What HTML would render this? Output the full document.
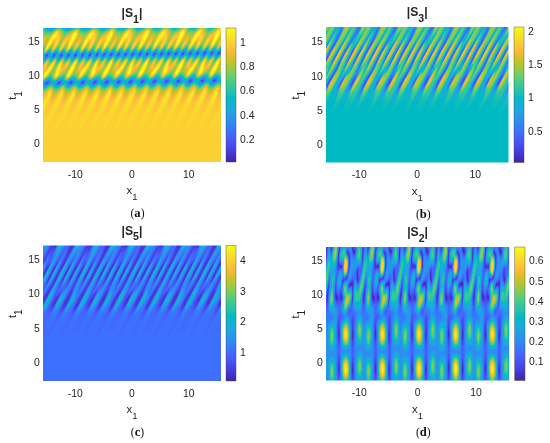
<!DOCTYPE html>
<html><head><meta charset="utf-8"><title>Figure</title>
<style>
html,body{margin:0;padding:0;background:#fff}
svg{display:block}
.t{font-family:"Liberation Sans",sans-serif;fill:#262626}
.s{font-family:"Liberation Serif",serif;fill:#111}
</style></head><body>
<svg width="550" height="443" viewBox="0 0 550 443">
<rect width="550" height="443" fill="#fff"/>
<defs><linearGradient id="pg" x1="0" y1="1" x2="0" y2="0"><stop offset="0.0000" stop-color="#3e26a8"/><stop offset="0.0476" stop-color="#4332cb"/><stop offset="0.0952" stop-color="#4741e5"/><stop offset="0.1429" stop-color="#4852f4"/><stop offset="0.1905" stop-color="#4563fd"/><stop offset="0.2381" stop-color="#3875fe"/><stop offset="0.2857" stop-color="#2e87f7"/><stop offset="0.3333" stop-color="#2797eb"/><stop offset="0.3810" stop-color="#20a5e3"/><stop offset="0.4286" stop-color="#12b1d6"/><stop offset="0.4762" stop-color="#02bac3"/><stop offset="0.5238" stop-color="#24c1ae"/><stop offset="0.5714" stop-color="#37c897"/><stop offset="0.6190" stop-color="#57cc7a"/><stop offset="0.6667" stop-color="#81cc59"/><stop offset="0.7143" stop-color="#abc739"/><stop offset="0.7619" stop-color="#d1bf27"/><stop offset="0.8095" stop-color="#f0ba36"/><stop offset="0.8571" stop-color="#fec338"/><stop offset="0.9048" stop-color="#fad62d"/><stop offset="0.9524" stop-color="#f5e924"/><stop offset="1.0000" stop-color="#f9fb15"/></linearGradient><clipPath id="cpa"><rect x="43" y="28" width="178" height="134"/></clipPath><clipPath id="cpb"><rect x="326" y="27" width="182.5" height="135.5"/></clipPath><clipPath id="cpc"><rect x="43" y="245.5" width="178" height="135.5"/></clipPath><clipPath id="cpd"><rect x="326" y="247" width="183.2" height="133.5"/></clipPath><filter id="bl" x="-2%" y="-2%" width="104%" height="104%"><feGaussianBlur stdDeviation="0.7"/></filter></defs>
<g clip-path="url(#cpa)"><g filter="url(#bl)">
<rect x="41" y="26" width="182" height="138" fill="#fccf30"/>
<g transform="translate(41.5,26)" fill="none" stroke-width="1">
<path stroke="#463cde" d="m70 28v1m7-1v1m7-1v1m72-2v1m7-1v1"/>
<path stroke="#4741e5" d="m5 29v1m22-1v1m7-1v1m7-1v1m0 26v1m7-28v1m8-2v1m7-1v1m28-1v1m10 26v1m5-29v1m7-1v1m0 27v1m7-29v1m7-1v1m15-1v1m7-1v1m21-1v1m3 26v1m4-28v1"/>
<path stroke="#4747eb" d="m5 57v1m1-2v1m4-57v1m2 28v1m6 26v1m1-28v1m1-1v1m9 26v1m1-1v1m4-29v1m15-1v1m4 27v1m2-28v1m10 26v1m12-2v2m12-2v1m9-28v1m1-2v1m6 0v1m1-1v1m7-1v1m7-1v1m5 26v1m2-28v1m7-2v1m1-1v1m2 27v1m12-2v1m12-1v1m17-29v1"/>
<path stroke="#484df0" d="m5 56v1m4-57v1m2-1v1m2 27v2m4 26v2m3-30v1m7-1v1m1-29v1m13 27v1m1 27v1m6-29v1m6 26v2m1-29v1m7 0v1m3 25v1m1-1v1m3-27v1m9 25v1m11 0v1m1-2v1m2-29v1m7 0v1m3 26v1m26-29v1m6 0v1m2 26v1m1-2v1m4-28v2m7 26v1m1-1v1m22-30v1m1 27v1"/>
<path stroke="#4852f4" d="m5 30v1m1-3v2m0 27v1m6-28v1m7-1v1m7-2v1m1-30v1m2-1v1m0 56v1m4-29v1m8 27v1m1-30v1m0 26v1m11-1v1m11 0v1m2-1v1m10-1v1m9-30v1m3 28v1m4-29v1m9 27v1m11-29v1m0 26v1m1-2v1m1-1v2m7-29v1m3 27v1m1-2v1m1-1v1m12-1v1m4-29v1m6 0v2m1-3v1m1 27v1m6-29v1m4 27v2m1-1v1m1-2v1m1-29v1m1-1v1m6-1v1m2 28v1m5-30v1"/>
<path stroke="#4758f8" d="m4 57v1m8-58v1m6 56v1m8-28v1m2 26v1m2-3v1m5-28v1m5 27v1m1-2v1m4-56v1m1-1v1m6 55v1m4-30v1m6 0v1m7-1v1m1-2v1m0 1v1m6-1v1m1-3v1m0 1v1m1-3v1m0 28v1m6-30v1m0 1v1m1-2v1m6 0v1m9 25v2m2-3v1m10 1v1m1-1v1m6-29v1m7 26v1m2-30v1m7-1v1m13 27v1m7-28v2m2-3v1m16 26v1m0 1v1m1-2v1m4-28v1"/>
<path stroke="#465efb" d="m7 56v1m1-57v1m8 56v1m2-3v1m1 0v1m7-57v1m2 27v1m0 27v1m2 0v1m3-28v1m7-2v1m0 27v1m7-58v1m2 26v1m3 29v1m1-1v1m3-29v1m7-30v1m0 26v1m0 1v1m1-30v1m7 26v1m7 0v1m0 25v1m5-26v1m5 25v1m2-2v1m0 1v1m1-30v1m7 1v1m3 24v1m4-26v1m9-3v1m7-2v1m3 29v1m1-1v1m1-29v1m10 25v1m2 0v1m12-30v1m0 26v1m6-26v1m5 24v1m1-27v2m0 24v1m1-26v1m7-1v1m1-2v1m3 25v1m3-26v1"/>
<path stroke="#4563fd" d="m4 30v1m1 27v1m1-4v1m13-1v1m2-28v1m8 26v1m1-56v1m1 54v2m4-30v1m5 2v1m2-4v1m0 29v1m1-3v1m1-56v1m3 28v1m2-1v1m6 25v1m9-29v1m0 29v1m1-1v1m2-3v1m9-28v1m0 26v1m0 1v1m13-4v1m1-26v1m8-3v1m7-1v1m2-1v1m5 1v1m2-4v1m5 2v1m17 26v1m6-29v1m6 27v1m1-29v1m0 24v1m1 1v1m14-29v1m5 0v1m2 26v1m7-31v1"/>
<path stroke="#4269fe" d="m4 56v1m0 1v1m1-31v1m2 26v1m2-55v1m1-1v1m1 28v1m1-3v1m4 27v1m1-2v1m2-28v1m8 1v1m1-4v1m6 2v1m7-1v1m1-2v1m1 26v1m4-27v1m1-1v1m7-1v1m7-31v1m2 54v1m1-56v1m1 53v1m5-27v1m6 25v1m0 2v1m2-4v2m2-56v1m1-1v1m1 27v1m5 28v1m3-4v2m11 0v1m1-3v1m3-29v1m1-1v1m8 27v1m5-29v1m4 27v1m2-26v1m1 24v1m6-27v1m2-1v1m0 26v1m2 0v1m1-4v1m2-26v1m3-3v1m4 28v1m10-29v1m2 27v1m3-1v1m2-31v1m5 1v1m2-3v1m1 27v1m4-27v2"/>
<path stroke="#3e6fff" d="m5 55v1m2 1v1m1-57v1m3-1v1m2-2v1m1 27v1m2 29v1m1-1v1m1-29v1m2-1v1m1-4v1m6-27v1m1-1v1m0 56v1m6-32v1m1 1v1m13-30v1m4 54v1m2-27v2m0 23v1m0 2v1m1-2v1m2-30v1m5 2v1m2-3v1m1 25v1m2-1v1m2-25v1m11-31v1m5 25v1m2 29v1m2 0v1m1-30v1m2-3v1m5 2v1m2-30v1m0 25v1m0 29v1m1-31v2m0 29v1m3-3v1m1-27v1m7 26v1m1-30v1m0 26v1m1-29v1m1 26v1m0 2v1m5-30v1m4 27v2m3-4v1m1-28v1m0 2v1m1-2v1m7 27v1m1-31v1m1 26v1m2 0v1m2-29v1m0 2v1m6 26v1m2-1v1m1-30v1m1 25v2m6-30v1m3 30v1m3-4v1m8 0v1m8-30v1"/>
<path stroke="#3875fe" d="m4 29v1m0 1v1m2-2v1m0 27v1m1-59v1m0 27v1m4 2v1m2-5v1m0 2v1m1-4v1m5 29v1m1-31v1m5-28v1m1 0v1m0 26v1m1-2v1m0 29v1m1-29v1m1 28v1m4-31v1m6 28v1m1-3v1m0 2v1m2-5v1m1-55v1m0 53v1m5-28v1m2-1v1m1 29v1m4-4v1m2-27v1m4-29v1m2 55v2m3-1v1m1-2v1m4-31v1m4 29v2m1-28v1m2-5v1m5-27v1m0 29v1m7-1v1m3-5v2m5-28v1m2-1v1m0 53v1m6-26v1m5 25v1m1 1v1m1-29v1m2 25v1m5-27v1m1-2v1m4 24v1m1-27v1m0 28v1m1-4v1m0 1v1m6-27v1m1-4v1m0 2v1m5 23v1m1-25v1m3-5v1m5 3v1m2-5v1m9 28v1m0 1v1m1-4v1m1 2v1m1-28v1m1 24v1m8 1v1m1-1v1m2-2v1m1-3v1m4-28v1"/>
<path stroke="#327cfc" d="m3 58v1m2-28v1m1-5v1m5 1v1m1-29v1m0 29v1m3 25v1m3-27v1m0 26v1m1-28v1m1 23v1m1-27v1m4 0v1m3 24v1m1-55v1m1 52v1m1-55v1m0 53v1m1-25v1m9-4v1m0 30v1m2-32v1m2-27v1m1-1v1m5 54v1m1 1v1m1-5v1m2-28v1m6 1v2m3-5v1m2-27v1m2 28v2m11-31v1m0 55v1m7-31v1m1 30v1m5-29v1m5-2v1m2 0v1m0 25v1m0 1v1m2-1v1m1-5v1m2-26v1m7 28v1m2-5v1m1-26v1m1 24v1m2-54v1m7 56v1m5-32v1m13-2v1m1 1v1m4 0v1m0 25v1m1-29v1m0 26v1m7-28v1m0 2v1m1-5v1m16-1v2m2 25v1m1 1v1"/>
<path stroke="#2f81fa" d="m0 27v2m3 28v1m4-57v1m0 25v1m0 26v1m1 0v2m7 1v1m3-30v1m1 24v1m1 1v1m5-56v1m1 29v1m1 24v1m0 1v1m4-2v1m1-3v1m1-25v1m6 24v1m0 1v1m1-31v1m0 2v1m1 22v1m3-54v1m3-1v1m0 26v1m2-29v1m1 25v1m0 1v1m3 29v1m3-4v1m1-30v1m5-26v1m1-1v1m1 56v1m5-32v1m1-2v1m8 26v1m0 3v1m6-58v1m2 26v1m1 27v1m1-2v1m2-2v1m1-24v1m0 22v1m0 2v1m6-57v1m0 29v1m4-31v1m0 52v1m2-1v1m1-24v1m3-3v1m4 0v1m2 27v1m3-58v1m2-1v1m3 24v1m1 0v1m1 30v1m5-33v1m1-1v1m5-26v1m1-1v1m0 24v1m0 28v1m1-30v1m0 1v1m0 25v1m2 2v1m1-2v1m1-29v1m7 1v1m2-5v1m1 26v1m4-25v2m8-4v1m0 25v1m1-28v1m0 26v1m2-28v1m4 3v1m4 22v1m0 3v1m2-5v1m1-24v1m1-5v1"/>
<path stroke="#2e87f7" d="m4 59v1m2-6v1m1-26v1m7-30v1m0 28v1m2 25v1m2-2v1m7-24v1m4 22v1m1 3v1m2-28v1m3-6v1m1 0v1m6-28v1m1 0v1m0 26v1m0 28v1m1-3v1m3-25v1m2-6v1m2 31v1m3-31v1m0 2v1m2-6v1m0 27v1m6-28v1m1 30v1m1-58v1m4 52v2m7-26v1m0 24v1m1-2v1m0 3v1m1-29v1m1-2v1m1-4v2m0 25v1m1 0v1m4-29v1m0 3v1m1-2v1m5 27v1m2-4v1m6-25v1m2-3v1m5 1v1m2-6v1m5 4v1m2-6v1m1-26v1m0 25v1m3 2v1m1-30v1m3 24v1m3 31v1m1-28v1m3-4v1m4-1v1m2 29v1m1-58v1m0 56v1m11-1v1m1-1v1m2-2v1m1-5v1m0 2v1m7-31v1m3 2v2m0 22v1m4-27v1m5-2v1m0 29v1m1-28v1m7-1v1m1-5v1"/>
<path stroke="#2d8cf3" d="m3 59v1m1-5v1m1 3v1m1-60v1m2 1v1m0 51v1m1-53v1m1-1v1m3-2v1m2 54v1m1 2v1m4-6v1m4-55v1m1 28v1m3-4v1m1 0v1m1-27v1m2 27v1m0 24v1m0 1v1m4-31v1m3 3v1m3-5v1m1-1v1m1 27v1m11 2v1m1-28v1m4-31v1m1 0v1m2 24v1m0 3v1m0 24v1m1-2v1m1 3v1m1-6v1m1-54v1m0 52v1m1-23v1m2-2v1m1-2v1m1-4v1m3 2v1m0 28v1m1-32v1m1-2v1m1-27v1m2 0v1m0 53v1m1-55v1m1 27v2m1-4v1m5 30v1m1-6v1m2-28v1m1 26v1m0 1v1m1-31v1m0 2v1m5 27v1m2-32v1m3 30v1m1-3v1m1-29v1m6 1v1m0 1v1m5 23v1m2-27v1m1 1v1m3 25v1m1-3v1m1-2v1m1-25v1m3 23v2m5-55v1m1 55v1m4-5v1m1-1v1m1-23v1m6 24v2m3-5v1m3-53v1m1-1v1m5 25v1m0 28v2m4-1v1m1-28v1m0 25v1m1-28v1m0 24v1m5-28v1m1 2v1m0 26v1m1-4v1m1-30v1m4 1v1m1 2v1m1-6v1"/>
<path stroke="#2b91ef" d="m0 29v1m3 1v1m0 24v1m1-25v1m2-32v1m5 0v1m3 23v1m1 32v1m2-6v1m0 4v1m4-34v1m5-25v1m1-1v1m1 56v1m1-32v1m3-29v1m4 27v1m3 2v1m3-2v1m0 27v1m1-6v1m1 2v1m2-27v1m2-30v1m1 28v1m2 24v1m4-25v1m0 21v1m1 2v1m5-29v1m0 2v1m1 25v1m2-29v1m1-29v1m0 24v2m3 0v1m4-2v1m2 29v1m3-5v1m0 4v1m2-58v1m1 51v1m2-53v1m4 23v1m0 30v2m1 0v1m2-29v1m1-4v1m6-28v1m2 0v1m0 55v1m1-57v1m0 52v1m3-55v1m0 56v1m2-5v1m0 1v1m2-31v1m2 0v1m2 29v2m1-4v1m1-2v1m2-54v1m0 51v1m1-28v1m0 1v1m0 24v1m0 3v1m1-4v1m2-24v1m4-4v1m0 29v1m3-28v1m1 21v1m1-1v1m6-23v1m1 24v1m0 1v1m3-6v1m0 4v1m3-5v2m3-31v1m4 2v1m2 1v1m1-2v1m1-29v1m0 24v2m1 26v1m2-54v1m0 26v1m2 1v1m1-6v1m0 3v1m1-5v1m1 28v1m0 3v1m1-1v1m4-34v1m0 27v1m1-29v1m5-25v1m0 53v1m1-31v1m1 2v1m0 24v1m3-25v2m0 25v1m1-3v1m3-27v1"/>
<path stroke="#2797eb" d="m0 26v1m5 27v1m2-53v1m0 23v1m0 31v1m1-2v1m2-27v1m1 0v1m1-6v1m2 30v1m4-27v1m1 25v1m1-2v1m2-31v1m2-27v1m1 0v1m1 54v2m1 0v1m1-58v1m1 23v1m9 30v2m1-4v1m0 3v1m1-1v1m1-29v1m1-31v1m0 51v1m4-23v1m2-1v1m2-32v1m0 56v2m2-5v1m1-25v2m1 21v1m0 4v1m2-6v1m1-25v1m5 1v1m0 24v1m0 1v1m3-6v1m2 3v1m1-5v1m0 2v1m1-26v1m2-7v1m3 30v1m1-26v1m1-1v1m3-7v1m0 2v1m4-28v1m2-2v1m0 24v1m1 2v1m3 0v1m0 28v1m1-28v1m2-7v1m5-25v1m1 24v1m1 31v1m1-58v1m0 51v1m0 4v1m1-33v1m3 0v1m4-3v1m2 29v1m1 2v1m1-1v1m2-2v1m2-3v1m3-30v1m1-27v1m2 54v1m3-28v1m2 27v1m1-5v1m4-53v1m3 28v1m2-30v1m2 28v1m3-1v1m2-5v1m2 31v1m1-28v1m2 26v1m1-34v1m2 27v1m0 1v1m2-25v1m4 23v1m3-28v1m0 2v1m3 23v1m4-27v2m1-30v1m2-1v1m0 56v1m1-1v1m2-7v1m0 4v1m2-5v1"/>
<path stroke="#259be8" d="m2 58v1m1-29v1m0 1v1m1-5v1m1-29v1m0 26v1m1 31v1m4-30v1m1-3v1m1-27v1m1 23v1m1 30v1m1-58v1m0 26v1m2 3v1m2-5v1m1 3v1m1 23v1m1-30v1m0 1v1m5 2v1m0 23v1m1-26v1m1 28v1m1-7v1m1-53v1m0 51v1m1-22v1m1-6v1m0 27v1m1-30v1m0 4v1m1-2v1m4-2v1m1 24v1m1-55v1m2 28v1m1-28v1m0 50v1m1-52v1m1-1v1m0 26v1m4-5v1m0 3v1m0 26v1m1 2v1m1-1v1m5-35v1m1 0v2m2-27v1m4 23v1m2-25v1m6 23v1m2 32v1m3-59v1m1 0v1m0 23v1m1 26v1m0 4v1m1-2v1m2-29v1m0 2v1m1-1v1m3 26v1m1-5v1m2-24v1m2 20v1m6-26v1m1 27v1m0 2v1m1-34v1m2-1v1m0 1v1m1 24v1m1-24v2m0 21v1m1-22v1m4-5v1m4-2v1m4-26v1m0 50v1m1-52v1m3 23v1m2-2v1m1 33v1m2-7v1m1-27v1m0 30v1m1-33v1m0 4v1m1-2v1m0 25v1m1-32v1m3 4v1m3 23v1m1-30v1m0 3v1m1-4v2m2 1v1m0 1v1m0 25v1m1-5v1m1-28v1m0 4v1m2-3v1m1-3v1m2 27v1m1-2v1m1-24v1m2-31v1m1 23v1m0 26v1m4-52v1m3 56v1m2-6v1m1 4v1m1-28v1m1 20v1m2-25v1m5 29v1m2-58v1m3 26v1m0 23v1m1 2v1m4-31v1"/>
<path stroke="#23a0e5" d="m2 57v1m0 1v1m3-59v1m1 0v1m0 28v1m1 21v1m1-27v1m0 25v1m1 1v2m1-25v1m3-2v1m1-31v1m0 57v1m1-34v1m0 1v1m0 26v1m2-26v1m0 1v1m1-5v1m0 30v1m1-28v1m0 20v1m1-28v1m0 26v1m1-24v1m0 23v1m0 1v1m2-57v1m2 31v1m1-6v1m0 28v1m0 2v1m2-6v1m1-53v1m2 55v1m1-31v1m0 24v1m0 3v1m1-58v1m0 53v1m3-30v1m2 30v1m3 2v1m2-58v1m2 52v1m4-55v1m2 24v2m2 1v1m0 23v1m4 0v2m2-56v1m2 1v1m1-1v1m1-1v1m0 56v1m1-1v1m1-35v1m0 2v1m1 29v1m1-29v2m1-32v1m1 53v2m3-28v1m3-1v1m0 25v1m9-54v1m2 53v1m2-3v1m1-26v1m1 23v1m1 4v1m1-6v1m0 3v1m1-3v1m1-30v2m1-27v1m1 0v1m0 27v2m1 0v1m4-31v1m0 56v1m2-59v1m1 51v1m6 5v1m1-28v1m2-32v1m0 24v1m0 4v1m0 21v1m1-24v1m1-29v1m3-1v1m0 25v1m2 2v1m1-2v1m3 28v1m1-28v1m4-4v1m3-1v1m0 1v1m1-30v1m1-1v1m0 28v1m0 23v1m1-54v1m0 56v1m3-59v1m2 25v1m0 28v1m2-32v1m2-1v1m4 27v1m2-2v1m1-25v1m4 2v1m3-4v1m4 23v1m2-1v1m4-52v1m0 26v1m1 2v1m0 24v2m4-33v2m0 25v1m2-22v1m1-1v1m3-8v1m1 1v1"/>
<path stroke="#20a5e3" d="m3 60v1m1-1v1m1-29v1m1-7v1m0 26v1m1-24v1m1-5v1m0 1v1m1 25v1m1-26v1m4 0v1m0 25v1m4-4v1m5-53v1m1 0v1m2 29v1m1-7v1m2 2v1m2 0v2m2 0v1m0 23v1m3-28v1m2 29v1m1-28v1m1-1v1m1-32v1m0 51v1m1-52v1m1 22v1m1 0v2m0 29v1m1-4v1m1-23v1m1-31v1m0 24v1m1-2v1m2 32v1m1-35v1m2 6v1m0 26v1m1-28v1m3 20v1m1-29v1m2 4v2m2 23v1m1-2v1m1-53v1m3 26v1m0 22v1m1-26v1m1-2v1m5 28v1m1 3v1m1-1v1m1-59v1m1 50v1m0 5v1m2-7v1m1 1v1m5-55v1m1 24v2m6 26v1m0 1v1m1-29v1m5 2v1m1-2v1m1 22v1m2-25v1m0 2v1m1 24v1m1-4v2m1-25v1m1-7v1m1-1v1m3 2v1m2 30v1m1-58v1m1 22v1m0 3v1m3 2v1m1-31v1m2-2v1m0 23v1m0 31v1m1-29v1m0 25v1m0 3v1m1-6v1m2-27v1m1 3v1m2-8v1m1 28v2m1-30v1m1-26v1m2 25v1m0 29v2m1-33v1m0 32v1m2-7v1m0 5v1m1-35v1m0 2v1m1 23v1m0 5v1m1-31v1m0 23v1m2 1v2m4 1v1m1-28v1m1 28v1m2-59v1m2 55v1m1-6v1m0 3v1m1-27v1m2-5v1m1-26v1m0 23v1m1 30v2m7-2v1m4-26v1m2 22v1m1-2v1m2-53v1m0 25v1m0 30v1m3-7v1m5 3v2"/>
<path stroke="#1ca9df" d="m1 26v2m1 28v1m1-28v1m0 25v1m2-54v1m2 0v1m1-1v1m0 25v1m1-27v1m1-1v1m2 28v1m1-31v1m1 22v1m1-1v1m0 34v1m1-61v1m0 53v1m0 5v1m1-32v1m4 23v1m1-54v1m0 24v1m0 3v1m2 0v2m1-4v1m1-26v1m1-1v1m2 21v1m0 27v1m1-52v1m0 56v1m1-31v1m0 2v1m1-32v1m3 23v1m5-26v1m0 26v1m1-2v1m2 25v1m0 5v1m1-31v1m0 23v1m1 0v1m0 2v1m1-29v1m1 3v1m2-8v1m0 31v1m1-3v1m1-56v1m0 27v1m0 25v1m3-28v1m1-2v1m0 25v1m1-1v1m0 4v1m1-2v1m1-29v1m1-28v1m1 0v1m0 26v1m1 27v1m1 1v1m2-7v1m2-2v1m1-52v1m0 26v1m0 3v1m1-1v1m0 19v1m1 0v1m0 2v1m1-32v1m3 31v1m1 1v1m2-7v1m2-24v1m1-29v1m0 26v1m1-28v1m0 23v2m1-26v1m0 50v1m0 1v1m1-54v1m3 53v2m1-34v1m1 2v1m0 31v1m1-1v1m1-28v1m1 25v1m1-28v1m1-2v1m1-7v1m0 4v1m3-2v1m0 2v1m1-30v1m0 53v2m1-56v1m0 51v1m2-31v1m1-1v1m0 3v1m2 28v1m2-3v1m2-27v1m2 26v2m1-4v1m2-24v1m2-8v1m1 26v1m2-23v2m0 22v2m4 0v1m0 1v1m2-33v2m2 31v1m2-8v1m1-1v1m1 0v1m1-29v1m0 1v1m2-26v1m1 53v1m2-32v1m1-24v1m3 29v1m1-1v1m4-5v1m1 27v1m0 1v1m1-28v1m0 27v1m2-34v1m0 32v1m3-58v1m1-1v1m1-1v1m0 26v1m0 1v1m0 22v1m1-28v1m3 27v1m0 2v1m1-35v1m0 29v1m1 4v1m2-8v1m1-27v1m1-2v1m0 31v1m2-34v1m0 28v2m1-30v2m1-26v1m2 0v1m0 52v1m0 2v1m1-57v1m2 21v1m3 2v1m1-2v1m0 29v1m1-32v1m0 27v2m3-31v1m0 2v1m1 27v1"/>
<path stroke="#18addb" d="m0 25v1m0 4v1m1-3v1m1 31v1m1-28v1m1-34v2m0 31v1m0 20v1m1 5v1m1-58v1m2 54v1m1-6v1m0 3v1m1-25v1m1-31v1m2 53v2m2-30v1m2 3v1m0 26v1m1-28v1m3-9v1m0 31v1m3-26v1m1-30v1m0 53v2m2 1v1m1-36v1m0 34v1m2-35v3m3 24v1m1-54v1m0 54v1m3-30v2m0 29v2m1-4v1m1-28v1m0 31v1m2-59v1m3 22v1m4-24v1m1 53v1m0 1v1m4-31v1m2 29v1m1-34v1m2-26v1m3 26v1m0 4v1m0 23v1m0 1v1m1-33v1m2 3v1m1-29v1m0 26v1m0 29v1m1-33v2m2 28v1m1-58v1m3 23v1m1 31v1m0 1v1m2-27v1m1-33v1m1 30v1m1-30v1m2 22v1m0 2v1m1 0v2m1-4v1m1-2v1m2-26v1m0 28v1m0 24v1m0 2v1m1-30v1m0 24v1m0 4v1m1-36v1m2 27v1m4-1v1m1-53v1m0 23v1m1-24v1m2 53v1m0 2v1m1-28v1m1-30v1m0 50v1m0 5v1m3-59v1m1 25v1m1-28v1m0 25v1m1 4v1m3-4v1m1 26v1m1-27v2m1 22v1m0 5v1m1-60v1m1 0v1m1 49v1m2-27v3m0 23v1m0 4v1m1-29v1m0 26v1m2-25v1m4-8v1m0 2v1m1 24v1m2-2v1m2 4v1m1-2v1m1-29v1m2-1v1m0 3v1m1-1v1m4 19v1m2-52v1m1 50v1m1 0v1m0 2v1m2-33v1m1-1v1m2 4v1m1-3v1m0 4v1m2-8v1m0 26v1m1-51v1m0 55v1m1-35v1m1 2v1m1 0v1m0 24v1m0 1v1m1-54v1m3 21v1m1 34v1m1-35v2m0 26v1m1-25v3m0 27v1m1-33v1m0 4v1m1 25v1m3-4v1m1-29v1m4 31v1m1-58v1m0 27v1m0 28v1m1-31v1m0 22v1m1-29v1m0 3v1m1-1v2m1 27v1m2-3v1m1-32v1m3 33v1"/>
<path stroke="#12b1d6" d="m1 25v1m0 31v3m6-35v1m1-1v1m0 26v1m1-24v2m1-3v1m0 26v2m3-1v1m0 2v1m1-5v1m0 4v1m1-60v1m2 51v1m3-2v1m0 5v1m1-59v1m1 0v1m0 52v3m1-55v1m1 0v1m0 25v1m1 26v1m0 2v1m1-5v1m0 4v1m1-7v1m1-52v1m1 26v1m1-2v1m1-2v1m0 4v1m0 18v1m1-20v1m0 18v1m1-52v1m0 55v1m1-4v1m0 1v1m3-32v1m0 2v1m0 27v1m1 3v1m1-7v1m1-54v1m0 58v1m2-36v1m0 5v1m0 20v1m0 6v1m1-30v1m1-28v1m0 25v1m1-27v1m0 24v4m1 23v1m4-55v1m1 22v1m0 35v1m1-8v1m1-21v1m1 18v1m0 6v1m2-29v1m1-2v1m0 21v1m1 1v2m2-28v1m0 3v1m1-30v1m1-1v1m1 21v1m0 5v1m2-8v1m0 27v1m1-27v1m0 2v1m1 28v1m3-28v1m0 22v2m1-32v1m0 5v1m2-6v2m1 2v3m2-31v1m0 30v1m1 19v1m0 6v1m2-36v1m0 26v1m1-1v1m1-24v1m0 2v1m0 20v1m0 3v1m1-25v1m1-31v1m1 22v1m0 5v1m3-4v1m0 24v1m1-25v2m1-4v1m0 31v1m1-34v1m0 5v1m1-8v1m1 25v1m1 4v1m1-29v1m2-27v1m2 56v1m2-58v1m0 49v1m0 6v1m2-34v4m0 21v1m0 6v1m1-27v1m0 18v1m1-1v1m1-27v1m0 26v1m1 1v2m3 2v1m1-31v1m0 2v1m0 27v1m2-8v1m0 6v1m3-3v1m1-56v1m0 21v1m0 3v1m1-27v1m0 24v1m0 3v1m0 20v1m3-52v1m1 52v1m0 3v1m1-36v1m1 35v1m1-32v4m3 25v1m2-7v1m1-52v1m1 0v1m2 0v1m0 51v1m0 3v1m1-6v1m3-53v1m0 21v1m0 4v1m0 29v1m1-33v4m1-4v1m1 29v1m2-3v1m3-1v1m1-24v1m0 21v1m2-54v1m1 0v1m1 27v1m1-2v1m0 21v1m1-27v2m0 1v1m2 3v1m1-31v1m1 53v1m3-33v1m0 2v1m1 0v1m0 3v1m3-2v1m0 19v1m1-28v1m0 5v1m0 20v1m1-23v1m0 22v1m1-29v1m2-23v1m0 24v1m1-2v1m1-2v1m0 5v1m2 27v1m2-59v1m0 25v1m0 2v2m0 19v1m1-20v1m0 18v1m2 0v1m1-23v1m1-2v1"/>
<path stroke="#08b5d0" d="m0 0v1m1 28v1m0 26v1m2-57v1m1 1v1m1 0v1m0 49v1m2-2v1m0 6v1m1-30v1m1-3v1m0 2v2m1 21v1m1-28v1m0 5v1m1-31v1m0 53v1m4-30v3m1-31v1m0 27v1m2 23v1m0 6v1m1-60v1m1 51v1m2-26v2m2 4v1m4 26v1m1-36v1m0 4v1m0 21v1m1-51v1m1 24v1m0 30v1m3-59v1m1 23v1m1 34v1m1-31v4m1-33v1m0 32v1m2-2v1m1-30v1m1-1v1m2 28v1m0 19v1m0 4v1m1-55v1m0 50v1m0 1v1m2-1v2m1-3v1m0 3v1m1-36v1m0 5v1m0 29v1m1-32v1m1-30v1m0 27v4m0 28v1m3-29v1m2-33v1m0 23v1m1-24v1m0 22v1m0 4v1m0 26v1m1-55v1m2 52v1m0 3v1m1-6v1m1-52v1m0 56v1m3-36v1m0 4v1m1-4v1m1-27v1m1 50v1m1-53v1m0 52v1m0 2v1m2-28v1m1-3v1m0 27v1m0 3v1m1-28v1m0 21v1m1-55v1m0 26v1m1-2v1m1-25v1m0 22v1m3-2v1m0 4v1m0 27v1m1-31v1m1 26v2m2-1v2m1-33v1m2-25v1m1 27v1m0 2v1m3 19v1m1 5v1m1-58v1m0 50v1m1 1v3m2-29v1m0 4v1m0 23v1m5-28v1m1-5v1m0 4v1m2 1v1m1-33v1m0 55v1m1-33v1m0 28v1m2-31v1m0 31v2m1-32v2m0 27v1m2-23v1m1-32v1m2 0v1m0 55v1m1-57v1m0 26v1m3-28v1m0 23v1m0 27v2m2-1v2m2-57v1m0 52v1m0 5v1m1-37v1m0 4v1m1-2v1m0 31v1m1-28v1m4-10v1m1-1v1m0 29v2m2 0v2m2-55v1m1 49v1m1-30v1m0 5v1m2-5v1m0 4v1m3 20v1m1 1v1m0 1v1m2-1v2m1 1v1m1-32v1m1 24v1m2-23v1m0 27v1m1-36v1m0 26v1m2-23v1m0 21v1m1-25v1m0 4v1m0 19v1m0 3v1m1-2v1m2-1v1m0 1v1m1-57v1m0 28v1m0 23v1m0 4v1m1-31v1m1-2v1m1 23v1m2-21v1m3 23v1m1-56v1m0 26v1m1-1v3m1 1v1m0 22v3m1-4v1m0 4v1m2-36v1m1-23v1m1 26v1m1-4v1m0 31v1m2-8v1m1-21v1m0 24v1m1-3v2m1-33v1m1-1v1m0 4v1m0 26v3m1-4v1"/>
<path stroke="#01b8ca" d="m0 56v2m1-58v1m0 59v1m1-61v1m0 28v4m0 22v1m1-55v1m0 26v1m0 32v1m1-1v1m2-2v1m1-30v1m1-28v1m1-1v1m0 22v1m0 24v1m1 4v1m1-2v2m1-32v1m0 29v1m0 1v1m1-4v1m1-54v1m1 21v1m0 5v1m0 23v1m1-54v1m0 24v2m0 3v1m1 2v1m1-35v1m0 26v1m1-28v1m2 0v1m1 0v1m0 27v1m0 22v1m0 3v1m1-32v1m0 2v1m0 26v1m1-29v1m0 4v1m0 22v2m1-54v1m1-1v1m2 26v1m0 21v1m1-51v1m2 23v1m2-2v1m0 25v1m1 0v1m0 3v1m1-3v2m1-57v1m0 29v1m0 25v2m1-34v1m0 4v1m0 25v1m1-56v1m2 1v1m0 50v1m1 6v1m3-37v1m0 5v1m0 20v1m1-25v1m1-1v1m0 5v1m1-31v1m0 51v2m1-2v1m1-54v1m0 28v1m1 22v1m2-28v1m0 4v1m1-33v1m0 26v1m1 5v1m2-34v1m0 50v1m1 5v1m1-5v1m1-28v4m1-27v1m0 52v2m2-26v1m0 27v1m2-37v1m0 35v1m2-59v1m0 21v1m0 6v1m0 27v1m1-27v1m0 17v1m1-1v1m1-20v1m0 24v1m2-4v3m1-2v3m1-34v1m0 3v1m1-1v1m0 31v1m1-8v1m0 6v1m3-10v1m1 6v1m2-27v1m1 20v1m0 2v1m1-25v1m0 22v2m1-55v1m0 54v1m1-4v1m0 4v1m2-37v1m0 5v1m1-3v1m0 4v1m2 18v1m2-28v1m2-24v1m1 0v1m0 24v3m1 25v1m0 1v1m1-55v1m0 22v1m0 5v1m0 21v1m0 4v1m1-35v1m3-3v1m0 35v1m1-36v1m0 6v1m1-31v1m0 24v1m1 30v1m1-7v1m2 2v2m1 1v1m1-34v1m0 2v1m1-1v1m0 4v1m1-33v1m2 1v1m1 27v1m1-8v1m0 26v1m1-22v1m0 20v1m1-25v1m0 24v1m0 4v1m1-25v1m0 20v1m1-29v1m0 28v2m1-32v1m0 29v1m0 2v1m2-29v1m2 2v1m1-7v1m0 24v1m1 6v1m2-9v1m1-51v1m0 28v1m1-2v1m0 26v1m1-29v3m1-28v1m0 51v1m0 2v1m2 1v1m1-58v1m0 27v1m0 28v1m3-59v1m0 22v1m0 6v1m1 0v1m0 17v1m0 6v1m1-58v1m0 24v1m2 26v1m1-24v1m0 24v2m1-28v1m0 25v1m1-31v4m1 31v1m1-1v1m1-59v1m0 29v1m4-9v1m0 32v1m2-4v1m0 1v1m1-2v2m1-26v1m0 26v1m2-36v1m1-1v1m0 5v1m1-3v1m1 31v1m1-9v1m3-1v1m1 2v2m1-54v1m0 24v1m0 3v1m1 26v1m1-56v1m1 49v1m3-31v1m0 27v1m1-20v1m1-7v1m1 5v1m2 20v1m1 0v2m1-2v1m1-28v1m0 31v1"/>
<path stroke="#02bac3" d="m0 58v1m1-35v1m0 5v1m1-3v1m0 4v1m0 27v1m1-28v1m1-8v1m1-2v1m1-23v1m0 27v1m1-29v1m2 21v1m0 6v1m0 24v1m1-55v1m0 48v1m1 1v1m1-1v1m1-31v1m0 34v1m1-30v1m1 29v1m1-37v1m0 6v2m0 27v1m2-10v1m0 7v1m1-35v1m1-26v1m0 30v1m1-2v1m1-8v1m0 27v1m1-50v1m0 21v1m0 4v1m0 24v1m0 1v1m1 0v1m1-32v1m0 27v1m0 4v1m2-57v1m0 27v1m2-9v1m1-1v1m0 6v1m1 2v1m0 24v1m1-58v1m2-2v1m0 23v1m1 5v1m0 22v1m0 2v1m1-3v1m0 2v1m1-59v1m0 59v1m1-33v1m0 4v1m1-33v1m1 31v1m1-31v1m2 20v1m0 26v1m1 6v1m1-26v1m0 17v1m1 1v1m0 3v1m1-32v1m0 30v1m1-26v1m0 25v1m3-58v1m1 23v2m0 6v1m1 18v1m0 7v1m1-61v1m1-1v1m0 50v1m2-51v1m0 49v1m1 0v1m1-28v1m0 4v1m0 24v2m1-2v1m0 2v1m3-6v1m1-51v1m1 26v1m1 1v1m0 18v1m2-26v1m0 6v1m1-33v1m2-2v1m1 22v1m1 5v1m0 24v1m1-55v1m1 32v1m1-32v1m0 57v1m2-58v1m0 20v1m1-22v1m0 26v1m1-28v1m1-1v1m0 22v1m0 24v1m1-49v1m1 50v1m1-1v1m0 3v1m2-58v1m0 21v1m0 36v1m1-1v1m1-61v1m0 25v1m0 6v1m0 18v1m1-20v1m2 24v1m1-59v1m2 22v1m0 5v1m0 22v1m0 3v1m1-31v1m0 3v1m0 23v3m1-54v1m0 54v1m2-56v1m0 49v1m1-30v1m1 5v1m1-29v1m0 48v1m1-20v1m4-33v1m0 51v1m0 3v1m1-34v1m0 32v1m1-3v1m1-32v1m0 4v1m0 30v1m1-7v1m1-28v1m1-2v1m1 5v1m0 19v1m0 7v1m3-37v1m1 8v1m2-31v1m0 53v1m2-56v1m0 51v1m0 5v1m2-8v1m1-27v1m2-2v1m1-2v1m0 6v1m0 18v1m1-21v1m1 19v1m0 5v1m1-56v1m0 50v1m1-27v1m0 3v1m0 23v2m1-30v1m0 5v1m1 26v1m1-29v1m2 19v1m0 7v1m1-31v1m1-7v1m0 8v1m0 17v1m2-1v1m1-27v1m0 31v1m1-27v1m1 22v1m1-32v1m0 34v1m1-35v1m0 4v1m0 24v1m1-28v1m0 5v1m1-33v1m1 50v1m2-50v1m1-1v1m0 54v1m1-56v1m0 26v1m1-28v1m0 47v1m1-26v1m0 26v1m1-22v1m0 21v1m1-53v1m0 51v1m2-2v1m0 6v1m1-1v1m1-28v1m1-8v1m0 6v1m3 23v1m1-35v1m1-1v1m0 29v1m0 2v1m1-2v2m1-54v1m0 50v1m1-23v1m1-30v1m2 19v1m1-22v1m0 56v1m1-35v1m1-25v1m1 55v1m1-7v1m1 4v1m1-1v1m1 1v1m1-34v2m0 1v2"/>
<path stroke="#0bbdbd" d="m0 1v1m0 22v1m0 30v1m1-55v1m0 53v1m1-55v1m1 0v1m0 51v1m1-52v1m1 0v1m0 28v1m1 18v1m2-29v1m0 6v1m0 19v1m1-1v1m1-25v1m0 6v1m1-31v1m1 54v1m1-57v1m1 20v1m0 29v1m0 6v1m2-38v1m0 9v1m0 18v1m1-53v1m2-1v1m0 31v1m1-9v1m1 25v1m0 6v1m2-5v1m1-51v1m0 50v1m2-30v1m0 6v1m0 20v1m0 6v1m1-1v1m1-1v1m1-10v1m1-50v1m0 28v2m1 17v1m1-1v1m1-19v1m0 24v1m1-27v1m1-9v1m3 29v1m0 6v1m1-35v1m0 33v1m2-10v1m4-27v1m2 27v1m2-1v1m0 5v1m2-38v1m0 6v1m0 22v1m1-30v1m1 9v1m1-9v1m2 31v1m2-57v1m0 54v1m1-55v1m0 20v1m0 29v1m0 2v1m1-31v1m0 5v1m1-30v1m0 28v1m0 20v1m0 5v1m3-9v1m2-20v1m1-32v1m0 23v1m1 31v1m1-8v1m1 0v1m0 4v1m1-5v1m0 3v1m1-58v1m0 53v1m0 3v1m1-59v1m0 22v1m1 3v1m0 5v1m1-33v1m1 50v1m1-50v1m1 55v1m2-37v1m0 6v1m0 19v1m1-18v1m0 23v1m1-32v1m0 25v1m1 4v1m3-5v1m2-29v1m0 34v1m1-35v1m1 32v1m1-60v1m1 49v1m1-50v1m0 21v1m0 26v1m1 0v1m1-28v2m0 5v1m1 22v1m2 5v1m1-58v1m0 56v1m3-38v1m0 9v1m1-1v1m0 16v1m0 7v1m1-58v1m0 48v1m3 2v1m1-25v1m0 28v1m1-30v1m1 30v1m1-1v1m1-59v1m0 29v1m1-9v1m3 5v1m0 26v1m1-8v1m1 1v1m0 3v1m1-4v1m1 4v1m1-36v1m0 6v1m2-31v1m0 21v1m0 6v1m1-5v1m0 7v1m1 25v1m1-28v1m2-33v1m2 50v1m1-50v1m0 22v1m0 5v1m0 21v1m0 2v1m1 1v1m1-56v1m0 21v1m0 27v1m3-52v1m1 19v1m1 35v1m1-34v1m2-26v1m0 30v1m0 18v1m1-28v1m0 27v1m1 4v1m1-4v1m1-25v1m0 29v1m2-28v1m1 26v1m1-58v1m2 19v1m0 6v1m0 19v1m1-20v1m0 18v1m1-25v1m0 6v1m1-31v1m1 21v1m0 31v1m3-57v1m2 24v1m0 33v1m1-10v1m2 6v1m1-9v1m1-50v1m1 0v1m0 26v1m0 22v1m1-27v1m0 5v1m0 21v1m3 5v1m1-9v1m0 7v1m1-31v1m1-1v1m1-7v1m0 8v1m1-1v1m0 16v1m1-26v1m0 24v1m2 1v1m1 0v1m1-32v1m1 0v2m0 5v1"/>
<path stroke="#19bfb6" d="m0 31v1m0 27v1m1 1v1m1-35v1m0 6v1m2-1v1m1 26v1m1-37v1m2 33v1m1-35v1m0 8v1m1 17v1m0 5v1m1-5v1m0 3v1m2-27v1m2-31v1m2 24v1m0 33v1m1-61v1m0 32v1m2 16v1m1-50v1m0 21v1m1-22v1m0 47v1m1-28v1m0 6v1m1-5v1m0 31v1m3-35v1m1-22v1m1 26v1m1 2v1m0 25v1m1-35v1m2 24v1m1 0v1m1-52v1m0 51v1m1 0v1m0 4v1m1-37v1m0 6v1m1-30v1m0 25v1m0 6v1m1-33v1m0 31v1m1-32v1m0 57v1m2-58v1m1-1v1m0 54v1m1-56v1m0 26v1m0 18v1m1-47v1m0 20v1m1-22v1m0 47v1m1-20v1m1-31v1m0 21v1m0 28v1m0 4v1m1-36v1m1-23v1m1 58v1m1-61v1m0 21v1m0 10v1m3 24v1m1-59v1m2 21v1m0 6v1m0 20v1m1-21v1m1-28v1m0 49v1m0 4v1m2-56v1m3-2v1m0 19v1m0 36v1m1-38v1m3 1v1m4 34v1m5-30v1m1-9v1m0 26v1m2-26v1m0 24v1m1-18v1m0 23v1m1-55v1m2 56v1m1-31v1m1-9v1m0 7v1m1-8v2m1-25v1m0 50v1m1-52v1m3 29v1m0 26v1m1-56v1m1 0v1m0 28v1m0 20v1m0 3v1m1-32v1m1 33v1m2-30v1m0 20v1m1-30v1m0 36v1m1-31v1m1-29v1m0 47v1m2-26v1m1 31v1m1-7v1m1-52v1m0 29v1m0 26v1m1-36v1m0 30v1m1-32v1m0 30v1m1-54v1m0 25v1m0 6v1m1-33v1m0 50v1m3-50v1m0 46v1m1-48v1m1-1v1m0 45v1m1-47v1m0 21v1m2 31v1m1-27v1m0 21v1m2-32v1m0 37v1m1-1v1m1-37v1m0 26v1m1-19v1m1 16v1m2-28v1m0 33v1m2-36v1m0 6v1m0 26v1m1-33v1m1-22v1m0 49v1m1-22v1m1-30v1m0 20v1m3 25v1m1-29v1m0 10v1m1-33v1m1 30v1m0 24v1m2-2v1m1-35v1m0 29v1m1 5v1m1-37v1m1 29v1m1-52v1m0 23v1m1-24v1m1 47v1m1 7v1m2-37v1m0 8v1m1 24v1m1-1v1m2-34v1m0 34v1m1-7v1m0 6v1m2-39v1m0 7v1m0 21v1m3-28v1m1 24v1m2-1v1m2-48v1m0 53v1m1-32v1m0 32v1m1 0v1m2-58v1m1 47v1m2-29v1m0 26v1m1 7v1m1-58v1m3 55v1m1-29v1m0 23v1m0 5v1m1-29v1m0 21v1"/>
<path stroke="#24c1ae" d="m1 23v1m0 7v1m1-7v2m0 35v1m1-1v1m1-59v1m0 48v1m3-30v1m0 26v1m1-47v1m1-1v1m0 18v1m3 8v1m1 27v1m2-39v1m0 7v1m1-9v1m0 11v1m1-1v1m0 16v1m2-2v1m1 7v1m2-2v1m1-55v1m0 27v1m0 20v1m0 4v1m1-54v1m0 28v1m1-30v1m0 55v1m1-57v1m2 18v1m2-2v1m0 27v1m1-49v1m1 22v1m0 7v1m1-33v1m1 55v1m1-1v1m1-58v1m0 21v1m1-23v1m0 52v1m1-29v1m1 26v1m1-28v1m1-23v1m1 46v1m0 8v1m1-30v1m1-9v1m1 0v1m0 9v1m0 15v1m0 7v1m2-1v1m3-36v1m0 37v1m2-10v1m0 8v1m2-11v1m1-51v1m0 23v1m2-24v1m0 47v1m2-28v1m0 8v1m0 20v1m2-28v1m1 34v1m1-58v1m0 56v1m1-31v1m1 19v1m1-18v1m1-1v1m0 15v1m0 8v1m1-58v1m0 47v1m2-50v1m0 22v1m0 26v1m1-29v1m1 6v1m0 28v1m1-38v1m0 7v1m1-30v1m0 24v1m0 7v1m0 18v1m0 7v1m1-60v1m0 23v1m0 34v1m1-59v1m1 28v1m0 18v1m0 8v1m3-57v1m0 26v1m0 26v1m1-35v1m1 26v1m1-27v1m0 27v1m1 5v1m1-58v1m0 50v1m2-53v1m0 50v1m1-19v1m1 25v1m1-28v1m1-2v1m0 17v1m1-50v1m0 29v1m2 18v1m0 6v1m1-35v1m1-20v1m0 28v1m0 25v1m1-56v1m0 48v1m1-22v1m2-30v1m2 18v1m0 36v1m1-35v1m2-25v1m0 48v1m1-20v1m0 25v1m1-6v1m1-53v1m0 58v1m1-60v1m0 29v1m0 29v1m2-28v1m1 26v1m1-58v1m1 19v1m1 6v1m0 27v1m1-37v1m0 8v1m1 1v1m0 15v1m1-47v1m0 21v1m0 25v1m1-20v1m1-31v1m2 49v1m1-23v1m1-31v1m0 21v2m0 36v1m3-61v1m1 48v1m1-49v1m0 20v1m0 26v1m1-48v1m0 47v1m1-48v1m0 19v1m0 8v1m0 24v1m1 1v1m2-8v1m0 7v1m1-38v1m0 36v1m2-59v1m0 27v1m0 28v1m2-11v1m1-1v1m2-50v1m1 56v1m2-28v2m1-32v1m0 59v1m2-37v1m4 23v1m1-25v1m0 24v1m1-18v1m0 18v1m1-50v1m0 49v1m0 4v1m2-36v1m1 6v1m1 0v2m1-8v1m0 8v1m2 24v1m1-36v1m1-24v1m1 28v1m0 26v1m1-36v1m0 28v1m1-28v2m0 27v1m1-50v1m0 28v1m1-30v1m0 48v1m3 6v1m1-39v1m1-21v1m1 22v1m2-2v1m0 25v1m0 6v1m1-35v1m0 27v1m3-30v1m0 9v1m0 27v1"/>
<path stroke="#2cc4a7" d="m0 54v1m0 5v1m2-59v1m0 21v1m0 10v1m0 18v1m1-52v1m0 23v1m0 7v1m1 26v1m1-58v1m1-1v1m1-1v1m0 54v1m1-29v1m0 17v1m1-1v1m1-46v1m0 45v1m1-18v1m0 24v1m1-56v1m0 49v1m0 5v1m1-7v1m1 7v1m1-10v1m0 8v1m5-61v1m2 20v1m0 7v1m1-9v1m0 9v1m1 20v1m0 5v1m1-27v1m0 19v1m2-2v1m2-50v1m0 56v1m1-27v1m1-12v2m0 9v1m1 23v1m2-9v1m3-21v1m0 29v1m1-37v1m2-22v1m1 20v1m3 6v1m2-7v1m0 7v1m0 16v1m0 6v1m1-55v1m0 48v1m2 7v1m1-31v1m0 21v1m1-23v1m1-10v1m0 12v1m1-35v1m0 24v1m1-26v1m0 58v1m2-37v1m0 25v1m1 7v1m1-56v1m0 46v1m1-47v1m0 28v1m0 24v1m1-54v1m0 20v1m1-22v1m0 55v1m1-9v1m2 7v1m1-31v1m1-29v1m1 21v1m2 24v1m0 7v1m2-7v1m0 5v1m1-6v1m1-23v1m3 1v1m1-30v1m1-1v1m1-1v1m1 27v1m0 16v1m1-46v1m0 18v1m0 25v1m1-46v1m1 53v1m1-6v1m1-23v1m1 29v1m1-1v1m1-40v1m1 11v1m1-10v1m2 32v1m1-57v1m1 19v1m0 7v1m1 2v1m1 19v1m2-50v1m2 46v1m1-30v1m1 11v1m1-33v1m1 30v1m1-2v1m4-2v2m2-31v1m1 0v1m0 47v1m3-3v1m1-18v1m1-9v1m0 32v1m1-1v1m1-6v1m1 6v1m1 0v1m1-60v1m1 19v1m0 9v2m1 1v1m1-35v1m0 24v1m1-26v1m1 57v1m3-10v1m1-28v1m0 29v1m1-49v1m0 20v1m1 34v1m2-58v1m1 18v1m0 7v1m2 18v1m1-17v1m1-33v1m1 47v1m1 0v1m2-30v1m0 7v1m0 22v1m0 6v1m1-39v1m0 10v1m0 19v1m0 7v1m1-36v1m0 7v1m1 26v1m2-58v1m0 19v1m0 35v1m1-57v1m0 26v1m0 18v1m1-47v1m1-1v1m0 28v1m0 24v1m1-55v1m0 44v1m3 3v1m1-52v1m1 19v1m0 38v1m1-61v1m0 31v2m0 26v1m1-40v3m1 35v1m1-11v1m2-28v1m1-22v1m0 46v1m1-47v1m0 26v1m0 19v1m0 6v1m1-54v1m0 18v1m0 9v1m0 24v1m1-6v1m1-29v1m2 5v1m1-29v1m1 27v2m0 17v1m1-29v1m0 11v1m0 24v1m1-11v1m2-49v1m1 55v1m1-36v1m0 7v1m0 21v1m0 5v1m2-26v1"/>
<path stroke="#31c69f" d="m1 54v1m1-32v1m3 28v1m1 8v1m1-30v1m2 2v1m0 23v1m2-34v1m0 26v1m3-51v1m2-2v1m0 19v1m0 13v1m0 25v1m1-37v1m2-25v1m0 57v1m2-58v1m0 46v1m1-47v1m0 45v1m1-46v1m0 28v1m0 17v1m1-27v1m2 35v1m1-58v1m0 56v1m1-11v1m1-30v1m2-1v1m0 26v1m1-1v1m1-1v1m1-49v1m1 49v1m1 7v1m1-39v1m1-21v1m0 20v2m0 10v1m0 26v1m1-60v1m0 58v1m2-2v1m1-38v1m0 7v1m1-28v1m0 44v1m1-46v1m0 27v1m1-29v1m0 17v1m0 25v1m1 0v1m2 9v1m1-58v1m2 18v1m2 38v1m2-12v1m1-49v1m1 20v1m0 7v1m1 26v1m1-7v1m1-19v1m0 25v1m2-36v1m1-2v1m0 7v1m1-29v1m2 17v1m0 12v1m0 14v1m0 9v1m1-38v2m4-24v1m0 29v1m1-10v1m0 37v1m1-60v1m0 30v1m0 20v1m0 7v1m1-38v2m1 8v1m1-31v1m0 56v1m2-12v1m1 8v1m1-38v1m0 10v1m1 0v1m1 15v1m2-48v1m0 20v1m0 7v1m1-10v1m1-2v1m1 8v1m0 1v2m1-14v1m0 13v1m0 25v1m2-12v1m1-50v1m1 47v1m1-1v1m1-47v1m0 45v1m1-46v1m0 17v1m0 29v1m0 5v1m1 1v1m1-28v1m1 27v1m1-1v1m2-59v1m0 27v1m0 18v1m0 9v1m2-37v1m0 9v1m0 14v1m1-1v1m0 8v1m1-35v1m1-2v1m0 26v1m1 7v1m2-38v1m0 11v1m1-33v1m0 23v1m0 8v1m0 26v1m1-1v1m3-3v1m1-56v1m0 17v1m1-19v1m0 28v1m0 14v1m1-45v1m0 18v1m0 24v1m1-16v1m0 16v1m1-48v1m0 54v1m3-29v1m1 2v2m1-14v1m1 28v1m1 8v1m1-11v1m1-49v1m1 55v1m1-1v1m1-25v1m1-1v1m1-30v1m2 46v1m1 8v1m1-30v3m1-32v1m0 18v1m0 12v1m1-11v1m0 33v1m1-35v1m1 32v1m2-58v1m0 50v1m2-52v1m0 32v1m2-32v1m0 48v1m1-49v1m1 27v1m1-10v1m1 25v1m1-28v1m1 1v1m1-21v1m0 46v1m2 8v1m1 0v1m2-27v1m1 15v1m2-19v1m1-33v1m1 29v1m0 17v1m0 8v1m2-10v1m1-28v1m1 37v1m2-57v1m0 19v1m0 7v1m0 28v1m1-1v1m2-29v2m2-33v1m1 46v1m2 0v1m2-30v1m0 38v1m1-40v1"/>
<path stroke="#37c897" d="m0 2v1m0 20v1m1-22v1m0 29v1m0 29v1m1-41v1m0 13v1m1-33v1m1 0v1m4 17v1m0 9v1m1-11v1m0 25v1m1-24v1m0 8v1m0 14v1m0 8v1m1-55v1m2 56v1m2-31v1m3-7v1m0 24v1m0 9v1m2-12v1m1 8v1m2-9v1m0 7v1m1-54v1m0 28v1m0 25v1m1-56v1m0 55v1m3-31v1m0 29v1m1-31v1m1-29v1m0 31v1m1 23v1m1-58v1m3 55v1m1-29v1m0 21v1m1-22v2m1-12v1m2 11v1m0 17v1m1-48v1m0 27v1m1-29v1m1 17v1m1 10v1m0 14v1m0 9v1m2-55v1m1 46v1m0 6v1m1-7v1m1-1v1m1 8v1m1-61v1m0 29v1m0 1v2m0 26v1m1-42v1m1 13v1m0 15v1m1-18v1m1-2v1m1-2v1m1-30v1m0 45v1m1-46v1m0 17v1m0 8v1m0 17v1m1-45v1m0 16v1m0 11v1m0 16v1m1 1v1m2-49v1m0 27v1m2-11v1m3-2v1m1 2v1m0 23v1m1-48v1m1 29v1m0 17v1m0 7v1m1-8v1m1-51v1m1 19v1m0 11v2m1-13v2m0 11v1m1-33v1m0 48v1m1-28v1m3 5v1m0 17v1m1-16v1m1-13v1m0 25v1m0 9v1m1-34v1m0 32v1m1-26v1m0 18v1m1 7v1m1 0v1m1-60v1m1 18v1m0 10v1m0 2v1m1-35v1m0 49v1m1-27v1m2-2v1m0 34v1m1-37v1m3 27v1m1-47v1m0 19v1m1-21v1m0 19v1m0 35v1m2-58v1m2 27v3m1-14v1m0 27v1m1-27v1m2 25v1m1-49v1m1 20v1m0 28v1m1-31v1m0 8v1m0 21v1m0 7v1m1-27v1m0 26v1m1-38v1m0 27v1m1-50v1m0 21v1m2-22v1m0 45v1m0 9v1m1-57v1m3 17v1m1 26v1m1-26v1m2-23v1m0 49v1m1 8v1m1-27v1m0 15v1m0 9v1m1-42v1m1 39v1m4-59v1m0 27v1m0 17v1m1-46v1m0 17v1m0 8v1m0 17v1m1-45v1m0 16v1m0 29v1m0 6v1m1 1v1m1-9v1m1-49v1m2-2v1m0 46v1m1-30v1m0 12v1m1 24v1m1-12v1m1-1v1m2 0v1m0 7v1m1 0v1m1-59v1m1 19v1m1-20v1m1 31v1m1-2v1m0 27v1m3-31v1m0 27v1m1-26v1m0 13v1m1-26v1m0 10v1m0 13v1m0 9v1m1-34v1m0 24v1m0 7v1m1-7v1m0 6v1m1-57v1m1 27v1m1 20v1m1-32v1m1-21v1m0 19v1m0 13v1m0 25v1m1-37v1m0 8v1m1-34v1m1 30v1m1-31v1m1 19v1m1 8v1m1-27v1m0 46v1m0 6v1m1-55v1m1 27v1m0 27v1m1-10v1m1-49v1m0 18v1m2-21v1m0 31v1m0 24v1m1-40v1m0 27v1m2-17v1m0 24v1m1-27v1m0 16v1m1-19v1m2-2v1m1 3v1m0 26v1"/>
<path stroke="#3fca8e" d="m0 53v1m0 7v1m1-40v1m0 10v1m1 29v1m1-11v1m0 9v1m2-58v1m0 55v1m1-57v1m0 44v1m1-46v1m1-1v1m0 27v2m1-30v1m1 42v1m1 2v1m1-28v1m0 35v1m1-38v1m1-2v1m1-2v1m0 12v3m0 25v1m1-12v1m1-51v1m0 19v4m0 36v1m1-61v1m2 0v1m2 45v1m1-44v1m0 15v1m0 12v1m0 14v1m1-26v1m1 0v1m1-21v1m2-2v1m1 45v1m1-30v1m0 38v1m1-40v1m1 26v1m1-25v1m0 33v1m1-10v1m1 0v1m1 9v1m1-28v2m0 26v1m1-42v1m0 31v1m1-50v1m0 21v1m0 8v1m1-31v1m0 56v1m1-12v1m2 8v1m2-39v1m0 12v1m0 12v1m1-1v2m2-46v1m0 56v1m1-30v1m2 0v1m0 2v1m0 15v1m1-17v1m0 25v1m1-38v1m2-24v1m1 56v1m3-10v1m0 8v1m1-54v1m0 18v1m0 35v1m1-28v1m0 18v1m1 8v1m1-11v1m0 9v1m2-59v1m0 17v1m0 9v4m0 25v1m2-59v1m0 31v1m0 13v1m1-16v1m0 24v1m1-27v1m0 15v1m2 9v1m2-25v1m1-34v1m0 18v1m0 40v1m1-59v1m0 57v1m2-58v1m0 18v1m1-20v1m0 17v1m0 36v1m1-56v1m1-1v1m0 42v1m1-44v1m1 42v2m1-46v1m0 54v1m3-8v1m0 9v1m1-27v1m2-36v1m1-1v1m0 58v1m1-12v1m1-48v1m1 0v1m0 18v1m0 35v1m1-55v1m0 43v1m1-44v1m0 15v1m0 12v1m0 15v1m0 8v1m1-26v1m2 17v1m2-22v1m0 29v1m1-27v1m1-33v1m0 31v1m1-15v2m0 36v1m1-58v1m0 45v1m1 9v1m1-10v1m4-29v3m2-20v1m2 26v1m0 17v1m2-29v1m0 12v1m0 23v1m1-38v1m0 12v1m0 12v1m1-44v1m0 43v1m1 2v1m1 0v1m0 7v1m1 0v1m2-61v1m1 33v1m1-2v1m1-11v1m0 24v1m1-49v1m1 46v1m3-44v1m1-1v1m0 46v1m1 8v1m1-1v1m1-31v1m0 29v1m2-27v1m0 13v1m2-48v1m0 18v3m2-23v1m0 46v1m2-19v1m0 19v1m1 9v1m1-27v1m1-11v1m0 9v1m0 26v1m1-59v1m1 46v1m1-47v1m1-1v1m1-1v1m0 16v1m1-18v1m1-1v1m0 16v1m1 26v1m2-18v1m2-31v1m0 59v1m1-27v1m1-17v1m1-20v1m0 48v1m2-2v1m0 9v1m2-57v1m0 44v1m1-45v1m0 16v1m0 10v1m0 15v1m0 9v1m1-38v1m0 12v1m1-10v1m1-21v1m3 16v1m0 8v1m0 29v1m3-38v1m0 9v1m0 13v1m1-1v1m2-48v1m0 56v1m1-8v1m0 7v1m1-8v1m1-52v1m0 18v1m0 31v1"/>
<path stroke="#4acb84" d="m1 34v3m0 26v1m1-61v1m0 17v1m1-17v1m0 30v1m1-31v1m0 19v1m0 8v1m0 27v1m2-31v1m1 16v1m1-2v1m0 10v1m1-39v1m1-17v1m0 18v1m0 22v1m1 2v1m0 8v1m1-8v1m1-50v1m1 27v1m0 20v1m0 9v1m1-31v2m0 3v1m1-18v1m0 15v1m1-17v1m0 14v1m1-2v1m1-11v1m0 24v1m2-47v1m0 27v1m0 16v1m1-45v1m0 53v1m1-11v1m1-43v1m0 15v2m0 28v1m2-20v1m0 18v1m0 9v1m1-31v1m0 29v1m2-31v5m1 12v1m1-2v1m2-1v1m1-26v1m0 34v1m1-58v1m0 20v1m1-2v1m1-21v1m0 18v1m0 14v1m0 16v1m1-18v1m0 26v1m5-58v1m1-1v1m0 15v1m0 12v1m1-30v1m0 52v1m1-35v1m0 21v1m0 11v1m1-35v1m0 25v1m1-19v1m1 28v1m2-26v1m2-17v4m1 25v1m1 9v1m1-12v1m2-45v1m0 42v1m1-43v1m0 28v1m0 13v1m2-44v1m0 55v1m2-58v1m1 45v1m0 10v1m1-27v1m1-16v1m0 14v1m1-16v1m1 26v1m2 0v1m1 0v1m1 1v1m0 8v1m1 0v1m1-43v1m2-16v1m0 45v1m1 9v1m2-40v1m1 12v1m1-15v1m0 25v1m1-43v1m0 28v1m0 12v1m1 3v1m1 9v1m2-31v1m1 30v1m1-43v1m1-1v2m0 28v1m0 10v1m4-14v1m1-28v1m0 9v1m0 26v1m1-53v1m0 41v2m1-44v1m0 54v1m2-57v1m0 18v1m0 37v1m1-40v1m1-20v1m1 31v1m1 23v1m1-13v1m2-1v1m1 9v1m1-58v1m0 48v1m0 8v1m2-59v1m0 18v1m0 14v1m0 16v1m1-51v1m0 17v1m0 14v1m0 26v1m1-59v1m0 29v1m1-2v1m0 27v1m1-30v1m2-28v1m0 25v1m0 16v1m1-44v1m1-1v1m0 52v1m1-12v1m0 10v1m1 0v1m1-57v1m0 19v1m1-2v1m1-2v1m1-2v1m0 15v1m1 13v1m0 10v1m1-38v1m1 8v1m2-32v1m0 28v1m0 26v1m1-56v1m1 0v1m0 26v1m0 15v1m1-28v1m0 13v1m0 14v2m0 8v1m2-55v1m1 26v1m1-29v1m2-2v1m0 56v1m1-41v1m0 27v1m1-29v1m1 26v1m0 10v1m1-36v1m1-2v1m1-2v1m1-2v1m1 40v1m1-60v1m0 17v4m1 37v1m1-58v1m1 44v1m1 9v1m2-26v1m1 11v1m1 0v1m1-45v1m0 28v1m1 27v1m1 0v1m1-32v1m1 19v1m0 10v1m3-3v1m3-3v1m1-54v1m0 27v1m1-28v1m0 44v1m1-46v1m0 27v1m0 26v1m2 0v1m1-12v1m1-48v1m1 16v1m1-19v1m0 31v1m1-15v3m0 35v1m1-58v1m0 21v1m1 23v1m0 9v1m1-10v1m2 11v1m1-27v1"/>
<path stroke="#57cc7a" d="m0 32v1m0 19v1m0 9v1m1-26v1m1-1v1m1-12v1m2-2v1m0 8v1m2-28v1m0 53v1m1-55v1m0 28v1m1-30v1m0 28v1m0 11v1m1-26v2m0 22v1m2-43v1m0 56v1m1 0v1m2-61v1m1 59v1m1-44v1m0 30v1m2-18v1m1-11v1m0 8v1m0 26v1m1-38v1m1-2v1m0 9v1m1-26v1m0 40v1m0 11v1m1-39v1m0 39v1m1-56v1m0 27v1m0 27v1m2-58v1m2-2v1m0 56v1m2-59v1m0 16v1m0 14v1m1-12v1m0 9v1m0 24v1m1-58v1m1 45v1m1-18v1m0 17v1m0 9v1m1-59v1m0 49v1m1 10v1m1-61v1m0 16v1m1-16v1m0 57v1m1-58v1m1-1v1m1-1v1m0 43v1m0 10v1m1-30v1m0 16v1m4-45v1m0 28v1m0 25v1m3-58v1m0 18v1m0 40v1m1-43v1m0 41v1m1-62v1m0 17v1m0 30v1m1-32v1m1-19v1m0 22v1m0 35v1m2-59v1m1 0v1m0 54v1m2-53v1m0 13v1m0 26v1m0 11v1m1-54v1m0 14v3m0 10v1m2-30v1m3 30v1m0 12v1m1-47v1m0 44v1m1 10v1m1-58v1m1 44v1m1-47v1m2 28v1m1 4v1m1-34v1m1 1v1m0 19v1m1 36v1m3-57v1m1-1v1m0 52v1m1-25v1m1 10v1m2 5v1m1-50v1m0 58v1m1-26v1m1-1v1m1-2v1m0 25v1m1-44v1m0 2v3m0 10v1m2-34v1m1 45v1m1-18v1m1-27v1m0 26v1m0 14v1m1-1v1m1-24v1m0 27v1m1-47v1m0 55v1m2-1v1m1-41v1m1-2v1m0 39v1m2-42v1m1 3v1m0 22v1m2 0v1m2-48v1m0 59v1m1 0v1m1-44v1m1 31v1m0 10v1m1-58v1m0 18v1m1-20v1m1-1v1m1 53v1m1-13v1m1-2v1m1-23v1m0 21v1m3-16v1m1 4v2m0 24v1m1-1v1m1-62v1m0 17v1m1-1v3m1-21v1m1 21v1m0 8v1m0 15v1m0 10v1m1-38v1m1-2v1m0 25v1m1-43v1m0 26v2m0 24v1m1-53v1m0 40v2m1-43v1m0 17v1m0 36v1m1-38v1m0 8v1m3 27v1m2-27v1m1-2v1m0 12v1m1-15v1m1-2v1m0 14v1m1-17v1m0 16v1m1 0v1m0 9v1m1-30v1m0 20v1m1-51v1m0 17v1m0 15v1m1-17v1m0 31v1m1-48v1m0 19v1m2 35v1m1-13v1m1-44v1m0 25v1m1-27v1m0 14v1m1-1v1m1-17v1m0 28v1m0 11v2m0 11v1m1-9v1m0 8v1m1-9v1m1-1v1m1-18v3m1-18v1m2-1v1m0 40v1m1-13v1m1-48v1m1 0v1m0 44v1m1-45v1m1 29v1m0 12v1m1 0v3m0 9v1m2-9v1m0 9v1m1-58v1m1 56v1m1-27v1m0 13v1m1-15v1m0 12v1m1-30v1m0 39v1m1-41v1m1 26v1m3-47v1m0 48v1m1-50v1m0 29v1m1 30v1"/>
<path stroke="#64cd6f" d="m1 38v1m1 25v1m1-59v1m0 14v2m0 41v1m1-58v1m0 44v1m1-46v1m1-1v1m0 16v1m0 37v1m1-40v1m2 36v1m1-39v1m0 37v1m1-55v1m0 39v5m2 2v1m1-16v3m0 23v1m1-26v1m0 24v1m4-62v1m0 57v1m1-13v1m1-45v1m1 0v1m0 41v1m1-41v1m0 27v1m1-29v1m0 12v1m0 14v1m2-12v1m2 37v1m1-26v1m1-2v1m2 10v1m1-15v1m0 13v1m1-16v1m2 28v1m1-26v1m2-32v1m0 45v1m2 9v1m2-56v1m1-1v1m0 28v1m0 11v1m1-28v1m0 25v1m1-42v1m0 15v3m0 10v1m0 10v1m1-2v3m0 1v2m1-27v1m0 37v1m1-40v1m0 39v1m1-27v3m1-2v1m1-2v1m1-36v1m0 16v1m0 42v1m2-14v1m2-2v1m1-43v1m0 25v1m0 26v1m1-52v1m0 38v1m1-27v1m0 30v1m0 9v1m1-38v1m0 37v1m1-1v1m1-1v1m1-59v1m0 26v1m2 28v1m1-42v1m0 27v1m2-25v1m0 34v1m1-12v1m0 10v1m1-38v1m0 26v1m0 10v1m1-40v1m1-20v1m0 17v1m0 16v1m0 25v1m1-45v1m0 16v1m0 15v1m0 10v1m1-29v1m1-30v1m1-1v1m0 43v1m1-45v1m0 25v1m1-1v1m1-12v1m1-16v1m1 17v1m0 20v1m0 13v1m1-15v1m0 4v1m0 9v1m2-9v1m1-17v1m0 1v1m0 24v1m1-62v1m0 48v1m1-33v1m2 29v1m2-47v1m0 55v1m1-56v1m1 1v1m0 26v1m1-27v1m0 12v1m0 14v1m0 24v1m1-54v1m0 13v3m1 28v1m2-48v1m0 26v1m0 18v1m1-16v2m1-34v1m1 15v1m1-18v1m1 55v1m1-58v1m0 44v1m2 1v1m1 1v1m1-16v1m1-34v1m1 1v1m2 17v1m1-2v1m0 37v1m1-55v1m1-1v1m0 28v1m1-16v1m1 24v1m1-42v1m0 45v1m1 10v1m1 0v1m1-61v1m0 32v1m0 2v1m0 12v1m3-51v1m0 16v1m0 3v1m0 26v1m1 10v1m3-57v1m0 53v1m1-53v1m0 13v1m0 13v1m0 11v1m1-40v1m0 38v1m1-13v1m1 27v1m1-58v1m0 45v1m0 10v1m2-59v1m0 26v1m0 3v2m1-1v1m1-34v1m1 15v1m0 39v1m1-58v1m0 43v1m1 11v1m1-58v1m0 56v1m2 2v1m1 0v1m1-60v1m0 14v1m0 43v1m2-58v1m0 55v1m1-57v1m1-1v1m1 26v3m0 12v1m1-2v1m0 11v1m1-54v1m0 28v1m0 10v1m1-2v1m1-22v1m1 37v1m1-60v1m0 18v1m1-2v1m0 12v1m0 3v1m0 24v1m1-27v1m1-19v1m0 16v1m0 13v1m0 11v1m1-44v1m0 1v1m4 9v1m0 15v1m1-42v2m1-1v1m0 12v1m0 14v1m0 11v1m1 4v1m0 9v1m1-57v1m3 28v1m0 1v1m1 23v1m1-14v1m1-2v1m2-1v1m1 0v1m1-28v1m0 27v1m0 10v1m1-41v1m0 12v4m1-18v1m0 16v1"/>
<path stroke="#72cd64" d="m0 51v1m1-49v1m0 17v1m0 31v1m0 10v1m1-61v1m0 15v1m0 32v1m1-47v1m0 12v1m0 2v1m2 39v1m2-56v1m0 24v1m1-26v1m0 13v1m0 14v1m2-31v1m0 38v1m1-2v1m0 15v1m1-18v1m1-12v1m0 7v2m0 21v1m1-28v1m2 0v1m1-20v1m1-1v2m0 29v1m0 11v1m2-59v1m1 43v1m1-42v2m0 24v1m1-25v1m0 11v1m0 25v1m0 13v1m1-15v3m0 2v1m1 0v1m1-47v1m0 56v1m1-41v1m0 39v1m1-59v1m0 16v1m0 14v2m1-18v1m1-18v1m0 15v1m1 39v1m1-42v5m1 22v1m1 0v1m1 0v1m1 1v1m1-14v1m1-35v1m0 32v1m0 26v1m1-46v4m1-16v1m0 17v1m0 37v1m1-57v1m1-1v1m2 52v1m1-54v1m0 28v1m1-16v1m1 22v1m0 3v1m1-6v1m0 8v1m1-49v1m0 35v2m1-10v1m0 3v1m0 3v1m0 11v1m0 11v1m2-2v1m1-28v1m0 13v1m1-33v2m1-17v1m0 20v1m1 23v1m1-44v1m0 16v1m1-16v2m0 12v1m0 11v2m0 12v1m1-12v1m1-29v1m0 11v1m0 25v2m1-41v1m3 29v2m1 23v1m3-43v2m0 2v1m0 22v1m1-1v1m1-25v1m2 27v1m0 10v1m1-11v1m1-49v1m1 1v1m0 12v2m0 42v1m1-30v1m1-2v1m1 15v1m1-43v1m0 27v1m0 12v1m0 11v1m1-54v1m0 28v1m0 10v1m1-28v1m0 25v1m0 12v1m1-39v3m1 0v1m0 19v1m0 1v4m1-46v1m0 37v1m0 19v1m1-24v2m0 22v1m1-29v1m0 3v1m1-20v1m0 42v1m2-46v1m1-1v1m0 15v1m1 13v1m0 11v1m2-14v1m1-41v2m0 25v2m0 23v1m1-52v1m0 37v1m1-27v1m0 14v1m0 26v1m1-29v1m0 28v1m1-31v1m0 29v1m2-26v1m0 11v1m0 11v1m1-26v1m0 11v1m1-14v1m0 11v1m1-30v1m0 15v1m0 11v1m1-2v1m1-1v1m1 0v1m1-17v1m0 16v1m0 11v1m1-30v1m0 3v2m0 25v1m1-44v1m0 43v1m1-60v1m0 13v1m0 44v1m2-58v1m0 43v1m1-45v1m0 54v1m1-56v1m1 14v1m0 10v4m2-30v1m1-2v1m0 38v1m1-12v1m0 9v4m0 2v1m0 10v1m1-29v1m0 8v1m1-4v3m1-10v1m0 2v1m0 28v1m1-27v1m2-15v1m0 37v1m2-60v1m1 0v1m0 43v1m2-41v2m1 10v1m0 15v1m0 9v1m0 14v1m1-41v4m1-18v1m1 16v1m1 38v1m1-42v1m0 12v1m0 2v1m1-18v1m1-2v1m0 40v1m3-15v1m1 0v1m1 0v1m0 11v1m1-30v1m0 1v4m1-1v1m0 14v1m1-48v1m0 30v1m1-31v1m0 56v1m3-32v1m1-26v1m1-1v1m1 12v1m0 38v1m1-36v1m1 18v3m0 4v1m0 10v1m1-39v1m0 17v2m1-5v3m0 22v1m2-62v1m0 60v1m2-46v1m0 3v1m0 1v1m1-23v1m0 21v1m1 23v1m1 10v1m1-55v1m1 2v1m0 26v1m0 10v1m0 12v1m1-14v1m0 14v1m1-55v1m0 16v1m1 38v1m1-1v1m1-59v1m1 28v1m0 27v1m1-59v1m2-2v1m0 15v1m1 26v1m0 12v1m1-58v1m0 20v1m1-2v1m0 36v1m2-28v1m0 4v1m0 13v1m0 10v1m1-61v1m0 60v1"/>
<path stroke="#81cc59" d="m0 3v1m0 18v1m0 27v1m0 12v1m1-25v1m1-35v1m0 32v1m0 26v1m1-58v1m0 10v1m0 4v2m1-18v1m0 55v1m1-57v1m0 42v1m1-44v1m0 41v1m2-3v1m1-41v1m0 12v1m0 25v1m1-27v1m0 14v1m1-12v1m0 9v1m0 8v1m1-11v1m0 8v1m0 1v1m0 6v1m0 10v1m1-24v1m0 2v1m1-40v1m0 36v1m0 23v1m1-14v1m1-50v1m0 16v1m0 43v1m1-2v1m1-61v1m0 14v1m0 2v1m0 3v1m1 23v1m2-44v1m0 53v1m1-52v2m0 23v2m0 24v1m1-51v1m0 26v1m1-29v1m0 10v1m0 25v1m0 3v2m0 11v1m1-56v1m0 55v1m2-13v1m1-16v1m1 25v1m1-2v1m1-43v1m0 27v1m1-45v1m0 42v1m1-2v1m0 13v1m1-58v1m0 43v1m0 12v1m1-13v1m0 12v1m1-30v1m0 4v3m0 10v1m0 12v1m1-61v1m0 16v1m0 43v1m1-60v1m0 13v1m1-13v1m0 10v1m0 6v1m0 10v1m0 27v1m4-57v1m0 24v1m0 1v2m0 24v1m1-54v1m2 36v1m0 14v1m1 0v1m1-20v1m0 1v1m1-6v1m0 2v1m0 21v1m2-1v1m2-47v1m1-2v1m0 2v1m2-17v1m0 18v1m0 36v1m2-52v2m0 24v1m1-27v1m0 10v1m0 25v1m0 14v1m1-17v1m0 2v1m0 14v1m2-12v1m0 11v1m1-59v1m0 33v1m1-5v1m0 2v1m0 23v1m1-59v1m0 32v1m1-2v1m1-34v1m1 14v1m0 2v1m0 37v1m1-15v1m1 0v1m1-46v1m0 45v1m1-47v1m0 33v3m0 11v1m1 13v1m1-60v1m0 58v1m1-58v1m0 10v1m0 2v1m1-15v1m1-1v1m0 54v1m1-56v1m0 53v1m1-29v2m0 1v1m3-31v1m0 13v1m1-16v1m0 37v1m1-3v1m0 1v1m1-6v1m0 2v1m1-21v1m0 42v1m1-27v1m1-37v1m0 47v1m2-49v1m0 14v1m0 1v1m0 4v1m0 36v1m1-29v1m1-2v1m1-28v1m0 53v1m1-51v1m0 36v1m1 14v1m1-43v1m0 25v3m2-42v1m1 32v1m0 23v1m1-59v1m0 29v1m2-32v1m1 55v1m1-42v2m0 13v1m1-2v1m0 11v1m0 13v1m1-1v1m2-40v1m0 13v1m0 2v2m0 11v1m1-49v1m0 34v1m1-33v1m0 30v1m1-31v1m0 10v4m0 3v1m0 38v1m1-2v1m1-14v1m2-43v1m1-1v1m0 12v1m0 25v1m0 12v1m1-25v1m0 9v1m1-26v4m0 10v1m0 24v1m1-18v1m0 4v2m1-9v1m0 1v2m0 7v1m0 10v1m1 0v1m1-25v1m1-21v1m1-2v1m0 17v1m0 25v1m1-46v1m1-2v3m0 29v1m3-44v1m0 40v1m1-12v1m1-28v1m1-2v1m0 11v1m0 24v3m0 4v1m0 10v1m1 0v1m1-1v1m1-59v1m0 16v1m0 15v1m1-1v1m1-35v1m0 56v1m2-44v1m0 27v1m1-29v2m0 3v1m0 21v1m1-1v1m1 0v1m1-46v1m0 45v1m1-47v1m0 30v1m0 4v1m0 12v1m0 11v1m1-45v1m0 44v1m1-59v1m0 11v1m1-12v1m0 10v2m0 15v1m0 15v1m2-45v1m1-1v1m1 28v1m0 23v1m1-25v1m2 7v1m1 1v4m1-46v1m0 35v1m0 2v1m1-3v1m1-10v2m0 5v1m3-23v1m0 5v1m0 11v1m0 13v1m1-34v3m1-16v1m0 19v1m0 36v1m1-57v1m0 17v1m0 24v1m1-42v1m0 14v1m0 37v1m1-51v1m0 10v1m1-13v1m0 36v1m1-26v4m0 20v3m1-23v1m1-19v1m1 25v1m0 5v2m0 23v1m1-32v2m0 4v1m1-2v1m1-2v1m3 9v1m1 0v1m1-17v1m0 16v1m0 12v1"/>
<path stroke="#8fcb4e" d="m0 38v3m0 8v1m0 14v1m1 0v1m1-60v1m1 30v1m0 27v1m1-48v2m3-11v1m0 26v2m0 11v1m1-41v1m0 51v1m1-25v1m3 4v1m0 3v1m1 18v1m2-45v1m0 18v1m0 24v1m2-63v1m0 33v1m1-21v1m0 4v1m1-19v1m0 11v3m1-14v1m0 42v1m1-37v1m1-2v1m0 24v1m0 10v1m1-2v1m1-2v1m1-21v1m0 18v3m1-5v2m0 21v1m1-59v1m0 32v2m1-9v1m0 6v1m0 10v1m0 12v1m1-59v1m0 32v1m0 10v1m1-2v1m2-31v1m2 26v1m2-11v1m0 3v1m0 8v1m1 15v1m1-60v2m0 57v1m1-58v1m0 14v2m1-17v1m0 26v1m0 15v1m1-44v1m0 15v1m1-17v1m0 14v1m0 9v1m0 28v1m1-54v1m0 12v1m0 11v1m0 2v1m1-17v1m0 15v1m1 8v1m0 13v1m1-41v1m1 22v1m1-39v1m0 35v1m0 3v1m0 17v1m1-12v1m1-18v1m0 29v1m1-63v1m0 35v1m1-21v1m2 15v1m0 13v1m1-35v3m0 43v1m1-48v1m1-9v1m0 3v3m0 19v1m0 14v1m1-37v1m0 24v1m2-18v1m0 16v1m0 12v3m1-17v1m0 7v3m0 18v1m1-58v1m0 26v1m0 7v1m1-10v1m0 5v1m0 1v1m0 22v1m2-44v1m1-2v1m1-2v1m0 16v1m0 10v1m0 13v1m1-44v1m0 4v1m0 22v1m1-44v1m0 41v1m1 0v1m1 0v1m0 13v1m1-30v1m0 2v1m0 3v1m0 9v1m0 13v1m1-26v1m1-33v2m0 10v1m1-2v1m0 4v1m1 40v1m2-56v1m1-1v1m1-1v1m1-2v1m1 36v1m1 16v1m1-39v1m0 20v1m0 6v1m0 11v1m1-42v1m0 9v1m0 9v1m0 21v1m1-62v1m0 28v1m0 1v1m0 5v1m2-4v1m0 25v1m1-62v1m0 14v1m0 31v1m0 12v1m1-47v1m1-14v1m0 11v2m1-13v1m0 8v1m0 33v1m1-42v1m0 2v3m1-2v1m0 9v1m0 15v1m1-28v1m0 26v1m0 8v1m1-38v1m0 35v1m0 3v1m0 2v1m0 11v1m1-57v1m0 16v1m0 18v2m0 19v1m1-24v1m0 22v1m1-27v1m0 1v1m1-9v1m0 1v1m0 4v1m1 22v1m1-2v1m2-59v1m0 14v1m0 2v1m0 1v1m1-1v1m0 20v1m1-43v1m0 29v1m0 13v1m1-26v1m0 25v1m0 13v1m1-30v2m0 15v1m0 13v1m1 0v1m1-59v1m0 44v1m1-45v1m2-1v1m1-1v1m0 40v1m1-41v1m0 27v1m0 10v1m0 12v1m1-25v1m1-18v1m0 39v1m1-41v1m1 41v1m2-59v1m0 33v1m0 3v1m0 9v1m1-20v2m1 16v1m0 12v1m3-49v1m1-2v2m0 31v1m1-44v1m0 7v1m0 46v1m1-54v5m0 20v1m1-23v1m0 35v1m0 13v1m1-16v1m0 16v1m1-44v1m0 24v1m0 3v1m1-6v2m1-4v2m1-5v1m0 1v1m0 10v1m1-19v2m0 28v1m1-26v1m0 10v1m1-2v1m1-45v1m1 13v1m0 2v1m0 38v1m1-16v1m1 0v1m0 13v1m2-41v1m0 18v1m1-37v1m1 3v1m0 56v1m1-48v1m0 2v1m1-14v1m0 16v1m0 9v1m1-12v1m0 38v1m1-55v1m0 13v1m0 38v1m1-54v1m0 12v1m1-14v1m0 11v1m1-14v1m0 37v1m1-40v1m0 13v4m0 36v1m1-56v1m0 36v1m1 20v1m1-27v1m0 26v1m1-1v1m1-27v1m1-37v1m0 15v1m1-17v1m1 31v1m0 13v1m0 12v1m1-48v2m1-4v1m1-6v5m0 34v1m1-11v1m1-18v1m0 16v1m0 25v1m1-44v1m0 15v1m0 27v1m1-57v1m0 26v1m0 7v2m0 20v1m1-32v1m0 6v2m1-5v1m0 2v1m1-36v1m1 14v1m1-17v1m0 14v1m1-2v1m0 16v1m0 10v1m0 13v1m1-43v3m0 24v1m1-2v2m0 13v1m1-14v1m1-9v2m0 7v1m1-10v1m0 24v1m1-61v1m0 33v1m0 26v1"/>
<path stroke="#9dc943" d="m0 37v1m0 3v1m1-2v1m0 25v1m1-60v3m0 9v1m0 46v1m1-58v1m0 8v1m1-10v1m0 7v1m0 2v1m1-12v1m1-1v1m1 0v2m0 22v2m0 2v1m0 23v1m1-53v1m0 27v1m2-19v1m0 24v1m0 15v1m1 0v1m1-16v1m0 3v1m0 12v1m1-60v1m0 33v1m0 4v1m1-23v1m0 10v1m0 2v1m0 5v1m0 23v1m2-16v1m1-34v1m2-4v1m1-3v4m0 44v1m1-55v5m0 1v1m1-2v1m0 24v1m1 24v1m1 1v1m1-45v2m0 43v1m1-58v1m0 35v1m1-6v1m0 2v1m0 22v1m1-30v1m2 1v1m1-34v1m1 55v1m1-44v2m0 25v1m1-2v2m1-5v2m0 4v1m0 14v1m1-42v1m0 13v1m0 12v1m0 15v1m1-26v1m0 12v1m1-45v1m0 43v1m1-36v1m1-2v3m0 45v1m1-31v1m0 15v1m0 12v1m1-55v1m1 0v1m1-2v1m0 37v1m1-40v1m0 11v1m1-14v1m1-2v1m0 55v1m1-17v1m0 4v1m0 12v1m1-27v1m0 4v1m0 21v1m1-25v1m1-22v1m1 43v1m1-2v1m1-61v1m0 12v1m0 4v1m0 40v1m1-45v1m0 29v1m1-44v1m0 7v1m0 1v1m1-9v3m0 3v1m0 46v1m1-24v1m0 8v1m0 13v1m1-51v1m0 26v1m0 7v1m0 16v1m1-54v1m0 34v1m0 19v1m1-57v1m0 43v1m0 12v1m1-42v1m0 16v1m0 1v1m0 21v1m1-43v1m0 14v1m1-33v1m0 15v1m0 12v1m0 4v1m2-36v1m0 56v1m2-28v1m1-18v1m0 25v1m0 15v1m1-18v3m0 14v1m1-29v1m0 7v2m1-9v2m0 5v1m0 7v1m0 15v1m1-62v1m0 15v1m0 45v1m1-58v1m0 28v1m1-30v1m0 15v1m0 26v1m0 12v1m1-57v1m0 7v2m1-10v1m1 0v1m1-1v1m0 27v1m1 22v1m1-25v1m0 8v1m1-27v1m0 15v1m0 24v1m1-27v1m0 7v1m1-10v1m0 6v1m0 4v1m1 19v1m2-2v1m1-47v1m2 1v1m0 27v1m1-35v1m0 2v1m1-13v1m0 6v1m0 1v1m1-8v2m0 3v1m0 8v1m0 24v1m2-28v1m1 29v2m1-9v1m0 2v1m1-6v1m0 1v1m1-37v1m1 56v1m1-59v1m0 32v1m1-20v1m1-2v1m1-2v1m0 4v1m0 22v1m2-24v1m0 19v4m1-8v4m0 4v1m1-8v1m0 8v1m0 15v1m1-14v1m1-45v1m0 9v1m0 46v1m1-49v1m0 4v1m0 13v1m1-29v1m0 7v2m2-9v2m0 22v1m0 28v1m1-53v1m1-2v1m2 34v1m1-3v1m1-38v1m0 34v1m0 4v1m0 18v1m1 0v1m1-45v1m0 43v1m1-63v1m0 35v1m1 10v1m1-34v1m0 18v1m1-34v1m0 16v1m1-17v1m0 9v1m0 2v1m0 43v1m1-50v1m0 1v1m0 32v1m1-36v1m1-2v1m0 25v1m2 26v1m1-23v1m0 2v1m0 6v1m0 12v1m1-59v1m0 32v1m1 0v1m0 22v1m1-59v1m0 43v1m2-14v1m1 23v1m1-40v1m0 22v1m1-43v1m0 40v1m1-3v4m1-8v4m0 5v1m0 14v1m1-14v2m0 13v1m1-27v1m0 26v1m1-58v1m1-1v1m0 7v1m0 4v1m0 42v1m1-57v1m0 6v2m0 33v1m0 12v1m1-56v1m0 24v1m1-25v1m1-1v1m0 27v1m1 8v1m0 13v1m1-42v1m1-1v1m0 23v1m1 18v1m1-24v1m0 4v1m0 6v1m0 12v1m1-33v1m0 32v1m1-63v1m0 36v1m0 10v1m1-33v1m0 44v1m1-2v1m1-2v1m1-48v1m0 3v1m1-7v1m0 2v1m0 30v1m1-43v1m0 5v1m0 1v1m0 18v1m2-23v1m0 34v1m0 14v1m1-52v1m0 34v1m1-37v1m0 9v1m0 24v1m0 3v1m0 3v1m0 12v1m1-21v1m1-6v1m0 2v1m0 8v1m0 12v1m1-59v1m1 14v1m0 17v1m1 22v1m1-16v1m0 13v1m2-59v1m0 13v1m0 5v1m0 10v1m1 8v1m1-3v3m0 1v1m0 14v1m1-24v1m0 2v1m0 21v1m1-61v1m0 47v1m0 13v1m1-47v1m0 32v1"/>
<path stroke="#abc739" d="m0 33v1m0 2v1m0 5v1m0 5v1m0 16v1m1-62v1m0 47v1m1-43v1m2 5v1m0 19v1m0 28v1m1-51v2m0 47v1m1-55v4m0 49v1m3-55v1m0 51v1m1-54v1m1-2v1m0 12v2m0 21v1m1-38v1m0 34v1m0 6v3m0 14v1m1 0v1m3-2v1m1-16v1m0 13v1m1-42v1m0 12v1m0 12v1m0 13v1m1-45v1m0 42v1m1-57v1m1 7v1m0 32v1m1-27v1m0 16v1m0 7v1m1-36v1m0 8v1m0 17v1m1-29v1m0 8v1m0 17v1m0 6v1m0 20v1m1-57v1m0 9v1m0 2v1m0 13v1m0 6v1m0 3v1m0 18v1m1-26v1m0 24v1m2-60v1m0 33v1m2 21v1m1-45v1m0 17v1m0 24v1m1-45v1m0 27v1m1-30v1m0 2v1m0 3v1m1 18v1m1-41v1m0 18v1m0 17v1m0 2v2m0 1v1m1-44v1m0 29v2m0 6v1m0 5v1m0 17v1m1 0v1m1-58v1m0 8v1m0 19v1m0 27v1m1-58v1m0 55v1m1-57v1m0 5v1m0 3v1m1-11v1m0 4v2m1-6v3m0 36v1m1-39v1m0 26v1m0 9v1m1 12v1m2-43v1m0 24v1m1-21v1m1 22v2m0 1v1m1 15v1m1-33v1m1 16v1m0 13v1m1-28v1m1-22v1m1 6v1m1-21v1m0 9v1m0 19v1m1-23v1m0 20v1m0 13v1m2-36v1m3 6v2m0 21v1m0 3v1m1-7v1m1-34v1m0 34v1m0 8v1m1-19v1m0 30v1m1-2v1m1-16v1m2-45v1m1 12v1m0 1v1m1 22v1m1-4v1m0 2v2m0 2v1m0 15v1m1-43v1m0 26v1m0 17v1m2-57v1m0 55v1m1-50v1m0 6v1m1-9v1m0 2v1m0 5v1m1-12v2m1-5v3m1-3v1m0 10v1m0 39v1m1-53v1m0 10v1m0 16v1m0 8v1m1-28v1m0 40v1m2 1v1m1-17v1m0 3v1m0 13v1m1-61v1m0 32v1m0 5v1m1-11v1m0 17v1m0 13v1m1-27v1m3-25v1m1-12v1m0 8v1m0 9v1m0 23v1m1-37v1m0 3v1m0 6v1m0 37v1m1-48v1m1-3v1m0 25v1m0 7v1m0 14v1m1-51v1m0 33v1m0 17v1m1-45v1m0 24v1m0 20v1m1-47v2m0 45v1m1-59v1m0 35v1m0 21v1m1-29v1m0 3v1m0 22v1m1-32v1m1-14v1m2-17v1m0 41v1m1 13v1m1-45v3m0 24v1m1-3v1m0 18v1m1-19v1m0 2v1m0 16v1m1-61v1m0 44v1m1-45v1m0 14v1m0 19v1m0 26v1m1-58v1m1-1v1m0 13v1m0 41v1m1-57v1m0 5v1m0 2v1m0 45v1m1-56v1m0 3v2m0 48v1m1-53v2m0 25v1m1-1v1m2-31v1m0 36v1m1-39v1m0 11v1m0 41v1m1-56v1m0 17v1m0 38v1m1-18v1m0 4v1m0 13v1m1-29v1m0 5v1m0 22v1m1-26v1m1 23v1m1-48v1m0 45v1m1-16v1m0 13v1m1-49v1m0 8v1m0 37v1m1-50v1m1-8v1m0 4v1m0 3v1m1-3v1m0 32v1m0 13v1m1-41v1m1-11v1m0 8v1m0 17v1m0 25v1m1-55v1m0 26v1m0 6v1m0 5v3m0 13v1m1-58v1m0 26v1m1 7v1m0 21v1m1-33v1m0 3v1m1 2v1m1 22v1m1-59v1m0 56v1m1-45v1m0 17v1m1-20v1m0 5v1m1-7v2m0 24v1m0 16v1m1-20v1m1-21v1m0 15v1m0 4v1m0 3v1m0 16v1m1-24v1m0 7v1m0 16v1m1-62v1m0 2v3m1 7v1m0 47v1m1-42v1m1-11v1m0 2v1m1-9v1m0 2v2m0 35v1m1-40v2m0 24v2m0 10v1m1-39v1m0 36v1m2 12v1m2-20v1m1 3v1m0 19v1m1-30v1m0 5v1m1 22v1m2-29v1m1-22v1m1-14v1m1 0v1m0 28v1m1-28v1m0 3v1m0 3v1m0 31v1m1-35v1m0 19v1m0 2v2m1 0v1m1 25v1m1-16v1m1-8v1m0 23v1m1-43v1m1-2v1m0 13v1m0 27v1m1-2v1m1-59v1m3 15v1m0 22v1m1-29v2m1-16v1m0 29v1m0 7v1m0 3v1m1-9v1m0 4v1m0 4v1m1-28v1m0 19v1m0 8v2m0 15v1m1-62v5m0 56v1"/>
<path stroke="#b9c431" d="m0 35v1m0 11v1m0 18v1m1-57v2m0 8v1m0 46v1m1-29v1m0 27v1m1-58v1m0 6v1m0 34v1m0 13v1m1-57v1m0 10v1m0 3v1m1-16v1m0 2v2m0 2v1m1-4v1m0 19v1m1-23v1m0 26v1m1-29v1m1 8v1m0 25v1m2-28v1m0 2v1m0 40v1m1-40v1m0 41v1m1-44v1m0 21v1m0 6v1m0 14v1m1-33v1m0 16v1m0 14v1m1-64v1m0 61v1m1-48v1m0 19v1m2-24v1m0 7v1m1-20v1m0 8v1m0 33v1m1-37v1m0 4v1m1-3v1m0 6v1m0 10v1m0 27v1m1-49v1m0 47v1m1-17v1m0 17v1m1 2v1m1-49v1m0 4v1m0 43v1m1-33v1m0 9v1m1-12v1m0 8v1m0 22v1m1-32v1m0 29v1m1-2v1m1-59v1m0 13v1m3-17v1m0 39v1m0 16v1m1-46v2m0 5v1m0 18v1m0 18v1m1-23v1m0 5v1m0 17v1m1-22v1m0 3v1m0 19v1m1-63v1m0 4v2m0 29v1m1-31v1m2 9v1m1-11v1m0 1v2m0 2v1m1-4v1m0 24v1m1 23v1m1-53v1m1 26v1m1-2v1m0 24v1m1-43v2m0 21v1m0 20v1m1-24v1m0 8v1m0 15v2m1-34v1m0 10v1m1-41v1m0 16v1m0 11v1m0 32v1m1-27v1m1-38v1m0 46v1m1-48v1m1 11v1m0 6v1m2-17v1m0 4v1m0 4v1m1-3v1m0 31v1m1-9v1m0 6v1m1-35v1m0 7v1m0 43v1m1-46v1m0 24v1m0 21v1m1-48v1m0 2v1m0 2v1m0 41v1m1-59v1m0 35v1m0 21v1m1-2v1m1-32v1m0 15v1m1-45v1m0 32v1m0 9v1m3-33v1m0 27v1m1-30v1m0 17v1m1-20v2m0 16v1m0 7v1m1-4v1m0 5v2m0 17v1m1-23v1m0 4v1m0 19v1m1-63v1m0 3v3m0 28v1m0 11v1m0 14v1m1-50v1m1-9v1m0 26v1m0 28v1m1-57v1m0 4v1m0 4v1m0 30v1m0 13v1m1-56v4m0 2v1m0 7v1m0 39v1m1-51v1m0 8v1m0 14v2m0 23v1m1-52v1m0 26v1m0 8v1m2-40v1m1-2v1m0 10v1m0 24v1m1-26v2m1 19v1m0 7v3m0 15v1m1 0v1m1-26v1m1-23v1m0 45v1m1-2v1m1-49v1m0 19v1m0 26v1m1-61v1m0 17v1m0 40v1m1-45v1m0 42v1m1-56v1m0 3v1m0 35v1m1-15v1m2 4v1m0 25v1m1-55v1m0 26v1m0 28v1m1-58v1m0 8v1m0 2v1m0 20v1m0 4v1m1-8v1m0 11v1m2-46v1m0 14v1m1 41v1m1-27v1m0 9v1m0 14v1m1-2v1m2-47v1m1-1v1m0 24v1m1-39v1m0 34v1m0 5v2m1-5v1m0 5v1m0 18v1m1-62v6m1-1v1m0 55v1m1-51v1m0 7v1m1-11v1m0 4v1m0 15v1m1-26v3m0 2v1m1-3v1m0 23v1m1-27v1m1 49v1m4-15v1m0 18v1m1-45v1m1 43v1m2-64v1m1-1v1m1 17v1m0 13v1m0 12v1m1-44v1m0 12v1m1-12v4m1 10v1m0 13v3m1-26v1m0 25v1m0 6v1m0 15v1m1-18v1m0 19v1m1-47v1m0 47v1m1-49v2m0 21v1m0 4v1m0 19v1m1-33v1m0 4v1m1-33v1m0 57v1m1-2v1m1-59v1m1 12v1m1 26v1m2-31v1m0 6v1m1-9v1m0 24v1m0 20v1m1-30v1m0 10v3m1 1v1m0 18v1m1-62v2m0 3v1m0 7v1m0 47v1m1-58v1m0 27v1m1-29v1m0 5v1m0 6v1m1-14v1m0 3v1m0 4v1m1-9v2m0 2v1m1-3v1m0 22v1m0 2v1m0 23v1m1-2v1m1-53v1m0 27v1m1-2v1m0 7v1m1-27v1m0 16v1m0 25v1m1 1v1m1 2v1m1-1v1m1-47v1m1 29v1m3-37v1m0 5v1m1-9v1m0 4v1m1-11v3m0 50v1m1-28v2m0 2v1m0 7v1m1-35v1m0 49v1m1-52v1m0 7v1m1 23v1m0 6v2m0 14v1m1-48v1m0 26v1m1-39v1m0 57v1m1-25v1m1-36v1m1 31v1m0 9v1m2-45v1m0 12v1m1-2v1m0 5v1m0 37v1m1-46v1m0 17v1m0 8v1m2-41v1m0 39v1m0 2v1m0 17v2m1-19v2m1-39v1m0 28v1"/>
<path stroke="#c5c22a" d="m0 12v2m0 20v1m0 8v1m0 1v2m0 20v1m1-63v1m0 3v1m0 2v1m0 28v1m0 5v5m0 16v1m1-58v1m2 3v1m1-5v2m0 5v1m0 16v1m1-21v1m0 22v3m1-28v1m1 7v1m0 25v1m0 14v1m2-44v1m1 3v2m1 42v1m1-30v1m0 29v1m1-35v1m0 8v1m1-3v1m3-38v1m1 15v1m0 3v1m1-18v2m0 2v1m0 35v1m2-9v1m1-28v1m0 51v1m1 2v1m1-44v1m0 17v1m0 5v1m0 3v1m1-44v1m0 30v1m0 11v1m0 14v1m1-60v1m0 29v1m1-5v1m1-28v1m0 32v1m2 6v1m1-12v1m1-21v1m0 4v1m1-7v1m0 2v1m1-5v2m0 22v1m1-28v3m0 31v1m0 21v1m1-63v1m0 2v1m0 2v1m0 7v1m0 27v2m0 2v1m0 15v1m1-1v1m1-58v1m0 5v1m0 20v1m0 28v1m1-57v1m0 3v1m0 50v1m1-55v1m0 5v1m0 46v1m1-51v1m0 22v1m0 1v1m0 23v1m1-52v1m0 26v1m1-2v1m1-30v1m0 35v1m0 15v1m2-44v1m0 2v1m0 13v1m1 31v1m1-1v1m1-26v1m0 24v1m1-2v1m1-49v1m0 46v1m1-17v1m0 14v1m1-42v1m0 24v1m0 14v1m1-59v1m0 7v1m0 5v1m0 27v1m0 14v1m1-56v4m0 50v1m1-25v1m1-18v1m0 40v1m1-18v1m0 19v1m1-55v1m0 55v2m1-59v1m0 7v1m0 4v1m0 24v1m0 19v1m2-31v1m1-31v1m0 57v1m1-2v1m1-27v1m0 24v1m1-59v1m0 12v1m0 43v1m1-2v1m1-42v1m0 2v1m0 19v1m1-41v1m0 10v1m0 2v1m0 43v1m1-49v2m0 22v1m1-35v1m0 7v2m0 32v1m0 21v1m1-63v3m0 3v1m0 55v1m1-58v1m0 55v1m1-52v1m1-6v1m0 2v1m1 2v1m0 32v1m1-17v1m0 2v1m0 2v1m0 8v1m4 12v1m1-56v1m0 13v1m0 20v1m0 21v1m1-59v1m0 60v2m1-17v1m0 15v1m1-2v1m1-64v1m3 10v1m0 8v1m1-19v1m0 6v1m1-6v3m1 25v3m0 7v1m0 14v1m1-49v1m0 25v1m0 22v1m1 2v1m1-48v1m0 24v1m0 23v1m1-32v1m0 30v1m1-44v1m0 42v1m1-60v1m0 25v1m0 2v1m0 28v1m1-26v1m0 23v1m2-60v1m2 10v1m0 27v1m1-42v1m0 15v1m0 22v1m0 17v1m1-47v1m0 1v1m1-5v2m0 22v1m0 26v2m1-55v2m0 7v1m0 25v1m0 20v1m1-57v1m0 55v1m1-51v1m0 20v1m1-29v1m0 40v1m1-42v1m0 2v1m1 2v1m0 17v1m1 1v1m0 2v1m1 22v1m1-53v1m0 9v1m0 25v1m1-28v1m0 41v1m1-44v1m0 24v1m1-26v3m0 20v1m0 22v1m1-42v1m0 15v1m0 8v3m0 16v1m1-24v1m0 22v1m1-64v1m2 33v1m1-23v1m1-13v1m1 7v1m0 34v1m1-32v1m0 29v1m0 14v1m1-48v1m0 18v2m0 3v1m2-28v1m0 53v1m1 1v1m1-51v1m0 2v1m0 3v1m0 42v1m1-60v1m0 35v1m0 21v1m1-25v1m2-23v1m0 18v1m3-36v1m0 30v1m0 8v1m0 16v1m1-47v1m0 3v1m1-6v1m0 1v1m0 5v1m1-11v2m0 22v1m0 27v2m1-63v1m0 6v3m0 28v1m0 4v1m0 20v1m1-29v1m0 11v1m1-42v1m0 40v1m0 14v1m1-44v1m0 41v1m1-56v1m0 1v1m0 51v1m1-50v1m0 47v1m1-51v1m0 19v1m1-23v1m0 26v1m2-31v1m2 9v1m0 15v1m0 29v1m1-32v1m0 12v1m0 3v1m0 16v1m1-64v1m0 38v1m0 7v1m1 14v1m1-28v1m0 25v1m1-49v1m0 31v1m0 14v1m1-17v1m0 14v1m1-17v1m0 14v1m1-58v1m0 5v1m0 49v1m1-47v1m1-3v1m0 24v1m0 21v1m1-42v1m0 24v1m1-8v1m0 5v1m0 20v2m1-57v1m0 7v1m0 48v1m1-59v1m0 8v1m0 1v1m0 20v1m0 25v1m1-29v1m0 4v1m1 6v1m0 14v1m1-17v1m0 14v1m1-2v1m1-59v1m0 56v1m1-18v1m0 15v1m2-44v1m0 41v1m1-48v3m0 23v1m0 21v1m1-50v2m0 6v1m0 14v1m0 7v2m0 20v1m1-57v3m0 28v1m0 4v1m0 20v1m1-57v1m0 55v1"/>
<path stroke="#d1bf27" d="m0 4v1m0 6v1m0 2v1m0 6v1m0 22v1m0 23v2m1-62v1m0 4v1m0 32v1m1-35v1m0 5v1m0 49v1m1-58v1m0 55v1m1-57v1m0 2v1m0 36v1m0 14v1m1-2v1m1-2v1m1-43v1m0 25v1m0 14v1m1-25v1m1-30v1m0 27v1m1 5v1m0 17v1m1-45v1m0 45v1m1 3v2m1-24v1m1 21v1m1-2v1m1-2v1m1-50v1m0 47v1m1-51v1m0 48v1m1-59v1m0 6v1m0 21v1m1-27v2m0 12v1m0 38v1m1-26v3m0 6v1m1-2v1m0 16v1m1 2v1m1-55v1m0 6v1m0 24v1m0 24v1m1-59v1m0 6v1m0 50v1m1-52v2m1 48v1m1-60v1m0 57v1m1-46v1m0 43v1m1-2v1m2-60v1m0 11v1m0 27v1m0 16v1m2-22v1m1-29v1m0 2v1m0 16v1m0 30v2m1-52v1m0 28v2m0 23v1m1-63v2m0 4v1m0 33v1m0 2v2m0 17v1m1-58v1m1-1v1m1-1v1m0 1v1m2 1v1m0 24v1m2-30v1m1 7v1m1-12v1m0 9v1m1 3v1m0 41v1m1-31v1m0 33v1m1-64v1m0 31v1m0 7v1m0 22v1m4-32v1m1-34v1m1 1v1m0 5v1m1 4v1m0 28v1m1-32v1m0 17v1m0 2v1m0 1v2m0 21v1m1-49v1m0 25v1m1-2v1m0 26v1m1-29v1m0 30v1m1-46v1m0 17v1m1-3v1m0 27v1m1-60v1m0 57v1m1-26v1m2-36v1m0 12v1m1 26v1m2-32v1m1 24v1m1-29v1m0 2v1m0 5v1m0 42v3m1-57v1m0 2v1m0 28v3m0 23v1m1-51v1m0 26v4m1-11v1m0 12v1m1-42v1m0 55v1m1-56v2m0 22v1m0 29v1m2-52v1m1-3v1m0 49v1m1-53v1m0 50v1m1-18v1m2-28v1m0 5v1m0 40v2m1 2v1m1-33v1m0 7v1m2 5v1m0 15v1m1-29v1m2-17v1m2-7v1m1-3v1m0 18v2m0 3v1m1 5v1m1-34v1m0 6v1m0 24v1m0 21v1m1 1v1m1-52v1m0 4v1m0 1v1m0 16v1m0 10v1m0 15v1m1-60v1m0 25v1m0 9v1m1-23v1m0 19v1m2-37v1m0 41v1m2-32v1m0 18v1m3-24v1m0 25v1m0 21v1m1-51v1m0 2v1m0 50v2m1-58v1m0 2v1m0 28v1m0 1v2m0 22v1m1-57v1m0 27v1m0 5v2m0 20v1m1-58v1m0 55v1m1-57v1m0 3v1m0 50v1m1-56v2m0 11v1m0 40v1m1-26v1m0 23v1m1-51v1m0 19v2m0 27v1m1-52v1m0 8v1m0 17v1m0 7v1m1-10v1m1-30v1m0 27v1m1 24v1m1-46v1m0 47v2m1 1v1m1-36v1m0 2v1m0 31v1m1-2v1m1-49v1m0 20v1m0 25v1m1-2v1m1-2v1m1-51v1m0 7v1m0 40v1m1-58v1m0 16v1m0 10v1m0 27v1m1-41v1m0 10v1m1 5v1m0 5v1m0 15v1m1 0v1m1 3v1m1-57v1m0 6v1m0 24v1m0 25v1m1-60v1m0 11v1m1 45v1m1-32v1m0 29v1m1-60v1m0 57v1m1-2v1m1-18v1m0 15v1m1-59v1m0 56v1m1-47v1m1 25v1m1-40v1m0 9v1m1 0v1m0 51v2m1-59v1m0 34v2m0 22v1m1-58v1m0 55v1m1-52v1m1-7v1m0 3v1m0 21v1m1-26v1m1 4v1m0 21v2m1-6v1m0 4v1m2 5v1m0 15v1m1-44v1m1-12v1m0 9v1m0 24v1m0 19v1m1-57v1m0 10v1m0 1v1m0 3v1m0 16v1m0 24v3m1-63v1m0 32v1m0 8v3m0 18v1m1-48v1m0 13v1m0 31v1m1-27v1m1-39v1m2-1v1m0 11v1m1-12v1m0 8v1m0 9v1m1-18v1m0 39v1m1-2v1m1-26v1m1-9v1m0 25v1m0 23v1m1 3v1m1-31v1m0 30v1m1-52v1m0 3v1m0 30v1m0 15v1m1-2v1m1-60v1m0 25v1m0 1v1m1 4v1m2-23v1m0 18v1m2 5v1m1-41v1m0 10v1m0 26v1m1-26v1m1-6v1m0 54v2m1-65v1m0 4v1m0 3v1m0 31v1m0 22v1m1-51v1"/>
<path stroke="#dcbd29" d="m0 15v1m0 54v1m1-65v2m0 34v1m0 2v1m0 23v1m1-18v1m1-41v1m0 3v1m0 21v1m1-27v2m0 8v1m1 1v1m0 16v1m0 8v1m1-35v1m0 6v1m0 13v1m0 3v1m0 7v1m1-36v1m0 25v1m1-29v1m1 49v1m1-54v1m0 27v1m1 4v1m0 22v2m1-50v3m0 20v1m0 29v1m1-24v1m0 21v1m1-65v1m1 14v1m1-17v1m1-1v1m0 33v1m2-32v1m0 55v1m1-46v1m0 15v1m1-19v1m0 19v1m0 3v1m1-27v1m0 25v1m1-22v1m0 19v1m0 4v1m0 21v2m1 1v1m1-21v1m0 19v1m1-54v1m0 2v1m0 4v1m0 21v1m0 21v1m1-60v1m1 12v1m0 19v1m2-36v1m0 31v1m0 8v1m1-43v1m0 56v1m2-42v2m0 11v1m0 7v1m1-30v1m0 47v1m1-51v1m0 53v4m1-60v1m0 58v1m1-57v1m0 27v1m0 3v1m0 23v1m1-58v1m0 4v1m0 21v1m0 28v1m1-54v1m0 35v1m0 15v1m1-56v1m0 8v1m0 2v1m0 41v1m1-49v1m0 21v1m0 24v1m1-32v1m0 1v1m1-24v1m1 6v1m0 25v1m0 15v1m2-20v1m0 18v1m1-56v1m0 9v1m0 5v1m0 41v4m1-63v1m0 10v1m0 5v1m0 15v1m0 29v1m1-48v1m0 23v1m0 4v1m0 17v1m1-2v1m1-2v1m1-2v1m1-51v1m1-3v1m1-8v1m2 13v1m0 13v1m0 9v1m1-2v1m0 17v1m1-51v1m0 30v1m0 22v3m1-27v1m0 26v1m1-54v1m0 19v1m0 11v1m0 19v1m1-60v1m0 6v3m0 26v1m1-3v1m0 23v1m1-2v1m1-60v1m3 8v1m0 27v1m1-24v1m0 20v1m0 18v1m1-49v1m0 4v1m0 3v1m1-20v1m0 63v2m1-60v1m0 59v1m1-58v1m0 27v1m0 3v1m0 4v2m0 17v1m1-58v1m0 4v1m0 50v1m1-57v1m0 2v1m1 5v1m1-4v1m0 16v1m0 4v2m0 23v1m1-31v2m0 27v1m3-55v1m0 51v1m1-45v1m0 44v1m1-42v1m0 44v3m1 0v1m1-2v1m1-49v1m0 21v1m0 24v1m1-28v1m1-38v1m0 13v1m0 31v1m0 15v1m1-63v1m0 44v1m0 15v1m1-61v1m0 30v1m0 11v1m0 15v1m1-58v1m0 4v1m0 34v1m1-2v1m0 15v1m1-23v1m1-21v1m0 42v1m1 3v3m1-59v1m0 57v1m1-60v1m0 12v1m0 24v1m0 20v1m1-54v3m0 20v1m0 28v1m1-18v1m0 15v1m1-60v1m0 57v1m1-27v1m0 24v1m1-2v1m1-19v1m1-42v1m0 56v1m1-48v1m0 5v1m0 1v1m1-6v1m1 14v1m0 34v2m1-66v1m0 4v1m0 4v1m0 28v1m0 25v1m1-52v1m0 26v1m0 2v1m0 2v1m2-38v1m1 5v1m0 29v1m1-34v1m0 21v1m0 9v1m1-28v1m0 17v1m0 7v1m3-5v1m1-37v1m0 27v1m1-16v1m0 45v3m1-1v1m1-65v1m1 36v1m0 8v1m4-47v1m0 17v1m1-17v2m0 1v2m0 7v1m3-7v1m0 25v1m0 4v1m0 18v1m1-46v1m0 19v1m0 4v1m0 23v2m1 0v1m1-54v1m0 23v1m0 6v1m0 20v1m1-53v1m0 21v1m1-31v1m1 12v1m2-16v1m1 10v1m2 2v1m0 13v1m0 26v1m1-45v1m0 15v1m0 5v1m0 22v1m1-60v1m0 7v1m0 3v1m0 19v1m0 32v2m1-62v1m0 4v1m0 5v1m0 22v2m1-32v1m0 32v3m0 20v1m1-58v1m0 55v1m1-57v1m0 54v1m1-48v1m0 45v1m1-26v1m0 23v1m1-2v1m1-2v1m1-53v1m0 8v1m1 41v1m2-46v1m0 3v1m0 47v2m2-26v1m0 23v1m1-2v1m1-50v1m0 47v1m1-2v1m1-30v1m1-16v1m1-15v4m0 7v1m2-5v1m0 24v1m0 4v1m1-2v1m0 19v1m1-53v1m0 55v2m1-28v1m0 26v1m1-60v1m0 13v1m0 22v1m1-39v1m0 58v1m1-2v1m1-2v1m1-60v1m0 12v1m3-5v1m1 3v1m0 2v1m1-11v1m0 8v1m0 16v1m0 23v1m1-53v1m0 3v1m0 17v1m0 1v1m0 33v1m1-62v1m0 33v3m0 24v1m1-58v1m0 27v1m0 4v3m0 20v1"/>
<path stroke="#e6bb2d" d="m0 10v1m0 60v1m1-58v1m0 4v1m0 23v2m0 25v1m1-58v1m0 26v1m0 4v3m0 21v1m1-57v1m0 1v1m0 52v1m1-2v1m1-49v1m0 20v1m0 1v1m0 23v1m1-2v1m2-3v1m1-19v1m1 17v1m1-56v1m0 8v1m0 18v1m0 30v5m1-1v1m1-66v1m0 27v1m0 13v1m0 2v1m0 18v1m1-27v1m0 24v1m1-19v1m0 16v1m1-2v1m1-2v1m1-62v1m0 42v1m1-41v1m0 3v1m0 8v1m0 25v1m1-2v1m1-13v1m0 6v1m0 3v1m0 16v1m2-50v1m0 54v3m1-33v1m0 31v1m1-30v1m0 9v1m0 18v1m1-61v1m0 9v1m0 48v1m1-33v1m0 6v1m0 23v1m1-2v1m1-60v1m0 57v1m2-49v1m2-4v1m0 46v1m1-59v1m0 14v1m0 14v1m0 5v1m1-4v1m0 32v1m1-67v1m0 4v1m0 5v1m0 4v1m0 49v1m1-29v3m1-1v3m1-35v3m1 21v1m0 5v1m1-4v1m0 1v1m1-7v1m0 28v1m1-44v1m0 25v1m0 15v1m2-54v1m0 51v1m2-22v1m0 27v2m1-55v1m0 1v1m0 51v1m2-28v1m0 7v1m1-48v1m0 14v1m0 21v1m1-3v1m1 25v1m1-61v1m0 58v1m1-57v1m0 1v2m0 8v1m0 2v1m1-2v1m0 22v1m0 16v1m1-29v1m0 5v1m1-1v1m1 28v2m1-60v1m0 5v1m0 52v1m1-61v1m0 40v1m0 17v1m1-55v1m0 52v1m1-35v1m0 1v1m1-29v1m1 11v1m0 19v1m0 24v1m1-2v1m1-28v1m2-34v1m0 17v1m1 39v1m1-52v1m0 4v1m0 19v1m0 32v2m1-57v1m1 26v1m0 1v1m0 25v1m1-58v1m0 31v2m0 22v1m1-57v2m0 53v1m1-27v1m0 24v1m1-29v1m0 2v1m1-2v1m1-2v1m1-2v1m0 6v1m1-28v1m0 18v1m1 4v1m1-27v1m0 5v1m0 46v2m1-55v2m0 20v1m0 31v1m1-26v1m0 23v1m1-66v1m0 63v1m1-2v1m2-53v1m1-11v1m0 7v1m1-7v4m0 8v1m0 42v1m2-23v1m0 3v1m0 16v1m1-49v1m0 25v1m0 3v1m1-6v1m0 3v1m0 26v1m1-29v1m0 27v1m1-55v1m1 52v1m1-61v1m0 26v1m0 31v1m1-19v1m2-44v1m0 11v1m1-14v1m0 56v1m1-48v1m0 19v1m0 7v1m1-3v1m1-30v1m0 49v1m1-53v1m0 4v1m0 4v1m0 14v1m0 33v1m1-1v1m1-58v1m0 27v1m0 2v1m0 4v2m0 18v1m1-58v1m0 3v1m0 27v2m0 22v1m1-57v2m0 23v1m0 29v1m1-27v2m0 23v1m1-44v1m0 14v1m0 2v1m0 23v1m1-51v1m0 48v1m1-52v1m0 49v1m1-53v1m0 50v1m1-1v1m1 0v1m1-57v1m0 15v1m0 11v1m0 34v1m1-65v1m0 9v2m0 16v1m0 35v1m1-26v1m0 5v1m0 17v1m1-2v1m1-2v1m1-51v1m0 48v1m1-63v1m0 10v1m1-3v1m0 33v1m1-39v1m0 36v1m1-30v1m0 27v1m1-31v1m0 24v1m0 3v1m1 19v1m1-53v1m0 56v2m1-34v1m0 32v1m1-61v1m0 11v2m0 45v1m1-61v1m0 5v1m0 1v1m0 33v1m0 16v1m1-35v2m0 31v1m1-27v1m0 24v1m1-60v1m1 30v1m3-25v1m0 26v1m1 21v1m1-54v1m0 59v1m1-67v1m0 2v1m0 61v1m1-53v1m0 22v1m0 2v2m0 3v1m1-37v1m0 2v1m0 22v1m0 5v1m1-33v2m1 21v1m0 4v2m1-5v1m1-24v1m1-3v1m0 7v1m0 25v1m3 16v1m1 6v1m1-55v1m0 5v1m0 46v1m1-37v1m3-31v1m1 60v1m1-60v1m0 6v1m0 9v1m0 40v1m1-2v1m1-47v1m0 4v1m0 16v2m0 21v1m1-22v1m0 20v1m1-23v1m0 24v1m1-48v1m0 24v1m0 26v1m1-60v1m0 5v1m0 52v1m1-55v1m0 19v1m0 3v1m0 28v1m1-54v2m0 17v1m0 2v1m0 6v1m1-37v1m0 25v1m0 7v1m1-36v1m1 56v1m1-19v1m0 16v1m2-3v1m1-49v1m0 47v1m1 1v2m0 1v4m1-37v1m0 35v1m1-66v1m0 1v1m0 6v1m0 4v1m0 50v1m1-58v1m0 30v1m0 3v1m0 2v1m0 17v1"/>
<path stroke="#f0ba36" d="m0 16v1m0 55v1m1-2v1m1-58v1m0 2v1m0 26v1m0 3v1m0 21v1m1-57v1m0 28v3m0 23v1m1-47v2m0 17v2m0 24v1m1-30v1m1-5v2m1 27v1m2-54v1m0 7v1m1-2v1m1 53v1m1-66v1m0 8v1m0 3v1m0 14v1m0 36v1m1-36v1m0 11v2m0 20v1m1-2v1m1-29v1m0 26v1m1-52v1m0 21v1m0 9v1m1-35v1m0 32v1m1-44v1m0 7v1m0 50v1m1-57v3m2 23v1m0 6v1m1-23v1m0 20v1m0 2v1m0 18v1m1-21v1m0 27v2m1-61v1m0 29v1m0 28v2m1-62v1m0 4v1m0 20v1m0 12v1m0 20v1m1-57v1m0 23v1m0 30v1m1-56v2m0 6v1m0 45v1m1-61v1m1 39v1m1 15v1m4-53v1m0 49v1m0 6v2m1-61v1m0 5v1m0 53v2m1-2v1m1-58v1m0 3v1m0 51v1m1-58v1m0 2v1m0 26v1m0 3v1m0 21v1m1-27v2m0 23v1m1-28v1m0 1v1m0 6v1m0 16v1m1-33v1m0 6v1m0 23v1m1-51v1m0 24v1m0 6v1m1-9v1m1-2v1m1 4v1m1 18v1m0 6v2m1-1v2m1-54v1m0 51v1m1-36v1m0 10v1m0 22v1m1-2v1m1-2v1m1-2v1m1-64v1m1 1v1m0 6v1m0 22v1m0 10v1m1-39v1m0 36v1m0 16v1m2-23v1m0 2v1m1-31v1m0 28v1m0 19v1m0 5v3m1-54v1m0 20v1m0 31v1m1-1v1m1-32v1m0 8v1m0 20v1m1-57v1m0 4v1m0 15v1m0 2v1m0 12v1m0 17v1m1-61v1m0 4v1m0 53v1m1-2v1m2-21v1m1-31v1m0 45v1m1-59v1m0 56v1m1-49v1m1 24v1m0 23v1m0 4v4m1-1v1m1-68v1m0 3v1m0 10v1m0 50v2m1-59v1m0 28v1m0 27v1m1-32v1m0 3v1m0 2v1m0 22v1m1-33v1m0 4v2m1-4v1m0 1v1m1 22v1m1-51v1m0 48v1m1-52v1m0 49v1m1-53v1m0 7v1m0 42v1m2-55v1m0 27v1m0 26v1m0 4v4m1-32v1m0 30v1m1-57v1m0 2v1m0 52v1m1-51v1m0 11v1m0 1v1m0 10v1m0 3v1m0 19v1m1-2v1m2-4v1m1-2v1m1-60v1m1 27v1m0 10v1m1-29v1m0 15v1m0 4v3m0 3v1m1-30v1m0 4v1m0 22v1m1 19v2m0 2v4m1-59v1m0 57v2m1-56v1m0 20v1m0 32v1m1-61v1m0 58v1m1-61v1m0 4v1m0 3v1m1 15v1m1-27v1m0 32v1m0 24v1m1-60v1m0 57v1m4-45v1m0 39v1m1-59v1m0 17v1m0 16v1m0 24v1m0 2v6m1-2v2m1-68v1m0 2v1m0 6v1m0 55v1m1-30v2m0 26v1m1-58v1m0 25v1m0 3v1m0 2v1m0 22v1m1-28v3m0 23v1m1-29v1m5-23v1m1-2v1m0 24v1m0 21v1m0 3v5m1-57v1m0 5v1m0 48v2m1-55v1m0 19v1m0 32v1m1-37v1m0 10v1m0 23v1m1-51v1m0 48v1m1-66v1m0 45v1m0 17v1m1-20v1m1-13v1m0 10v1m0 16v1m1-60v2m0 56v1m2-27v4m0 20v1m1-22v1m1-23v1m0 20v1m0 2v1m0 21v7m1-30v1m0 28v1m1-61v1m0 29v1m0 29v1m1-57v1m0 20v1m0 14v1m0 18v1m1-57v1m0 3v1m0 4v1m0 21v1m0 23v1m1-61v1m0 12v1m0 20v1m0 24v1m1-61v1m1 39v1m0 16v1m1-48v1m0 45v1m1-20v1m1-3v1m0 18v1m1-59v1m0 16v2m1-11v1m0 5v1m0 19v1m0 25v8m1-56v1m0 3v1m0 12v2m0 36v1m1-67v2m0 7v1m0 55v1m1-58v1m0 27v2m0 6v2m0 18v1m1-57v1m0 29v1m0 1v1m0 22v1m1-27v2m0 6v1m0 16v1m1-45v1m0 18v1m0 23v1m1-50v1m0 16v1m0 6v1m0 23v1m1-26v1m0 6v1m1-9v1m1-2v1m1-30v1m0 33v1m1 20v8m1-51v1m0 49v1m1-57v1m0 1v1m0 52v1m1-37v1m0 10v1m0 23v1m1-28v1m0 25v1m1-2v1m1-52v1m0 21v1m0 27v1m1-63v1m0 9v1m1-9v1m0 39v1m1-25v1m0 22v1m1-9v1m0 2v1m0 3v1m1-2v1m1-31v1m0 51v7m1-34v1m0 31v2m1-2v1m1-50v1m0 47v1m1-61v1m0 4v1m0 2v1m0 50v1m1-2v1m1-2v1m1-60v1m0 31v1m1-34v1m1-2v1m0 10v1m0 19v1m0 25v1m1-59v1m1 15v1m0 19v1m1-30v1m0 5v1m0 19v1m0 27v1m0 4v2m1-69v1m0 5v1m0 5v1m0 54v1m1-66v1m0 64v1m1-55v1m0 23v1m0 1v1m0 26v1"/>
<path stroke="#f8ba3d" d="m0 5v1m0 3v1m0 63v1m1-59v1m0 56v1m1-58v2m0 24v3m0 27v1m1-2v1m1-34v1m0 3v1m0 2v1m1-2v1m0 23v1m1-51v1m0 24v1m1-28v1m0 25v1m1-29v1m0 32v1m1 16v1m1-21v1m0 20v1m0 4v6m1-2v2m1-2v1m1-59v3m0 54v1m1-52v1m0 23v1m0 25v1m2-4v1m1-2v1m1-61v1m1 38v1m0 17v1m1-46v1m0 20v3m0 2v1m0 17v1m1-47v1m0 25v2m1-30v1m0 26v2m0 20v1m0 3v7m1-35v1m0 32v2m1-58v1m0 55v1m1-2v1m1-37v1m0 34v1m1-62v1m0 2v2m0 2v1m0 17v2m0 14v1m1-42v1m0 39v1m0 17v1m1-60v1m0 31v1m0 25v1m1-49v1m1 18v1m0 7v1m0 17v1m1-49v1m0 46v1m1-59v1m0 36v1m1-23v1m0 43v1m0 3v2m0 2v3m1-71v1m0 16v1m0 51v1m1-66v1m0 63v1m1-2v1m1-58v2m0 24v1m0 1v1m0 8v1m0 18v1m1-33v1m0 3v1m0 2v1m0 23v1m1-48v1m0 17v1m0 27v1m1-46v1m0 14v1m0 10v1m1-28v1m0 42v1m1-52v1m0 49v1m1-53v1m0 50v1m1-26v1m1-30v1m0 7v1m0 46v1m0 3v2m0 2v3m1-59v1m0 56v1m1-59v1m0 56v1m1-58v2m0 31v3m0 20v1m1-28v1m0 25v1m1-2v1m1-66v1m0 12v1m1-3v1m0 32v1m0 17v1m1-60v1m2 10v1m0 20v4m0 1v1m1-29v1m0 25v2m0 18v1m1-22v1m0 22v5m0 3v2m1-61v1m0 28v1m0 29v2m1-36v1m0 2v1m0 30v1m1-62v1m0 3v1m0 34v1m0 20v1m1-62v1m0 12v1m0 22v1m0 23v1m1-58v1m0 1v2m0 18v1m0 33v1m1-61v1m0 11v1m0 20v1m1-35v1m0 57v1m1-60v1m1-2v1m2 55v1m0 9v1m1-61v1m0 6v1m0 44v4m0 4v2m1-64v1m0 22v1m0 1v1m0 36v2m1-67v1m0 7v1m0 56v1m1-59v1m0 2v1m0 53v1m1-59v3m0 26v1m0 27v1m1-30v1m0 2v1m0 23v1m1-48v1m0 1v1m0 43v1m1-50v1m0 18v1m2 8v1m2 15v1m0 9v2m1-10v4m0 4v2m1-67v1m0 64v2m1-68v1m0 15v1m0 49v1m1-68v1m0 8v2m0 31v1m0 23v1m1-29v1m1-26v1m0 49v1m1-2v1m1-64v1m0 32v1m1-31v1m0 4v1m0 33v1m0 17v1m1-43v1m1 14v1m0 3v3m0 18v1m1-22v2m1-3v1m0 1v1m0 22v2m0 4v3m1-57v1m0 54v1m1-62v1m0 59v2m1-59v1m0 24v1m0 8v1m0 1v1m0 19v2m1-59v1m0 23v1m0 7v1m0 23v1m1-61v1m0 2v4m0 27v1m0 24v1m1-2v1m1-49v1m1 18v1m0 25v1m3-52v1m0 20v1m0 36v2m1-55v1m0 45v2m0 6v2m1-71v1m0 5v1m0 6v1m0 17v1m0 37v1m1-68v2m0 11v1m0 52v1m1-59v1m0 56v1m1-58v2m0 26v1m0 8v1m0 18v1m1-2v1m1-49v1m0 14v1m0 6v1m0 23v1m1-50v1m0 16v1m0 1v1m0 4v1m0 23v1m1-26v1m1-2v1m1 4v1m1-36v1m0 61v3m1-10v3m0 5v2m1-35v1m0 32v1m1-59v1m0 56v1m1-39v1m0 36v1m1-29v1m0 26v1m2-67v1m0 62v1m2-60v1m0 2v2m1 32v1m0 17v1m1-27v1m0 4v3m1-3v2m0 18v1m0 9v2m1-60v1m0 57v2m1-35v1m0 32v2m1-58v1m0 55v1m1-34v1m0 8v1m0 22v1m1-62v1m0 2v1m0 21v1m0 34v1m1-58v2m1-6v1m0 57v1m1-60v1m2 54v1m1-49v1m1 46v1m0 8v3m1-2v2m1-2v1m1-2v1m1-2v1m1-57v1m0 27v1m0 26v1m1-29v1m0 26v1m1-49v1m0 18v1m0 9v1m1-14v1m0 11v1m1-28v1m0 42v1m1-2v1m1-53v1m0 50v1m1-26v1m0 24v1m0 8v3m1-58v1m0 24v1m0 30v2m1-59v1m0 6v1m0 49v1m1-59v1m0 22v1m0 33v1m1-2v1m1-67v1m0 14v1m0 30v1m0 18v1m1-30v1m0 27v1m2-22v1m0 17v1m1-59v5m0 23v1m1-17v1m1 13v1m0 2v1m0 4v3m1-3v2m0 19v1m0 7v3m1-55v1m0 21v1m0 1v1m0 29v2m1-62v1m0 28v1m0 30v1m1-62v1m0 28v1m0 30v1m1-62v1m0 3v1m0 7v1m0 24v1m0 22v1m1-58v1m0 55v1m1-61v1m0 3v1m0 54v1m1-61v1m0 11v1m1 44v1m2-22v1m1-3v1m1-22v1m0 47v5m1-71v1m0 68v1m1-2v2m1-59v1m0 56v1m1-59v1m0 27v1m0 6v2m0 20v1"/>
<path stroke="#febe3c" d="m0 17v1m0 2v1m0 53v2m1-60v1m0 1v1m0 54v1m1-25v1m0 22v1m1-34v1m0 2v1m0 3v1m1 22v1m1-50v1m0 15v1m0 1v1m1 27v1m1-2v1m1-46v1m0 19v1m0 23v1m1 7v6m1-68v1m0 54v4m0 6v3m1-37v1m0 33v2m1-62v1m0 5v1m0 1v1m0 15v1m0 34v1m1-2v1m1-2v1m1-68v1m0 64v1m1-2v1m1-65v1m1 2v2m0 3v1m0 23v1m0 28v1m1-45v2m1 15v1m0 3v2m1 18v1m0 8v6m1-13v3m0 7v2m1-63v1m0 26v2m0 32v2m1-64v1m0 25v1m0 1v1m0 32v1m1-63v1m0 2v1m0 24v1m0 32v1m1-63v1m0 2v1m0 6v1m0 25v1m0 24v1m1-62v2m0 57v1m1-60v3m0 55v1m2-62v1m0 57v1m1-60v1m1-2v1m0 37v1m1 26v6m1-55v1m0 16v1m0 25v3m0 7v2m1-59v1m0 17v1m0 37v2m1-71v1m0 1v1m0 8v1m0 56v2m1-60v1m0 56v2m1-33v1m0 6v1m0 22v1m1-31v1m0 28v1m1-48v1m1-5v1m0 47v1m3 8v1m1-59v1m0 44v1m0 7v7m1-41v1m0 4v1m0 22v3m0 7v2m1-69v1m0 65v2m1-56v1m0 52v2m1-61v1m0 19v1m0 37v1m1-68v1m0 14v1m0 50v1m1-22v1m1 17v1m2-61v5m0 52v1m1-45v1m0 23v1m1-8v1m0 4v1m1 27v6m1-58v1m0 22v1m0 31v3m1-37v2m0 32v2m1-64v1m0 3v1m0 56v2m1-3v1m1-62v1m0 1v1m0 6v1m0 50v1m1-62v3m0 31v1m1-35v3m0 55v1m1-60v1m1 55v1m1-21v1m1-31v1m0 20v1m0 38v1m1-35v1m0 28v2m0 1v4m1-3v2m1-59v1m0 56v1m1-70v2m0 66v1m1-2v1m1-33v2m0 5v1m0 23v1m1-22v1m0 18v1m1-34v1m0 2v1m0 3v1m0 24v1m1-27v1m0 23v1m1-26v1m0 5v1m0 17v1m1-46v1m1 53v3m1-67v1m0 32v1m0 26v2m0 2v3m1-61v1m0 57v2m1-61v1m0 19v1m0 38v1m1-61v1m0 4v1m0 14v1m0 38v1m1-61v1m0 2v1m0 17v1m0 13v2m0 22v1m1-23v1m0 19v1m1-30v1m0 27v1m1-54v1m1-3v1m0 51v1m1-59v4m1 8v1m0 23v1m0 18v1m1-43v1m1 40v1m0 7v7m1-63v1m0 26v1m0 32v2m1-37v1m0 1v1m0 31v2m1-35v1m0 32v1m1-38v1m0 12v1m0 22v1m1-63v1m0 1v1m0 6v1m0 50v1m1-61v2m0 57v1m1-61v2m1-3v1m0 57v1m1-21v1m1-31v1m0 46v1m1-2v1m0 10v3m1-36v1m0 21v1m0 6v2m0 2v3m1-65v1m0 21v1m0 40v2m1-43v1m0 39v2m1-60v1m0 56v2m1-60v1m0 1v1m0 54v1m1-33v2m0 5v1m0 23v1m1-31v1m0 3v1m1-7v1m0 28v1m2-53v1m0 48v1m1-20v1m0 17v1m1-53v1m0 6v1m0 19v1m0 23v1m0 10v3m1-14v1m0 6v2m0 3v2m1-2v2m1-3v2m1-57v1m0 53v1m1-60v3m0 4v1m0 25v1m0 2v1m0 21v1m1-2v1m1-54v1m0 22v1m0 27v1m1-31v1m1-35v1m0 8v1m0 51v1m1-58v2m0 35v1m1-27v1m1 53v3m1-61v1m0 3v1m0 48v3m0 2v3m1-36v2m0 31v3m1-64v1m0 3v1m0 23v1m0 32v2m1-64v1m0 60v1m1-63v1m0 2v1m0 57v1m1-62v2m0 6v1m0 17v1m0 33v1m1-62v3m0 2v1m0 34v1m0 18v1m1-60v1m0 38v1m1-10v1m0 25v1m1-60v1m1-2v1m0 30v1m1-33v1m0 67v4m1-64v1m0 55v2m0 3v3m1-66v1m0 9v1m0 52v2m1-67v1m0 63v2m1-60v1m0 2v1m0 53v2m1-60v3m0 54v2m1-34v3m0 4v1m0 23v1m1-34v1m0 2v1m0 3v1m0 24v1m1-3v1m1-46v1m0 12v1m0 30v1m1-52v1m1-3v1m1 30v1m0 28v4m1-60v1m0 51v2m0 3v3m1-69v1m0 65v2m1-37v1m0 33v2m1-57v1m0 53v2m1-69v1m0 7v3m0 30v1m0 3v1m0 20v1m1-2v1m2-4v1m1-63v2m0 6v1m1 50v1m1-21v1m1-28v1m0 44v1m0 10v3m1-61v1m0 52v2m0 3v4m1-36v1m0 32v2m1-3v2m1-60v1m0 21v1m0 34v2m1-36v1m0 32v1m1-62v3m0 5v1m0 17v1m0 33v1m1-61v3m0 1v1m1-6v1m0 57v1m1-21v1m1-31v1m0 46v1m2-51v1m0 47v1m0 9v4m1-14v1m0 5v1m0 5v2m1-58v1m0 54v2m1-67v1m0 7v1m0 2v1m0 53v1m1-2v1m1-59v2m0 55v1"/>
<path stroke="#fec338" d="m0 6v3m0 67v1m1-60v1m0 56v2m1-25v1m0 21v1m1-34v2m0 9v1m0 19v1m1-32v1m0 4v1m0 24v1m1-3v1m2-22v1m0 30v4m1-8v8m1-43v1m0 31v1m0 6v3m1-3v2m1-64v1m0 60v1m1-3v2m1-63v1m0 3v1m0 3v1m0 13v1m0 37v1m1-62v3m0 30v1m0 4v1m0 21v1m1-55v1m0 23v1m0 27v1m2-57v1m0 52v1m1-59v3m0 34v1m1-3v1m0 19v1m0 12v4m1-8v8m1-61v1m0 48v2m0 6v3m1-4v3m1-62v1m0 58v1m1-3v2m1-3v1m1-63v2m0 24v1m0 34v1m1-56v1m0 26v1m0 25v1m1-58v1m0 28v1m1-34v1m0 57v1m2 8v5m1-9v8m1-67v1m0 48v1m0 6v1m0 6v3m1-59v1m0 55v2m1-69v1m0 23v1m0 41v2m1-72v1m0 10v1m0 1v1m0 55v1m1-60v2m0 56v1m1-3v1m1-34v2m0 30v1m1-35v1m0 1v1m0 4v1m0 24v1m1-34v2m0 5v1m1-27v1m0 48v1m1 10v5m1-37v1m0 27v3m0 1v4m1-70v1m0 58v1m0 7v2m1-3v2m1-39v1m0 35v2m1-71v1m0 6v1m0 23v1m0 36v1m1-70v1m0 10v1m0 17v1m0 37v1m1-61v2m0 30v1m0 26v1m1-31v1m0 27v1m1-22v1m0 19v1m1-65v1m0 8v1m0 23v1m0 28v1m2-46v1m0 12v1m0 8v1m0 19v1m0 11v6m1-48v1m0 2v1m0 25v1m0 9v8m1-18v1m0 5v2m0 6v3m1-65v1m0 61v2m1-3v2m1-38v1m0 34v1m1-64v1m0 1v1m0 22v1m0 1v1m0 33v1m1-62v1m0 24v1m0 34v1m1-56v1m0 4v1m0 47v1m1-58v1m0 55v1m1-22v1m0 18v1m1-60v1m0 9v1m0 20v1m1 24v1m0 11v5m1-38v1m0 19v1m0 8v3m0 1v5m1-12v1m0 7v3m1-76v1m0 15v2m0 16v1m0 37v2m1-74v1m0 4v1m0 10v1m0 13v1m0 40v2m1-61v1m0 57v2m1-61v2m0 56v1m1-24v1m1-13v1m0 1v1m0 4v1m0 24v1m1-49v1m0 26v1m1-15v2m0 11v1m0 18v1m1-52v1m1-3v1m0 25v1m0 23v1m0 11v5m1-69v1m0 50v1m0 8v2m0 3v4m1-18v1m0 5v1m0 7v3m1-4v2m1-3v2m1-3v1m1-2v1m1-62v2m0 30v1m0 26v1m1-68v1m1 34v1m0 28v1m1-64v3m0 5v1m0 33v1m1 17v1m1-23v1m0 31v6m1-45v1m0 35v9m1-65v1m0 51v2m0 7v2m1-61v1m0 57v2m1-65v1m0 26v1m0 34v2m1-65v1m0 2v1m0 22v1m0 35v1m1-64v1m0 1v1m0 24v1m0 34v1m1-63v1m0 23v1m0 35v1m1-56v1m1-6v2m0 55v1m1-60v1m1-3v1m0 57v1m1-60v1m0 37v1m0 30v5m1-38v1m0 28v2m0 3v4m1-76v1m0 63v1m0 7v3m1-60v1m0 17v1m0 38v2m1-61v1m0 57v1m1-2v1m1-60v1m0 56v1m1-2v1m1-35v1m0 1v1m0 29v1m1-48v1m1 12v1m0 30v1m1 12v1m1-67v1m0 61v6m1-10v2m0 3v4m1-43v1m0 4v1m0 25v1m0 7v3m1-71v1m0 67v2m1-64v1m0 60v1m1-63v1m0 7v1m0 51v2m1-63v1m0 34v2m0 23v1m1-69v1m0 7v1m0 30v1m1 25v1m1-55v1m0 51v1m1-63v3m0 4v1m1 22v1m0 28v1m1-44v1m0 18v4m0 30v7m1-64v1m0 15v1m0 1v1m0 26v1m0 8v2m0 3v4m1-18v1m0 4v1m0 8v3m1-3v2m1-39v1m0 35v1m1-62v1m0 22v1m0 1v1m0 33v2m1-64v2m0 35v2m0 22v1m1-38v1m1-21v1m0 53v1m1-60v2m0 55v1m1-60v1m0 9v1m1 26v1m0 18v1m1-50v1m0 58v6m1-9v1m0 4v3m1-40v1m0 22v1m0 4v1m0 8v2m1-75v1m0 14v1m0 17v1m0 38v2m1-74v1m0 12v1m0 57v2m1-61v1m0 57v1m1-2v1m1-3v1m2-34v1m0 4v1m0 24v1m1-27v1m1 22v1m0 13v2m1-6v6m1-10v2m0 4v3m1-17v1m0 4v1m0 8v2m1-43v1m0 39v2m1-71v1m0 67v1m1-70v1m0 67v1m1-28v1m0 24v1m1-30v1m0 27v1m1-55v1m0 31v1m0 19v1m1-66v1m0 10v1m0 32v1m1-42v3m0 2v1m0 53v1m1-22v1m1-12v1m0 5v4m0 19v1m0 10v7m1-46v1m0 35v2m0 3v4m1-17v1m0 3v1m0 9v2m1-65v1m0 61v2m1-62v1m0 22v2m0 34v1m1-64v1m0 26v1m0 34v1m1-64v3m0 22v1m0 13v1m0 21v1m1-51v1m0 12v1m0 9v1m0 4v1m0 20v1m1-57v1m0 5v1m0 47v1m1-60v2m0 29v1m1-34v1m0 57v1m1 11v2m1-17v1m0 10v6m1-45v1m0 35v1m0 4v4m1-68v1m0 26v1m0 23v1m0 3v1m0 8v3m1-69v1m0 9v1m0 54v2m1-3v2m1-61v1m0 1v1m0 55v1m1-2v1"/>
<path stroke="#fec934" d="m0 18v2m0 57v1m1-2v1m1-27v1m0 23v1m1-28v1m0 24v1m0 14v4m1-53v2m0 44v6m1-53v1m0 6v1m0 24v1m0 11v8m1-71v1m0 29v1m0 18v1m0 10v10m1-12v2m0 4v4m1-13v1m0 8v3m1-73v1m0 31v1m0 19v1m0 5v1m0 10v2m1-66v1m0 62v1m1-72v1m0 68v2m1-58v1m0 54v1m1-43v1m0 39v1m1-70v1m0 9v1m0 57v1m1-63v2m0 58v1m0 15v2m1-85v1m0 11v1m0 52v1m0 13v6m1-84v6m0 2v1m0 24v1m0 41v8m1-11v10m1-44v1m0 30v3m0 4v4m1-64v1m0 15v1m0 25v1m0 8v1m0 8v3m1-21v1m0 4v1m0 11v2m1-67v1m0 63v1m1-3v2m1-66v1m0 1v1m0 23v1m0 36v1m1-65v2m0 23v2m0 35v1m1-54v2m0 13v1m0 13v1m1 20v1m0 14v3m1-75v1m0 54v1m0 12v6m1-78v1m0 8v1m0 59v8m1-79v1m0 68v9m1-70v1m0 47v1m0 9v2m0 5v4m1-49v1m0 26v1m0 7v1m0 8v3m1-15v1m0 10v3m1-71v1m0 66v2m1-62v2m0 14v1m0 42v1m1-61v1m0 57v2m1-3v1m1-27v2m0 22v1m1-28v1m0 39v4m1-52v1m0 31v1m0 12v6m1-21v1m0 11v8m1-46v1m0 35v9m1-72v1m0 25v1m0 23v1m0 9v2m0 5v3m1-72v1m0 5v1m0 44v1m0 7v1m0 8v3m1-20v1m0 4v1m0 10v2m1-3v2m1-66v1m0 20v1m0 41v1m1-58v2m0 53v1m1-64v1m0 60v2m1-64v1m0 2v1m0 57v1m1-62v1m0 5v1m0 52v1m0 15v3m1-74v1m0 23v1m0 42v6m1-83v6m0 1v1m0 66v8m1-42v1m0 19v1m0 10v10m1-45v2m0 31v1m0 6v3m1-66v1m0 52v1m0 8v3m1-67v1m0 2v1m0 47v1m0 11v2m1-3v2m1-67v1m0 2v1m0 60v1m1-66v1m0 1v1m0 23v1m0 36v1m1-64v1m0 24v1m0 35v1m1-39v1m0 36v1m1-24v1m0 20v1m0 14v3m1-75v1m0 67v7m1-79v1m0 69v8m1-22v1m0 10v9m1-12v2m0 5v4m1-14v1m0 9v3m1-71v1m0 49v1m0 4v1m0 11v2m1-71v1m0 66v2m1-62v1m0 58v2m1-62v2m0 57v1m1-3v1m1-27v1m0 23v1m1-34v1m0 31v1m0 13v4m1-52v2m0 30v1m0 12v7m1-67v1m0 56v9m1-67v1m0 55v9m1-12v2m0 5v4m1-46v1m0 4v1m0 26v1m0 9v2m1-66v1m0 50v1m0 11v2m1-73v1m0 31v1m0 36v2m1-41v1m0 37v1m1-65v1m0 6v1m0 16v1m0 37v2m1-65v1m0 4v1m0 56v1m1-61v1m0 4v1m0 52v1m1-62v1m0 58v1m0 14v4m1-85v1m0 77v7m1-81v5m0 54v1m0 11v8m1-42v1m0 30v10m1-65v1m0 18v3m0 21v1m0 9v1m0 6v4m1-67v1m0 44v1m0 7v1m0 9v2m1-20v1m0 3v1m0 11v3m1-4v2m1-3v1m1-39v1m0 35v2m1-65v1m0 24v1m0 36v1m1-53v1m0 13v1m0 13v1m0 21v1m1-3v1m0 14v4m1-76v1m0 6v1m0 61v6m1-48v1m0 26v1m0 11v8m1-11v10m1-49v1m0 35v2m0 5v4m1-79v1m0 8v1m0 55v1m0 9v3m1-20v1m0 3v1m0 11v2m1-61v1m0 57v2m1-72v1m0 10v1m0 56v2m1-62v2m0 57v1m1-3v1m1-27v1m0 24v1m1-35v1m0 31v1m0 13v5m1-68v1m0 14v2m0 5v1m0 24v1m0 12v7m1-70v1m0 60v8m1-41v1m0 18v1m0 10v3m0 1v6m1-67v1m0 53v2m0 6v3m1-14v1m0 9v3m1-20v1m0 2v2m0 11v2m1-66v1m0 62v1m1-72v1m0 68v2m1-59v1m0 16v1m0 38v1m1-71v1m0 10v1m0 56v1m1-63v1m0 1v1m0 57v1m1 12v5m1-21v1m0 12v7m1-80v4m0 34v1m0 19v1m0 11v9m1-11v9m1-65v1m0 18v1m0 23v1m0 9v1m0 7v3m1-64v1m0 49v1m0 9v2m1-19v4m0 12v2m1-67v1m0 63v1m1-66v1m0 62v2m1-66v1m0 25v1m0 36v1m1-40v2m0 35v1m1-29v1m0 25v1m1 12v4m1-76v1m0 28v1m0 26v1m0 12v6m1-78v1m0 56v1m0 11v8m1-79v1m0 67v10m1-22v1m0 8v2m0 6v4m1-43v1m0 20v1m0 7v1m0 8v3m1-19v1m0 1v2m0 11v3m1-62v1m0 57v2m1-72v1m0 10v1m0 57v1m1-61v1m0 57v1m1-2v1m1-28v1m0 2v1m0 21v1m1-35v2m0 5v1m0 24v1m0 13v5m1-68v1m0 14v2m0 43v7m1-70v1m0 48v1m0 11v8m1-46v1m0 34v3m0 2v5m1-46v1m0 4v1m0 18v1m0 8v2m0 6v3m1-66v1m0 44v1m0 6v1m0 9v3m1-73v1m0 31v1m0 21v4m0 11v2m1-3v2m1-66v1m0 20v1m0 40v2m1-65v1m0 5v1m0 14v1m0 40v1m1-64v1m0 3v1m0 3v1m0 27v2m0 23v1m1-63v3m0 58v1m1-69v1m0 65v1m0 13v5m1-21v1m0 12v7m1-78v2m0 25v1m0 40v9m1-22v1m0 10v10m1-66v1m0 18v1m0 33v1m0 7v3m1-50v1m0 35v1m0 9v3m1-64v1m0 44v3m0 12v2m1-3v1m1-66v1m0 62v2m1-65v2m0 23v1m0 36v1m1-39v1m0 10v1m0 24v1m2-31v1m0 26v1m0 13v5m1-77v1m0 35v1m0 19v1m0 12v7m1-79v1m0 68v9m1-80v1m0 30v1m0 36v3m0 2v5m1-70v1m0 57v1m0 6v4m1-14v1m0 9v2m1-78v1m0 59v3m0 12v2m1-62v1m0 13v1m0 2v1m0 40v2m1-75v1m0 2v1m0 9v1m0 58v1m1-61v1m0 57v2m1-3v1"/>
<path stroke="#fad62d" d="m0 80v2m0 4v4m1-12v1m0 6v3m0 16v2m1-30v1m0 6v3m0 15v4m1-31v1m0 7v2m0 14v6m1-32v1m0 7v1m0 15v7m1-82v1m0 1v1m0 46v1m0 7v1m0 15v8m1-34v1m0 7v1m0 15v8m1-58v1m0 31v1m0 15v8m1-53v1m0 25v1m0 16v9m1-79v1m0 47v3m0 16v10m1-84v1m0 30v1m0 40v10m1-56v1m0 43v3m0 3v4m1-77v1m0 23v1m0 40v2m0 5v3m1-12v2m0 6v2m0 16v3m1-89v1m0 2v1m0 27v1m0 27v1m0 6v2m0 16v4m1-90v1m0 28v1m0 36v2m0 15v6m1-95v1m0 3v4m0 63v1m0 15v7m1-25v1m0 15v7m1-55v1m0 21v1m0 7v1m0 15v8m1-59v1m0 24v1m0 6v1m0 15v9m1-77v1m0 15v1m0 27v1m0 5v1m0 15v9m1-31v3m0 17v10m1-78v1m0 65v10m1-77v2m0 63v3m0 3v4m1-12v2m0 5v3m1-12v2m0 5v3m0 16v3m1-58v1m0 26v1m0 7v2m0 16v4m1-86v1m0 53v1m0 7v2m0 15v6m1-88v1m0 62v2m0 15v7m1-90v1m0 63v2m0 14v8m1-91v1m0 64v1m0 15v9m1-92v1m0 36v1m0 20v1m0 6v1m0 15v9m1-83v1m0 27v1m0 43v9m1-31v3m0 17v9m1-56v1m0 44v10m1-12v3m0 3v4m1-12v2m0 5v3m1-12v2m0 5v3m0 16v2m1-30v1m0 7v2m0 15v5m1-55v1m0 22v1m0 7v2m0 15v6m1-59v1m0 25v1m0 7v2m0 14v7m1-33v1m0 7v1m0 15v8m1-54v1m0 27v1m0 15v8m1-33v1m0 6v1m0 15v9m1-33v1m0 4v1m0 16v9m1-31v3m0 17v9m1-11v9m1-11v2m0 3v4m1-11v2m0 4v4m1-77v1m0 64v1m0 6v3m0 16v2m1-94v1m0 4v1m0 58v1m0 6v3m0 15v5m1-95v1m0 3v1m0 28v1m0 29v1m0 7v1m0 15v6m1-95v1m0 4v3m0 55v1m0 7v1m0 15v7m1-55v1m0 21v1m0 7v1m0 15v8m1-56v1m0 21v1m0 7v1m0 15v8m1-10v8m1-62v1m0 34v1m0 16v9m1-31v1m0 19v9m1-78v1m0 1v1m0 64v9m1-77v2m0 64v2m0 3v4m1-11v1m0 5v3m1-11v1m0 6v2m0 16v3m1-83v1m0 52v1m0 6v2m0 16v4m1-86v1m0 54v1m0 6v2m0 15v6m1-88v1m0 63v1m0 15v7m1-90v1m0 6v1m0 57v1m0 15v7m1-91v1m0 36v1m0 20v1m0 7v1m0 15v8m1-61v1m0 33v1m0 15v9m1-33v1m0 21v9m1-30v2m0 17v10m1-57v1m0 44v10m1-87v1m0 2v1m0 71v3m0 3v4m1-12v2m0 5v3m1-12v2m0 6v2m0 16v3m1-56v1m0 24v2m0 6v2m0 15v5m1-58v1m0 25v1m0 7v2m0 15v6m1-25v2m0 14v8m1-59v1m0 32v2m0 14v8m1-26v1m0 15v9m1-54v1m0 19v1m0 6v1m0 15v9m1-79v1m0 45v1m0 4v1m0 16v9m1-84v1m0 30v1m0 41v9m1-11v10m1-84v1m0 71v2m0 4v4m1-83v1m0 70v2m0 5v3m1-82v1m0 13v1m0 55v1m0 6v3m0 16v3m1-95v1m0 63v1m0 7v2m0 15v5m1-95v1m0 3v1m0 58v1m0 7v2m0 14v7m1-98v3m0 4v3m0 55v1m0 7v2m0 14v7m1-33v1m0 7v1m0 15v8m1-56v1m0 21v1m0 7v1m0 15v8m1-26v1m0 15v9m1-78v1m0 49v1m0 16v9m1-78v1m0 1v1m0 64v9m1-11v9m1-76v1m0 64v2m0 4v3m1-11v1m0 5v3m1-11v1m0 6v2m0 17v3m1-31v1m0 6v2m0 16v5m1-83v1m0 22v1m0 27v1m0 7v1m0 15v7m1-33v1m0 7v1m0 15v7m1-90v1m0 56v1m0 7v1m0 15v8m1-34v1m0 7v1m0 15v8m1-27v1m0 16v8m1-27v1m0 16v9m1-56v1m0 44v9m1-89v1m0 77v9m1-86v1m0 1v1m0 72v2m0 3v4m1-11v1m0 5v3m1-11v1m0 6v2m0 16v3m1-56v2m0 24v1m0 6v2m0 15v5m1-31v1m0 7v1m0 15v6m1-54v1m0 21v1m0 7v1m0 15v7m1-33v1m0 7v1m0 14v8m1-83v1m0 3v1m0 45v1m0 7v1m0 14v9m1-84v1m0 25v1m0 30v1m0 15v9m1-84v1m0 30v1m0 41v9m1-11v10m1-12v10m1-78v1m0 65v2m0 4v4m1-69v1m0 13v1m0 42v2m0 5v3m1-70v1m0 57v1m0 6v3m0 16v3m1-31v1m0 7v2m0 15v5m1-99v1m0 3v1m0 4v1m0 2v1m0 54v1m0 7v2m0 15v6m1-97v2m0 5v2m0 25v1m0 7v1m0 21v1m0 7v2m0 14v8m1-64v1m0 29v1m0 7v2m0 14v8m1-56v1m0 29v1m0 15v8m1-33v1m0 6v1m0 15v9m1-78v1m0 44v1m0 4v1m0 16v9m1-78v1m0 66v9m1-77v1m0 65v3m0 2v4m1-76v1m0 64v2m0 4v4m1-12v2m0 5v3m1-12v1m0 6v3m0 16v3m1-83v1m0 51v1m0 7v2m0 15v5m1-32v1m0 7v2m0 15v6m1-83v1m0 49v1m0 7v1m0 15v7m1-90v1m0 56v1m0 7v1m0 15v8m1-83v1m0 21v1m0 34v1m0 15v8m1-91v1m0 57v1m0 22v9m1-33v1m0 4v1m0 16v9m1-90v1m0 6v1m0 71v9m1-59v1m0 47v9m1-85v1m0 73v2m0 4v3m1-11v1m0 6v2m1-11v1m0 6v2m0 16v4m1-31v1m0 6v2m0 15v6m1-32v1m0 7v1m0 15v7m1-59v1m0 25v1m0 7v1m0 15v7m1-33v1m0 7v1m0 15v8m1-54v1m0 27v1m0 15v8m1-84v1m0 4v1m0 45v1m0 5v1m0 15v9m1-57v1m0 24v1m0 20v10m1-12v10m1-84v1m0 30v1m0 40v4m0 1v5m1-53v1m0 40v3m0 3v4m1-77v1m0 7v1m0 56v2m0 5v3m1-76v1m0 5v1m0 57v2m0 6v2m0 16v4m1-100v1m0 4v1m0 4v1m0 2v1m0 54v1m0 7v2m0 15v6m1-91v1m0 2v1m0 54v1m0 7v2m0 15v6m1-96v1m0 5v2m0 64v1m0 15v7m1-25v1m0 14v8m1-57v2m0 22v1m0 6v1m0 15v9m1-27v1m0 15v9m1-76v1m0 47v1m0 16v9m1-11v10m1-78v1m0 65v3m0 2v5m1-12v2m0 4v4m1-12v2m0 5v3m1-12v1m0 7v2m0 16v3m1-31v1m0 7v2m0 15v5m1-32v1m0 7v2m0 15v6m1-33v1m0 7v2m0 14v8m1-91v1m0 64v1m0 15v8m1-91v1m0 64v1m0 15v9m1-55v1m0 20v1m0 6v1m0 15v9m1-83v1m0 54v1m0 16v9m1-83v1m0 71v9m1-88v1m0 4v1m0 71v3m0 2v5m1-12v2m0 4v4m1-12v2m0 5v3m1-12v1m0 6v3m0 15v4"/>
<path stroke="#f7dc2a" d="m0 82v4m1-7v6m1-8v2m0 2v2m1-35v1m0 26v1m0 4v2m1-36v1m0 26v1m0 5v1m1-9v1m0 5v1m1-56v1m0 46v1m0 5v1m1-9v1m0 5v1m1-33v1m0 24v1m0 3v1m3-56v1m0 24v1m0 43v3m1-51v1m0 44v5m1-66v2m0 57v6m1-74v1m0 37v2m0 26v2m0 2v2m1-77v1m0 3v1m0 5v1m0 1v1m0 31v1m0 23v2m0 4v1m1-75v3m0 40v1m0 22v1m0 5v2m1-10v1m0 6v1m1-33v1m0 29v1m1-36v1m0 31v1m1-37v1m0 33v1m1-52v2m1-3v1m1 65v3m1-6v5m1-7v5m1-8v2m0 3v2m1-9v1m0 5v1m1-60v1m0 50v1m0 5v1m1-37v1m0 27v1m0 5v1m1-59v1m0 49v1m0 5v1m1-3v1m1-66v1m0 57v1m0 4v1m1-65v1m0 6v1m0 22v1m1-26v1m1-6v1m0 1v1m0 75v3m1-6v5m1-7v5m1-8v2m0 2v3m1-36v1m0 26v1m0 4v2m1-9v1m0 5v1m1-35v1m0 25v1m0 5v1m1-59v1m0 49v1m0 5v1m1-55v1m0 51v1m1-29v1m0 24v1m1-58v1m0 4v1m0 21v1m1 1v1m1-33v1m0 73v3m1-73v1m0 23v1m0 43v4m1-66v2m0 57v6m1-78v1m0 10v1m0 1v1m0 27v1m0 28v2m0 2v2m1-73v1m0 5v3m0 56v1m0 4v2m1-75v2m0 33v1m0 35v2m1-3v1m1-40v1m0 6v1m0 29v1m1-36v1m0 26v1m0 5v1m1-53v1m0 44v1m0 3v1m1-52v2m1-3v1m1 65v3m1-6v5m1-7v6m1-34v1m0 25v1m0 3v2m1-37v1m0 28v1m0 4v1m1-37v1m0 27v1m0 5v2m1-10v1m0 6v1m1-67v1m0 63v1m1-31v1m1-31v1m0 27v1m0 26v1m1-58v1m1-3v1m1-5v2m0 75v3m1-6v5m1-7v6m1-8v1m0 3v2m1-9v2m0 4v1m1-9v1m0 5v1m1-9v1m0 5v1m1-59v1m0 24v1m0 24v1m0 5v1m1-59v1m0 25v1m0 29v1m1-59v1m0 51v1m0 2v1m2-54v1m0 21v1m1 44v4m1-50v1m0 43v5m1-74v1m0 6v1m0 58v6m1-67v1m0 1v1m0 27v1m0 2v1m0 25v2m0 2v3m1-77v1m0 2v1m0 5v3m0 26v1m0 29v1m0 4v2m1-40v1m0 30v1m0 5v1m1-40v1m0 7v1m0 22v1m0 5v1m1-34v2m0 23v1m0 5v1m1-39v1m0 2v1m0 26v1m0 5v1m1-52v1m0 43v1m0 3v1m2-53v2m1 64v4m1-7v5m1-7v6m1-62v1m0 53v1m0 3v2m1-8v1m0 4v2m1-3v1m1-66v1m0 62v1m1-67v1m0 63v1m1-67v1m0 7v1m0 49v1m1-2v1m0 3v1m2-33v1m1-31v1m0 75v3m1-6v5m1-7v6m1-8v1m0 3v2m1-8v1m0 4v2m1-36v1m0 31v2m1-57v1m0 53v1m1-3v1m1-9v1m0 4v1m1-32v1m0 24v1m0 2v2m2-60v1m1 25v1m0 45v4m1-50v1m0 43v5m1-65v1m0 56v6m1-73v1m0 5v1m0 29v1m0 28v2m0 3v2m1-67v2m0 26v1m0 5v1m0 23v1m0 5v1m1-9v1m0 5v1m1-9v1m0 5v1m1-34v2m0 23v1m0 5v1m1-36v1m0 32v1m1-52v1m0 44v1m0 2v1m1-51v2m1-3v1m0 67v2m1-5v4m1-6v5m1-8v6m1-62v1m0 28v1m0 24v1m0 4v2m1-9v1m0 4v2m1-65v1m0 55v1m0 5v1m1-66v1m0 34v1m0 21v1m0 5v1m1-67v1m0 57v1m0 5v1m1-3v1m1-66v1m0 61v1m1-30v1m1-4v1m1 45v4m1-7v6m1-8v6m1-35v2m0 25v1m0 4v1m1-8v1m0 4v2m1-9v1m0 5v1m1-35v1m0 3v1m0 27v1m1-9v1m0 5v1m2-31v1m0 21v1m0 1v2m1-53v1m0 21v1m1 46v1m1-78v1m0 73v3m1-50v1m0 43v5m1-7v6m1-38v1m0 3v1m0 24v2m0 3v2m1-76v1m0 2v1m0 5v2m0 26v1m0 29v1m0 5v1m1-9v1m0 5v2m1-10v1m0 5v2m1-35v1m0 30v1m1-36v1m0 27v1m0 4v1m1-52v1m0 44v4m1-51v2m1-3v1m0 67v2m1-5v4m1-6v5m1-8v3m0 1v3m1-63v1m0 53v2m0 3v2m1-9v1m0 5v1m1-65v1m0 55v1m0 5v1m1-66v1m0 28v1m0 27v1m0 5v1m1-59v1m0 49v1m0 5v1m1-3v1m1-7v1m0 2v1m1-30v1m1-4v1m0 48v2m1-5v4m1-6v5m1-8v6"/>
<path stroke="#f5e327" d="m2 79v2m1-5v4m1-6v1m0 2v2m1-57v1m0 22v1m0 26v1m0 3v1m1-58v1m0 54v1m1-29v1m0 21v1m0 3v1m1-54v1m0 47v1m0 1v1m1-57v1m0 26v1m0 2v1m1-28v1m1-7v1m2 1v1m1 5v2m0 59v2m1-72v1m0 7v1m0 27v1m0 30v4m1-38v1m0 30v2m0 1v2m1-7v1m0 3v2m1-39v1m0 5v1m0 24v1m0 4v1m1-8v1m1-2v1m0 2v1m6-21v2m0 27v3m1-59v1m0 23v1m0 28v5m1-63v1m0 26v1m0 28v1m0 3v1m1-64v1m0 33v1m0 22v1m0 3v1m1-65v1m0 57v1m1-61v1m0 29v1m0 27v1m1-2v1m0 2v1m2-35v1m1-29v1m3 70v2m1-5v4m1-30v1m0 23v1m0 2v2m1-57v2m0 25v1m0 22v1m0 3v1m1-33v1m0 25v1m0 3v1m1-58v1m0 50v1m0 3v1m1-58v1m0 51v1m0 1v1m3-55v1m0 24v1m1-32v1m0 27v1m1-30v1m1 2v1m0 7v1m0 29v2m0 28v2m1-36v1m0 30v4m1-31v1m0 23v2m0 2v1m1-38v1m0 30v1m0 4v1m1-34v2m0 24v1m0 4v1m1-3v1m1-6v3m6 8v3m1-5v4m1-63v1m0 55v1m0 3v1m1-64v1m0 56v1m0 4v1m1-59v1m0 50v1m0 4v1m1-66v1m0 57v1m0 4v1m1-7v1m0 2v1m2-64v1m4 71v3m1-31v1m0 25v4m1-34v1m0 26v1m0 3v1m1-57v1m0 49v1m0 3v1m1-29v1m0 21v1m1-3v1m0 3v1m1-5v2m2-58v1m0 29v1m1-5v1m0 1v1m1-27v1m0 22v1m1-17v1m1-3v1m0 29v1m0 29v2m1-5v4m1-6v1m0 2v2m1-3v1m1-34v1m0 30v1m1-7v1m0 3v1m1-6v3m1-50v1m5 57v3m1-61v1m0 30v1m0 24v4m1-63v1m0 32v1m0 22v1m0 3v2m1-59v1m0 50v1m0 4v1m1-36v1m0 5v1m0 21v1m0 4v1m1-30v1m0 26v1m1-65v1m0 6v1m0 22v1m0 4v1m0 23v3m1-63v1m0 5v1m1-3v1m4 66v3m1-5v4m1-7v2m0 2v1m1-57v1m0 23v1m0 25v1m0 4v1m1-8v1m0 4v1m1-29v1m1-28v1m0 47v2m1-26v1m1-28v1m1-7v1m2 1v1m0 7v1m1-14v1m0 10v2m0 28v1m0 29v3m1-72v1m0 65v5m1-7v1m0 2v2m1-31v1m0 23v1m0 3v1m1-34v1m0 30v1m1-7v1m0 3v1m1-5v2m6-21v1m0 28v4m1-62v1m0 2v1m0 52v4m1-6v1m0 3v1m1-36v1m0 32v1m1-3v1m1-58v1m0 50v1m0 3v1m1-30v1m0 23v3m1-33v1m1-31v1m0 3v1m4 66v4m1-34v1m0 2v1m0 24v4m1-30v1m0 23v1m0 2v2m1-58v1m0 49v1m0 4v1m1-55v1m0 21v1m0 29v1m1-7v1m0 3v1m1-5v1m1-56v1m2 1v1m1-7v1m1-2v1m0 11v2m1-11v1m0 6v2m0 58v3m1-72v1m0 65v5m1-38v1m0 6v1m0 23v1m0 3v1m1-31v1m0 23v1m0 3v1m1-38v1m0 3v1m0 26v1m1-33v1m0 33v1m6 9v1m1-59v1m0 24v1m0 29v3m1-62v1m0 55v2m0 1v2m1-59v1m0 22v1m0 28v1m0 3v1m1-3v1m1-65v1m0 61v1m1-65v1m0 29v1m0 27v1m0 3v1m1-5v2m2-59v1m0 25v1"/>
<path stroke="#f5e924" d="m3 49v2m1 24v2m1-4v3m1-32v1m0 25v4m1-57v1m0 51v1m0 1v1m1-57v1m0 52v1m4-60v1m0 3v1m0 23v1m1-30v1m1-2v1m0 2v1m1 35v1m1-4v1m0 31v1m1-36v1m0 6v1m0 24v3m1-33v2m0 26v1m0 1v2m1-35v1m0 28v1m0 1v2m1-5v2m7-49v1m1 53v3m1-5v3m1-63v1m0 59v2m1-58v1m0 51v1m0 1v2m1-58v1m0 52v2m1-29v1m1-35v1m0 3v1m5 37v1m1-3v1m0 27v2m1-4v3m1-54v1m0 48v1m0 1v1m1-31v1m0 2v1m0 22v1m0 1v1m1-4v1m1-26v1m1-32v1m0 26v1m3-28v1m2-6v1m0 1v1m0 36v1m0 3v1m1-8v1m0 31v2m1-30v1m0 24v4m1-34v1m0 27v1m0 1v2m1-37v1m0 1v1m0 28v4m7-23v1m1-30v1m0 1v1m1-2v1m0 52v3m1-5v4m1-64v1m0 28v1m0 28v1m0 2v1m1-6v1m0 2v1m1-64v1m0 58v2m1-29v1m1-31v1m5 37v1m1 25v3m1-55v1m0 25v1m0 23v3m1-5v1m0 1v2m1-54v1m0 47v3m1-30v1m0 2v1m1-32v1m0 3v1m2-8v1m0 3v1m3-8v1m0 2v1m0 38v1m1-43v2m0 36v1m1-4v1m0 31v2m1-30v1m0 24v4m1-34v1m0 27v1m0 2v1m1-35v1m0 29v3m7-23v1m2 24v3m1-62v1m0 56v4m1-64v1m0 57v1m0 2v1m1-64v1m0 57v1m0 2v1m3-65v1m0 2v1m0 25v2m5 10v1m1 26v2m1-5v4m1-32v1m0 2v1m0 22v1m0 1v2m1-6v4m1-57v1m1-3v1m0 26v1m1 0v1m1-3v1m1-31v1m0 3v1m1-6v1m1 1v1m0 38v2m1-44v2m0 36v1m1-4v1m0 31v2m1-30v1m0 25v3m1-37v1m0 2v1m0 27v2m0 1v1m1-36v2m0 29v3m9 3v3m1-63v1m0 4v1m0 51v4m1-64v1m0 34v1m0 22v1m0 2v1m1-64v1m0 29v1m0 4v1m0 23v1m0 1v1m1-57v1m1-3v1m1 23v1m6 37v2m1-54v1m0 48v4m1-57v1m0 50v1m0 2v1m1-57v1m0 25v1m0 2v1m0 22v3m1-57v1m0 3v1m1 23v1m1-32v1m0 3v1m0 22v1m1-2v1m1-26v1m1-2v1m1 35v1m1-41v1m0 36v1m0 4v1m1 23v3m1-37v1m0 5v1m0 25v3m1-5v1m0 1v2m1-36v1m0 29v3m8-25v1m0 30v1m1-61v1m0 56v3m1-63v1m0 33v1m0 22v2m0 1v1m1-6v1m0 2v1m1-57v1m0 51v1m0 1v1m1-63v1m0 5v1m0 27v1m1-36v1m0 4v1m1-6v1m0 1v1"/>
<path stroke="#f6ef20" d="m4 47v1m2-1v1m1-5v1m0 26v1m1-27v1m1-28v1m1-6v1m0 26v1m0 1v1m1-28v1m0 24v1m2-29v1m2-5v2m2 37v1m1-6v1m0 29v1m1-35v2m0 30v1m8-49v1m0 28v1m1-2v1m1-35v1m0 3v1m1 50v2m1-62v1m0 58v1m1-62v1m0 33v1m1-31v1m1 24v1m5 11v1m3 21v1m1-3v1m1-52v1m0 22v1m1-29v1m1 1v1m0 24v1m1-31v1m0 26v2m1-27v1m2-6v1m0 1v1m1-3v1m2 32v1m0 4v1m1 24v1m1-34v1m7 11v1m3-36v1m0 32v1m1 22v2m1-63v1m0 5v1m0 52v2m1-57v1m0 23v1m1-32v1m0 4v1m1-6v1m0 28v2m6 11v1m1-5v1m1-27v1m0 1v1m0 22v1m0 26v1m1-55v1m0 27v1m1-31v1m1 24v1m0 1v1m1-28v1m1 22v1m1-30v1m1-2v1m0 2v1m1-3v1m1 39v1m1-2v1m1-9v1m0 4v1m1-8v1m0 31v2m1-35v1m7 12v1m2-34v1m0 2v1m1 21v1m1-26v1m0 52v2m1-57v1m0 52v2m2-34v1m0 2v1m6 9v1m2-29v1m1-4v1m0 51v1m1-55v1m0 2v1m0 22v1m1 0v1m1-28v1m1-6v1m0 26v1m1-26v1m0 23v1m2-28v1m3 31v1m0 4v1m1-9v1m0 3v2m1 25v1m9-26v1m1-30v1m0 26v1m0 4v1m2-38v1m0 57v2m1-3v1m1-62v1m1-2v1m0 31v1m1-33v3m6 36v1m1-26v1m1 48v2m2-31v1m0 1v1m2-4v1m1-31v1m0 27v1m3-32v1m0 1v1m0 38v2m1-5v1m1-4v1m1 0v2m1-5v1m0 29v1m8-21v1m1-30v1m2-4v1m0 53v1m1-62v1m0 28v1m0 28v2m1-28v1m0 24v1m3-62v1"/>
<path stroke="#f7f51b" d="m4 49v1m1-2v1m1-29v2m1-2v1m1-5v1m0 25v1m1-29v1m0 26v2m1-3v1m1-30v1m0 26v1m1-27v1m2-5v2m1 37v1m0 1v1m1-6v1m0 3v1m1-8v5m1-7v2m10-23v1m2-6v1m0 3v1m0 23v1m0 4v1m1-3v1m2-38v1m1-1v1m0 1v1m0 26v1m7 8v1m1-27v1m0 24v1m0 1v1m1-30v1m1-3v1m0 27v1m1-28v1m0 23v2m1-30v1m0 26v1m1-27v1m1-5v1m1-2v1m0 1v1m1-3v1m1 37v1m1-4v1m0 3v1m1-7v4m1-7v3m9-21v1m1-4v1m1 0v1m0 23v1m1-31v1m2 28v1m2-35v2m5 39v1m4-7v1m1-26v1m0 24v1m2-32v1m0 26v2m2-29v1m1-3v1m1-3v1m1 37v1m1-4v2m1-4v4m1-6v2m8 8v1m1-30v2m0 24v1m1-3v1m1-30v1m1-4v1m1-3v1m0 28v1m1-32v1m0 4v1m1-7v1m0 3v1m1-5v2m5 39v1m1-3v1m1 0v1m1-28v1m1 23v1m1-4v1m1-29v1m0 26v2m1-28v1m0 24v1m1-30v1m1 0v1m1-4v1m1-2v2m1 36v1m0 2v1m1-6v1m1-4v3m1-5v2m8 8v2m1-31v2m0 28v1m2-36v1m1 1v1m1-8v1m0 4v1m1-3v1m1-3v1m6 36v2m2-5v1m1-2v1m0 1v1m1-28v1m1-5v1m1-3v1m0 2v1m0 23v2m1-3v1m1-27v1m1-5v1m1-2v1m0 1v1m1-3v1m2 34v1m0 3v1m1-8v3m1-5v2m8 8v1m1-30v1m2-6v1m1 1v1m0 28v1m1-37v1m1 27v1m1-28v1m0 27v1"/>
<path stroke="#f9fb15" d="m4 48v1m1-3v2m1-3v2m1-29v2m0 24v2m1-29v2m0 24v1m1-29v2m1-4v3m1-4v2m1-4v2m1-3v2m2 37v1m1-4v3m11-1v3m1-31v2m0 24v4m1-33v3m0 24v5m1-34v3m0 25v4m1-35v5m0 24v4m1-35v5m0 24v4m1-34v4m0 25v3m1-32v1m6 38v2m1-3v2m1-28v1m0 24v1m1-28v2m0 23v2m1-29v2m0 24v1m1-29v2m1-3v2m1-4v2m1-3v2m1-3v1m2 37v2m1-5v3m11-1v4m1-32v2m0 24v5m1-34v3m0 25v4m1-34v4m0 24v5m1-36v5m0 24v5m1-36v5m0 25v3m1-34v4m0 25v3m7 7v2m1-3v2m1-28v1m0 24v2m1-29v2m0 24v1m1-29v2m0 24v1m1-29v3m0 24v1m1-29v2m1-4v3m1-4v2m1-3v1m2 37v2m1-4v3m11-1v3m1-32v2m0 25v4m1-33v3m0 24v5m1-35v4m0 24v5m1-35v4m0 25v4m1-35v4m0 25v4m1-34v3m0 26v2m7 8v2m1-4v2m1-28v1m0 24v2m1-29v2m0 24v1m1-29v3m0 24v1m1-29v2m1-4v2m1-3v2m1-4v2m1-2v1m2 36v2m1-4v3m11-1v3m1-32v3m0 24v4m1-33v3m0 24v5m1-35v4m0 24v5m1-35v4m0 25v4m1-35v4m0 25v4m1-34v3m0 26v2m7 8v2m1-3v2m1-29v2m0 24v1m1-29v2m0 24v2m1-29v2m0 24v1m1-29v2m1-4v3m1-4v2m1-3v2m1-3v1m2 36v3m1-5v3m10 2v1m1-30v1m0 25v4m1-33v3m0 24v5m1-34v3m0 24v5m1-35v4m0 25v4m1-35v5m0 24v4m1-35v5m0 25v3m1-34v3m0 26v2"/>
</g>
</g></g>
<rect x="226" y="28" width="10" height="134" fill="url(#pg)" stroke="#4a4a30" stroke-opacity=".7" stroke-width=".6"/>
<text class="t" x="240.1" y="45.95" font-size="10.4">1</text>
<text class="t" x="240.1" y="70.15" font-size="10.4">0.8</text>
<text class="t" x="240.1" y="94.35" font-size="10.4">0.6</text>
<text class="t" x="240.1" y="118.65" font-size="10.4">0.4</text>
<text class="t" x="240.1" y="142.85" font-size="10.4">0.2</text>
<text class="t" x="39.7" y="45.3196" font-size="10.4" text-anchor="end">15</text>
<text class="t" x="39.7" y="79.2437" font-size="10.4" text-anchor="end">10</text>
<text class="t" x="39.7" y="113.168" font-size="10.4" text-anchor="end">5</text>
<text class="t" x="39.7" y="147.092" font-size="10.4" text-anchor="end">0</text>
<text class="t" x="75.3408" y="177.75" font-size="10.4" text-anchor="middle">-10</text>
<text class="t" x="132" y="177.75" font-size="10.4" text-anchor="middle">0</text>
<text class="t" x="188.659" y="177.75" font-size="10.4" text-anchor="middle">10</text>
<text class="t" x="132" y="194.3" font-size="11.4" text-anchor="middle">x<tspan dy="5.9" font-size="9.5">1</tspan></text>
<text class="t" transform="translate(16,95.5) rotate(-90)" font-size="11.4" text-anchor="middle">t<tspan dy="6.1" font-size="10">1</tspan></text>
<text class="t" x="132" y="17.4" font-size="12.2" font-weight="bold" text-anchor="middle" fill="#000">|S<tspan dy="5.7" font-size="10.6">1</tspan><tspan dy="-5.7" font-size="12.2">|</tspan></text>
<text class="s" x="137.5" y="217" font-size="11.6" text-anchor="middle">(<tspan font-weight="bold" font-size="12.6">a</tspan>)</text>
<g clip-path="url(#cpb)"><g filter="url(#bl)">
<rect x="324" y="25" width="187" height="140" fill="#02bac3"/>
<g transform="translate(324.5,25)" fill="none" stroke-width="1">
<path stroke="#4747eb" d="m3 60v1m110-2v1"/>
<path stroke="#484df0" d="m1 36v1m2 22v1m1-3v2m2-5v1m1-3v2m1-31v1m0 27v1m1-31v1m0 27v1m1-31v1m18 38v1m1-3v1m10 4v1m1-4v2m1-4v1m2-4v1m1-3v2m1-31v1m0 27v1m1-31v1m0 27v1m1-31v1m18 37v2m1-3v2m3-25v1m7 26v2m1-4v2m1-4v1m2-4v1m1-3v2m1-31v1m0 27v1m1-31v1m0 27v1m19 8v1m1-3v2m3-25v1m7 26v1m1-3v2m3-7v1m1-2v1m1-31v1m0 27v1m1-31v1m0 27v1m18 10v1m1-3v2m1-3v1m2-23v1m7 27v1m1-4v2m1-4v1m2-4v1m1-3v2m1-31v1m0 27v1m1-31v1m0 27v1m1-31v1m5 18v1m13 19v1m1-3v2m1-3v1m2-23v1m7 27v1"/>
<path stroke="#4852f4" d="m0 38v1m2-5v1m0 26v2m3-8v2m1-31v1m1-3v1m1-3v1m0 27v1m2-18v1m0 13v1m1-31v1m0 13v1m0 13v1m1-17v1m0 14v1m1-18v1m0 13v2m1-4v2m1-4v2m1-4v1m6-12v1m1-3v1m2-4v1m0 12v1m1-3v1m1-3v1m0 30v1m1-4v2m1-3v1m0 1v1m1-4v2m1-21v1m1-3v1m1-3v1m1-3v1m1-3v1m1-3v1m1 11v1m1-3v1m1-3v1m0 26v1m2-4v1m1-4v2m1-31v1m0 28v1m1-32v1m1-3v1m2 10v1m0 13v1m1-31v1m0 13v1m0 13v1m1-17v1m0 14v1m1-4v2m1-4v2m1-4v2m1-4v1m6-12v1m1-3v1m1 11v1m1-16v1m0 12v1m1-3v1m1 28v2m1-5v1m0 2v1m1-5v1m1-1v1m1-21v1m2-5v1m1-3v1m1-3v1m1-3v1m1 11v1m1-3v1m1-3v1m2 23v1m1-4v2m1-31v1m0 28v1m1-32v2m1-4v1m2-4v1m0 13v1m0 13v1m1-17v1m0 14v1m1-18v1m0 14v1m1-4v2m1-4v2m1-4v2m1-4v1m1 21v1m5-34v1m1-3v1m1-2v1m0 12v1m1-16v1m0 12v1m1-3v1m1 27v3m1-5v2m0 1v1m1-5v1m1-1v1m1-21v1m2-5v1m1-3v1m1-3v1m1-3v1m1 11v1m1-3v1m0 26v2m3-8v2m1-4v2m1-31v1m0 28v1m1-32v2m0 26v1m3-34v1m0 13v1m0 13v1m1-17v1m0 14v1m1-3v1m1-4v2m1-4v2m1-4v2m1-4v1m1 21v1m5-34v1m2-4v1m0 12v1m1-3v1m1-3v1m1 27v2m1-3v1m1-2v1m1-20v1m2-5v1m1-3v1m1-3v1m1-3v1m2 9v1m1-3v1m0 26v1m2-4v1m1-4v2m1-31v1m0 28v1m1-32v1m1-3v1m0 27v1m2-18v1m0 13v1m1-31v1m0 13v1m0 14v1m1-18v1m0 14v1m1-3v1m1-4v2m1-4v1m1-3v2m1 20v1m5-34v1m1-3v1m2-4v1m0 12v1m1-3v1m1 28v2m1-5v2m0 1v1m1-5v1m1-2v1m1-20v1m2-5v1m1-3v1m1-3v1m1-3v1m2 9v1m1-3v1m0 26v1"/>
<path stroke="#4758f8" d="m0 24v1m2 8v1m1-3v2m1-4v1m0 29v1m1-33v2m0 28v1m1-5v1m0 1v1m1-31v1m2-6v1m1 27v1m1-3v1m1-32v1m0 27v1m4-8v1m0 21v1m1-26v1m0 22v2m1-27v1m0 23v1m1-27v1m1-3v1m1-3v1m3-6v2m0 12v1m2-18v1m1 40v1m0 1v1m1-35v1m0 32v1m1-35v1m0 28v1m1-2v1m2-22v1m1-3v1m4-8v1m2 8v1m1-3v2m0 28v1m1-33v1m0 29v1m1-33v2m0 28v1m1-5v1m1-29v1m1 24v1m1-31v1m1 27v1m1-3v1m1-32v1m0 27v1m1-17v1m3 8v1m0 21v1m1-26v1m0 22v2m1-27v1m0 23v1m1-27v1m1-3v1m1-3v1m3-6v2m2-5v1m1 10v1m0 29v1m2-34v1m0 28v1m1-1v1m1-21v1m1-3v1m1-3v1m3 8v1m2 22v2m1-32v1m1-3v2m0 28v1m1-33v2m0 28v1m1-32v1m0 28v1m3-8v1m1-16v1m1 12v1m1-32v1m0 27v1m1-3v1m1-17v1m2 32v1m1-25v1m0 21v2m1-27v1m1-3v1m1-3v1m1-3v1m1-2v1m5-10v1m0 42v2m1-34v1m1-2v1m1-3v1m0 28v1m1-18v1m0 16v1m1-21v1m1-3v1m4 6v1m3-8v2m1-4v2m0 28v1m1-33v2m0 28v1m1-32v1m0 28v1m3-36v1m1 12v1m0 14v1m1-3v1m1-32v2m0 26v1m1-17v1m0 13v1m3 16v1m1-25v1m0 21v2m1-27v1m1-3v1m1-3v1m1-3v1m1-2v1m2-5v2m0 12v1m2-18v1m1 40v3m1-35v1m0 32v1m1-35v1m0 28v1m1-32v1m0 28v2m1-1v1m1-22v1m1-3v1m4-8v1m0 13v1m1-2v1m1-3v1m1-5v2m0 28v1m1-33v2m0 28v1m1-33v2m0 28v1m1-5v1m1-29v1m2-6v1m1 27v1m1-31v1m0 26v1m1-31v2m0 26v1m1-17v1m0 13v1m3 16v1m1-26v2m0 21v1m1-26v1m0 23v1m1-27v1m1-3v1m1-3v1m3-6v2m0 12v1m2-18v1m1 10v1m0 29v1m1-32v1m1-3v1m0 28v1m1-2v1m1-1v1m1-22v1m5 4v1m1-2v1m0 26v1"/>
<path stroke="#465efb" d="m0 0v1m1 36v1m2 20v1m0 2v1m1-32v1m0 25v1m2-32v1m3 9v1m0 12v1m1-31v1m1-1v1m1-3v1m1-4v1m1 11v1m1 34v1m1-2v1m1-28v1m0 1v1m1-34v1m3 24v1m1-4v1m4 36v1m1-46v1m0 41v1m1-31v1m0 27v1m2-33v1m0 13v1m0 14v1m1-19v1m0 18v1m3-26v1m1-28v1m1-2v1m0 38v1m1-2v1m1-5v1m0 1v1m0 25v2m1-5v1m1-3v1m1-29v1m2-6v1m3 9v1m0 14v1m1-33v1m1-1v1m1-3v1m1-4v1m2 46v1m1-2v1m1-26v1m1-34v1m3 24v1m2 9v1m3 23v2m1-47v1m0 41v1m1-32v2m0 27v1m2-19v1m0 14v2m1-1v1m3-26v1m1-27v1m2 20v1m0 14v1m1-5v1m0 1v1m1 22v1m1-3v1m2-32v1m1-1v1m0 25v1m3-34v1m0 29v1m1-31v1m1-3v1m1-4v2m5 39v1m1-2v1m3-31v1m2-3v1m0 12v1m1-17v1m2 41v1m1-6v1m0 3v1m1-36v1m2 9v1m0 15v2m3-24v1m2-29v1m2 35v1m1-5v1m0 1v1m1 22v1m0 2v1m1-6v1m2-32v1m1-1v1m0 25v1m2-4v1m1-31v1m1-1v1m2-6v2m1 10v1m2 33v1m2-6v1m1-2v1m2-28v1m1-4v1m5-9v1m1 11v1m0 27v1m3-22v1m0 17v1m3-25v1m3 9v1m1 23v2m1-32v1m1 24v1m3-34v1m3 9v1m0 12v1m0 1v1m1-33v1m0 1v1m3-8v2m2 45v1m1-2v1m5-34v1m5 33v2m1-47v1m1 10v1m2-4v1m0 13v1m0 14v1m1-19v1m2-5v1m1-3v1m2 10v1m1-17v1m0 14v1m1 23v1m1-31v1m0 1v1m0 27v1"/>
<path stroke="#4563fd" d="m0 39v1m1-18v1m0 12v1m0 27v2m1-30v1m0 24v1m4-34v1m1-5v1m0 27v1m2-2v1m1-31v1m1-5v1m1-3v1m1-3v1m0 1v1m1-5v2m1-4v1m1-4v2m0 27v1m1-32v1m1 26v1m0 23v1m1-27v1m0 24v1m4-18v1m2-19v1m1 40v1m0 1v1m2-49v1m1-2v1m0 11v1m0 28v1m1-44v1m0 25v1m1-29v1m0 41v3m2-48v1m1-3v1m1-2v1m0 23v1m0 14v1m1-41v1m0 38v1m3-7v1m2 20v1m2-30v1m1-5v1m2 24v1m1-29v1m1-5v1m1-3v1m1-3v1m0 1v1m1-5v2m0 13v1m1-18v1m0 27v1m1-32v2m0 27v1m1-32v1m0 28v1m1-3v1m2-3v1m2-6v1m1-1v1m3 35v1m0 2v1m1-34v1m0 31v1m2-50v1m0 40v1m1-44v1m0 12v1m0 12v1m1-29v1m0 41v1m2-46v1m1-3v2m1-4v1m0 39v1m1-41v1m0 38v1m3-7v1m0 27v1m2-8v1m2-32v1m2 26v1m1-5v1m1-31v1m1-3v1m1-3v1m1-3v3m1-5v2m0 14v1m1-19v1m0 27v1m0 24v1m1-57v2m0 27v1m1-32v1m0 28v1m0 1v1m1-5v1m2-3v1m6 30v1m1-45v1m0 13v1m1-16v1m0 40v1m1-44v1m1-3v1m0 12v1m1 29v1m1-47v1m1-3v1m1-3v2m0 23v1m1-26v1m0 37v1m1-2v1m1-18v2m0 39v2m1-5v1m1-28v1m4-11v1m2 11v1m0 14v1m1-31v1m1-5v1m1-3v1m1-3v1m1-3v3m1-5v1m0 15v1m0 35v1m1-55v1m0 27v1m1-32v2m0 27v1m1-32v2m0 27v1m0 1v1m1-5v1m6-11v1m1 41v2m1-33v1m0 27v1m1-45v1m1-2v1m0 11v1m0 28v1m1-44v1m0 26v1m1-30v1m0 41v2m2-47v1m1-3v1m1-3v2m0 23v1m1-26v1m0 37v2m2-19v1m0 11v1m1 24v1m0 2v1m1-31v1m1 22v1m2-30v1m1-5v1m0 27v1m4-36v1m1-3v1m1-3v1m1-3v2m0 13v2m1-19v1m0 15v1m1-19v1m0 27v1m1-32v2m0 27v1m1-31v1m0 27v1m0 1v1m0 21v1m1-2v1m3-31v1m1-1v1m0 12v1m2-19v1m1 43v1m1-34v1m0 27v1m0 3v1m1-7v1m1-44v1m0 40v1m1-44v1m1-3v1m0 41v3m2-48v1m1-3v1m1-2v1m1 37v1m1-17v1m1-3v1m0 11v1m1 24v1"/>
<path stroke="#4269fe" d="m1 23v1m1-3v1m1 11v1m2 20v1m3-34v1m2 24v1m4-38v1m0 2v1m0 25v1m1-32v1m0 1v1m0 14v1m0 11v1m0 22v1m1-3v1m1-54v1m1-3v1m0 29v1m1-33v1m0 29v1m1-3v1m3-6v1m3 38v1m1-34v1m0 31v1m1-48v1m2 36v1m2-46v2m0 40v1m1-45v1m1-3v1m0 1v1m1-5v1m0 2v1m0 38v1m2-7v1m1-16v2m0 38v1m1 0v1m1-31v1m2-5v1m2 21v1m1-15v1m0 14v1m2-7v1m4-38v1m0 2v1m0 13v1m0 11v1m1-32v1m0 1v1m0 14v1m0 34v1m0 1v1m1-5v1m1-54v1m1-3v1m0 29v1m0 21v1m1-27v1m0 1v1m0 22v1m6-36v1m0 43v1m3-50v2m1 9v1m1 26v1m1-1v2m1-47v2m0 40v1m1-45v1m1-3v1m1 0v1m0 22v1m0 15v1m2-19v1m0 11v1m0 27v1m1-43v1m0 38v1m2-30v1m2-5v1m2-7v1m0 27v1m1-15v1m1-16v1m5-14v1m0 15v1m0 12v1m0 23v1m1-56v1m0 16v1m0 34v1m2-56v1m1-3v1m0 29v1m0 21v1m1-27v1m0 1v1m3-8v1m0 14v1m3-21v1m0 42v3m1-33v1m1-16v1m1-4v1m1 24v2m0 13v1m2-46v2m0 40v1m1-45v1m1-3v1m0 1v1m1-5v1m0 40v2m1-3v1m2-7v1m1-15v1m0 41v1m2-33v1m1-3v1m0 24v1m1-28v1m2-7v1m2 24v1m4-21v1m1-20v1m0 1v1m0 26v1m1-32v1m0 16v1m0 34v1m3-28v1m1-3v1m3-6v1m0 12v1m3-6v1m0 27v1m0 2v1m1-2v1m1-48v1m1-4v1m1 24v1m0 14v1m1-31v1m1-16v2m0 40v1m0 2v1m1-48v1m1-3v1m0 1v1m1-2v1m0 37v2m2-19v1m1-4v1m1-2v1m2 9v1m1-3v1m0 24v1m3-3v1m2-7v1m4-35v1m1-6v1m0 1v1m0 26v1m0 24v1m1-57v1m0 16v1m0 34v1m3-30v1m0 1v1m1-3v1m6 2v1m0 27v1m2-47v2m1 9v1m1 11v1m0 14v1m2-46v2m0 40v1m1-45v1m1-3v1m0 1v1m1-2v1m0 22v1m0 14v2m4-23v1"/>
<path stroke="#3e6fff" d="m0 1v1m0 35v1m1 24v1m1 0v1m2-33v1m1-3v1m3 7v1m0 14v1m1-34v1m1 12v1m1-3v1m0 13v1m1-17v1m0 13v1m1-32v1m0 28v1m1-15v1m1-4v1m1-2v1m1-21v1m0 52v1m1-56v1m2 25v1m2 11v1m1-18v1m2 9v1m0 29v2m1-47v1m0 12v1m0 1v1m1-16v1m2-6v1m0 26v2m2-31v1m0 11v1m0 27v1m1 1v1m1-46v1m0 38v2m1-42v1m0 37v2m3-45v1m0 23v1m0 39v1m2-45v1m2 9v1m1 22v1m3-34v1m1 0v1m1 9v1m1-3v1m0 13v1m2-34v1m0 28v1m1 21v1m2-41v1m1-21v1m5 35v1m2-6v1m1-3v1m0 29v1m0 1v1m1-35v1m0 1v1m1-16v1m2-6v1m0 26v2m2-31v1m0 11v1m0 27v1m2-44v1m0 38v2m1-42v1m0 37v2m2-43v1m1 62v1m1-45v1m0 42v1m1-45v1m2 9v1m1 22v1m3-34v1m2 10v1m0 13v1m1-17v1m1-18v1m1-3v1m0 16v1m0 11v1m1-29v1m0 48v1m1-53v1m1-6v1m0 52v1m1-56v1m2 50v1m5-21v1m1-3v1m0 1v1m0 30v1m1-2v1m3-53v1m0 12v1m1 26v1m1-3v1m0 1v2m1-5v1m1-4v2m1-42v1m1 20v1m1-25v1m0 23v1m3-7v1m5 29v1m0 2v1m1-34v1m2 10v1m0 13v1m2-34v1m1-3v1m0 28v1m1-29v1m0 12v1m0 35v1m1-53v1m1-6v1m0 52v1m2-4v1m1-27v1m0 24v1m3-31v1m2 9v1m0 1v1m1-18v1m0 12v1m1-14v1m4-8v1m0 39v1m1-1v2m1-45v1m0 39v1m1-4v2m2-21v1m1 11v1m1 24v1m7-42v1m0 15v1m1-16v1m2 7v1m0 13v1m2-34v1m0 16v1m1-20v1m0 28v1m0 23v1m1-53v1m0 48v1m1-53v1m1-6v1m6 18v1m2 9v1m0 1v1m0 28v2m1-35v1m1-14v1m2-6v1m0 27v1m2-31v1m0 11v1m0 27v1m1 1v1m1-46v1m0 39v1m1-42v1m0 37v2m2-43v1m1 33v1m0 27v2m1-45v1m0 39v1m0 2v1"/>
<path stroke="#3875fe" d="m0 25v1m0 39v1m3-47v1m0 10v1m1-3v1m4 20v1m1-28v1m0 11v1m1-18v1m1-3v1m1-3v1m1 14v1m1 32v2m1-57v1m0 3v1m0 50v1m1-58v1m0 2v1m3 44v1m5-20v1m1-1v1m0 29v1m1-6v1m1-32v1m0 28v1m3-48v1m1-3v1m1 39v1m0 1v1m4-48v1m0 21v1m0 13v1m1 26v1m3-37v1m1-3v1m5-10v1m0 14v1m1-18v1m1-3v1m1-3v1m0 14v1m0 13v1m1-15v1m1 32v1m1-56v1m0 3v1m0 12v1m1-20v1m0 2v1m1 47v1m3-30v1m3-6v1m2 11v1m0 30v1m1-49v1m0 41v1m0 4v1m1-8v1m3-48v1m0 1v1m1-5v1m1 0v1m0 38v1m0 3v1m4-26v1m0 11v1m1 24v1m3-35v1m4 23v1m2-36v1m0 14v1m1-18v1m1-3v1m0 28v1m1-3v1m3-37v1m1 0v1m0 14v1m4 3v1m2-2v1m2 9v1m0 28v1m2-47v1m0 10v1m0 28v1m1-3v1m3-48v1m0 1v1m0 44v1m1-36v1m1-14v1m0 38v1m1-41v1m2-4v1m1 33v1m1 24v1m1-43v1m2 7v1m2 23v1m2-16v1m1-16v1m1-6v1m0 14v1m1-18v1m1-3v1m0 14v1m0 13v1m1-15v1m0 11v1m1 21v1m1-2v1m1-58v1m1 0v1m8 55v3m2-37v1m0 28v1m2-19v2m1-31v1m0 12v1m1-16v1m0 46v1m1-8v1m1-3v1m1-41v1m2-4v1m1 61v2m1-2v1m2-47v1m5 29v1m1-31v1m1-3v1m0 14v1m1-18v1m1-3v1m0 14v1m0 1v1m0 11v1m1-3v1m2-18v1m1-20v1m1 50v1m3-30v1m0 24v1m2-14v1m2-6v1m0 1v1m1 25v1m1-46v1m1 39v1m2-19v1m1-30v1m0 1v1m0 44v1m1-3v1m1-8v1m0 1v2m1-6v1m3-22v1m0 1v1"/>
<path stroke="#327cfc" d="m0 66v1m2-47v1m0 11v1m0 26v1m1-3v1m2-32v1m1 25v1m8-45v1m3-4v1m0 14v1m3 30v1m1-28v1m2 10v1m4-22v1m1 39v1m2-44v1m0 10v1m1 10v1m0 20v1m1-50v1m0 2v1m0 22v1m0 18v1m1-48v1m0 3v1m0 21v1m1-29v1m1 2v1m1 21v1m1 36v1m1 0v1m1-34v1m0 26v1m1-41v1m0 37v1m2-32v1m2 27v1m1-6v1m4-20v1m2-23v1m3-4v1m5 19v1m1 9v1m1-1v1m0 27v2m1-5v1m1-43v1m1 8v1m1 26v1m2 1v1m1-24v1m0 20v1m1-50v1m0 25v1m0 17v1m1-47v1m0 3v1m1-7v1m1 2v1m1 19v1m3 6v1m0 26v1m1-41v1m1 8v1m1-3v1m2 12v1m1-16v1m0 24v1m4-22v1m0 1v1m1 33v1m1-57v1m0 54v1m1-54v1m0 12v1m2 31v1m4-16v1m2-20v1m0 13v1m1 27v1m0 1v1m1-6v1m1-45v1m1 10v1m1 12v2m0 12v1m1-42v1m0 44v1m2-52v1m0 25v1m0 20v1m1-50v1m0 25v1m0 17v1m1-47v1m1 2v1m2 59v2m1-2v1m2-36v1m0 26v1m2-32v1m4 7v1m3-5v1m1-5v1m1 34v1m1-56v1m1 1v1m1 11v1m4 3v1m1 13v1m2-20v1m0 13v1m0 1v1m2 22v1m1-45v1m1 39v1m2-44v1m0 44v1m2-52v1m0 2v1m0 10v1m0 11v1m0 20v1m1-50v1m0 25v1m0 17v1m1-47v1m1 2v1m1 21v1m0 11v1m3-8v1m0 26v1m1-30v1m0 26v1m1-30v1m1-3v1m1 25v1m1 1v1m2-21v1m5 26v1m1-56v1m2-2v1m0 14v1m2 31v1m3-28v1m3 38v1m1-47v1m0 39v1m0 4v1m1-37v1m1 26v1m1 3v1m1-37v1m1-16v1m1-3v1m0 2v1m0 22v1m0 20v1m1-50v1m0 3v1m2-4v1m1 33v1m1 24v1m2-33v1m0 26v1"/>
<path stroke="#2f81fa" d="m0 23v1m0 40v1m1-31v1m0 26v1m0 3v1m3-49v1m0 37v1m2-32v1m3 22v1m3-18v1m1-21v1m0 15v1m2 31v1m1-51v1m5 31v1m1-16v1m2-7v1m0 15v1m0 27v2m1-5v1m0 3v1m1-47v1m0 44v1m2-39v1m0 14v1m1 11v1m1-18v1m0 20v1m2-38v1m1 27v1m1-42v1m1 33v1m1 25v1m2-34v1m0 26v1m1-42v1m4 3v1m0 27v1m1-14v1m1-4v1m5-27v1m0 15v1m0 37v1m1-2v1m1-6v1m2-39v1m2 31v1m1-2v1m1-28v1m0 15v1m3 24v1m3-52v1m1 25v2m1-29v1m0 38v1m0 5v1m1-37v1m0 12v1m1-26v1m1 39v1m1-22v1m1-24v1m1 33v1m1 25v2m1-2v1m1-34v1m0 26v1m2-5v1m3-34v1m0 27v1m2-17v1m3-5v1m1 12v1m1-36v1m0 52v1m4-59v1m6 31v1m4-24v1m2 37v1m1-18v1m1-26v1m1-2v1m0 41v1m1-23v1m2-2v1m0 11v1m1-17v1m0 40v1m2-33v1m0 26v1m2-43v1m0 37v1m2-32v1m1 29v1m2-8v1m3-3v1m1-36v1m0 32v1m1-36v1m0 32v1m4-39v1m0 49v1m4-29v1m3 34v1m0 3v1m1-47v1m0 44v1m2-39v1m1 26v1m0 5v1m2-26v1m2-27v1m1-2v1m3 56v1m2-45v1m2-4v1m2 6v1m5 7v1m1 12v1m1-36v1m0 15v1m0 16v1m1-36v1m0 32v1m0 21v1m2-56v1m2-6v1m3 20v1m2 10v1m0 1v1m1-19v1m0 43v2m1-5v1m2-47v1m2-2v1m0 38v1m2-20v1m1-15v1m1 9v1m0 17v1m1-42v1m1 21v1m1 37v2m1-2v1m1-7v1"/>
<path stroke="#2e87f7" d="m7 22v1m0 16v1m0 14v1m1-35v1m0 15v1m3-23v1m1-3v1m0 32v1m1-3v1m0 19v2m1-5v1m0 2v1m2-61v1m0 17v1m0 11v1m0 22v1m1-56v1m0 29v1m1-29v1m0 49v1m6 11v1m4-54v1m0 28v1m1-29v1m0 23v1m0 20v1m1-9v1m1-41v1m1-2v1m0 42v1m2-26v1m2 39v1m1-46v1m0 43v1m4-51v1m0 37v1m3-34v1m1 1v1m1 22v1m2-34v1m0 17v1m1-21v1m0 32v1m1-3v1m0 19v1m1-4v1m2-58v1m0 4v1m0 24v1m1-33v1m0 29v1m1-29v1m4 33v1m1-1v1m1-19v1m0 42v1m4-51v1m0 12v1m1 11v1m1 12v1m2-42v1m0 9v1m0 32v1m1-45v1m0 38v1m1-6v1m1-15v1m1 36v1m1-31v1m2-17v1m2-4v1m0 37v1m3-34v1m4-9v1m0 32v1m1-36v1m1 13v1m0 16v1m1 16v1m1-3v1m1-56v1m1 16v1m1-18v1m1 48v1m0 1v1m1-4v1m1-28v1m1 12v1m1 27v2m1-48v1m0 42v1m0 3v1m1-2v1m3-6v1m1-24v1m1-16v1m2 27v1m0 1v1m1-45v1m0 38v1m1-6v1m3-8v1m0 26v1m6-40v1m0 27v1m4-19v1m1-21v1m2 50v1m1-6v1m1-38v1m0 34v1m1-56v1m2-1v1m0 52v1m1-3v1m1-13v1m2-6v1m0 1v1m1 25v2m4-53v1m0 27v1m1-28v1m1 21v1m0 14v1m3-3v2m1-23v1m0 17v1m1-18v1m0 11v1m1 25v2m1-46v1m0 43v1m1-34v1m0 26v1m3-7v1m3-34v1m0 16v1m1-16v1m0 11v1m1 10v1m2-1v1m1-36v1m1 50v2m1-5v1m1-3v1m1-3v1m2-4v1m1 0v1m1-3v1m1-13v1m3 24v1m4-54v1m0 12v1m0 14v2m2-7v1m0 14v1m1-41v1m1-2v1m3 30v1m3-8v1m1-15v1"/>
<path stroke="#2d8cf3" d="m0 36v1m0 26v1m5-49v1m2 34v1m1-27v1m1-7v1m1-3v1m0 28v1m1-14v1m3 8v1m1-37v1m0 29v1m3-18v1m0 10v1m1-29v1m0 52v1m1-3v1m2-31v1m0 14v1m1-1v1m1 24v1m1-46v1m4-8v1m2 37v1m1-3v1m1-39v1m0 35v1m0 4v1m1-8v1m1-15v1m1 36v1m1-31v1m0 26v1m8-44v1m1-3v1m1-3v1m1 30v1m3-35v1m0 27v1m1-37v1m0 29v1m1-15v1m0 34v1m2-28v1m0 23v1m1-53v1m0 52v1m1-13v1m0 9v1m3 12v2m1-1v1m1-2v1m3-6v1m1-51v1m2 37v1m2-5v1m1-18v1m3-6v1m0 39v1m6-23v1m0 14v1m1-19v1m1-19v1m1-3v1m0 28v1m1-32v1m0 17v1m3-20v1m0 46v1m0 2v1m1-53v1m0 27v1m1-37v1m0 29v1m1-28v1m0 24v1m0 22v1m1-26v1m1 24v1m2-15v1m0 9v1m1-26v1m1 11v1m1 27v1m2-48v1m2 21v1m1-31v1m0 2v1m0 9v1m2-14v1m0 37v1m2-32v1m1 24v1m1-18v1m0 2v1m1 37v2m1-2v1m3-50v1m2-4v1m0 37v1m2-15v1m1-20v1m0 3v1m0 11v1m1-19v1m1-3v1m0 28v1m1-32v1m0 32v1m2 15v2m1-52v1m0 10v1m0 35v1m1-50v1m0 27v1m1-37v1m0 29v1m1-28v1m0 24v1m1-14v1m0 10v1m2 20v1m1-2v2m1-29v1m2 39v1m0 2v1m1-49v1m3 23v1m1-32v1m0 26v1m2-28v1m0 9v1m0 27v1m1-40v1m1-2v1m0 41v1m1-9v1m2 22v1m7-11v1m1-7v1m1-31v1m1-3v1m1-3v1m0 17v1m1-21v1m2 0v1m1-3v1m1-9v1m0 5v1m0 27v1m1-37v1m0 17v1m0 11v1m1-3v1m1-14v1m0 37v1m6 5v1m0 3v1m1-2v1m3-6v1m1-24v1m2 10v1m2-41v1m0 39v3m1-24v1m0 2v1m0 11v1m0 2v1m2 19v1m1-44v1m0 12v1m0 26v1"/>
<path stroke="#2b91ef" d="m0 67v1m3-50v1m2 34v1m2-16v1m4 4v1m0 3v1m2-33v1m0 23v1m0 22v1m1-56v1m0 5v1m0 10v1m0 12v1m1-27v1m0 27v1m2-34v1m0 47v1m2-28v1m1 14v1m0 7v1m1-2v2m2 14v2m1-1v1m1-8v1m0 5v1m1-9v1m1-16v1m0 12v1m1-17v1m2-32v1m1-3v1m0 13v1m1-17v1m1-3v1m0 45v1m0 1v1m1-6v1m1-21v1m0 42v1m1-32v1m6-24v1m0 37v1m1-13v1m0 14v1m1-19v1m0 11v1m3-17v1m0 10v1m1-3v1m2-29v1m0 23v1m0 22v1m0 2v1m1-59v1m0 29v1m1-27v1m0 27v1m3-22v1m0 37v1m3-30v1m1-6v1m0 16v1m1 24v1m0 2v1m2-51v1m0 2v1m0 38v1m1-3v1m1-16v1m0 12v1m1-41v1m0 23v1m2-32v1m0 3v1m1-7v1m0 4v1m1-8v1m0 5v1m0 35v1m1 2v1m1-20v1m0 14v1m1 22v2m1-33v1m0 30v1m8-20v1m3-6v1m0 3v1m2-33v1m0 47v2m1-28v1m1-33v1m0 29v1m1 1v1m1-19v1m1 36v1m1-30v1m0 23v1m3-15v1m2 24v1m2-6v1m1-3v1m1-15v1m1-5v1m1-30v1m1-3v1m1-3v1m0 4v1m0 36v1m1-39v1m0 35v1m2-2v1m1 21v1m1-31v1m0 26v1m1-43v1m5 34v1m4-23v1m1 8v1m2-29v1m1 21v1m1-33v1m0 29v1m1 1v1m1 16v1m1 1v1m1-30v1m1 14v1m2-6v1m0 1v1m1 25v2m1-1v1m1-2v1m1-9v1m1-3v1m1 4v1m1-38v1m1-16v1m1-3v1m1 39v1m1-30v1m0 26v1m1-15v1m1-6v1m0 17v1m0 24v1m2-34v1m0 26v1m3-46v1m2-4v1m0 37v1m5-9v1m3 16v1m0 2v1m1-59v1m0 16v1m0 12v1m1-3v1m1 1v1m1-32v1m0 51v1m1-30v1m2 12v1m0 7v1m1-24v1m0 21v2m1-29v1m0 14v1m0 1v1m1 25v2m2-50v1m1 39v1m3-48v1m1-3v1m1 11v1m1 25v1m1-15v1m0 11v1m2-2v1m0 24v2m1-2v1"/>
<path stroke="#2797eb" d="m1 0v1m0 20v1m0 38v1m1-3v1m1-30v1m0 26v1m1-30v1m2-15v1m0 27v1m0 14v1m4-26v1m0 2v1m1-6v1m1 11v1m1-33v1m0 55v1m1-7v1m1-3v1m2-58v1m1 55v1m1-13v1m2-18v1m0 11v1m1-1v1m1 24v1m0 2v1m1-36v1m0 28v1m1-32v1m1-16v1m0 12v1m2-14v1m0 37v1m0 6v1m1-38v1m1-12v1m1-2v1m1-2v1m1 6v1m1-18v1m0 29v1m1 12v1m0 23v1m0 1v1m1-6v1m0 3v1m1-68v1m1 57v1m1-3v1m1-41v1m0 10v1m7 1v1m2-21v1m0 5v1m0 23v1m0 23v2m1-58v1m1 14v1m0 34v1m3-54v1m0 47v1m0 3v1m2-32v1m0 16v1m1 5v1m1-12v1m0 1v1m0 7v2m3-19v1m0 28v1m1-32v1m2 12v1m4-24v1m2-19v1m0 45v1m0 1v1m2-26v1m0 41v1m1-65v1m0 60v1m1-64v1m1 57v1m1-3v1m1-41v1m2-4v2m0 36v1m0 4v1m2-33v1m2 9v1m1-6v1m1 11v1m1-33v1m0 29v1m1-33v1m1 49v1m1-49v1m3 6v1m1 25v1m2-4v1m0 8v1m1-29v1m0 44v2m1-1v1m1-37v1m0 28v1m0 5v1m1-51v1m0 12v1m2 10v1m0 13v1m0 6v1m5-59v1m1-3v1m0 29v1m0 16v2m1 19v1m1-1v1m1-68v1m2 55v1m4-46v2m2 33v1m4-8v1m1-33v1m0 29v1m0 22v1m0 2v1m1-59v1m1 49v1m1-49v1m1 48v1m2-8v1m2-25v1m1 20v1m1 15v1m0 2v1m2-38v1m0 28v1m1-45v1m0 12v1m1 13v1m1-4v1m0 13v1m4-50v1m0 5v1m1-9v1m0 29v1m2 36v1m1-67v1m0 33v1m0 30v1m1-68v1m1 18v1m1 36v1m3-43v1m0 41v1m1-45v1m0 26v1m1-4v1m2-3v1m1 12v1m1-7v1m1-27v1m0 23v1m0 23v2m1-58v1m0 29v1m3-31v1m1 44v1m2-28v1m2 13v1m2 22v1m0 2v1m2-48v1m0 9v1m0 28v1m2-18v2m0 11v1m0 6v1m1-48v1m0 23v1m1-17v1m1-12v1m1-7v1m0 4v1m1-8v1m0 5v1m0 9v1m0 13v1m1-33v1m0 14v2m2-14v1m0 19v1m0 41v1m1-65v1m0 33v1m0 26v1m3-8v1"/>
<path stroke="#259be8" d="m0 2v1m2 28v1m3-16v1m0 8v1m1-12v1m0 8v1m0 27v1m1-40v1m1 35v1m1-16v1m2-21v1m1-3v1m0 5v1m0 47v2m1-6v1m3-60v1m0 6v1m0 27v1m1-19v1m0 38v1m2-43v1m0 34v1m1-27v1m1 15v1m1 6v1m0 18v1m1-48v1m0 13v1m2-15v1m2 20v1m0 1v1m2 7v1m1-18v1m1-3v1m2-15v1m0 13v1m1-26v1m1-3v1m0 33v1m1-37v1m1 57v1m1-42v1m1 9v1m1 24v1m1-30v1m1-12v1m0 8v1m0 32v1m1-46v2m1-3v1m0 13v1m1 21v1m1-16v1m0 2v1m1 12v1m1-37v1m0 15v1m1 34v1m1-4v1m2-58v1m0 52v1m1-56v1m0 34v1m2 8v1m4 1v1m0 17v3m1-35v1m0 28v1m0 4v1m1-2v1m2-53v1m0 12v1m1 12v1m0 20v1m1-10v1m1-31v1m1 10v1m1-3v1m1-13v1m0 13v1m1-18v2m0 13v1m1-26v1m0 62v2m1-67v1m0 33v1m0 3v1m0 26v1m2-10v1m1-30v1m1-3v1m1-3v1m0 26v1m1-39v1m0 8v1m1-3v1m0 17v1m1-31v2m0 25v1m1-29v1m2 20v1m2-21v1m0 15v1m1 34v1m0 2v1m1-7v1m1-38v1m1-21v1m0 52v1m1-56v1m0 34v1m0 22v1m1-55v1m0 47v1m1-9v1m1-20v1m1 1v1m0 13v1m0 6v1m1-2v1m1 16v1m0 2v1m1-36v1m0 28v1m3-36v1m0 15v1m2 8v1m1-40v1m1-2v1m0 20v1m1-23v1m0 7v1m0 15v1m1-17v1m0 13v1m1-18v2m0 29v1m1-42v1m0 61v1m0 1v1m1-67v1m0 19v1m0 13v1m0 3v1m0 22v1m2-6v1m1-30v1m1-3v1m0 26v1m1-41v1m0 10v1m1-12v1m0 8v1m0 32v1m1-18v1m0 9v1m1-40v1m0 25v1m1-29v1m1 25v1m1-6v1m1-3v1m1-19v1m0 5v1m0 47v2m2-8v1m2-58v1m0 52v1m1-37v1m0 15v1m1-32v1m1 11v1m0 27v1m1-20v1m1 13v1m0 1v1m1 25v1m1-48v1m1 11v1m0 28v1m1-42v1m2 22v1m0 18v1m1-48v1m1 35v1m1-40v1m1-2v1m1 8v1m0 13v1m1-17v1m1-12v1m0 8v1m0 29v3m1-44v1m0 61v1m1-27v1m0 22v1m2-6v1m1-30v1m1-3v1m0 26v1m1-39v1m0 8v1m0 32v1m1-36v1m1-13v1m1-2v1m0 13v1m1-17v1m0 37v1m2-18v1m1-3v1m1-19v1m2 47v1m1-3v1m1-56v1m0 57v1m1-26v1m2-20v1m0 27v1m0 6v1m1-23v1m0 13v1m1-5v1m1 8v1m0 18v2m1-49v1m0 47v1m1-37v1m0 28v1m0 5v1m2-53v1m0 12v1m1 12v1m1 11v1m3-32v1m0 13v1m3-30v1m0 8v1m0 53v2m1-2v1m1-30v1m2-22v1m0 38v1m0 5v1m1-36v1m0 32v1"/>
<path stroke="#23a0e5" d="m0 62v1m1-30v1m3-18v1m0 1v1m0 35v1m1 3v1m1-19v1m1-30v1m0 9v1m1-12v1m0 8v1m0 15v1m1-28v1m0 8v1m0 18v1m1-22v1m0 33v1m2-23v1m0 36v1m3-61v1m0 17v1m1 32v1m1-8v1m1-3v1m2-6v1m0 1v1m2 3v1m0 18v1m0 1v1m1-6v1m0 4v1m1-2v1m3-55v1m0 12v1m0 35v1m1-25v1m1-3v1m2-25v1m1 7v1m0 9v1m0 3v1m1-26v1m1 6v1m0 52v3m1-6v1m0 3v1m1-48v1m0 17v1m2-10v1m3-18v1m0 1v1m0 41v1m1-18v1m1-21v1m0 16v1m0 10v1m1-31v1m1-12v1m0 8v1m0 15v1m1-28v1m0 8v1m1-3v1m2 51v1m2-62v1m2 2v1m0 45v1m0 4v1m1-42v1m0 28v1m2-33v1m0 34v1m1-27v1m0 3v1m0 11v1m0 1v1m2 25v1m1-50v1m3 23v1m1-32v1m0 12v1m1 11v1m1-25v1m0 21v1m0 14v1m1-39v1m1-2v1m0 9v1m0 13v1m1-7v1m1-22v1m1 6v1m0 52v1m1-4v1m1-26v1m2-22v1m0 44v1m1-3v1m1-3v1m1-3v1m2-38v1m1-3v1m1-12v1m0 8v1m0 15v1m0 2v1m0 9v1m1-32v1m1-3v1m1 3v1m0 47v2m1-6v1m2-58v1m2 2v1m1 38v1m2-33v1m0 28v1m1-5v1m1 27v2m1-23v1m1-29v1m3-6v1m0 27v1m0 1v1m0 18v1m1-48v1m1 20v1m1-16v1m0 12v1m0 14v1m2-30v1m0 9v1m1-3v1m1-22v1m0 62v1m1-57v1m0 24v1m0 30v1m2-10v1m1-30v1m0 32v1m1-3v1m1-3v1m1-45v1m0 35v1m0 5v1m2-38v1m1-13v1m0 9v1m0 4v1m1-8v1m1-12v1m0 8v1m0 15v1m1-19v1m0 33v1m1-37v1m1 13v1m0 36v1m0 2v1m1-7v1m2-58v1m0 17v1m1 37v1m2-28v1m0 12v1m0 5v1m2-24v1m0 13v1m1 4v1m1-2v1m0 18v1m0 1v1m1-35v1m0 11v1m0 16v1m0 4v1m1-2v1m3-55v1m0 12v1m0 14v1m2-6v1m1-16v1m0 12v1m1-13v1m0 9v1m0 3v1m1-19v1m0 11v1m1-22v1m1 5v1m0 53v3m1-33v1m0 30v1m1-48v1m1 37v1m0 5v1m1-36v1m0 32v1m1-3v1m1-3v1m1-47v1m2 6v1m0 27v1m1-41v1m0 9v1m1-3v1m0 18v1m1-31v1m0 8v1m0 15v1m1-19v1m1-3v1m1 50v1m0 2v1m1-7v1m2-58v1m1 50v1m1-37v1m1-16v1m0 28v1m0 12v1m1-30v1m0 27v1m1-21v1m2 21v1m0 18v1m0 2v1m1-36v1m0 28v1m3 0v1m1-39v1m2 9v1m0 14v1m1-18v1m0 3v1m1-27v1m0 19v1m1-3v1m1-22v1m1 36v3m0 20v1m1-31v1m0 26v1m2-6v1m0 5v1m1-36v1"/>
<path stroke="#20a5e3" d="m0 35v1m0 32v1m1-3v1m1-48v1m0 44v1m1-3v1m1-3v1m1-18v1m2-18v1m1-18v1m1 36v1m1-41v1m1-3v1m0 62v2m1-6v1m0 3v1m1-11v1m0 2v1m1-55v1m0 47v2m0 2v1m1-7v2m1-4v2m0 8v1m1-26v1m1-32v1m0 42v1m0 4v1m1-36v1m0 27v1m1-31v1m0 13v1m1-7v1m0 24v1m0 19v3m1-35v1m0 28v1m0 3v1m1-24v1m1-29v1m1 39v1m1-16v2m1-5v1m1-30v1m2 1v1m0 7v1m0 27v1m1-28v1m0 13v1m1-19v1m1 9v1m1-14v1m0 25v1m0 4v3m1-35v1m1 48v1m1-30v1m0 32v1m1-3v1m1-3v1m1-3v1m1-9v1m3-44v1m1 26v1m1 7v1m1-41v1m1 59v3m1-42v1m0 35v1m1-56v1m0 48v1m0 2v1m1-7v2m0 2v1m1-37v1m0 29v2m1-4v2m1-17v1m0 13v1m1-46v1m0 42v1m1-31v1m0 27v1m1-31v1m1 52v3m1-35v1m0 10v1m0 17v1m0 4v1m1-25v1m2 11v1m1-16v1m0 20v1m1-25v1m1-30v1m2 26v1m0 10v1m2-39v1m1 16v1m0 42v3m1-33v1m0 6v1m0 23v1m2-50v1m0 39v1m0 5v1m1-36v1m0 32v1m3-49v1m1-5v1m2 34v1m1-41v1m2-4v1m0 42v1m1-46v1m1 59v1m0 2v1m1-43v1m1-20v1m0 47v2m0 2v1m1-7v2m0 2v1m1-7v2m0 8v1m1-13v2m0 3v1m1-37v1m0 15v1m0 13v1m1-31v1m0 27v1m1-31v1m0 13v1m0 19v1m1-37v1m0 9v1m1 42v1m0 2v1m1-36v1m0 28v1m0 4v1m1-2v1m1-48v1m3-10v1m0 12v1m0 13v1m3-17v1m0 13v1m0 10v1m2-39v1m1 31v1m0 27v1m0 1v1m1-6v1m2-28v1m0 27v1m2-50v1m3 23v1m3-35v1m0 25v1m0 2v1m1 7v1m1-41v1m1-3v1m0 63v1m2-12v1m1-52v1m0 47v2m0 2v1m1-7v2m0 2v1m0 5v1m1-13v2m1-45v1m0 40v2m1-3v1m1-31v1m0 13v1m0 13v1m1-32v2m0 25v1m1-19v1m0 45v2m1-2v1m2-52v1m2 45v1m1-25v1m1-30v1m0 26v1m2-1v1m0 10v1m1-38v1m2 15v1m0 43v1m1-32v1m0 30v1m1-59v1m0 51v1m1 2v1m1-31v1m4 13v1m1-12v1m1-4v1m2-6v1m1 10v1m1-41v1m1 60v2m1-42v1m0 35v1m1-7v1m0 2v1m1-55v1m0 47v2m0 2v1m0 5v1m1-43v1m0 29v2m0 8v1m1-13v2m1-45v1m0 40v2m1-31v1m0 27v1m0 4v1m1-22v1m1-17v1m0 25v1m1 6v1m0 19v3m1-1v1m1-25v1m0 22v1m3-26v1m1-32v1m0 26v1m1-3v1m1-25v1m1-2v1m0 7v1m0 27v1m2-39v1m0 6v1m1 9v1m0 43v2m1-59v1m0 25v1m0 30v1m1-59v1m1 8v1m0 39v1m0 5v1m1-36v1m0 4v1"/>
<path stroke="#1ca9df" d="m0 40v1m1 18v1m1-3v1m3-44v1m2 34v1m1-12v1m1-32v1m1-1v1m0 36v1m1-40v1m0 60v1m0 2v1m1-68v2m0 6v1m0 47v2m0 2v1m1-62v1m0 6v1m0 16v1m0 30v1m0 1v2m1-4v2m1-24v1m0 21v1m0 5v1m1-62v1m0 30v1m1-26v1m0 41v1m0 3v1m1-37v1m0 1v1m0 13v1m1-3v1m0 11v1m1-30v1m1-2v1m0 57v1m1-2v1m1-2v1m1-25v1m0 14v1m2-19v1m0 13v1m0 7v1m1-11v1m1-31v1m1-16v1m0 4v1m1-8v1m0 30v1m1-34v1m0 41v1m1-45v1m0 7v1m0 33v1m1-45v1m0 41v1m0 27v3m1-6v1m0 3v1m2-37v1m0 32v1m1-31v1m1 18v1m1-41v1m1 0v1m2-7v1m0 27v1m2-6v1m1-29v1m2-3v1m1-4v2m0 13v1m0 49v1m1-68v2m0 6v1m0 47v2m0 2v1m1-62v1m0 54v1m0 1v2m1-4v2m0 6v1m1-62v1m0 30v1m0 21v1m0 5v1m1-62v1m2 17v1m0 13v1m0 18v1m1-22v1m0 11v1m1-30v1m0 55v3m1-60v1m0 9v1m0 24v1m0 18v1m0 3v1m2-3v1m1-52v1m0 26v1m0 14v1m1 5v1m1-25v1m0 2v1m0 10v1m1-40v1m1 6v1m1-16v1m1-3v1m0 6v1m0 6v1m1-17v1m0 41v1m1-45v1m0 14v1m0 26v1m1-45v1m0 41v1m1-29v1m0 30v2m0 20v1m1-55v1m0 50v1m0 5v1m1-36v1m1 2v1m1 18v1m3-15v1m0 8v1m1-13v1m1-15v1m1 8v1m0 2v1m1-32v1m1-1v1m0 36v1m1-40v1m0 61v2m1-67v2m0 59v1m1-64v2m0 6v1m0 47v3m0 1v1m1-5v2m0 6v1m1-11v1m0 7v1m1-62v1m0 18v1m0 33v1m2-36v1m1-18v1m0 28v1m1 9v1m1 26v3m1-60v1m0 53v1m0 4v1m1-26v1m1-2v2m0 14v1m1-3v1m1-17v1m0 13v1m0 7v1m1-25v1m0 13v1m2-46v1m1-3v1m0 30v1m1-34v1m0 6v1m1-10v1m0 7v1m0 33v1m1-45v1m0 41v1m0 27v3m1-48v1m0 45v1m1-60v1m0 30v1m0 1v1m1-35v1m0 50v1m0 5v1m1-49v1m0 12v1m1 2v1m4-25v1m0 37v1m1-13v1m1 8v1m2-43v1m1-1v1m0 36v1m1-40v1m0 60v2m0 1v1m1-68v2m0 54v2m0 3v1m1-63v1m0 6v1m0 16v1m0 30v1m0 1v3m0 5v1m1-11v2m0 6v1m2-64v1m1 51v1m1-37v1m0 1v1m1-18v1m1 46v1m1-37v1m0 54v1m0 2v1m1-36v1m0 28v1m0 4v1m1-2v1m1-26v2m0 14v1m1-3v1m0 7v1m1-25v3m0 11v1m1-3v1m1-31v1m1-16v1m0 4v1m1-8v1m0 5v1m1-9v1m0 41v1m1-45v1m0 7v1m0 33v1m1-45v1m0 41v1m0 27v1m0 1v1m1-6v1m1 2v1m1-9v1m1-30v1m1 2v1m1-20v1m1 0v1m2-7v1m1 13v1m1 11v1m1-32v1m2-3v1m1-4v2m0 13v1m0 46v1m0 2v1m1-68v2m0 54v2m1-52v1m0 47v1m0 1v2m0 6v1m1-11v2m1-2v1m4-55v1m1 11v1m0 56v2m1-60v1m0 9v1m0 47v1m1-36v1m0 28v1m1-19v1m1-30v1m0 26v1m0 14v1m1-3v1m0 7v1m1-25v2m0 12v1m2-46v1m0 12v1m1-16v1m0 30v1m1-34v1m0 16v1m1-20v1m0 41v1m1-45v1m0 41v1m0 28v1m1-32v1m0 27v1m0 2v1m1-7v1m1 2v1m3-35v1"/>
<path stroke="#18addb" d="m0 22v1m0 38v1m3-42v1m1 24v1m1-4v1m0 9v1m2-16v1m0 2v1m2-32v1m1-5v1m0 63v2m1-59v1m0 6v1m0 22v1m0 17v2m0 3v1m1-26v1m0 19v2m0 6v1m1-69v1m0 37v1m0 27v1m1-31v1m0 27v1m1-62v1m0 50v2m1-2v1m1-25v1m1 14v1m1-44v1m1 46v1m0 20v3m1-35v1m0 28v1m1-57v1m1 35v1m0 14v1m1-32v1m0 12v1m1-29v1m0 12v1m0 13v2m0 21v1m1-26v1m0 3v1m1-29v1m2 22v1m1-27v1m1-2v1m1 59v2m1-5v1m0 3v1m1-49v1m1 38v1m0 5v1m1-60v1m1 8v1m0 38v1m2-5v1m2-13v1m1 6v1m1-25v1m1 11v1m0 8v1m2-43v1m0 1v1m0 41v1m1-8v1m0 23v4m1-60v1m0 29v1m0 17v2m0 3v1m1-26v1m0 19v2m0 6v1m1-44v1m0 12v1m0 27v1m1-62v1m0 30v1m1 17v1m1-23v1m1-26v1m0 13v1m0 8v1m0 22v1m1-37v1m0 27v1m1 27v1m1-1v1m1-36v1m0 33v1m1-62v1m0 59v1m1-25v1m0 14v1m1-41v1m0 8v1m0 12v1m0 23v1m1-26v2m1-4v1m1 12v1m2-15v1m1-17v1m1-12v1m1 59v3m1-6v1m0 3v1m1-49v1m0 46v1m1-36v1m2 21v1m2-43v1m0 37v1m3-44v1m3-4v1m1-5v1m1 36v1m0 23v1m0 2v1m1-60v1m0 29v1m0 17v3m0 1v1m0 5v1m1-31v1m0 20v1m0 6v1m1-31v1m1-34v1m0 30v1m0 20v1m1-24v1m0 19v1m1-23v1m1-26v1m0 22v1m1 14v1m0 6v1m1 19v3m1-61v1m0 54v1m0 3v1m1-51v1m0 14v1m0 9v1m1 0v1m0 14v1m0 6v1m2-54v1m0 26v1m0 22v1m1-26v1m0 1v2m1-6v1m1 12v1m1-31v1m0 17v1m1-28v1m1 5v1m1 54v1m1-59v1m1 51v1m1-24v1m0 19v1m0 5v1m1-36v1m1 23v1m1-3v1m1-3v1m1-38v1m3 7v1m1 11v1m2-32v1m1-5v1m0 63v2m1-52v1m0 22v1m0 17v2m1-52v1m0 49v3m0 5v1m2-33v1m1-34v1m0 30v1m0 19v2m1-36v1m0 11v1m0 19v1m0 1v1m1-25v1m2 12v1m1 26v3m1-61v1m0 54v1m0 4v1m1-62v1m1 33v1m0 1v1m0 14v1m1 5v1m1-53v1m0 26v1m1-3v1m3-2v1m1-17v1m2 48v3m1-60v1m0 53v1m0 3v1m1-49v1m0 46v1m1-61v1m0 30v1m0 1v1m0 18v1m1-54v1m0 23v1m1-16v1m0 38v1m1-3v1m1-3v1m2-13v1m1 6v1m2-16v1m0 11v1m1-39v1m1-5v1m0 1v1m0 41v1m1-8v1m0 24v3m1-60v1m0 29v1m0 17v2m0 3v1m0 4v1m1-61v1m0 49v3m0 5v1m1-44v1m1 10v1m1-34v1m0 30v1m0 19v2m1-24v1m0 21v1m1-34v1m0 8v1m0 22v1m1-37v1m1 25v1m0 29v1m1-25v1m0 20v1m0 2v1m1-7v1m0 4v1m1-62v1m0 59v1m1-10v1m1-41v1m0 21v1m0 23v1m1-26v2m1-4v1m0 3v1m1-29v1m0 36v1m3-41v1m1-2v1m1 59v1m0 1v1m1-6v1m1-45v1m0 46v1m1-9v1m1-54v1m0 23v1m1 23v1m1-3v1m1-41v1m0 2v1m0 13v1m0 20v1"/>
<path stroke="#12b1d6" d="m1 38v1m2-22v1m0 10v1m0 26v1m1-30v1m2-15v1m0 15v1m2-18v1m0 6v1m1-3v1m0 55v1m1-59v1m0 47v2m0 4v1m0 2v1m1-69v1m0 58v3m0 5v1m1-14v1m1-56v1m0 52v1m1-56v1m0 4v1m0 47v1m1-3v1m1-52v1m0 19v1m0 28v1m0 2v1m1-32v1m0 25v1m1-20v1m1 43v3m1-6v1m0 3v1m1-62v1m0 59v1m1-52v1m0 42v1m0 6v1m1-63v1m0 23v1m0 11v1m1 22v1m2-42v1m1 11v1m1-3v1m0 14v1m1-38v1m0 6v1m0 12v1m1-12v1m0 8v1m1-15v1m0 55v2m1-5v1m0 2v1m1-60v1m1 50v1m0 5v1m1-61v1m0 24v1m0 7v1m1 15v1m2-26v1m2 16v1m3-44v1m0 29v1m2-32v1m0 6v1m1-3v1m0 54v3m1-69v1m0 8v1m0 47v2m0 3v1m0 4v1m1-70v1m0 58v3m0 5v1m2-69v1m0 52v1m1-3v1m1-3v1m0 3v1m1-7v1m0 2v1m0 1v1m1-8v1m1-20v1m0 45v2m1-74v1m0 68v2m0 1v2m1-27v1m0 19v1m0 4v1m1-63v1m0 60v1m1-53v1m0 27v1m0 14v1m1-32v1m0 11v1m0 24v1m2-55v1m0 12v1m0 15v2m1-20v1m1 11v1m1-3v1m0 4v1m0 9v1m1-38v1m0 19v1m2 39v3m1-6v1m0 3v1m1-2v1m1-9v1m2-56v1m0 49v1m1-42v1m1 15v1m1-17v1m1 24v1m1-4v1m1-15v1m0 21v1m1-14v1m0 2v1m1-30v1m0 35v1m1-32v1m1-3v1m0 53v4m1-69v1m0 8v1m0 47v2m0 3v1m0 4v1m1-70v1m0 59v1m1-60v1m1-3v1m0 4v1m0 17v1m2-24v1m0 52v1m1-7v1m1-3v1m0 5v1m1-37v1m0 56v3m1-75v1m0 68v1m0 3v1m1-36v1m0 33v1m1-9v1m0 6v1m1-63v1m1 21v1m0 36v1m1-40v1m0 12v1m0 1v1m1-31v1m0 12v1m2 9v1m1-24v1m0 20v1m0 14v1m1-37v1m0 9v1m0 8v1m1-21v1m1 58v2m0 1v1m1-6v1m0 3v1m1-2v1m1-50v1m2-15v1m2 24v1m1-20v1m0 37v1m1-11v1m1-4v1m1-31v1m0 29v1m1-6v1m1-27v1m0 35v1m1-32v1m0 55v1m1-59v1m0 53v1m0 2v2m1-70v1m0 8v1m0 49v1m0 1v2m0 4v1m1-31v1m1-39v1m0 35v1m1-34v1m2 47v1m1-33v1m0 25v1m1-43v1m0 22v1m0 16v1m1 4v1m0 21v3m1-6v1m0 3v1m1-36v1m1-18v1m0 24v1m0 17v1m0 6v1m1-63v1m0 60v1m1-40v1m1-3v1m0 12v1m0 1v1m1-18v1m0 17v1m1-29v1m0 21v1m1-3v1m0 14v1m1-31v1m0 12v1m1-22v1m1-2v1m0 5v1m0 55v2m1-5v1m0 3v1m1-2v1m1-9v1m1-30v1m0 6v1m1 16v1m3-28v1m1-20v1m0 37v1m2-26v1m0 11v1m1-31v1m0 29v1m3 28v3m1-69v1m0 8v1m0 47v2m0 4v1m0 3v1m1-70v1m0 58v3m1-25v1m1-39v1m0 35v1m1-34v1m2 14v1m0 31v1m1-6v1m1-20v1m0 16v1m0 28v2m1-4v1m0 1v2m1-7v1m0 4v1m1-63v1m0 25v1m0 34v1m1-53v1m0 27v1m0 14v1m1-56v1m0 35v1m0 24v1m1-40v1m1-16v1m0 12v1m1-3v1m1 11v1m1-3v1m0 4v1m0 9v1m1-31v1m2-4v1m0 55v3m1-6v1m0 3v1m1-61v1m0 58v1m1-9v1m1-55v1m0 24v1m0 5v1m0 1v1m1 15v1m1-42v1"/>
<path stroke="#08b5d0" d="m0 11v1m1 8v1m0 11v1m1-3v1m1 16v1m1-4v1m1-21v1m1-3v1m0 16v1m0 2v1m0 7v1m1-41v1m0 9v1m1 13v1m0 12v1m0 25v2m1-43v1m0 18v1m0 12v1m0 5v2m0 1v2m1-45v1m0 33v1m0 1v2m0 4v2m1-46v1m0 30v1m0 11v1m1-71v1m0 2v1m0 64v1m1-63v1m1 15v1m1-22v1m1 50v1m1-4v1m0 25v1m1-4v4m1-62v1m0 10v1m0 23v1m0 20v1m0 3v1m1-76v1m0 39v1m0 27v1m0 5v1m1-9v1m0 6v1m1-39v1m0 10v1m0 2v1m1 20v1m1-49v1m0 23v1m1-5v1m0 2v2m1-33v1m1-3v1m0 12v1m1 16v1m1 7v1m1-36v1m0 61v2m1-48v1m0 42v1m0 2v2m1-77v1m0 68v1m0 4v1m1-77v1m0 68v1m0 5v1m1-36v1m1-17v1m0 19v2m0 18v1m0 7v1m1-3v1m1-61v1m1 20v1m1-11v1m0 7v1m1-14v1m0 10v1m0 18v1m1-22v1m0 17v1m1-21v1m0 5v1m0 13v1m1-23v1m0 16v1m1-30v1m0 2v1m0 6v1m1 13v1m0 12v1m0 25v3m1-44v1m0 31v2m0 3v2m0 3v2m1-46v1m0 30v1m0 2v3m0 6v1m1-15v1m0 11v1m1-71v1m0 2v1m0 52v1m1-51v1m2-6v1m1 17v1m1 55v2m1-5v1m0 2v2m1-52v1m0 49v1m1-37v1m0 27v1m0 6v1m1-10v1m1-32v1m0 36v1m1-64v1m1 36v1m1-5v1m1-29v1m2 1v1m1-1v1m0 5v1m0 3v1m0 23v1m1-36v1m0 17v1m0 42v4m1-61v1m0 11v1m0 42v1m0 3v1m1-77v1m0 68v1m0 5v1m1-68v1m0 5v1m0 52v1m1-30v1m0 33v1m1-62v1m0 30v1m0 1v1m0 17v1m0 7v1m1-3v1m2-40v1m1-3v1m0 5v1m1-20v1m0 10v1m0 26v1m1-30v1m0 5v1m1-9v1m0 19v1m1-33v1m0 9v1m1-3v1m1 13v1m0 37v5m1-45v1m0 31v2m0 3v1m0 4v2m1-55v1m0 8v1m0 30v1m0 2v3m0 6v1m1-68v1m0 52v1m0 11v1m1-63v1m0 47v1m1-3v1m1-52v1m0 48v1m1-3v1m1-32v1m0 2v1m0 28v1m0 1v1m1 20v4m1-51v1m0 44v1m0 3v1m1-2v1m1-28v1m0 18v1m0 6v1m1-64v1m0 38v1m1-31v1m0 13v1m0 36v1m1-64v1m0 35v1m2-4v1m0 4v1m1-34v1m0 12v1m1 16v1m2-23v1m0 27v1m0 28v2m1-48v1m0 42v4m1-2v1m1-77v1m0 9v1m0 58v1m0 5v1m1-68v1m0 58v1m1-30v1m0 33v1m1-62v1m0 50v1m0 7v1m1-3v1m1-50v1m1 9v1m1-3v1m0 5v1m1-9v1m0 5v1m0 20v1m1-30v1m0 5v1m1-9v1m0 27v1m1-41v1m0 9v1m1-3v1m0 54v3m1-44v1m0 18v1m0 18v2m0 1v3m1-46v1m0 31v3m0 2v1m0 5v1m1-46v1m0 30v1m0 3v1m0 7v1m1-71v1m0 2v1m0 52v1m0 11v1m1-63v1m0 47v1m1-33v1m0 29v1m1-52v1m0 48v1m1-3v1m1 0v1m0 1v1m0 23v2m1-27v1m0 21v5m1-63v1m0 10v1m0 44v1m0 3v2m1-3v1m1-9v1m0 6v1m1-64v1m0 38v1m0 22v1m1-54v1m0 13v1m1-27v1m0 14v1m2-9v1m1 10v1m1 16v1m1 7v1m1-18v1m0 42v4m1-49v1m0 42v1m0 2v2m1-2v1m1-68v1m0 58v1m1-62v1m0 65v1m1-51v1m0 47v1m1-3v1m1-61v1m0 57v1m2-48v1m0 7v1m1-3v1m0 5v1m1-9v1m0 5v1m1-9v1m0 19v1m1-23v1m1-13v1m0 2v1m0 6v1m1-3v1m0 28v1m0 25v4m1-61v1m0 15v1m0 31v1m0 5v1m0 3v2m1-46v1m0 33v1m0 1v2m0 5v1m1-15v1m0 11v1m1-68v1m0 52v1m0 11v1m1-63v1m0 47v1m1-33v1m0 29v1m1-52v1m0 48v1m1-29v1m0 25v1m0 3v1m1-4v1m0 25v3m1-74v1m0 67v1m0 2v2m1-28v1m0 20v1m0 4v1m1-2v1m1-10v1m1-21v1m0 25v1m1-40v1m1 12v1m1-5v1m0 2v1m1-32v1m3 0v1m0 10v1m0 8v1m0 14v1m0 28v1m1-65v1m0 17v1m0 42v4m1-6v1m0 3v1m1-2v1m1-68v1m0 58v1m1-62v1m0 31v1m0 8v1m0 24v1m1-51v1m0 20v1m0 18v1m0 7v1m1-3v1m1-61v1m0 57v1m2-40v1"/>
<path stroke="#01b8ca" d="m0 34v1m0 25v1m0 8v1m1-12v1m1-23v1m2-22v1m0 37v1m1-24v1m0 13v1m1 33v1m1-66v1m0 60v6m1-72v1m0 57v1m0 4v2m0 2v4m1-34v1m0 17v1m0 1v2m0 1v2m0 5v2m1-16v1m0 3v1m0 8v2m1-70v1m0 65v1m1-64v1m2-9v1m0 2v1m1-5v2m0 77v2m1-4v4m1-29v1m0 21v2m0 1v3m1-75v1m0 45v1m0 20v1m0 4v2m1-9v1m0 5v2m1-3v1m1-2v1m1-65v1m0 61v1m1-54v1m0 41v1m1-55v1m0 35v1m0 15v1m1-3v1m1-18v1m0 14v1m2-46v1m0 5v1m0 63v3m1-75v1m0 7v1m0 60v5m1-76v1m0 13v1m0 27v1m0 26v2m0 2v2m1-77v1m0 41v1m0 26v1m0 5v1m1-68v1m0 16v1m0 14v1m0 32v2m1-69v1m0 31v1m0 33v1m1-69v1m0 40v1m0 16v1m0 7v1m2-64v1m1 21v1m0 25v1m0 8v1m1-50v1m0 37v1m1-23v1m1-3v1m1-3v1m0 20v1m2-4v1m0 26v4m1-45v1m0 37v6m1-72v1m0 57v2m0 3v2m0 3v3m1-16v1m0 2v3m0 7v2m1-4v2m1-70v1m0 4v1m0 16v1m0 43v1m1-64v1m0 59v1m1-67v1m1-3v1m0 2v1m0 18v1m1-23v1m0 77v3m1-59v1m0 29v1m0 23v5m1-32v1m0 23v2m0 2v3m1-76v1m0 66v1m0 5v1m1-64v1m0 26v1m0 7v1m0 19v1m0 6v1m1-2v1m1-26v1m0 22v1m1-65v1m0 35v1m1-28v1m0 41v1m1-55v1m0 51v1m1-13v1m0 9v1m1-18v1m1-29v1m0 12v1m0 18v1m1-35v1m0 69v4m1-76v1m0 68v6m1-77v1m0 41v1m0 26v1m0 4v2m1-78v1m0 9v1m0 31v1m0 26v1m0 5v1m1-68v1m0 16v1m0 14v1m0 33v1m1-37v1m0 33v1m1-69v1m0 40v1m0 16v1m1-43v1m0 20v1m1 15v1m1-52v1m0 22v1m0 25v1m0 8v1m1-12v1m2-25v1m1 11v1m1-6v1m1-27v1m0 60v6m1-72v1m0 25v1m0 37v7m1-73v1m0 38v1m0 18v2m0 3v1m0 5v2m1-16v1m0 2v3m0 7v2m1-70v1m0 65v2m1-65v1m0 16v1m0 43v1m1-4v1m1-67v1m1 78v1m1-4v4m1-30v1m0 23v5m1-32v1m0 23v1m0 4v2m1-9v1m0 5v2m1-65v1m0 10v1m0 15v1m0 27v1m0 6v1m1-2v1m1-40v1m0 36v1m1-12v1m1-3v1m1-55v1m0 51v1m1-3v1m1-39v1m1-8v1m0 12v1m0 56v3m1-75v1m0 69v4m1-76v1m0 8v1m0 59v2m0 2v2m1-77v1m0 41v1m0 26v1m0 4v2m1-78v1m0 9v1m0 4v1m0 11v1m0 14v1m0 26v1m0 5v2m1-37v1m0 33v1m1-63v1m0 25v1m0 8v1m0 24v1m1-69v1m0 40v1m0 16v1m1-43v1m0 19v1m0 1v1m1-12v1m0 25v1m1-52v1m0 22v1m0 25v1m0 8v1m1-46v1m1 24v1m1-33v1m0 28v1m1-1v1m1-6v1m0 37v4m1-68v1m0 60v6m1-72v1m0 25v1m0 31v1m0 4v2m0 3v3m1-34v1m0 18v3m0 2v1m0 6v2m1-17v1m0 3v2m0 7v2m1-70v1m0 65v2m1-65v1m0 60v1m1-4v1m1-67v1m0 2v1m1-4v1m0 77v3m1-59v1m0 53v4m1-63v1m0 55v2m0 2v2m1-32v1m0 23v1m0 5v1m1-9v1m0 6v1m1-38v1m0 27v1m0 6v2m1-30v1m0 26v1m1-40v1m1 25v1m1-19v1m0 2v1m0 12v1m1-55v1m0 39v1m0 11v1m1-18v1m0 14v1m1-44v1m1-3v1m0 12v1m0 56v3m1-75v1m0 6v1m0 10v1m0 50v6m1-77v1m0 8v1m0 4v1m0 27v1m0 26v1m0 4v2m1-78v1m0 41v1m0 26v1m0 5v1m1-78v1m0 9v1m0 4v1m0 11v1m0 41v1m0 6v1m1-37v1m0 33v1m1-63v1m0 25v1m0 8v1m0 16v1m1-61v1m0 40v1m0 16v1m1-54v1m1 21v1m0 25v1m1-41v1m0 11v1m0 25v1m2-12v1m1-33v1m0 28v1m0 8v1m2-15v1m0 10v1m0 26v5m1-8v7m1-73v1m0 25v1m0 31v1m0 4v2m0 4v2m1-16v1m0 1v2m0 1v2m0 6v2m1-17v1m0 3v1m0 8v2m1-70v1m0 21v1m0 43v2m1-65v1m0 60v1m1-27v1m0 22v1m1-64v1m0 77v1m1-4v4m1-6v5m1-30v1m0 21v2m0 3v2m1-33v1m0 2v1m0 20v1m0 5v2m1-65v1m0 10v1m0 43v1m0 6v1m1-38v1m0 27v1m0 7v1m1-26v1m0 22v1m1-65v1m0 24v1m1-26v1m0 8v1m0 41v1m0 9v1m1-65v1m0 35v1m0 15v1m1-14v1m0 10v1m1-18v1m1-29v1m0 12v1m0 18v1m0 38v1m1-74v1m0 5v1m0 63v4m1-76v1m0 7v1m0 60v2m0 1v3m1-77v1m0 41v1m0 26v1m0 4v2m1-78v1m0 26v1m0 41v1m0 5v2m1-79v1m0 9v1m0 58v1m0 6v1m1-37v1m0 8v1m0 24v1m1-11v1m1-61v1m0 40v1m2-15v1m0 25v1m1-41v1m0 11v1m0 25v1"/>
<path stroke="#0bbdbd" d="m0 10v1m0 1v1m0 65v3m1-71v1m0 66v3m1-62v1m0 30v1m0 26v2m1-32v1m0 7v1m0 19v3m1-4v3m1-63v1m0 37v1m0 19v4m1-60v1m0 22v1m0 30v1m0 2v1m1-25v1m1-32v1m0 64v5m1-72v1m0 64v6m1-65v1m0 55v8m1-44v1m0 33v1m0 5v3m1-84v1m0 4v1m0 2v1m0 30v1m0 6v1m0 25v1m0 7v2m1-78v2m0 31v1m0 30v1m0 10v2m1-46v1m0 42v1m1-67v1m0 8v1m0 54v1m1-67v1m1 35v1m0 26v1m1-30v1m0 26v1m1-26v1m0 22v1m1-22v1m0 18v1m0 11v3m1-60v1m0 28v1m0 24v9m1-73v1m0 61v12m1-54v1m0 11v1m0 27v1m0 3v9m1-55v1m0 45v8m1-69v1m0 12v1m0 12v1m0 5v1m0 19v1m0 11v4m1-80v2m0 21v1m0 52v2m1-79v1m0 75v2m1-44v1m0 14v1m0 25v1m1-61v1m0 3v1m0 53v1m1-60v1m0 56v1m1-71v1m0 79v3m1-85v1m0 78v5m1-7v7m1-46v1m0 25v1m0 10v2m0 1v5m1-47v1m0 36v1m0 4v4m1-79v1m0 8v1m0 30v2m0 25v1m0 7v2m1-70v1m0 65v3m1-72v2m0 56v1m0 9v3m1-62v1m0 57v2m1-30v1m0 25v3m1-4v4m1-64v1m0 57v4m1-37v1m0 30v1m0 2v1m1-25v1m0 36v3m1-71v1m0 64v5m1-77v1m0 4v1m0 64v7m1-44v1m0 33v3m0 1v4m1-83v1m0 38v1m0 33v1m0 5v3m1-79v1m0 2v1m0 30v1m0 6v1m0 24v2m0 7v2m1-78v2m0 31v1m0 41v2m1-67v1m0 63v1m1-58v1m0 54v1m1-67v1m0 64v1m1-30v1m0 4v1m0 21v1m1-30v1m0 26v1m1-26v1m0 22v1m1-57v1m0 25v1m0 27v1m0 11v4m1-36v1m0 28v11m1-13v13m1-79v1m0 23v1m0 15v1m0 23v1m0 4v9m1-69v1m0 12v1m0 16v1m0 29v8m1-57v1m0 38v1m0 12v3m1-80v2m0 14v1m0 6v1m0 52v3m1-80v1m0 75v2m1-63v2m0 9v1m0 7v1m0 14v1m0 25v1m1-57v1m0 53v1m1-60v1m1-14v1m0 79v4m1-86v1m0 15v1m0 35v1m0 26v6m1-59v1m0 50v7m1-71v1m0 24v1m0 25v1m0 10v1m0 3v4m1-69v1m0 64v3m1-79v1m0 17v1m0 22v1m0 25v1m0 7v3m1-71v1m0 66v2m1-72v2m0 13v1m0 42v1m0 9v3m1-4v3m1-31v1m0 25v4m1-5v4m1-64v1m0 57v5m1-38v1m0 30v1m0 2v1m1 11v5m1-72v1m0 64v6m1-78v1m0 4v1m0 63v8m1-44v1m0 33v2m0 3v4m1-84v1m0 38v1m0 32v2m0 6v2m1-76v1m0 17v1m0 44v1m0 9v2m1-79v2m0 73v2m1-67v1m0 63v1m1-54v1m1-16v1m0 64v1m1-58v1m0 27v1m0 4v2m0 20v1m1-23v1m0 19v1m1-26v1m0 22v1m0 11v2m1-70v1m0 10v1m0 14v1m0 27v1m0 11v5m1-70v1m0 32v1m0 28v12m1-14v1m0 2v10m1-79v1m0 23v1m0 45v8m1-69v1m0 12v1m0 17v1m0 32v4m1-57v1m0 38v1m0 13v2m1-80v2m0 41v1m0 33v2m1-80v1m0 35v1m0 14v1m0 24v2m1-62v1m0 58v1m1-3v1m1-56v1m0 64v2m1-84v1m0 79v4m1-70v1m0 62v6m1-8v7m1-71v1m0 24v1m0 25v1m0 10v1m0 4v3m1-69v1m0 64v3m1-79v1m0 6v1m0 59v1m0 7v3m1-80v1m0 8v1m0 66v3m1-31v1m0 26v2m1-24v1m0 19v3m1-4v4m1-64v1m0 27v1m0 9v1m0 19v4m1-60v1m0 53v1m0 1v3m1-7v1m0 3v1m0 13v2m1-5v5m1-72v1m0 64v6m1-73v1m0 7v1m0 55v8m1-83v1m0 38v1m0 33v1m0 5v3m1-79v1m0 40v1m0 25v1m0 7v2m1-14v2m0 9v2m1-16v1m0 12v1m1-3v1m1-2v1m1-68v1m0 64v1m1-30v1m0 5v1m0 20v1m1-69v1m0 45v1m0 19v1m1-26v1m0 3v1m0 18v1m0 11v3m1-60v1m0 14v1m0 13v1m0 25v9m1-12v12m1-14v1m0 3v10m1-80v1m0 23v1m0 45v8m1-69v1m0 12v1m0 12v1m0 38v3m1-80v1m0 22v1m0 52v2m1-79v1m0 75v2m1-52v1m0 7v1m0 14v1m0 25v1m1-61v1m0 3v1m0 53v1m1-60v1m1 1v1m0 64v3m1-85v1m0 51v1m0 27v5m1-8v7m1-20v1m0 10v2m0 2v4m1-47v1m0 25v1m0 10v1m0 5v3m1-40v1m0 27v1m0 7v2m1-79v1m0 75v2m1-71v1m0 66v3m1-62v1m0 30v1m0 26v2m1-32v1m0 1v1m0 5v1m0 19v3m1-4v4m1-64v1m0 27v1m0 9v1m0 19v5m1-7v1m0 2v2m1-26v1m0 36v3m1-6v6m1-73v1m0 64v7m1-74v1m0 29v1m0 33v2m0 3v4m1-84v1m0 38v1m0 33v1m0 5v3m1-79v1m0 2v1m0 63v1m0 8v2m1-79v2m0 62v1m0 10v2m1-67v1m0 50v1m0 12v1m1-58v1m0 3v1m0 50v1m1-2v1m1-68v1m0 64v1m1-30v1m0 26v1m1-69v1m0 65v1m1-57v1m0 30v1m0 3v1m0 18v1m0 11v4m1-69v1m0 22v1m0 39v10m1-13v13m1-43v1m0 27v1m0 4v9m1-69v1m0 12v1m0 46v8m1-57v1m0 12v1m0 5v1m0 32v3m1-80v1m0 76v2m1-80v1m0 75v2m1-44v1m0 40v1m1-61v1m0 3v1m0 53v1m1-60v1m0 69v1m1-4v4m1-7v6m1-59v1m0 50v7m1-20v1m0 10v1m0 4v3m1-69v1m0 21v1m0 25v1m0 16v3m1-61v1m0 19v1m0 28v1m0 7v3m1-80v1m0 75v2m1-72v2m0 67v2m1-4v3"/>
<path stroke="#19bfb6" d="m0 3v1m0 17v1m0 22v1m0 14v1m0 10v1m0 6v1m1-77v1m0 49v1m0 5v1m0 18v1m1-70v2m0 66v1m1-60v1m0 31v1m0 24v1m1-31v1m0 28v1m1-3v1m1-60v1m0 9v1m0 46v1m1-60v1m0 9v1m0 46v1m1-34v1m0 12v1m0 17v1m1-55v1m0 20v1m0 30v1m1-3v1m1-51v1m0 47v1m0 17v5m1-25v1m0 16v2m0 2v3m1-56v1m0 29v1m0 14v2m0 6v2m1-65v1m0 27v1m0 9v1m0 12v1m0 10v2m1-45v1m0 16v1m0 24v1m1-45v1m0 16v1m0 25v1m1-67v1m0 63v1m1-57v1m0 33v1m0 19v1m1-68v1m0 45v1m1-11v1m0 4v1m1-34v1m0 2v1m1 5v1m0 13v1m0 27v1m1-15v1m0 11v1m0 12v3m1-70v1m0 40v1m0 10v1m0 11v1m0 3v2m1-2v5m1-66v1m0 59v6m1-78v1m0 9v1m0 12v1m0 51v2m1-78v1m0 8v1m0 7v2m0 3v1m0 5v1m0 46v2m1-70v1m0 10v1m0 15v1m0 14v1m0 24v1m1-70v1m0 13v1m1-2v1m0 52v1m1-19v1m0 15v1m1-55v1m0 25v1m0 25v1m1-43v1m0 52v1m1-67v1m0 2v1m0 46v1m0 12v4m1-37v2m0 16v1m0 11v1m0 4v2m1-77v1m0 6v1m0 10v1m0 37v1m0 10v1m0 6v1m1-77v1m0 22v1m0 26v1m0 24v1m1-29v1m0 26v1m1-22v1m0 18v1m1-31v1m0 28v1m1-22v1m0 18v1m1-60v1m0 9v1m0 46v1m1-50v1m0 46v1m1-34v1m0 19v1m0 10v1m1-3v1m1-3v1m0 19v1m1-74v1m0 2v1m0 47v1m0 17v5m1-75v2m0 48v1m0 16v1m0 4v2m1-56v1m0 29v1m0 13v1m0 9v1m1-44v1m0 6v1m0 9v1m0 24v1m1-53v1m0 7v1m0 16v1m0 24v1m1-45v1m0 16v1m0 25v1m1-67v1m0 63v1m3-29v1m0 3v1m1-38v1m0 2v1m0 7v1m1 11v1m0 27v1m1-39v1m0 19v1m0 15v1m0 12v4m1-71v1m0 51v1m0 16v2m1-62v1m0 25v1m0 32v6m1-67v1m0 32v1m0 29v3m1-78v1m0 9v1m0 12v1m0 52v1m1-69v1m0 9v1m0 56v1m1-70v1m0 10v1m0 15v1m0 14v1m0 24v1m1-70v1m0 67v1m1-59v1m0 2v1m0 52v1m1-3v1m1-29v1m0 25v1m1 9v3m1-18v1m0 11v2m0 1v3m1-36v1m0 15v1m0 16v2m1-77v1m0 55v1m0 17v2m1-28v1m0 24v1m1-59v1m0 29v1m0 1v1m0 24v1m1-22v1m1-12v1m0 28v1m1-56v1m0 33v1m0 18v1m1-60v1m0 9v1m0 46v1m1-50v1m0 28v1m0 17v1m1-3v1m1-3v1m1-3v1m0 18v3m1-75v1m0 2v1m0 37v1m0 9v1m0 17v6m1-76v2m0 31v1m0 16v1m0 15v2m0 5v2m1-44v1m0 16v1m0 23v1m1-44v1m0 6v1m0 9v1m0 24v1m1-57v1m0 11v1m0 16v1m0 25v1m1-46v1m0 16v1m0 25v1m1-3v1m3-29v1m0 8v1m1-32v1m1 11v1m0 27v1m0 12v2m1-33v1m0 15v1m0 11v2m0 1v3m1-72v1m0 68v6m1-66v1m0 25v1m0 33v6m1-68v1m0 12v1m0 51v2m1-62v1m0 5v1m0 52v1m1-59v1m0 16v1m0 14v1m0 24v1m1-70v1m0 10v1m0 2v1m0 52v1m1-70v1m0 67v1m1-59v1m0 39v1m0 15v1m1-3v1m1-43v1m0 13v1m0 25v1m1-51v1m0 59v4m1-19v1m0 11v1m0 3v2m1-58v1m0 21v2m0 14v1m0 17v1m1-21v1m0 18v1m1-70v2m0 56v1m0 9v1m1-60v1m0 29v1m0 1v1m0 24v1m1-2v1m1-3v1m1-60v1m0 26v1m0 29v1m1-50v1m0 46v1m1-50v1m0 28v1m0 17v1m1-55v1m0 51v1m1-3v1m1-3v1m0 17v5m1-73v1m0 30v1m0 16v1m0 16v2m0 3v2m1-76v2m0 18v1m0 12v1m0 16v1m0 15v1m0 7v1m1-65v1m0 20v1m0 16v1m0 24v1m1-53v1m0 7v1m0 16v1m0 24v1m1-45v1m0 16v1m0 25v1m1-29v1m0 25v1m1-57v1m0 32v1m2-11v1m1-29v1m0 2v1m0 27v1m1-23v1m0 13v1m0 10v1m1-14v1m0 40v3m1-6v1m0 3v2m1-29v1m0 26v6m1-67v1m0 51v1m0 7v6m1-78v1m0 22v1m0 51v2m1-56v1m0 52v2m1-43v1m0 14v1m0 24v1m1-70v1m0 13v1m0 53v1m1-71v1m0 11v1m0 55v1m1-59v1m0 55v1m1-55v1m0 51v1m1-43v1m0 13v1m0 38v2m1-68v1m0 2v1m0 59v5m1-20v1m0 11v1m0 4v2m1-70v1m0 10v1m0 22v1m0 14v1m0 10v1m0 6v2m1-55v1m0 51v1m1-70v2m0 56v1m0 9v1m1-3v1m1-2v1m1-3v1m1-60v1m0 26v1m0 29v1m1-50v1m0 46v1m1-50v1m0 35v1m0 10v1m1-55v1m0 51v1m1-3v1m0 18v3m1-75v1m0 2v1m0 47v1m0 17v5m1-42v1m0 16v1m0 16v2m0 4v2m1-57v1m0 12v1m0 16v1m0 14v2m0 7v1m1-44v1m0 41v1m1-45v1m1 14v1m0 25v1m1-29v1m0 25v1m1-57v1m0 32v2m1-2v1m1-11v1m1-29v1m0 10v1m0 19v1m1-9v1m1-11v1m0 7v1m0 15v1m0 24v4m1-71v1m0 40v1m0 22v1m0 4v2m1-62v1m0 58v6m1-67v1m0 5v1m0 6v1m0 19v1m0 18v1m0 8v1m0 2v3m1-56v1m0 5v1m0 46v1m1-61v2m0 32v1m0 24v1m1-59v1m0 15v1m0 14v1m0 24v1m1-70v1m0 67v1m1-71v1m0 11v1m0 2v1m0 36v1m0 15v1m1-59v1m0 55v1m1-55v1m0 51v1m1-29v1m0 37v4m1-7v2m0 2v2m1-37v1m0 16v1m0 16v2m1-70v1m0 48v1m0 10v1m0 7v1m1-28v1m0 24v2m1-70v1m0 9v1m0 31v1m0 24v1"/>
<path stroke="#24c1ae" d="m0 43v1m0 27v1m0 3v2m1-46v1m0 43v1m1-47v1m0 18v1m0 1v1m0 4v1m0 9v1m0 8v1m1-48v1m0 44v1m1-48v1m0 26v1m0 18v1m1-49v1m0 16v1m0 28v1m1-21v1m1-15v1m1-29v1m1-3v1m1-3v1m0 8v1m0 16v1m1-23v1m1-2v2m0 67v2m1-6v2m0 2v2m1-2v1m1-51v1m0 48v1m1-56v1m0 53v1m1-45v1m1-3v1m0 21v1m1-9v1m0 26v1m1-3v1m1-31v1m0 27v1m1-56v1m0 35v1m2-4v1m0 28v3m1-70v1m0 51v1m0 15v2m1-55v1m0 19v1m0 6v1m0 7v1m0 10v1m0 6v1m1-70v1m0 67v5m1-75v1m0 17v1m0 53v2m1-56v2m0 52v1m1-57v2m0 13v1m0 14v1m0 24v1m1-58v1m0 29v1m0 24v1m1-71v1m0 12v1m0 2v1m0 26v1m0 24v1m1-58v1m0 54v1m1-3v1m2 8v4m1-34v1m0 31v1m1-20v1m0 17v1m1-69v2m0 20v1m0 20v1m0 23v1m1-59v1m0 10v1m1-3v1m0 45v1m1-49v1m0 16v1m0 28v1m2-61v1m0 25v1m1-29v1m0 38v1m1-42v1m0 25v1m1-20v1m0 16v1m1 18v1m1 25v4m1-9v3m0 4v2m1-13v1m0 10v1m2-4v1m1-45v1m1-14v1m0 32v2m0 19v1m1-68v1m0 37v1m0 7v1m0 18v1m1-16v1m0 12v1m1-31v1m0 27v1m1-45v1m2 27v1m0 21v1m0 2v2m1-71v1m0 51v1m0 16v1m1-35v1m0 25v1m0 6v4m1-73v1m0 14v1m0 52v6m1-76v1m0 18v1m0 1v1m0 51v2m1-57v2m0 52v1m1-57v1m0 1v1m0 12v1m0 14v1m0 24v1m1-28v1m0 9v1m0 14v1m1-58v1m0 29v1m0 24v1m1-58v1m0 3v1m0 50v1m1-50v1m0 7v1m0 38v1m1-53v1m0 63v1m1-35v2m0 28v1m0 2v2m1-68v1m0 10v1m0 31v1m0 16v1m0 5v1m1-25v1m0 4v1m0 17v1m1-68v1m0 65v1m1-59v1m0 10v1m0 45v1m1-49v1m0 45v1m1-49v1m0 16v1m2-32v1m0 25v1m1-29v1m0 4v1m0 20v1m0 12v1m1-24v1m0 7v1m1-23v1m0 2v1m0 16v1m1-22v2m1 64v5m1-63v1m0 7v1m0 43v3m0 6v1m1-51v1m0 37v1m0 10v1m1-2v1m1-3v1m1-66v1m0 20v1m1-14v1m0 53v1m1-68v1m0 37v1m0 26v1m1-53v1m0 31v1m0 17v1m1-56v1m0 24v1m0 27v1m1-45v1m1 53v1m1-26v1m0 8v1m0 11v1m0 3v1m1-71v1m0 51v1m0 16v2m1-70v1m0 59v1m0 7v5m1-75v1m0 7v1m0 18v1m0 41v5m1-68v1m0 10v3m0 52v1m1-57v2m0 13v1m0 14v1m1-33v1m0 1v1m0 27v1m0 24v1m1-55v1m0 26v1m0 24v1m1-58v1m0 29v1m0 24v1m1-58v1m0 3v1m0 50v1m1-42v1m0 38v1m1 10v3m1-6v1m0 3v2m1-69v1m0 10v1m0 4v1m0 26v1m0 16v1m0 6v1m1-26v1m0 4v1m0 18v1m1-69v1m0 65v1m1-48v1m0 17v1m0 8v1m0 18v1m1-49v1m0 45v1m1-49v1m0 27v1m1-41v1m0 25v1m1-29v1m0 25v1m1-29v1m0 25v1m1-3v1m1-23v1m0 2v1m1-5v2m0 67v3m1-7v2m0 3v2m1-3v2m1-37v1m0 33v1m1-56v1m0 53v1m1-45v1m1-24v1m0 63v1m1-3v1m1-3v1m1-3v1m1-56v1m0 52v1m1-15v1m0 11v1m1-19v1m0 15v1m0 12v3m1-70v1m0 51v1m0 11v1m0 3v2m1-35v1m0 14v1m0 17v1m1-70v1m0 7v1m0 18v1m0 32v1m0 7v5m1-75v1m0 7v1m0 7v2m0 55v1m1-68v1m0 10v3m0 52v1m1-57v2m0 13v1m0 14v1m0 24v1m1-56v1m0 27v1m0 9v1m0 14v1m1-55v1m0 26v1m0 24v1m1-58v1m0 29v1m0 24v1m1-58v1m0 54v1m1-3v1m1 10v4m1-35v1m0 32v1m1-26v1m0 5v1m0 17v1m1-28v1m0 1v1m0 23v1m1-69v1m0 9v1m1 26v1m0 8v1m0 18v1m1-49v1m0 45v1m1-49v1m0 27v1m1-41v1m0 25v1m1-29v1m0 25v1m0 12v1m1-16v1m1-20v1m0 16v1m2-24v2m0 67v4m1-8v1m0 5v1m1-26v1m0 23v1m1-37v1m0 9v1m0 24v1m1-57v1m0 11v1m0 41v1m1-45v1m1-24v1m0 63v1m1-30v1m0 26v1m1-16v1m0 12v1m1-31v1m0 27v1m1-45v1m0 24v1m0 16v1m1-3v1m1-3v1m0 12v4m1-71v1m0 51v1m0 16v1m1-69v1m0 33v1m0 32v2m0 1v2m1-74v1m0 7v1m0 59v6m1-68v1m0 9v1m0 2v1m0 51v2m1-69v1m0 11v2m0 52v1m1-57v3m0 12v1m0 14v1m0 24v1m1-28v1m0 24v1m1-28v1m1-33v1m0 29v1m0 24v1m1-50v1m0 7v1m0 38v1m1-53v1m0 49v1m0 13v2m1-6v2m0 2v1m1-57v1m0 22v1m0 31v2m1-21v1m0 17v1m1-69v1m0 40v1m0 16v1m0 8v1"/>
<path stroke="#2cc4a7" d="m0 33v1m0 19v1m0 4v1m0 13v3m1-67v1m0 10v1m0 4v1m0 27v1m0 15v1m0 5v1m1-2v1m1-68v1m1 7v1m0 55v1m2-34v1m0 29v1m1-3v1m1-54v1m0 40v1m1-40v1m0 29v1m1-36v1m1-9v1m0 6v2m0 17v1m2 45v2m1-53v1m0 45v2m0 4v1m1-35v1m0 32v1m1-2v1m1-2v1m1-66v1m0 36v1m0 25v1m1-56v1m0 10v1m1 12v1m0 14v1m1-12v1m0 3v1m2-29v1m0 5v1m1-9v1m0 12v1m0 18v1m1-42v1m0 19v1m0 40v1m0 2v1m1-70v1m0 2v1m0 19v1m0 45v1m1-54v1m0 4v1m0 13v1m0 14v1m0 17v1m1-51v2m0 47v4m1-5v5m1-69v1m0 65v2m1-70v1m0 13v2m0 12v1m0 24v1m0 13v1m1-3v1m2-59v1m0 3v1m0 3v1m0 45v1m1-41v1m0 12v1m0 24v1m1-28v1m0 24v1m1-28v1m0 9v1m0 9v1m0 17v1m0 2v2m1-68v1m0 10v1m0 11v1m0 18v1m0 1v1m0 21v1m1-20v1m0 9v1m0 7v1m1-68v1m0 38v1m0 26v1m1-59v1m0 37v1m1-36v1m1 19v1m0 11v1m0 17v1m1-3v1m1-54v1m1 1v1m0 29v1m1-42v1m0 5v1m1-9v1m0 6v2m0 17v1m2-12v1m0 55v4m1-54v1m0 51v2m1-2v1m1-56v1m0 52v1m1-2v1m1-45v1m0 15v1m0 25v1m1-56v1m1 1v1m0 21v1m1 3v1m1-34v1m0 35v1m1-28v1m1 10v1m0 12v1m0 28v2m1-66v1m0 19v1m0 44v1m1-71v1m0 2v1m0 19v1m0 28v1m0 16v1m1-49v1m0 6v1m0 21v1m0 17v1m1-50v1m0 47v5m1-6v2m0 1v2m1-69v1m0 13v1m0 52v1m1-70v1m0 13v2m0 12v1m0 38v1m1-54v1m2-8v1m0 53v1m1-41v1m0 12v1m0 24v1m1-28v1m0 24v1m0 13v2m1-43v1m0 10v1m0 9v1m0 20v1m1-45v1m0 18v1m0 23v1m1-68v1m0 21v1m0 25v1m0 17v1m1-68v1m0 38v1m0 26v1m1-59v1m0 27v1m0 9v1m1 16v1m1-33v1m0 11v1m0 17v1m3-63v1m0 8v1m0 29v1m1-42v1m3 67v6m1-2v1m1-2v1m1-56v1m1 51v1m1-45v1m0 15v1m0 5v2m1-2v1m1-12v1m1 3v1m1-34v1m0 35v1m1-28v1m1 10v1m0 41v3m1-67v1m0 19v1m0 44v1m1-71v1m0 22v1m0 6v1m0 6v1m0 14v1m0 17v1m1-54v5m0 47v1m1-2v5m1-69v1m0 65v2m1-70v1m0 13v1m0 13v1m0 24v1m0 13v1m1-70v1m0 13v2m0 51v1m1-54v1m2 46v1m1-52v1m0 48v1m1-28v1m0 7v1m0 3v1m0 26v3m1-44v1m0 10v1m0 9v1m0 21v1m1-46v1m0 18v1m0 24v1m1-69v1m0 21v1m1-14v1m0 55v1m1-31v1m1-4v1m0 29v1m1-3v1m1-13v1m1-40v1m0 29v1m1-42v1m0 8v1m1-12v1m0 7v1m0 17v1m2 45v3m1-54v1m0 43v4m0 4v1m1-12v1m0 9v1m1-2v1m1-2v1m1-45v1m0 41v1m1-56v1m0 26v1m0 5v2m1-48v1m0 51v1m1-18v1m0 9v1m1-7v1m1-23v1m0 5v1m1-9v1m0 30v1m1-41v1m0 19v1m0 43v1m1-70v1m0 2v1m0 13v1m0 5v1m0 20v1m0 24v1m1-49v1m0 13v1m0 14v1m0 17v1m1-52v3m0 47v5m1-6v5m1-69v1m0 66v1m1-70v1m0 13v1m0 13v1m0 38v1m1-56v1m2-2v1m0 3v1m1 5v1m1-14v1m0 48v1m1-28v1m0 7v1m0 3v1m0 7v1m0 17v2m0 1v2m1-68v1m0 10v1m0 11v1m0 20v1m0 15v1m0 5v1m1-46v1m0 25v1m0 17v1m1-47v1m0 44v1m1-59v1m0 10v1m1-9v1m0 22v1m1-4v1m0 29v1m2-56v1m1-8v1m0 8v1m0 29v1m1-42v1m0 5v1m1-2v2m0 17v1m0 20v1m2-33v1m0 55v5m1-55v1m0 4v1m0 47v1m1-2v1m2-4v1m1-45v1m0 41v1m1-56v1m1 1v1m2-8v1m0 30v1m1-23v1m1 23v1m0 5v1m1-42v1m0 60v1m0 3v1m1-71v1m0 22v1m0 6v1m0 21v1m0 16v1m1-49v1m0 28v1m0 10v1m0 6v1m1-51v2m0 47v5m1-6v2m0 2v1m1-69v1m0 52v1m0 13v1m1-70v1m0 13v2m0 12v1m0 38v1m1-56v1m0 1v1m0 51v1m2-60v1m0 3v1m1 9v1m1 50v2m1-51v1m0 6v1m0 9v1m0 1v1m0 7v1m0 17v1m0 3v1m1-57v1m0 11v1m0 20v1m1-24v1m0 25v1m0 17v1"/>
<path stroke="#31c69f" d="m0 41v1m0 3v1m0 8v1m1-13v2m0 6v1m0 5v1m0 15v2m1-57v1m0 54v1m1-68v1m0 39v1m0 7v1m0 17v1m1-68v1m0 37v1m1-31v1m0 4v1m0 21v1m0 10v1m0 17v1m1-59v1m1 36v1m1-32v1m0 46v1m1-3v1m1-51v1m0 30v1m0 16v1m1-20v1m0 7v1m1-24v1m1-10v1m1 49v2m0 2v4m1-2v1m1-2v1m1-55v1m0 27v1m0 24v1m2-31v1m0 6v2m0 18v1m1-67v1m0 10v1m0 3v1m0 6v1m0 23v1m0 17v1m1-3v1m1-31v1m0 6v1m0 20v1m1-55v1m0 23v1m0 11v1m0 15v1m1-51v1m1 4v1m0 25v1m0 28v2m1-59v1m0 57v1m1-71v1m0 9v1m0 9v3m0 7v1m0 32v1m0 5v1m1-62v1m0 41v1m0 17v1m1-63v1m0 41v1m0 18v1m1-2v4m1-69v1m0 63v4m1-55v2m0 12v1m0 37v1m1-53v1m0 25v1m0 24v1m1-28v1m2-29v1m0 10v1m0 24v1m0 7v2m1-12v1m0 8v1m0 3v1m0 13v2m1-31v1m0 24v1m0 4v1m1-57v1m0 54v1m1-68v1m0 47v1m0 17v1m1-68v1m0 37v1m0 27v1m1-59v1m0 26v1m0 28v1m1-59v1m1 7v1m0 28v1m1-32v1m0 46v1m1-41v1m0 37v1m1-52v2m0 30v1m4-16v1m0 40v6m1-34v1m0 32v1m2-57v1m0 27v1m0 24v1m1-65v1m1 18v1m0 14v1m0 26v1m1-67v1m0 63v1m1-31v1m0 10v1m0 16v1m1-31v1m0 6v1m0 20v1m1-55v1m0 23v1m1-23v1m0 6v1m0 32v1m1-36v1m0 53v1m0 2v1m1-60v1m0 19v1m1-23v1m0 8v4m0 14v1m0 25v1m1-56v1m0 41v1m1-45v1m0 60v1m0 2v1m1-14v1m0 8v5m1-70v1m0 63v1m0 2v1m1-55v2m0 12v1m0 37v2m1-28v1m0 24v1m1-53v1m0 24v1m2-29v1m0 35v1m0 7v2m1-31v1m0 16v1m0 1v1m0 12v1m0 12v4m1-67v1m0 10v1m1 45v1m2 4v1m1-59v1m0 26v1m2-26v1m0 3v1m0 46v1m1-50v1m0 46v1m1-53v1m0 49v1m1-52v2m0 30v1m1-16v1m3-6v1m0 50v2m1-35v1m0 32v1m1-2v1m1-28v1m1-40v1m0 62v1m1-56v1m0 10v1m0 14v1m0 14v1m0 11v1m1-3v1m1-31v1m0 27v1m1-38v1m0 6v1m0 6v1m0 9v1m0 10v1m1-55v1m0 23v1m0 17v1m1-41v1m0 6v1m0 25v1m1-29v1m0 33v1m0 19v1m1-57v1m0 58v1m1-62v1m0 26v1m0 14v1m0 10v1m0 6v1m1-63v1m0 41v1m0 18v1m1-2v4m1-6v5m1-41v1m0 37v1m1-55v2m0 51v1m1-49v1m0 20v1m0 24v1m1-57v1m0 3v1m0 24v1m1-16v1m0 12v1m1 6v1m0 10v2m0 3v1m1-16v1m0 6v1m0 5v1m0 12v1m0 2v2m1-57v1m0 54v1m1-28v1m0 7v1m0 9v1m0 7v1m1-68v1m1 7v1m0 4v1m0 32v1m0 17v1m1-59v1m1 36v1m1-36v1m0 3v1m0 46v1m1-3v1m1-53v1m0 1v1m0 30v1m1-35v1m0 31v1m0 7v1m1-24v1m1-10v1m1 10v1m0 42v4m1-54v1m0 51v1m1-2v1m1-55v1m0 52v1m1-28v1m1-19v1m0 41v1m1-56v1m0 3v1m0 6v1m0 14v1m0 8v1m0 17v1m1-3v1m1-31v1m0 27v1m1-55v1m0 23v1m0 6v1m0 4v1m1-35v1m0 19v1m1-16v1m0 25v1m0 28v2m1-59v1m0 19v1m0 37v1m1-61v1m0 11v1m0 46v1m1-62v1m0 41v1m0 10v1m0 6v1m1-63v1m0 60v1m1-11v1m0 8v5m1-7v5m1-54v1m0 12v1m0 37v2m1-56v1m0 1v1m0 50v1m1-28v1m0 24v1m1-57v1m0 28v1m0 24v1m1-41v1m0 12v1m0 11v1m0 7v1m1-30v1m0 27v1m0 3v1m0 14v1m1-32v2m0 6v1m0 5v1m0 16v1m1-57v1m0 54v1m1-68v1m0 39v1m0 7v1m0 17v1m1-68v1m0 65v1m1-59v1m0 26v1m0 10v1m0 17v1m2-22v1m0 17v1m1-50v1m0 46v1m1-41v1m0 37v1m1-51v1m0 30v1m2-18v1m2 40v9m1-12v1m0 9v1m1-2v1m1-56v1m0 27v1m0 24v1m1-28v1m1-19v1m0 21v2m0 18v1m1-30v1m0 8v1m0 17v1m1-20v1m0 16v1m1-31v1m1-27v1m0 23v1m0 6v1m1-30v1m0 6v1m0 12v1m1-16v1m0 12v1m0 6v1m0 34v3m1-60v1m1-3v1m0 7v1m0 2v2m0 14v1m1-30v1m0 41v1m0 10v1m1-56v1m0 52v1m0 7v1m0 2v2m1-6v5m1-6v1m0 2v1m1-54v1m0 12v1m0 38v1m1-56v1m0 1v1m0 50v1m1-28v1m0 24v1m1-57v1m0 28v1m0 24v1m1-52v1m0 23v1m0 11v1m0 7v2m0 3v1m1-20v1m0 12v1m0 3v1m0 13v3m1-67v1m0 34v1m0 6v1m0 17v1m0 5v1"/>
<path stroke="#37c897" d="m0 9v1m0 10v1m0 21v1m0 9v1m0 4v1m1 11v3m1-66v1m0 34v1m0 12v1m0 16v1m1-57v1m0 54v1m1-2v1m1-32v1m1-19v1m0 15v1m0 29v1m1-59v1m0 9v1m0 15v1m1-29v1m0 25v1m0 12v1m1-42v1m0 6v1m0 1v1m1-12v1m0 7v1m1-11v1m0 56v1m1-20v1m0 16v1m1-33v1m0 12v1m0 16v1m1-27v1m0 23v1m1-32v1m0 28v1m0 13v1m0 6v2m1-25v1m0 22v1m1-2v1m1-55v1m0 26v1m0 25v1m1-3v1m1-30v1m1-28v1m0 10v1m0 13v1m3-31v1m0 43v1m0 7v1m1-55v1m0 51v1m1-32v1m0 7v1m1-14v1m1-18v1m0 32v1m1-36v1m0 4v1m1-3v1m0 42v1m0 10v1m0 7v1m1-22v1m0 19v1m1-23v1m0 19v4m1-54v2m0 12v1m0 33v5m1-7v5m1-56v1m0 3v1m0 44v2m0 2v1m1-3v1m1-34v1m0 14v1m0 10v1m1-11v1m0 13v1m0 12v1m0 2v1m1-26v1m1-33v1m1 25v1m0 27v1m1-32v1m0 11v1m1-31v1m0 15v1m0 29v1m1-59v1m0 5v1m0 19v1m1-29v1m0 25v1m1-29v1m0 6v1m0 1v1m1-12v1m0 56v1m1-20v1m0 16v1m1-33v1m0 12v1m0 16v1m1-3v1m1-3v1m0 14v2m1-48v1m0 28v1m0 13v1m0 7v2m1-26v1m0 23v1m2-30v1m0 25v1m1-22v2m1-37v1m0 10v1m0 13v1m0 9v1m1-27v1m1 28v1m1-40v1m0 31v1m0 15v1m1-55v1m0 51v1m1-18v1m0 7v1m0 6v1m0 13v2m1-47v1m0 45v1m1-67v1m0 64v1m1-68v1m0 32v1m0 32v1m1-64v1m0 42v1m1-46v1m0 42v1m0 18v1m1-22v1m0 19v1m0 1v2m1-26v1m0 19v4m1-54v3m0 4v1m0 40v5m1-7v5m1-56v1m0 40v1m0 7v2m0 2v1m1-40v1m0 36v1m1-8v1m1-11v2m0 12v1m0 11v1m0 4v1m1-65v1m0 7v1m0 29v1m0 24v1m1-68v1m0 38v1m0 8v1m0 17v1m1-68v1m0 36v1m1-4v1m0 11v1m0 17v1m1-59v1m0 9v1m0 15v1m1-29v1m0 25v1m0 12v1m0 7v1m1-50v1m0 25v1m1-29v1m0 7v2m1-12v1m0 47v1m0 8v1m1-20v1m0 16v1m1-40v1m0 6v1m0 12v1m0 16v1m1-27v1m1 21v1m0 16v5m1-53v1m0 28v1m0 22v1m1-26v1m0 23v1m1-55v1m0 52v1m1-29v1m0 25v1m1-51v1m0 28v1m1-36v1m0 10v1m0 13v1m1 8v1m2-36v1m0 26v1m0 20v1m1-55v1m0 51v1m1-37v1m0 12v1m0 36v1m1-49v2m0 45v1m1-67v1m1-3v1m0 58v1m0 6v1m1-64v1m0 42v1m0 10v1m0 7v1m1-65v1m0 42v1m1-3v1m0 19v4m1-40v1m0 13v1m0 19v5m1-55v1m0 1v1m0 45v5m1-7v5m1-56v1m0 40v1m0 7v2m0 2v1m1-51v1m0 10v1m0 36v1m1-17v1m0 28v2m1-66v1m0 2v1m0 31v1m0 12v1m0 16v1m1-65v1m0 7v1m0 54v1m1-68v1m0 38v1m0 8v1m0 17v1m1-68v1m0 36v1m1-4v1m0 29v1m1-59v1m0 9v1m0 15v1m1-29v1m0 25v1m0 12v1m1-42v1m1-3v1m0 7v1m0 48v1m1-3v1m1-20v1m0 16v1m1-33v1m0 12v1m2 12v1m0 17v5m1-34v1m0 8v1m0 22v1m1-26v1m0 23v1m1-55v1m0 52v1m1-65v1m0 35v1m2-31v1m0 10v1m0 13v1m2 23v1m1-55v1m0 30v1m0 11v1m0 8v1m1-55v1m0 30v1m0 20v1m1-32v1m0 41v1m0 2v1m1-52v1m0 2v1m1-20v1m0 32v1m1 12v1m0 10v1m1-57v1m0 42v1m0 18v1m1-65v1m0 42v1m1-3v1m0 19v4m1-53v1m0 12v1m0 13v1m0 19v5m1-55v1m0 1v1m0 45v5m1-52v1m0 44v3m0 1v1m1-6v1m0 2v1m1-51v1m0 32v1m1 26v1m0 1v2m1-67v1m0 2v1m0 31v1m1-35v1m0 7v1m0 47v1m1-22v1m0 26v1m1-68v1m0 35v1m1-29v1m0 25v1m0 29v1m1-59v1m0 9v1m0 15v1m1-29v1m0 25v1m1-29v1m0 6v1m0 1v1m1-12v1m0 7v1m0 48v1m1-20v1m0 16v1m1-20v1m1-10v1m2-10v1m0 50v2m1-26v1m0 23v1m2-4v1m1-65v1m0 35v1m0 14v1m1-44v1m0 10v1m1 11v1m1 25v1m1-51v1m0 31v1m0 15v1m1-55v1m0 30v1m0 12v1m0 7v1m1-18v1m0 7v1m1-25v1m0 45v1m1-67v1m0 14v2m0 48v1m1-68v1m0 32v1m0 32v1m1-21v1m1-46v1m0 42v1m0 18v1m1-22v1m0 19v1m0 1v2m1-26v1m0 19v5m1-54v1m0 5v1m0 20v1m0 19v5m1-7v5m1-52v1m0 44v3m0 1v1m1-40v1m0 36v1m2-49v1m0 30v1m0 13v1m0 15v2m1-65v1m0 7v1m0 54v1"/>
<path stroke="#3fca8e" d="m0 26v1m0 28v2m1-46v1m0 6v1m0 22v1m0 2v1m0 8v1m0 1v1m1-47v1m0 32v1m0 4v1m0 3v1m0 18v1m1-64v1m0 32v1m0 3v1m0 4v1m0 13v1m1-61v1m0 1v1m0 7v1m0 25v3m0 5v1m0 3v1m1-50v1m0 8v1m0 10v1m0 14v1m0 29v1m1-20v1m1-35v1m0 49v1m1-50v1m1-4v1m0 10v1m0 6v1m0 12v1m1-16v1m4 5v1m1-3v1m0 34v3m1-52v1m0 50v1m1-26v1m1 22v1m1-64v1m0 34v1m1 24v1m1-3v1m1-55v1m0 10v1m0 24v1m1-34v1m0 5v1m0 20v1m1-24v1m0 12v1m1-3v1m0 7v1m0 13v1m1-48v1m0 9v1m0 11v1m0 14v1m0 14v1m0 12v1m0 2v1m1-66v1m0 4v1m0 41v1m0 16v1m1-62v1m0 53v1m0 5v1m1-67v1m0 31v1m0 25v1m0 6v1m1-65v1m1-3v1m0 62v1m3-54v1m0 1v1m0 11v1m1 23v1m0 9v2m1-7v1m0 2v2m1-50v1m0 10v1m0 21v1m0 12v1m0 1v1m1-47v1m0 32v1m0 8v1m0 16v2m1-66v1m0 2v1m0 31v2m0 8v1m0 2v1m0 16v1m1-65v1m0 32v2m0 2v1m0 4v1m0 20v1m1-68v1m0 1v1m0 7v1m0 25v2m0 6v1m0 3v1m1-50v1m0 19v1m1 25v1m1 6v1m0 8v1m1-50v1m0 29v1m1-34v1m0 17v1m3-13v1m1 4v1m0 5v1m0 6v1m1-3v1m1 33v3m1-53v1m0 51v1m1-27v1m0 24v1m1-55v1m1-12v1m0 13v1m0 20v1m0 15v1m0 10v1m1-3v1m1-55v1m1 8v1m0 6v1m1-10v1m0 20v1m0 10v1m1-22v1m0 7v1m1-34v1m0 22v1m0 7v1m1-34v1m0 4v1m0 4v1m0 11v1m0 29v1m0 15v1m1-61v1m1-3v1m0 53v1m1-61v1m0 2v1m0 28v1m0 25v1m0 6v1m1-65v1m1 60v1m2-38v1m1-17v1m0 1v1m1-2v1m0 46v2m1-7v1m0 2v2m1-50v1m0 10v1m0 20v1m0 13v1m0 1v1m1-47v1m0 32v1m0 8v1m0 15v1m0 1v2m1-67v1m0 34v2m0 8v1m0 2v1m0 16v1m1-65v1m0 7v1m0 25v1m0 1v1m0 5v1m0 20v1m1-68v1m0 1v1m0 7v1m0 5v1m0 19v2m0 6v1m0 21v1m1-68v1m0 19v1m1 43v1m2-54v1m0 1v1m0 29v1m1-16v1m4-8v1m0 12v1m0 16v1m1-20v1m0 31v2m1-5v1m0 6v2m1-2v1m1-27v1m0 24v1m1-55v1m1 23v1m0 8v1m0 17v1m1-20v1m0 16v1m1-55v1m0 10v1m1-3v1m1-3v1m0 25v1m0 6v1m1-23v1m0 7v1m1-34v1m0 22v1m0 13v1m0 14v1m0 13v2m1-65v1m0 4v1m0 8v1m0 1v1m0 30v1m1-45v1m0 59v1m1-63v1m0 27v1m1-32v1m1-3v1m0 62v1m3-53v1m0 12v1m2-16v1m0 46v2m1-33v1m0 25v1m0 2v2m1-46v1m0 6v1m0 34v1m0 1v1m1-16v1m0 1v1m0 4v1m0 3v1m0 14v1m0 3v1m1-31v1m0 8v1m1-45v1m0 7v1m0 25v3m0 5v1m1-45v1m0 33v2m0 6v1m0 21v1m1-48v1m0 27v1m1 15v1m2-54v1m0 1v1m0 9v1m0 6v1m0 12v1m1-16v1m3 0v1m0 23v1m1-20v1m0 16v1m1 14v1m1-49v1m0 42v1m0 7v1m2-28v1m0 24v1m1-55v1m0 25v1m0 15v1m0 10v1m1-30v1m0 7v2m0 17v1m2-57v1m0 10v1m0 24v1m1-34v1m0 5v1m1 23v1m0 7v1m1-24v1m0 21v1m1-48v1m0 36v1m0 14v1m0 14v1m1-65v1m0 4v1m0 9v2m0 30v1m0 16v1m1-62v1m0 59v1m1-63v1m0 27v1m0 32v1m1-65v1m1 60v1m3-53v1m0 12v1m1 34v1m1-55v1m0 50v2m1-39v1m0 31v1m0 2v3m1-47v1m0 29v1m0 2v1m0 8v1m0 1v1m0 14v1m1-29v1m0 4v1m0 3v1m0 2v1m0 16v1m1-32v1m0 8v1m0 20v1m1-68v1m0 1v1m0 7v1m0 25v3m0 5v1m0 3v1m1-49v1m0 41v1m1-26v1m0 27v1m1-35v1m0 40v1m0 8v1m1-20v1m1-34v1m0 17v1m3 24v1m1-33v1m0 12v1m0 16v1m1-20v1m0 16v1m1-3v1m0 17v4m1-53v1m0 19v1m0 31v1m1-2v1m1-55v1m0 26v1m1-25v1m0 20v1m0 26v1m1-30v1m0 7v1m0 18v1m1-55v1m0 10v1m1-3v1m0 6v1m0 17v1m0 5v1m3-48v1m0 22v1m0 28v1m1-50v1m0 46v1m0 12v1m0 2v1m1-61v1m1-3v1m1-3v1m0 27v1m0 32v1m1-65v1m1 60v1m2-38v1m1-17v1m0 1v1m1 35v1m0 10v1m1-55v1m0 21v1m0 28v2m1-50v1m0 10v1m0 21v1m0 9v1m0 2v1m0 1v1m1-14v1m0 8v1m0 15v3m1-66v1m0 34v2m0 4v1m0 3v1m0 2v1m0 16v1"/>
<path stroke="#4acb84" d="m1 7v1m0 41v1m0 4v1m1-39v1m0 23v1m0 12v1m0 12v1m0 2v1m1-66v1m0 21v1m0 12v1m0 1v3m0 8v1m0 16v1m1-46v1m0 13v1m0 29v1m1-68v1m0 1v1m0 41v1m0 3v1m1-50v2m0 7v1m0 25v1m1-29v1m0 9v1m0 28v1m1-42v1m0 7v1m0 48v1m1-60v1m1-3v1m0 39v1m1-16v1m3-6v1m1 44v1m1-37v1m0 7v1m0 7v1m0 20v2m1-53v1m0 11v1m0 39v1m1-28v1m1-29v1m0 4v1m0 36v1m0 9v1m1-30v1m0 8v2m1-13v1m0 10v1m1-14v1m0 17v1m0 9v1m1-55v1m0 23v1m0 18v1m0 8v1m1-23v1m0 4v1m1-29v1m1-8v1m0 15v1m0 44v2m2-66v1m0 2v1m0 42v1m1-48v3m0 42v1m1-48v2m0 29v1m0 13v1m0 18v1m1-22v1m1-3v1m0 19v1m1-43v1m0 19v1m0 19v1m1-49v1m0 25v1m1-16v1m0 12v1m0 19v1m1-51v1m0 3v1m1 2v1m0 42v1m1-39v1m0 22v1m0 7v1m0 4v2m1-40v1m0 26v1m0 26v1m1-45v1m0 15v2m0 8v1m0 10v1m1-45v1m0 4v1m0 13v1m0 29v1m1-68v1m0 1v1m0 7v1m0 25v1m0 7v1m0 21v1m1-67v1m0 7v1m0 25v1m1-29v1m0 9v1m1-13v1m0 7v2m0 47v1m1-60v1m0 39v1m1-43v1m0 26v1m0 21v1m1-25v1m3-6v1m1 10v1m0 34v1m1-57v1m0 18v1m0 15v1m0 21v2m1-2v1m1-28v1m0 25v1m1-55v1m1 22v1m0 8v1m1-12v1m0 27v1m1-55v1m0 4v1m0 18v1m0 11v1m0 15v1m1-55v1m0 23v1m0 27v1m1-44v1m0 25v1m1-34v1m0 4v1m0 7v1m1 0v1m0 15v1m0 27v1m1-16v1m0 16v1m1-66v1m0 2v1m0 42v1m0 17v1m1-66v2m0 43v1m1-47v1m0 43v1m1-3v1m1-3v1m0 19v1m1-23v1m1-29v1m0 12v1m0 12v1m1 17v1m1-51v1m0 21v1m1-16v1m0 28v1m0 3v1m0 9v1m1-39v1m0 30v1m0 4v2m0 14v1m1-28v1m0 2v1m1-21v1m0 13v1m0 1v1m0 20v1m1-40v1m0 26v1m1-49v1m0 7v1m0 25v1m0 7v1m0 21v1m1-59v1m0 6v1m0 18v1m0 12v1m1-42v1m0 9v1m0 46v1m1-60v1m0 8v1m0 10v1m0 36v1m1-60v1m0 39v1m1-16v1m3 16v1m1-25v1m1 10v1m0 34v3m1-59v1m0 6v1m0 11v1m0 15v1m0 22v1m1-2v1m1-28v1m0 15v1m0 9v1m1-64v1m0 8v1m0 24v1m1-3v1m1-3v1m0 27v1m1-55v1m0 4v1m0 18v1m0 27v1m1-31v1m1-16v1m0 34v1m1-43v1m0 4v1m0 11v1m1-5v1m0 16v1m0 30v1m1-65v1m0 2v1m0 42v1m1-49v1m0 2v1m0 42v1m1-48v2m0 29v1m0 13v1m0 18v1m1-22v1m1-3v1m0 19v1m1-23v1m0 19v1m1-23v1m1-30v3m0 11v1m1 30v1m1-51v1m1 2v1m0 31v1m0 4v1m0 9v1m1-39v1m0 36v1m0 13v3m1-66v1m0 34v1m0 1v1m0 2v1m0 7v1m0 16v1m1-46v1m0 13v1m0 29v1m1-68v1m0 9v1m0 10v1m0 26v1m1-49v1m0 7v1m0 25v1m0 7v1m1-37v1m0 6v1m0 31v1m0 8v1m1-51v1m0 9v1m0 46v1m1-60v1m0 8v1m1-12v1m0 39v1m1-16v1m3-6v1m0 21v1m1-12v1m0 31v2m1-55v1m0 18v1m0 35v3m1-60v1m0 6v1m0 27v1m0 23v1m1-28v1m1-24v1m0 46v1m1-64v1m0 8v1m0 24v1m1-3v1m0 10v1m0 16v1m1-37v1m0 5v1m0 27v1m1-55v1m0 23v1m0 27v1m1-44v1m0 12v1m1-16v1m1-8v1m0 4v1m0 11v1m0 43v1m2-65v1m0 2v1m0 42v1m1-49v4m0 42v1m1-47v1m0 29v1m0 13v1m0 18v1m1-22v1m1-3v1m0 19v1m1-43v1m2-12v1m0 1v1m0 11v1m0 25v1m1-40v1m0 17v1m0 25v1m1-42v1m1 4v1m0 35v1m1-39v1m0 23v1m0 12v1m0 12v1m0 3v1m1-67v1m0 34v1m0 1v2m0 1v1m0 7v1m0 16v1m1-51v1m0 4v1m0 13v1m0 29v1m1-58v1m0 10v1m0 14v1m0 29v1m1-59v1m0 25v1m0 7v1m1-37v1m1-3v1m0 7v1m0 1v1m0 46v1m1-60v1m0 39v1m1-16v1m1-3v1m1-9v1m0 12v1m1 13v1m1-25v1m0 21v1m1-12v1m0 33v1m1-56v1m0 18v1m0 15v1m0 14v1m0 6v2m1-61v1m0 6v1m0 27v1m0 23v1m1-28v1m0 15v1m0 9v1m1-55v1m1 22v1m0 9v1m1-13v1m0 10v1m0 16v1m1-55v1m0 4v1m0 18v1m0 27v1m1-55v1m0 10v1m0 12v1m0 18v1m1-35v1m0 12v1m0 12v1m1-29v1m1-3v1m0 11v1m0 14v1m0 29v1m1-18v1m0 16v1m1-66v1m0 2v1m0 36v1m0 5v1m0 17v1m1-66v3m0 42v1m1-3v1m2 15v1m2-51v1m0 12v1m1-17v1m1 0v1m0 43v1m1-42v1m0 32v1m0 9v1m1-39v1m0 22v1m0 12v2m1-13v1m0 26v1"/>
<path stroke="#57cc7a" d="m0 4v1m0 8v1m0 18v1m0 13v1m1-17v1m1-3v1m0 14v1m0 2v1m0 5v1m0 14v2m1-55v1m0 53v1m1-57v1m0 6v1m0 30v1m1-41v1m0 25v1m1 6v1m0 21v1m1-33v1m0 21v1m1-42v1m0 16v1m1 28v1m1-3v1m1-20v1m1-22v1m0 5v1m1 4v1m0 15v1m1-3v1m0 6v1m1-38v1m0 5v1m0 28v1m0 15v2m1-55v1m0 49v1m0 4v1m1-58v1m0 33v1m0 23v1m1-54v1m0 11v1m0 13v1m0 25v1m1-43v1m0 13v1m1-37v1m0 8v1m0 51v1m1-55v1m1 3v1m0 12v1m2-23v1m0 51v1m1-55v1m0 5v1m0 3v1m0 12v1m0 28v1m1-45v1m1-6v1m0 1v2m0 27v1m1-33v2m0 37v1m3-15v1m3 27v1m1-50v3m1 9v1m0 6v1m0 5v1m1-3v1m0 13v1m1-40v1m0 22v1m1-3v1m0 11v1m0 5v1m0 5v2m0 12v1m0 2v1m1-66v1m0 9v1m0 24v1m0 29v1m1-58v1m1 36v1m1-34v1m0 2v1m0 23v1m0 21v1m1-33v1m0 12v1m2 13v1m1-20v1m0 16v1m2-35v1m1 20v1m1-3v1m0 6v1m1-38v1m0 5v1m0 28v1m0 17v1m1-29v1m0 22v1m0 5v1m1-59v1m0 6v1m0 11v1m0 14v1m0 23v1m1-54v1m0 11v1m0 13v1m0 16v1m0 8v1m1-29v1m0 26v1m1-55v1m0 34v1m0 16v1m1-19v1m2 4v1m1-47v1m0 45v1m0 5v1m1-45v1m0 12v1m0 28v1m1-45v1m0 9v2m0 45v2m1-64v1m0 1v2m0 27v1m0 8v1m1-42v2m0 37v1m2-13v1m0 32v1m3-6v1m1-3v1m1-50v1m0 1v1m0 11v1m0 12v1m1-27v1m0 4v1m0 5v1m0 12v1m1-3v1m1-26v1m0 22v1m0 10v1m0 3v1m1-30v1m0 11v1m0 11v1m0 3v2m0 6v2m0 16v1m1-67v1m0 9v1m0 24v1m0 12v1m0 16v1m1-58v1m0 25v1m0 29v1m1-20v1m1-31v1m0 23v1m0 21v1m1-51v1m0 17v1m0 12v1m2 13v1m1-20v1m1-16v1m1-3v1m0 6v1m2 11v1m0 6v1m1-38v1m0 5v1m0 28v1m1-11v1m0 6v1m0 15v1m0 6v1m1-60v1m0 6v1m0 11v1m0 14v1m1-18v1m0 13v1m1 24v1m1-55v1m0 33v2m1-19v1m1 15v1m1-39v1m0 44v1m0 6v1m1-55v1m0 5v1m0 30v1m0 14v1m1-45v1m1-6v1m0 2v1m0 55v1m1-61v2m0 37v1m0 22v1m1-65v2m0 37v1m0 23v1m2-37v1m0 32v1m2-44v1m1 37v1m1-23v1m0 12v1m0 6v1m1-48v1m0 11v1m0 12v1m1-27v1m0 4v1m0 18v1m1-3v1m0 9v1m0 8v1m1-22v1m0 14v1m0 8v1m1-39v1m0 11v1m0 15v2m0 6v2m0 16v1m1-57v1m0 37v1m0 10v1m1-26v1m0 29v1m1-2v1m1-49v1m0 15v1m0 7v1m1-29v2m0 16v1m0 12v1m1 15v1m1-3v1m1-20v1m1-22v1m0 5v1m0 6v1m1 13v1m2-33v1m0 5v1m0 21v1m0 6v1m1-3v1m0 18v1m1-38v1m0 14v1m0 15v1m0 6v2m1-61v1m0 6v1m0 11v1m0 13v1m0 16v1m0 8v1m1-29v1m1 24v1m1-55v1m0 33v1m1-31v1m0 36v1m1-9v1m1-39v1m0 51v1m1-55v1m0 5v1m0 16v1m0 13v1m0 14v1m1-45v1m0 11v1m1-18v1m0 2v1m0 27v1m0 8v1m0 21v1m1-64v2m0 37v1m1-3v1m0 23v1m2-37v1m2 9v1m0 19v1m1-23v1m0 19v1m1-49v1m0 25v1m0 19v1m1-36v1m0 12v1m1-31v1m0 27v1m0 13v1m1-40v1m0 22v1m0 8v1m0 9v1m1-22v1m0 14v1m0 8v1m0 14v3m1-56v1m0 11v1m0 16v1m1-32v1m0 37v1m0 10v1m1-26v1m0 12v1m1 15v1m1-49v1m0 15v1m0 7v1m0 4v1m1-33v1m1 45v1m1-20v1m0 8v1m2-27v1m3-12v1m0 5v1m0 28v1m0 15v2m1 0v2m1-40v1m0 14v1m0 15v1m0 7v1m1-61v1m0 6v1m0 25v1m0 25v1m1-29v1m0 26v1m1-64v1m0 8v1m0 51v1m3-6v1m1-55v1m0 51v1m1-49v1m0 12v1m0 3v1m0 28v1m1-45v1m0 11v1m0 44v1m1-63v1m0 2v1m0 27v1m0 8v1m1-42v2m1 35v1m1-11v1m0 32v1m1-22v1m1-3v1m1-3v1m0 19v1m1-23v1m0 19v1m1-49v2m0 11v1m0 12v1m0 19v1m1-42v1m0 5v1m0 12v1m1-31v1m0 27v1m1-26v1m0 22v1m0 18v1m1-34v1m0 11v1m0 11v1m0 5v1m0 5v2m0 12v1m0 2v1"/>
<path stroke="#64cd6f" d="m0 8v1m0 10v1m0 31v1m1-35v1m0 21v1m0 5v1m1-41v1m0 9v1m0 28v2m1 4v2m1-50v1m0 3v1m0 30v1m0 29v1m1-64v1m0 61v1m1-65v1m0 5v1m0 7v1m0 2v1m0 27v1m1-48v1m0 5v1m0 8v2m0 24v1m0 21v1m1-60v1m0 39v1m1-43v1m0 26v1m1-30v1m0 49v1m1 5v1m1-20v1m0 16v1m1-33v1m0 29v1m1-33v1m1 20v1m1-25v1m0 27v1m0 19v1m1-51v1m0 26v1m0 16v1m0 5v2m1-60v1m0 31v1m0 17v1m0 7v1m1-54v1m0 24v1m0 26v1m1-43v1m0 12v1m1-16v1m0 40v1m1-55v1m0 10v1m0 40v1m1-44v1m0 25v1m0 7v1m1-41v1m0 3v1m0 12v1m0 22v1m1-30v1m0 17v1m1-40v1m0 6v3m0 10v2m0 30v1m1-47v1m0 38v1m0 4v1m0 16v1m1-20v1m0 17v1m1-26v1m0 4v1m0 18v1m1-22v1m1 17v1m1-36v1m4-20v1m0 5v1m1-12v1m0 3v1m0 10v1m0 31v1m1-35v1m0 27v1m1-2v2m0 21v2m1-61v1m0 41v2m0 16v1m1-67v1m0 3v1m0 43v1m1-47v1m0 5v1m0 25v1m0 29v1m1-65v1m0 5v1m0 38v1m1-42v1m0 8v2m0 24v1m0 21v1m1-60v1m0 20v1m0 5v1m0 12v1m1-43v1m0 26v1m2 9v1m0 16v1m1-26v1m0 5v1m0 9v1m0 6v1m1-33v1m0 29v1m1-38v1m1 49v1m1-49v1m0 27v1m0 19v2m1-25v1m0 16v1m0 6v1m1-60v1m0 31v1m1-28v1m0 11v1m0 12v1m0 26v1m1-63v1m0 19v1m0 12v1m1-27v1m0 10v1m0 40v1m1-55v1m0 10v1m1-3v1m0 25v1m0 8v1m1-42v1m0 3v1m0 12v1m1-26v1m0 21v1m0 14v1m1-33v3m0 37v1m0 4v1m1-47v1m0 43v1m0 16v1m1-20v1m1-8v1m0 4v1m0 18v1m2-37v1m0 32v1m1-42v1m0 5v1m2 22v1m1-42v1m2-7v1m0 14v1m0 31v1m1-35v1m0 30v1m1 17v1m0 2v1m1-62v1m0 41v2m1-46v1m0 43v1m1-47v1m0 5v1m0 10v1m0 14v1m1-35v1m0 5v1m0 48v1m1-52v1m0 9v1m0 24v1m1-38v1m0 26v1m0 12v1m1-43v1m1 55v1m1-26v1m0 5v1m0 16v1m1-10v1m0 6v1m1-33v1m0 29v1m1-38v1m1 31v1m0 18v1m1-50v1m0 26v1m0 21v2m1-27v2m0 16v1m0 7v1m1-61v1m0 6v1m0 5v1m0 18v1m0 26v1m1-55v1m0 11v1m0 12v1m1-36v1m0 19v1m0 40v1m1-55v1m0 5v1m0 4v1m0 24v1m0 15v1m1-55v1m0 10v1m1-3v1m0 12v1m1-16v1m0 12v1m1-26v1m0 6v1m0 1v1m0 12v1m0 29v1m1-47v2m0 37v1m0 4v1m0 15v1m1-33v1m0 13v1m1-3v1m1-8v1m0 4v1m2-18v1m4-22v2m0 19v1m1-10v1m0 26v1m1-45v1m0 14v1m1-13v1m0 9v1m0 23v1m0 6v1m1-9v1m1-37v1m0 3v1m0 12v1m0 17v1m0 10v1m0 18v1m1-64v1m0 5v1m0 37v1m1-47v1m0 5v1m0 10v1m0 14v1m0 12v1m1-42v1m0 56v1m1-60v1m0 34v1m1-38v1m0 26v1m1 20v1m1 5v1m1-20v1m0 16v1m1-33v1m0 29v1m1-33v1m0 29v1m2-34v1m0 27v1m1-31v1m0 20v1m0 5v1m0 22v1m1-27v1m0 25v1m1-61v1m0 6v1m0 11v1m0 12v1m0 26v1m1-43v1m0 12v1m1-16v1m0 23v1m0 16v1m1-55v1m0 10v1m0 24v1m0 15v1m1-44v1m0 32v1m1-40v1m0 3v1m0 12v1m1-16v1m1-6v1m0 1v1m0 42v1m1-47v2m0 42v1m0 13v1m1-31v1m0 13v1m0 17v1m1-21v1m1-8v1m1 22v1m1-36v1m4-22v1m0 1v1m0 5v1m1-8v1m0 10v1m1-18v1m0 14v1m0 22v1m0 4v1m1-41v1m0 38v1m0 1v1m1-39v1m0 41v2m0 16v1m1-67v1m0 3v1m0 30v1m0 29v1m1-64v1m0 5v1m0 55v1m1-65v1m0 5v1m0 7v1m0 2v1m0 27v1m0 9v1m1-52v1m0 8v2m0 46v1m1-60v1m0 20v1m0 5v1m0 7v1m0 4v1m1-43v1m1 55v1m1-26v1m0 5v1m0 16v1m1-20v1m0 16v1m1-33v1m0 29v1m1-38v1m0 34v1m1-10v1m1-25v1m0 27v1m0 19v1m1-30v1m0 5v1m0 23v1m1-41v1m0 12v1m0 25v1m1-54v1m0 11v1m0 12v1m0 26v1m1-43v1m1-14v1m0 10v1m0 7v1m0 14v1m0 17v1m1-55v1m0 10v1m1-3v1m0 25v1m0 7v1m1-41v1m0 3v1m0 12v1m0 22v1m1-49v1m0 9v1m0 26v1m1-33v1m0 1v1m0 10v2m0 25v1m0 4v1m1-47v2m0 42v1m0 16v1m1-20v1m0 17v1m1-21v1m0 18v1m1-27v1m1-11v1m0 32v1m1-42v1m2 28v1m1-22v1m1-24v1m0 1v1m1-2v1m0 10v1m0 31v1m1-35v1m0 21v1m0 5v1m1-2v2m0 21v2"/>
<path stroke="#72cd64" d="m1 2v1m0 37v1m0 7v1m1-49v1m0 9v1m0 28v1m1-32v1m0 4v1m0 24v1m0 28v1m1-57v1m0 36v2m0 11v1m1-62v1m0 8v1m0 11v1m0 26v1m1-42v1m0 26v1m0 29v1m1-60v1m0 39v1m1-43v1m0 35v1m0 21v1m1-61v1m0 40v1m1-16v1m1-3v1m1 5v1m0 15v1m1-13v1m1-21v1m0 33v1m1-32v1m0 28v1m1-32v1m0 26v2m0 19v1m1-25v2m0 22v1m1-52v1m0 50v1m1-60v1m1 4v1m0 51v1m1-63v1m0 7v1m0 24v1m0 9v2m1-14v1m0 11v1m1-39v1m0 23v1m0 21v1m0 5v1m1-55v1m0 9v1m0 41v1m1-47v3m0 12v1m1 22v1m1 16v1m0 1v1m1-33v1m3 7v1m1-3v1m0 19v1m1-36v1m0 12v1m1-16v1m0 26v1m2-45v2m0 39v1m0 4v1m2-52v1m0 36v1m0 8v1m1-44v1m0 4v1m0 4v1m1-3v1m0 24v1m1-28v1m0 25v1m0 10v2m0 11v1m0 5v1m1-59v1m0 11v1m0 26v1m1-42v1m0 10v1m0 15v1m0 22v1m1-53v1m0 39v1m1-43v1m0 35v1m0 21v1m1-61v1m0 40v1m1-16v1m1 5v1m2 1v1m1-16v1m0 28v1m1-32v1m0 22v1m0 5v1m0 16v1m1-22v2m1-30v1m0 24v2m0 23v1m1-53v1m0 6v1m0 44v1m1-61v1m1 4v1m0 51v1m1-48v1m0 12v1m0 4v1m0 9v2m1-14v1m0 11v1m0 15v1m1-55v1m0 6v1m0 16v1m0 27v1m1-55v1m0 9v1m0 41v1m1-47v3m3 22v1m0 31v1m2-23v1m1-3v1m1-3v1m1-16v1m2 3v1m1-24v1m0 1v1m0 38v1m0 4v1m1-46v1m1-7v1m0 43v1m1-42v1m0 4v1m0 4v1m0 51v2m1-56v1m0 7v1m0 46v1m1-67v1m0 8v1m0 25v1m0 10v2m0 11v1m0 5v1m1-59v1m0 38v1m0 10v1m0 6v1m1-60v1m0 10v1m0 15v1m0 12v1m1-43v1m0 57v1m1-61v1m0 35v1m1-11v1m0 12v1m1-16v1m1-8v1m1 16v1m1-3v1m1-16v1m0 23v1m0 4v1m1-32v1m0 22v1m0 4v1m1-5v2m0 21v1m1-51v1m0 24v1m0 24v2m1-54v1m0 51v1m1-2v1m1-55v1m0 24v1m1-3v1m0 18v1m1-22v1m0 19v1m0 7v1m1-55v1m0 6v1m0 2v1m0 26v1m0 14v1m1-47v1m0 1v1m1-4v1m0 28v1m0 9v1m1 17v1m1-1v1m1-34v1m1 30v1m1-22v1m1-3v1m0 19v1m1-36v1m0 12v1m1-16v1m2-10v1m1-9v1m0 43v1m1-46v1m0 38v1m1-36v1m0 33v2m1-38v1m0 4v1m0 50v1m0 2v1m1-57v1m0 37v1m1-41v1m0 11v1m0 24v1m0 12v1m1-53v1m0 8v1m0 40v1m0 6v1m1-60v1m0 9v2m0 28v1m1-43v1m0 21v1m0 35v1m1-61v1m0 35v1m0 4v1m1-16v1m0 7v1m1-11v1m0 7v1m2 1v1m1-21v1m1 2v1m0 23v1m0 4v1m1-32v1m0 27v1m0 19v1m1-25v2m0 22v1m1-52v1m0 50v1m1-2v1m1-54v1m0 51v1m1-55v1m0 19v1m0 4v1m1-3v1m1-27v1m0 23v1m0 27v1m1-55v1m0 9v1m0 26v1m0 9v1m0 4v1m1-47v3m0 9v1m1-14v1m0 11v2m0 15v1m0 9v1m1 18v1m3-23v1m1-3v1m1-3v1m0 19v1m1-36v1m0 12v1m1-16v1m0 26v1m1-22v1m1-23v1m1 42v1m2-42v1m0 4v1m0 23v1m0 5v1m1-33v1m0 24v1m0 28v1m1-57v1m0 36v2m1-41v1m0 11v1m0 26v1m0 10v1m1-53v1m0 26v1m1-30v1m0 39v1m1-43v1m0 57v1m1-33v1m0 7v1m0 4v1m1-16v1m0 7v1m2 11v1m1-13v1m1-16v1m1-3v1m0 23v1m0 4v1m1-5v2m1-30v1m0 24v2m0 22v2m1-53v1m0 6v1m0 43v1m1-60v1m1 4v1m0 24v1m0 26v1m1-48v1m0 17v1m0 10v1m1-14v1m0 11v1m0 15v1m1-55v1m0 23v1m0 21v1m0 5v1m1-55v1m0 9v1m1-5v3m0 12v1m1-17v1m1 55v1m1-31v1m2 9v1m1-3v1m1-16v1m0 12v1m1-16v1m1 5v1m2-25v1m0 39v1m2-9v1m0 7v1m1-44v1m0 4v1m0 4v1"/>
<path stroke="#81cc59" d="m0 7v1m0 10v1m1-13v1m0 5v1m0 3v1m0 29v1m1-33v1m1-12v1m0 8v1m0 51v1m0 1v1m1-60v1m0 2v1m0 12v1m0 42v1m1-62v1m0 2v1m0 26v1m0 10v2m0 11v1m0 5v1m1-63v1m0 1v2m0 11v1m0 27v1m0 10v1m1-57v4m0 27v1m1-33v3m0 22v1m0 17v1m1-44v1m0 36v1m0 21v1m1-20v1m0 16v1m1-25v1m1-11v1m1-3v1m0 29v1m1-33v1m0 13v1m0 10v1m1-28v1m0 13v1m0 10v5m1-35v1m0 27v3m1-33v1m0 3v1m0 21v1m0 2v1m1-28v1m0 7v1m0 17v1m0 24v1m1-53v1m0 24v1m0 26v1m1-55v1m1 5v1m0 12v1m0 31v1m1-55v1m0 10v1m1-6v1m0 2v1m1-5v2m0 27v1m1-40v1m0 47v1m0 3v1m1-17v1m0 13v1m1-3v1m1-3v1m1-16v1m0 12v1m1-7v1m0 3v1m0 19v1m2-43v1m1 36v1m1-23v1m0 19v1m1-36v1m0 7v1m0 4v1m0 19v1m1-36v1m1-14v1m0 10v1m0 28v1m1-42v1m0 5v1m0 3v1m0 23v1m0 5v2m1-34v1m0 24v1m1-37v1m0 8v1m0 54v1m1-61v1m0 2v1m0 12v1m1-19v1m0 2v1m0 37v2m0 11v1m0 5v1m1-63v1m0 1v2m0 10v1m0 28v1m0 17v1m1-64v4m0 27v1m1-32v2m1 34v1m0 21v1m1-25v1m0 4v1m1-21v1m0 4v1m1-3v1m1-7v1m0 3v1m0 29v1m1-33v1m0 13v1m0 10v1m1-28v1m0 24v5m1-35v1m0 3v1m0 24v2m0 21v1m1-55v1m0 3v1m0 21v1m0 27v1m1-27v1m0 25v1m1-54v1m0 24v1m0 26v1m1-55v1m1-2v1m0 10v1m0 32v1m0 7v1m1-55v1m0 10v1m1-3v1m0 36v1m1-42v2m0 13v1m0 13v1m1-40v1m0 21v1m0 25v1m0 3v1m1-17v1m0 13v1m1-3v1m0 14v1m1-18v1m1-16v1m0 12v1m1-7v1m0 3v1m0 19v1m2-4v1m1-23v1m0 19v1m1-36v1m0 12v1m1-21v1m0 4v1m0 32v1m1-48v1m0 11v1m1-3v1m0 28v1m0 2v1m1-39v1m0 3v1m0 22v1m0 7v1m1-34v1m1-6v1m0 2v1m0 25v1m1-32v1m0 2v1m0 12v1m1-19v1m0 2v1m0 9v1m0 27v1m1-44v4m0 10v1m0 46v1m1-63v3m0 22v1m0 17v1m1-44v1m0 58v1m1-25v1m0 14v1m0 6v1m1-25v1m0 4v1m1-16v1m1-3v1m1-7v1m0 3v1m0 24v1m0 4v1m1-33v1m0 13v1m0 14v1m1-35v1m0 2v1m0 24v4m0 18v2m1-54v1m0 3v1m0 24v1m1-32v1m0 3v1m0 21v1m0 27v1m1-27v1m0 25v1m1-60v1m0 5v1m0 51v1m1-34v1m0 31v1m1-55v1m0 10v1m0 23v2m0 15v1m1-55v1m0 7v1m0 2v1m0 25v1m1-31v2m0 37v1m1-50v1m0 8v1m0 13v1m0 28v1m1-33v1m0 29v1m1-3v1m1-3v1m1-3v1m0 18v1m1-22v1m1-7v1m2 20v1m1-23v1m0 13v1m1-30v1m0 7v1m0 4v1m1-16v1m0 32v1m1-49v2m0 11v1m1-3v1m0 31v1m1-35v1m1-12v1m0 8v1m0 52v2m1-60v1m0 2v1m0 12v1m0 42v1m1-62v1m0 2v1m0 26v1m0 11v1m0 17v1m1-63v1m0 2v1m0 11v1m0 27v1m1-46v4m0 27v1m1-32v2m0 40v1m1 15v1m1-20v1m2-18v1m0 23v1m1-27v1m0 29v1m1-33v1m0 13v1m0 10v1m0 4v1m1-33v1m0 13v1m0 11v1m0 2v1m1-35v1m0 26v5m1-34v1m0 3v1m0 24v1m0 23v1m1-56v1m0 3v1m0 21v1m0 3v1m0 24v1m1-53v1m0 24v1m1-34v1m0 5v1m1 5v1m0 44v1m1-55v1m0 10v1m0 23v1m1-30v1m0 2v1m0 34v2m1-41v2m1-12v1m0 22v1m0 24v1m0 3v1m1-3v1m1-3v1m0 15v1m1-19v1m0 17v1m1-34v1m0 12v1m0 18v1m1-22v1m0 19v1m1-27v1m1-17v1m1 36v1m1-28v1m0 4v1m1-16v1m1-3v1m0 27v1m0 4v1m1-49v1m0 1v1m0 10v1m1-13v1m0 5v1m0 3v1m0 29v1m0 1v1m1-35v1m1-12v1m0 8v1m0 51v1m0 1v1m1-60v1m0 2v1m0 12v1m0 42v1m1-62v1m0 2v1m0 26v1m0 10v2m0 17v1m1-63v1m0 2v1m0 11v1m0 27v1m0 17v1m1-63v3m0 27v1m1-31v1m0 40v1m1 15v1m1-20v1m1-16v1m1-3v1m1-3v1m0 29v1m1-33v1m0 13v1m0 10v1m0 4v1m1-33v1m0 25v1m0 1v2m1-35v1m0 3v1m0 22v4m0 21v1m1-55v1m0 3v1m0 24v1m1-32v1m0 3v1m0 21v1m0 3v1m0 24v1m1-53v1m0 24v1m0 26v1m1-61v1m0 5v1m0 20v1m1-23v1m0 51v1m1-55v1m0 10v1m1-6v1m0 2v1m1-5v2m0 27v1m0 14v1m1-7v1m0 3v1m1-17v1m0 13v1m1-3v1m0 16v1m1-20v1m1-16v1m0 12v1m1 17v1m1-27v1m1-3v1m0 24v1m1-28v1m0 4v1m1-16v1m0 12v1m1-21v1m0 4v1m1-3v1m0 32v1m1-47v1m0 10v1m0 28v1m1-42v1m0 5v1m0 3v1m0 29v2m1-34v1m0 24v1"/>
<path stroke="#8fcb4e" d="m0 5v2m0 24v1m0 15v1m0 2v1m1-36v1m0 13v1m0 17v1m1-44v1m0 6v1m0 1v1m0 13v1m1-19v3m0 13v1m0 39v1m1-65v1m0 6v2m0 26v1m1-31v2m0 12v1m1-17v1m0 12v1m0 26v1m1-1v1m0 17v1m1-33v1m2 4v1m1-16v1m0 17v1m0 16v1m1-3v1m1-37v1m0 28v1m1-29v1m0 26v1m0 1v2m1-35v1m0 1v1m1-4v3m0 13v1m0 9v1m1-29v3m0 13v1m0 35v1m1-56v1m0 2v1m0 13v1m0 11v1m0 24v1m1-53v1m0 12v1m0 38v1m1-60v1m0 4v1m0 12v1m0 12v1m0 26v1m1-55v1m0 11v1m0 12v1m1-28v1m0 8v1m0 26v2m0 15v1m1-55v1m0 8v2m0 26v1m0 10v1m0 3v1m1-55v1m0 23v1m0 27v1m1-55v1m0 22v1m0 28v1m1-3v1m1-16v1m0 12v1m0 16v1m1-20v1m0 18v1m1-2v1m1-35v1m1 6v1m0 3v1m3-11v1m1-16v1m1 15v1m1-29v2m0 7v1m0 16v1m0 18v1m1-36v1m1-5v1m0 1v1m0 13v1m1-19v3m0 9v1m0 3v1m0 38v1m0 1v1m1-66v1m0 6v2m0 56v1m1-61v2m0 10v1m0 1v1m0 14v1m1-32v1m1 57v1m1-33v1m0 12v1m1 8v1m1 4v1m1-20v1m0 10v1m0 5v1m1-3v1m1-8v1m1-31v1m0 1v1m0 26v4m1-35v3m0 14v1m1-19v3m0 13v1m0 10v1m1-30v3m0 13v1m0 11v1m0 23v1m1-56v1m0 2v2m0 12v1m0 37v1m1-54v1m0 12v1m0 38v1m1-60v1m0 17v1m0 8v1m0 3v1m0 26v1m1-55v1m1 6v1m0 1v1m0 34v1m0 6v1m1-55v1m0 8v2m0 13v1m0 27v1m1-55v1m0 48v1m0 2v1m1-3v1m1-3v1m1-3v1m0 17v1m1-21v1m2-17v1m1 6v1m0 3v1m3-11v1m0 24v1m1-23v1m1-3v1m1-29v1m0 1v1m0 6v1m0 2v1m1-12v1m0 8v1m0 24v1m1-30v3m0 13v1m0 11v1m1-37v1m0 6v2m0 13v1m0 41v1m1-60v2m0 56v1m1-61v2m0 12v1m0 14v1m0 11v1m0 17v1m1-20v1m1-15v1m0 29v1m1-33v1m0 12v1m2 13v1m1-9v1m0 5v1m1-3v1m1-4v1m1-35v1m0 1v1m0 26v3m1-33v2m0 14v1m1-19v3m0 13v1m0 10v1m0 23v1m1-52v1m0 13v1m0 11v1m1-32v1m0 3v1m0 12v1m0 8v1m0 28v1m1-54v1m0 12v1m0 8v1m0 3v1m1-34v1m0 5v1m0 7v1m0 3v1m0 12v1m0 26v1m1-55v1m1 8v1m0 35v2m0 4v1m1-55v1m0 23v1m0 27v1m1-55v1m0 20v1m0 16v1m0 10v1m0 2v1m1-33v1m0 29v1m1-16v1m0 12v1m1-3v1m0 15v1m1-19v1m1-15v1m1 10v1m0 19v1m1-41v1m0 13v1m0 3v1m1-7v1m1-3v1m0 24v1m1-3v1m1-23v1m0 14v1m1-18v1m1-27v1m0 6v1m0 2v1m0 30v2m1-44v1m0 6v1m0 1v1m0 23v1m1-29v3m0 13v1m1-25v1m0 6v2m0 26v1m0 28v1m1-60v2m1-4v2m0 11v1m0 26v2m1-2v1m0 17v1m1-33v1m1 10v1m1 15v1m1-20v1m0 16v1m1-3v1m2-36v1m0 29v1m1-35v1m0 1v1m0 27v2m1-33v3m0 13v1m0 32v2m1-53v3m0 13v1m1-17v1m0 8v1m0 16v1m0 24v1m1-57v1m0 3v1m0 21v1m0 29v1m1-55v1m0 12v1m0 8v1m0 3v1m0 26v1m1-61v1m0 5v1m0 11v1m1-15v1m0 36v1m0 15v1m1-55v1m0 8v2m0 26v1m0 14v1m1-55v1m0 23v1m0 27v1m1-3v1m1-3v1m1-16v1m0 10v1m0 1v1m1-3v1m2-17v1m1 10v1m1-7v1m0 3v1m1-7v1m1 22v1m1-41v1m0 17v1m0 19v1m1-23v1m1-28v1m0 40v1m1-33v1m0 31v1m1-44v1m0 6v1m0 1v1m0 23v1m1-29v3m0 9v1m0 3v1m0 39v1m1-58v2m1-4v2m1-4v2m0 11v1m0 26v2m1-19v1m0 16v1m0 17v1m1-33v1m2 26v1m1-38v1m0 17v1m0 16v1m1-3v1m1-37v1m0 28v1m1-29v1m0 26v1m0 2v1m1-35v1m0 1v1m0 14v1m0 12v1m1-32v3m0 13v1m1-19v3m0 49v1m1-53v1m0 50v1m1-57v1m0 3v1m0 21v1m0 29v1m1-42v1m0 12v1m0 26v1m1-55v1m0 11v1m0 32v1m1-39v1m0 26v2m0 15v1m1-55v1m0 8v2m0 26v1m0 10v1m0 3v1m1-55v1m0 23v1m0 27v1m1-32v1m1 26v1m1-5v1m0 1v1m0 16v1m1-20v1m0 18v1m1-2v1m1-35v1m0 12v1m1-3v1m2 16v1m1-3v1m1-23v1m0 19v1m1-23v1m1-29v2m0 7v1m0 35v1m1-36v1m1-5v1m0 1v1"/>
<path stroke="#9dc943" d="m0 14v1m0 2v1m1-15v1m0 1v1m0 7v2m1-3v1m0 24v1m1-36v1m0 18v1m0 15v1m1 27v1m1-48v1m0 45v1m1-32v1m0 11v1m0 17v1m2-4v1m1-33v1m0 12v1m1-16v1m1-3v1m0 24v1m1-28v1m0 13v1m1-17v1m0 29v1m1-35v2m0 28v1m1-32v1m1 46v2m1-26v1m1-30v2m0 23v1m1-29v4m0 22v1m0 28v1m1-55v1m0 22v1m0 29v1m1-60v1m0 4v1m0 11v1m0 33v1m0 6v1m1-45v2m0 13v1m0 20v1m0 1v1m0 3v1m1-55v1m0 24v1m1-28v1m0 49v1m1-30v1m0 15v1m0 11v2m1-4v2m1-4v2m1-4v2m1-2v1m1-3v1m1-15v1m0 32v1m1-36v1m0 8v1m0 3v1m1-16v1m0 8v1m0 3v1m1-16v1m1-3v1m1-3v1m0 32v1m1-36v1m0 30v2m1-45v1m0 7v2m0 14v1m1-26v1m0 7v1m1 52v1m1-30v1m0 28v1m1-47v1m1 13v1m0 10v2m0 17v1m1-37v1m0 16v1m1 15v1m1-33v1m0 12v1m1-16v1m1-3v1m1-3v1m0 13v1m0 15v1m1-35v3m0 26v1m0 1v2m1-34v1m2 21v1m2-31v2m0 23v1m0 2v1m0 24v1m1-57v1m0 1v2m0 22v1m0 28v1m1-54v1m0 8v1m0 42v1m1-60v1m0 4v1m0 11v1m0 13v1m0 26v1m1-55v1m0 9v1m0 14v1m0 10v2m0 9v2m0 3v1m1-55v1m0 37v1m1-41v1m0 21v1m1-2v1m0 15v1m0 11v2m1-4v2m1-15v1m0 10v2m0 17v1m1-22v2m0 19v1m1-22v1m0 19v1m1-23v1m1-20v1m0 4v1m0 32v1m1-36v1m0 8v1m0 3v1m1-16v1m0 8v1m0 18v1m1-31v1m1-3v1m0 28v1m1-32v1m0 32v1m1-47v1m0 9v1m0 14v1m0 16v2m1-37v2m0 14v1m1-26v1m1 61v1m1-45v1m1-4v1m1 24v2m1-2v1m1 15v1m1-33v1m0 12v1m1-16v1m1-3v1m0 13v1m1-20v1m0 2v1m0 25v1m0 3v1m1-35v3m0 26v3m1-33v1m2 21v1m1-29v2m0 9v1m0 40v1m1-55v3m0 25v1m0 24v1m1-57v1m0 2v1m0 52v1m1-55v1m1-3v1m0 9v1m0 1v1m0 13v1m0 26v1m1-55v1m0 9v1m0 14v1m0 23v1m1-52v1m0 37v1m0 11v1m1-29v1m1 24v2m1-4v2m1-15v1m0 10v2m0 18v1m1-23v2m1-2v1m0 19v1m1-35v1m1-3v1m1-3v1m0 12v1m1-16v1m1-7v1m0 3v1m1-3v1m1-6v1m0 2v1m0 29v1m0 2v1m1-48v2m0 8v2m0 14v1m1-18v1m0 14v1m0 10v1m1-37v1m0 34v1m2-18v1m0 43v1m1-32v1m0 29v1m1-37v1m1 14v1m0 17v1m1-33v1m1-3v1m1-7v1m0 3v1m1-3v1m0 13v1m1-20v1m0 2v1m0 25v1m0 3v1m1-35v2m0 27v3m1-33v1m2 22v1m0 23v1m1-54v2m0 14v1m1-19v3m0 13v1m0 37v1m1-58v1m0 2v1m0 52v1m1-55v1m0 25v1m0 19v1m0 6v1m1-46v1m0 1v1m0 13v1m0 26v1m1-55v1m0 24v1m0 23v1m1-52v1m0 49v1m1-29v1m0 14v1m1 9v2m1-3v1m1-4v2m0 16v1m1-21v1m0 1v1m1-3v1m1-15v1m0 32v1m1-36v1m1 10v1m2-18v1m1-3v1m1-6v1m0 2v1m0 13v1m0 18v1m1-48v1m0 1v1m0 7v2m0 14v1m1-18v1m0 14v1m2 8v1m0 28v1m1-48v1m0 1v1m0 43v1m1-32v1m0 29v1m2-4v1m1-33v1m0 12v1m0 10v1m1-27v1m1-3v1m0 24v1m1-28v1m0 13v1m1-17v1m0 29v1m1-35v2m0 28v2m1-33v1m1 46v2m1-37v1m0 10v1m1-30v2m0 14v1m0 11v1m1-31v3m0 13v1m0 37v1m1-58v1m0 2v2m0 8v1m0 42v1m1-55v1m0 25v1m0 26v1m1-55v1m0 9v2m0 13v1m0 20v1m0 5v1m1-55v1m0 24v1m1 22v1m1-14v1m0 11v1m0 1v1m1-5v2m1-15v1m0 11v1m1-4v2m1-2v1m1-3v1m1-20v1m0 4v1m0 32v1m1-23v1m1 12v1m2-33v1m1-3v1m1-3v1m0 13v1m0 16v1m1-46v1m0 1v1m0 7v2m0 14v1m1-26v1m0 7v1m0 14v1m0 9v1"/>
<path stroke="#abc739" d="m0 15v2m0 31v2m1-46v1m1-4v1m0 1v1m0 34v1m2-39v1m0 21v1m0 41v1m1-46v1m2 7v1m0 3v1m0 10v2m0 17v1m1-20v1m1 9v1m0 5v1m1-20v1m0 16v1m1-3v1m1-36v1m0 1v1m0 26v1m0 3v1m1-35v2m0 14v1m0 12v3m4 12v1m1-2v1m1-27v1m0 24v1m1-57v3m0 10v1m0 2v1m0 38v1m1-58v1m0 2v1m0 10v2m0 40v1m1-55v1m0 47v1m0 1v1m0 1v1m1-55v1m0 50v3m1-56v1m0 24v1m0 13v1m0 12v2m4-21v1m0 30v1m1-23v2m1 18v1m1-40v1m0 16v1m1 18v1m1-8v1m1-18v1m1 13v1m1-35v1m0 1v1m1-4v2m1-14v2m1-4v1m0 1v1m0 33v1m1-36v1m0 34v1m1-16v1m1 41v1m2-34v1m0 11v1m1-2v1m1 15v1m1-20v1m0 16v1m1-3v1m1-36v1m0 1v1m0 26v1m1-15v1m0 13v1m3 14v1m1-42v1m0 15v1m1 22v1m1-55v1m0 27v1m0 24v1m1-57v4m0 12v1m0 38v1m1-58v1m0 2v1m0 10v2m0 40v1m1-55v1m0 49v1m0 1v1m1-55v1m0 50v3m1-31v1m0 26v2m4-21v1m1 8v2m2-4v1m1 18v1m1-23v1m1-20v1m1 34v1m1-39v1m0 1v1m0 30v1m1-35v1m1-13v3m1 31v1m1-36v1m0 61v2m1-46v1m0 15v1m0 28v1m1-2v1m1-36v1m0 3v1m0 29v1m2-22v1m1 15v1m1-37v1m0 33v1m1-3v1m1-35v2m0 14v1m0 14v1m5-14v1m2-32v2m0 52v1m1-58v4m0 12v1m0 39v1m1-59v1m0 2v1m0 11v1m0 40v1m1-55v1m0 36v2m0 12v3m1-56v1m0 51v2m1-4v2m1-16v1m2 26v1m1-1v1m1-23v1m1-2v1m1 18v1m2-25v1m2 15v1m1-38v2m0 32v1m2-49v1m0 1v1m1 17v1m1 0v1m0 41v1m1-47v1m0 15v1m2-4v1m0 10v2m0 17v1m2-4v1m1-20v1m0 16v1m1-8v1m0 4v1m1-3v1m1-35v2m0 14v1m0 12v1m0 1v1m4-13v1m1 23v1m1-27v1m0 24v1m1-56v2m0 10v1m0 41v1m1-58v1m0 1v2m0 12v1m0 39v1m1-56v2m0 10v1m0 35v1m0 1v2m0 1v1m1-55v1m0 36v2m0 12v3m1-17v1m0 12v2m1-4v2m1-16v1m2-4v1m0 30v1m1-22v1m0 19v1m1-2v1m1-40v1m0 16v1m1 18v1m1-36v1m0 27v1m1-31v1m0 12v1m2-21v1m0 1v1m0 33v1m1-38v2m0 31v2m1-46v1m1-2v1m0 34v1m1-37v1m0 34v1m1-16v1m1-4v1m1 9v1m1 1v1m0 10v2m0 17v1m1-20v1m1 15v1m1-20v1m0 16v1m1-3v1m1-36v1m0 1v1m0 26v1m0 3v1m1-35v2m0 14v1m0 12v3m4-28v1m0 39v1m1-2v1m1-27v1m0 24v1m1-56v2m0 13v1m0 38v1m1-58v1m0 2v1m0 10v1m0 1v1m0 39v1m1-55v1m0 47v3m0 1v1m1-55v1m0 50v3m1-33v1m0 28v2m1-32v1m0 28v1m3-19v1m0 28v1m1-21v2m2-4v1m1-15v1m0 32v1m1-36v1m0 12v1m1-20v1m0 3v1m1 26v1m1-35v1m0 1v1m0 33v1m1-38v2m0 32v1m1-46v1m1-2v1"/>
<path stroke="#b9c431" d="m2 2v1m1-2v1m0 22v1m2 9v1m0 28v1m1-2v1m2-34v1m0 29v1m1-33v1m0 12v1m1-16v1m1-3v1m0 13v1m1-18v1m0 30v1m2-20v1m1-3v1m2-9v1m0 14v1m1-14v1m0 11v1m1-15v1m0 36v1m1-27v1m0 24v1m1-56v2m0 50v3m1-58v4m0 51v1m1-56v2m0 25v1m0 11v2m1-18v1m2 12v1m2 25v1m1-32v1m0 31v1m1-23v1m2-4v1m1 18v1m1-40v1m0 2v1m0 33v1m1-37v1m0 13v1m0 19v1m1-38v1m0 31v1m0 1v1m3-50v1m0 35v1m1-38v1m0 22v1m1-5v2m0 42v1m1-31v1m1-6v1m1 12v1m0 18v1m1-33v1m1-3v1m1-3v1m1-3v1m0 13v1m0 15v1m1-34v1m0 28v3m2-20v1m2 29v1m1-1v1m1-39v1m1-3v1m1-4v1m0 13v1m0 24v1m1-56v2m0 50v3m1-57v3m0 51v1m1-55v1m0 25v1m1 11v1m2-4v1m2 25v1m0 1v1m1-34v1m1 9v1m0 20v1m3-6v1m1-37v1m0 13v1m0 19v1m1-39v1m0 1v1m1-4v1m0 32v2m3-50v2m0 19v1m1 0v1m0 12v1m1-17v1m3 9v1m0 10v2m0 17v1m1-33v1m1-3v1m1-3v1m0 13v1m0 11v1m1-29v1m0 29v1m1-5v2m1-17v1m1-3v1m2 29v2m1-2v1m1-39v1m0 36v1m1-43v1m0 2v1m0 12v1m0 24v1m1-43v2m0 34v1m0 3v2m1-57v2m0 48v1m0 1v3m1-56v2m1 23v1m1-4v1m4 8v1m1 8v1m1-18v1m0 15v1m0 20v1m1-23v1m1 13v1m0 4v1m1-3v1m1-37v1m0 13v1m0 19v1m1-39v3m1 29v1m2-47v1m1-2v1m0 33v1m1 26v2m1-45v1m0 43v1m1-35v1m0 32v1m2-34v1m0 11v1m0 17v1m1-33v1m0 12v1m0 11v1m1-28v1m1-3v1m0 13v1m1-19v3m0 26v1m0 2v1m1-4v1m1-17v1m3-11v1m1 13v1m1-15v1m0 36v1m1-40v1m0 12v1m0 24v1m1-56v1m0 12v2m0 38v2m1-57v2m0 49v1m0 2v1m1-55v1m1 23v1m1-4v1m3 40v1m1-33v1m1 8v2m2-4v1m1 18v1m1-40v1m0 36v1m1-37v1m0 13v1m0 15v1m0 3v1m1-38v1m0 31v1m3-48v1m1 21v1m0 10v1m1 26v1m0 1v1m1-31v1m0 28v1m1-2v1m2-34v1m1 10v1m1-16v1m1-3v1m0 13v1m1-18v1m0 30v1m2-20v1m3 4v1m1-2v1m1-15v1m1 10v1m0 24v1m1-56v2m0 12v1m0 38v2m1-56v2m0 51v1m1-17v2m1-16v1m0 13v1m2-4v1m2 27v1m1-34v1m0 31v1m1-24v2m0 20v1m2-25v1m1 18v1m1-23v1m0 19v1m1-37v1m0 33v1m1-38v1m0 31v1m3-27v1m0 14v1"/>
<path stroke="#c5c22a" d="m0 30v1m1-3v1m1-3v1m1-27v1m0 34v1m1-16v2m0 13v1m0 26v2m2-35v1m0 2v1m2 7v2m1 15v1m1-3v1m1-34v1m0 30v1m1-19v1m0 13v2m4-23v1m1-3v1m0 34v1m1-2v1m2-43v2m0 37v1m1-27v1m0 22v1m1-26v1m2-6v1m1 12v1m2-4v1m1 28v1m2-35v1m0 10v1m1-14v1m0 11v1m0 20v1m1-36v1m1-3v1m0 12v1m2-20v2m1 12v1m0 17v1m1-21v1m1-3v1m1-6v1m0 2v1m1 8v1m1 26v1m1 0v1m1-2v1m2-22v1m0 17v1m1-20v1m0 16v1m1-36v1m0 28v1m0 3v1m1-35v2m0 27v1m0 1v1m4-23v1m1-3v1m1-3v1m0 10v1m1-2v1m1-18v1m0 1v1m0 37v1m1-42v1m0 35v1m0 2v1m1-27v1m0 21v2m1-26v1m1 9v2m1-17v1m5 38v1m1-39v1m0 3v1m0 10v1m1-14v1m1-3v1m0 12v1m0 15v1m1-32v1m2-6v1m0 14v1m0 18v1m1-22v1m1-3v1m1-3v1m1-3v1m0 11v1m1-4v1m1 28v1m1-34v1m0 2v1m0 28v1m1-2v1m2-9v1m0 4v1m1-20v1m0 16v1m1-3v1m1-35v2m0 14v1m0 12v3m4-23v1m1-7v1m0 3v1m1-3v1m0 10v1m1-2v1m1-16v1m0 37v1m1-27v1m0 23v1m1-27v1m0 22v1m1-26v1m1 9v2m1-2v1m2-4v1m2 25v1m0 1v1m1-34v1m0 31v1m1-35v1m0 10v1m1-14v1m1-3v1m0 12v1m1-19v1m0 2v1m1-4v1m0 30v1m1-19v1m0 16v1m0 1v1m1-22v1m1-3v1m1-3v1m1-3v1m0 11v1m1-16v1m0 11v1m0 1v1m1-5v1m1 0v1m1 27v1m1-21v1m1 16v1m1-20v1m0 16v1m1-3v1m1-19v1m0 13v2m3-21v1m1-3v1m1-3v1m0 33v2m1-38v1m0 35v1m2-42v1m0 37v1m1-27v1m0 23v1m1-27v1m1-3v1m1-5v1m1 13v1m2-4v1m2 25v1m1-32v1m1-3v1m0 11v1m0 20v1m1-36v1m1-3v1m0 12v1m1-16v1m1-5v2m1 12v1m0 17v2m1-22v1m2-8v1m0 2v1m2-7v2m0 11v1m0 1v1m0 27v1m1-33v1m1 0v1m2 7v2m0 17v1m1-33v1m0 29v1m1-36v1m0 32v1m1-34v1m0 30v1m1-5v2m3-21v1m1-3v1m1-3v1m1-3v1m1 34v1m1-42v2m0 34v1m0 2v1m1-27v1m0 23v1m1-27v1m1-3v1m5 35v1m2-39v1m0 3v1m1-3v1m0 11v1m0 20v1m1-36v1m0 28v1m1-32v1m1-3v1m1-5v2m0 14v1m1-3v1m0 17v2m3-26v1"/>
<path stroke="#d1bf27" d="m2 23v1m1-1v1m0 12v1m1-4v1m1-3v1m0 30v1m1-2v1m1-32v1m0 29v1m1-3v1m1-20v1m1-18v1m0 1v1m0 13v1m0 12v1m0 2v1m1-34v1m0 28v3m2-20v1m4 26v1m2-42v1m0 1v1m0 12v1m1 19v1m1-2v1m3-16v1m5 21v1m0 1v1m1-38v1m0 35v1m2-8v1m0 3v1m2-40v2m1 29v1m0 1v1m5-31v1m1 9v1m0 1v1m0 27v1m1-33v1m1 0v1m1-3v1m0 29v1m1-21v1m0 13v1m2-31v1m0 13v1m0 15v1m1-4v1m1-17v1m4-12v1m1 36v1m1-39v1m0 36v1m1-41v1m0 13v1m6 2v1m2-4v1m1 28v1m3-25v1m0 20v1m2-41v1m0 15v1m1-18v2m0 30v1m0 2v1m1-5v2m5-31v2m1 9v1m0 1v1m0 26v2m2-32v1m1 27v1m1-21v2m1-16v1m1-3v1m0 13v1m0 15v1m2-20v1m6-13v1m0 36v1m1-41v1m1 35v1m3-32v1m2 11v1m2-4v1m4 4v1m0 16v1m0 3v1m2-39v1m0 13v1m1-18v1m0 34v1m1-4v1m3-28v1m2-4v1m1 41v1m1-2v1m1-32v1m1 27v1m1-20v1m1-18v1m0 1v1m1-4v2m0 27v1m0 1v1m2-20v1m5 1v1m1-17v1m0 1v1m0 12v1m1-17v1m0 35v1m1-1v1m3-31v1m0 12v2m4-7v1m1 29v1m1-38v1m0 35v1m1-24v1m1-2v1m0 16v1m0 3v1m2-39v1m0 13v1m1 17v1m3-26v1m2 7v1m2 25v1m1-2v1m1-32v1m0 29v1m1-7v1m1-16v1m1-16v1m0 13v1m0 12v1m1-31v1m0 28v3m1-18v1m4-12v1m1 35v2m1-2v1m1-42v1m0 1v1m0 12v1m2 18v2m3-31v1m0 12v2m1-2v1m2-4v1m2 25v1m2-23v1m2-3v1m1-17v1m0 30v1m1-2v1m0 1v1m2-24v1m1-3v1"/>
<path stroke="#dcbd29" d="m2 25v1m1-4v1m2 10v1m0 26v2m2-3v1m1-32v1m0 25v1m1-29v1m0 29v1m1-34v1m0 28v2m1-18v1m3-6v1m1-3v1m1-6v1m0 2v1m1-3v1m1-3v1m0 11v1m1-16v1m0 35v1m0 1v1m1-27v1m0 23v1m3-32v2m1 10v1m2-3v1m2-4v1m1-3v1m1 27v1m1-21v1m0 17v1m1-33v1m0 12v1m1-18v1m0 1v1m0 33v1m1-23v1m0 16v1m0 2v1m1-23v1m0 18v1m4-28v1m1-4v1m0 13v1m2-4v1m0 28v1m1-2v1m2-34v1m0 29v1m1-33v1m0 12v1m0 16v1m1-34v1m0 28v2m1-18v1m2-4v1m1-3v1m1-3v1m1-3v1m1-3v1m0 34v1m1-40v1m0 13v1m1 20v1m0 1v1m1-27v1m0 23v1m3-32v2m1 10v2m2-4v1m2-4v1m1-6v1m0 2v1m0 29v1m0 1v1m1-5v1m0 2v1m1-24v1m0 17v1m1-33v1m0 12v1m0 20v1m1-38v2m0 33v1m1-23v1m4-11v1m1-1v1m1 10v1m2 25v1m1-2v1m1-32v1m1-3v1m0 29v1m1-35v1m0 14v1m0 13v1m0 2v1m1-34v1m0 28v2m3-21v1m1-3v1m2-5v1m1-3v1m0 34v2m1-41v2m1 11v1m0 21v1m0 1v1m1-4v1m3-30v1m1 11v1m4-7v1m0 30v1m1-37v1m0 32v1m1-3v1m0 2v1m1-24v1m1-15v1m0 12v1m0 20v1m1-38v1m0 34v1m1-23v1m5-11v1m2 9v1m0 26v2m2-3v1m1-32v1m0 25v1m1-29v1m0 11v1m0 17v1m1-6v1m0 2v1m1-19v1m0 14v1m3-21v1m1-3v1m1-6v1m1 0v1m1-3v1m0 34v2m1-40v1m0 35v1m0 1v1m1-27v1m0 23v1m1-4v1m5-19v1m3-6v1m0 30v1m1-4v1m1-3v1m2-37v1m0 1v1m0 33v1m1-38v1m0 31v1m0 2v1m1-23v1m0 17v2m5-31v2m2 9v1m0 26v1m3-33v1m0 29v1m1-33v1m0 11v1m0 17v1m1-34v1m0 29v2m1-19v1m2-4v1m1-3v1m3-7v1m1-3v1m0 11v1m0 22v1m1-39v1m0 35v1m0 1v1m1-27v1m0 23v1m3-32v2m3 8v1m2-4v1m1-6v1m0 34v1m1-5v1m0 2v1m1-6v1m1-20v1m0 20v1m1-39v1m0 1v1m0 33v1m1-38v1m0 14v1m0 19v1m1-4v1m3-28v1m1-1v1"/>
<path stroke="#e6bb2d" d="m0 29v1m1-3v1m3 6v1m2-4v1m0 28v1m1-5v1m1 0v1m1-34v2m0 12v1m0 14v1m0 1v1m1-19v1m2-4v1m6-14v2m0 35v2m1-27v1m0 23v1m1-3v1m1-26v1m1-3v1m3 7v1m2-4v1m2-7v1m0 33v1m1-34v1m0 31v1m1-35v1m0 32v1m1-24v1m0 20v1m1-37v1m0 13v1m0 19v1m1-4v2m2-24v1m1-3v1m1-5v1m0 1v1m4 32v2m1-31v1m0 28v1m1-5v1m0 2v1m1-3v1m1-34v2m0 12v1m0 14v3m1-19v1m2-4v1m6-13v1m0 35v2m1-3v1m1-3v1m1-26v1m1-3v1m3 7v1m4 24v1m1-34v1m1-3v1m0 32v1m1-38v1m1 12v1m0 17v1m0 1v1m1-4v2m1-22v1m1-3v1m1-3v1m1-3v1m1-4v1m3 8v1m0 26v2m1-4v1m0 1v1m1-5v1m0 2v1m1-3v1m1-33v1m0 12v1m0 15v2m2-20v1m4-11v1m0 2v1m2-6v1m1 10v1m0 22v2m1-3v1m1-26v1m1-3v1m1-4v2m2 8v1m2-3v1m2-7v1m1 0v1m0 31v1m1-35v1m1-3v1m0 32v1m1-38v2m1 29v1m0 1v1m1-4v2m1-22v1m1-3v1m1-3v1m1-3v1m1-4v1m1 11v1m2-4v1m0 26v1m0 1v1m1-5v1m1 0v1m1-3v1m1-33v1m0 13v1m0 14v2m2-20v1m4-8v1m2-7v2m1 10v1m0 23v1m1-3v1m1-26v1m1-3v1m1-4v2m2 8v2m2-4v1m2-7v1m1 0v1m0 31v1m1-35v1m0 32v1m1-36v1m0 11v1m0 20v1m1-37v1m0 13v1m1 17v1m2-24v1m1-3v1m1-5v1m0 1v1m1-3v1m2 8v1m1 26v1m1-31v1m0 26v1m0 1v1m1-5v1m0 2v1m1-3v1m1-34v2m0 27v1m0 1v1m1-19v1m0 14v1m2-19v1m3-9v1m0 2v1m1-3v1m2-7v2m0 36v1m1-27v1m0 23v1m1-3v1m1-26v1m1-3v1m3 6v2m2-4v1m1-5v1m1 0v1m0 30v1m1-34v1m1-3v1m0 32v1m1-36v1m0 11v1m1-16v1m0 13v1m1 16v2m1-22v1m1-3v1m1-3v1m1-3v1"/>
<path stroke="#f0ba36" d="m1 25v2m1-3v1m3 7v1m1 25v2m1-31v1m0 27v2m1-32v1m0 27v2m1-3v1m1-19v1m1-2v1m2-4v1m1-3v1m1-5v1m0 1v1m1-3v1m1-4v2m3 6v1m1-3v1m1-3v1m3 7v1m1-2v1m2-6v1m0 1v1m1-3v1m1-3v1m0 31v1m1-35v1m0 32v1m1-37v2m1 29v2m1-22v1m4-9v1m1-3v1m2 9v1m2 23v2m1-31v1m0 27v2m1-33v2m0 27v2m2-21v1m1-2v1m2-4v1m1-3v1m1-5v1m0 1v1m1-3v1m1-4v2m2 8v1m1-3v1m1-3v1m1-3v1m3 7v1m2-3v1m1-5v1m0 1v1m1-3v1m1-3v1m0 32v1m1-36v1m0 32v1m1-36v1m0 12v1m0 20v1m1-4v1m1-22v1m3-8v1m1-2v1m3 7v1m2-4v1m0 27v1m1-31v1m0 27v2m1-33v2m0 27v2m2-20v1m2-4v1m1-3v1m1-3v1m1-3v1m1-3v1m1-4v1m2 9v1m1-3v1m1-3v1m4 5v2m1-4v1m1-3v1m0 1v1m1-3v1m1 29v1m1-35v1m0 32v1m1-37v2m1 10v1m0 18v1m0 1v1m1-23v1m0 18v1m1-22v1m3-8v1m1-2v1m3 7v1m1 26v1m1-31v1m0 27v2m1-32v1m0 27v2m1-33v2m0 27v2m1-19v1m1-2v1m2-4v1m1-3v1m1-5v1m0 1v1m1-3v1m1-3v1m3 6v1m2-5v1m4 5v2m1-4v1m1-3v1m0 1v1m1-3v1m1 29v1m1-35v1m0 32v1m1-37v2m1 10v1m0 18v1m0 1v1m1-23v1m0 18v1m5-30v1m3 7v1m1 26v1m1-31v1m0 27v2m1-32v1m0 27v2m1-3v1m1-19v1m1-2v1m2-4v1m1-3v1m1-3v1m1-3v1m1-4v2m3 6v1m2-5v1m4 5v2m1-4v1m1-1v1m2 27v2m1-36v1m0 32v1m1-37v2m0 33v1m1-24v1m0 18v3m1-23v1m3-8v1m2-4v1"/>
<path stroke="#f8ba3d" d="m0 27v2m6 1v1m1-3v1m1-3v1m3 7v1m1-3v2m1-3v1m1-4v2m1-3v1m1-3v1m10 7v1m1-3v2m1-3v1m2-5v1m1-3v1m0 32v1m1-3v2m1-23v1m1-3v1m1-3v2m1-4v2m1-4v2m5 3v1m1-3v1m1-3v1m4 5v1m1-2v1m1-4v2m1-4v2m1-3v1m1-3v1m10 7v2m1-4v2m1-3v1m2-5v1m0 32v1m1-36v1m0 32v1m1-3v2m1-23v1m1-3v1m1-3v2m1-4v2m1-3v1m5 3v1m1-3v1m1-3v1m3 7v1m1-3v2m1-4v2m1-4v2m1-4v2m1-3v1m1-3v1m10 8v1m1-3v1m2-4v1m1-4v1m0 32v1m1-3v2m1-3v1m1-23v1m1-3v1m1-3v2m1-4v2m1-3v1m5 3v1m1-3v1m1-3v1m3 7v1m1-3v2m1-4v2m1-4v2m1-3v1m1-3v1m1-3v1m4 5v1m6 2v1m1-3v1m2-5v2m1-4v1m0 32v1m1-3v2m1-3v1m1-23v1m1-3v2m1-4v2m1-4v2m1-3v1m5 3v1m1-3v1m1-3v1m3 7v1m1-3v2m1-4v2m1-4v1m1-2v1m1-3v1m5 3v1m6 2v1m2-4v1m1-4v2m1-4v1m0 32v1m1-3v2m2-25v1m1-3v2m1-4v2m1-3v1m1-3v1"/>
<path stroke="#febe3c" d="m13 30v1m16-3v1m20 2v1m17-5v1m36 0v1m1-3v1m36 0v1m22-1v1m14 0v1m1-3v1"/>
</g>
</g></g>
<rect x="514" y="27" width="10" height="135.5" fill="url(#pg)" stroke="#4a4a30" stroke-opacity=".7" stroke-width=".6"/>
<text class="t" x="528.1" y="34.75" font-size="10.4">2</text>
<text class="t" x="528.1" y="68.05" font-size="10.4">1.5</text>
<text class="t" x="528.1" y="101.25" font-size="10.4">1</text>
<text class="t" x="528.1" y="134.55" font-size="10.4">0.5</text>
<text class="t" x="322.7" y="45.2715" font-size="10.4" text-anchor="end">15</text>
<text class="t" x="322.7" y="79.5753" font-size="10.4" text-anchor="end">10</text>
<text class="t" x="322.7" y="113.879" font-size="10.4" text-anchor="end">5</text>
<text class="t" x="322.7" y="148.183" font-size="10.4" text-anchor="end">0</text>
<text class="t" x="359.158" y="178.25" font-size="10.4" text-anchor="middle">-10</text>
<text class="t" x="417.25" y="178.25" font-size="10.4" text-anchor="middle">0</text>
<text class="t" x="475.342" y="178.25" font-size="10.4" text-anchor="middle">10</text>
<text class="t" x="417.25" y="194.8" font-size="11.4" text-anchor="middle">x<tspan dy="5.9" font-size="9.5">1</tspan></text>
<text class="t" transform="translate(299,95.25) rotate(-90)" font-size="11.4" text-anchor="middle">t<tspan dy="6.1" font-size="10">1</tspan></text>
<text class="t" x="417.25" y="16.4" font-size="12.2" font-weight="bold" text-anchor="middle" fill="#000">|S<tspan dy="5.7" font-size="10.6">3</tspan><tspan dy="-5.7" font-size="12.2">|</tspan></text>
<text class="s" x="423.3" y="217.5" font-size="11.6" text-anchor="middle">(<tspan font-weight="bold" font-size="12.6">b</tspan>)</text>
<g clip-path="url(#cpc)"><g filter="url(#bl)">
<rect x="41" y="243" width="182" height="140" fill="#3e6fff"/>
<g transform="translate(41.5,243)" fill="none" stroke-width="1">
<path stroke="#4332cb" d="m15 0v1m14 5v1m13 43v1m23-45v1m36-2v1m66 53v1m4-9v1"/>
<path stroke="#4537d5" d="m0 22v2m0 11v3m0 21v5m1-43v1m0 11v3m0 21v2m0 2v1m1-31v1m0 24v1m1-28v1m0 24v1m1-28v2m0 23v2m1-28v2m0 23v3m1-30v2m0 24v3m1-5v3m1-17v2m0 11v1m1-16v2m1-4v1m1-3v1m1-29v2m0 24v2m0 12v1m0 19v3m1-63v5m0 20v1m0 11v3m0 18v4m1-62v4m0 19v1m0 11v3m0 18v4m1-59v1m0 31v3m0 19v3m1-27v1m0 22v2m1-27v1m0 23v1m1-27v1m1-3v1m1-3v2m1-3v2m1-4v2m0 13v1m1-18v2m0 12v2m0 26v4m1-47v1m0 12v2m0 26v5m1-48v1m0 13v1m0 26v5m1-49v2m0 13v1m0 26v5m1-50v3m0 13v2m0 26v4m1-51v4m0 41v4m1-52v3m0 1v2m0 25v2m0 14v2m1-51v6m0 25v3m1-35v5m0 25v1m1-29v2m0 24v1m1-29v2m0 24v1m1-3v2m1-3v2m0 12v1m0 23v3m1-43v2m0 11v3m0 22v4m1-43v1m0 11v3m0 22v1m1-28v2m0 23v1m1-28v2m0 23v2m1-28v1m0 24v2m1-29v2m0 23v4m1-30v1m0 24v1m0 1v1m1-4v2m1-17v2m1-4v2m1-4v1m1-3v1m1-28v2m0 23v2m0 12v1m0 19v3m1-62v4m0 20v1m0 11v3m0 18v4m1-61v3m0 19v1m0 11v3m0 19v3m1-59v1m0 31v3m0 19v3m1-27v1m0 22v2m1-27v1m0 23v1m1-27v1m1-3v2m1-3v2m1-4v3m1-5v3m0 12v1m1-17v1m0 13v2m0 25v4m1-47v1m0 13v1m0 26v5m1-48v1m0 13v1m0 26v5m1-48v1m0 13v2m0 26v5m1-51v3m0 13v2m0 26v5m1-52v5m0 26v1m0 13v5m1-52v3m0 1v1m0 25v3m0 13v2m1-51v6m0 25v3m1-34v5m0 24v1m1-29v2m0 24v1m1-28v1m0 24v1m1-2v1m0 38v1m1-42v2m0 12v2m0 22v4m1-43v1m0 12v2m0 22v4m1-43v1m0 11v3m0 22v2m0 2v1m1-32v2m0 23v2m1-28v1m0 23v2m1-28v2m0 23v2m1-29v2m0 24v3m1-30v1m0 24v3m1-16v1m0 11v2m1-17v2m1-4v2m1-4v1m1-3v2m1-28v1m0 24v1m0 12v2m0 19v3m1-62v4m0 19v2m0 11v2m0 19v3m1-60v2m0 31v3m0 19v4m1-59v1m0 30v2m0 20v4m1-28v1m0 22v3m1-28v1m0 23v1m1-27v2m1-3v1m1-3v2m1-4v3m0 12v1m1-17v2m0 12v2m0 26v2m1-46v2m0 12v2m0 25v4m1-47v1m0 13v2m0 25v5m1-48v1m0 13v2m0 25v6m1-49v1m0 13v2m0 26v5m1-51v3m0 14v1m0 26v5m1-52v5m0 26v1m0 14v4m1-52v3m0 1v1m0 25v3m0 14v1m1-50v5m0 25v3m1-33v1m0 1v2m0 24v1m1-28v1m0 24v1m1-2v1m1-3v2m0 37v2m1-43v2m0 12v2m0 22v4m1-43v1m0 12v2m0 22v5m1-31v2m0 22v2m0 2v1m1-31v1m0 23v2m1-28v1m0 24v1m1-28v2m0 23v2m1-28v1m0 24v3m1-30v1m0 25v2m1-16v1m0 11v2m1-17v3m1-5v2m1-4v1m1-28v1m0 25v1m0 34v1m1-62v2m0 22v2m0 11v2m0 19v3m1-61v3m0 19v2m0 11v2m0 19v4m1-60v2m0 30v4m0 18v4m1-28v2m0 1v1m0 19v3m1-28v2m0 22v2m1-28v2m1-3v1m1-3v1m1-3v3m1-5v3m0 13v1m1-18v2m0 12v2m0 26v2m1-46v2m0 12v2m0 26v4m1-48v1m0 13v2m0 26v4m1-34v2m0 26v5m1-49v1m0 14v1m0 26v5m1-50v3m0 13v1m0 26v5m1-52v5m0 26v2m0 13v4m1-52v5m0 26v2m1-34v5m0 24v3m1-31v2m1-3v1m0 25v1m1-3v1m1-3v2m0 13v1m0 23v2m1-42v2m0 11v2m0 22v4m1-43v2m0 11v2m0 22v5m1-31v2m0 22v2m1-28v1m0 24v1m1-28v1m0 24v2m1-29v2m0 24v2m1-29v2m0 23v3m1-4v2m1-16v1m0 12v1m1-16v2m1-4v2m1-4v1m1-3v1m0 34v1m1-61v3m0 20v2m0 11v2m0 19v3m1-60v2m0 20v1m0 11v3m0 18v4m1-59v1m0 31v3m0 18v4m1-27v1m0 21v3m1-27v1m0 22v2m1-27v1m1-3v1m1-3v2m1-4v3m1-4v2m0 13v1m1-18v2m0 12v2m0 26v3m1-47v2m0 12v2m0 26v2m0 1v1m1-47v1m0 12v2m0 26v5m1-35v2m0 26v5m1-49v2m0 13v1m0 26v5m1-50v3m0 13v1m0 27v1m0 1v2m1-51v4m0 26v2m0 13v4m1-52v6m0 25v2m1-33v4m0 25v1m1-29v1m0 25v1m1-3v1m1-3v1m1-3v3m0 12v1m0 23v3m1-43v2m0 11v2m0 22v5m1-44v2m0 11v3m0 21v2m0 2v1m1-31v3m0 22v1"/>
<path stroke="#463cde" d="m0 21v1m1-2v1m0 11v1m0 26v2m0 1v1m1-45v2m0 10v1m0 1v2m0 21v1m0 1v1m0 1v2m1-31v2m0 21v1m0 1v1m0 2v1m1-30v1m0 24v1m0 1v1m1-32v1m0 24v1m0 3v1m1-6v1m1-27v1m0 12v2m1-5v1m0 12v1m0 1v1m1-44v1m0 25v1m0 13v2m1-44v2m0 24v1m0 1v1m0 11v2m1-44v3m0 23v1m0 1v1m0 11v2m0 19v2m1-62v4m0 33v1m0 1v1m0 17v1m1-55v1m0 18v1m0 11v1m1-3v1m1-33v1m0 18v1m0 10v1m0 21v1m1-55v1m0 29v1m0 1v2m0 19v1m0 2v1m1-29v1m0 23v1m1-27v1m0 1v1m0 22v1m1-26v1m1-2v1m1-5v1m0 2v1m0 11v2m1-19v1m0 2v1m0 11v1m0 27v3m1-48v1m0 2v1m0 13v1m0 24v1m1-44v1m0 1v1m0 13v1m0 24v1m1-45v2m0 13v1m0 1v1m0 24v1m1-45v1m0 14v1m0 1v1m0 30v1m1-52v1m0 3v1m0 39v1m0 4v1m1-53v1m0 4v1m0 12v2m0 11v2m0 12v1m0 4v1m1-54v1m0 33v1m0 12v1m0 2v1m1-53v1m0 30v1m0 15v2m1-44v1m0 23v1m0 1v2m1-33v2m0 25v1m0 1v1m1-3v1m0 13v1m1-16v1m0 11v3m0 22v3m1-44v1m0 13v1m0 1v1m0 21v1m0 3v1m1-7v1m1-40v1m0 36v1m0 1v4m1-44v1m0 13v1m0 21v1m0 1v1m0 2v1m1-30v1m0 26v1m1-32v1m0 1v1m0 22v1m0 2v2m2-33v1m0 24v1m1-27v1m0 12v2m0 10v1m1-3v3m1-44v2m0 24v1m0 13v2m1-44v3m0 25v1m0 11v2m1-44v4m0 24v1m0 11v2m0 19v3m1-62v4m0 32v1m0 1v1m0 21v1m1-59v1m0 18v1m0 1v1m1-3v1m0 31v1m0 3v1m1-59v1m0 29v1m0 3v1m0 21v1m1-29v1m0 1v1m0 20v1m0 2v1m1-27v1m0 21v1m0 1v1m1-27v1m2-6v1m0 2v1m1-6v1m0 15v1m1-4v1m0 1v1m0 25v3m1-47v1m0 1v1m0 11v1m1-17v1m0 1v1m0 11v1m0 1v1m1-20v2m0 1v1m0 11v1m0 1v1m0 30v1m1-51v2m0 1v1m0 39v1m1-47v1m0 3v1m0 39v1m1-48v1m0 18v1m0 11v1m1-34v1m0 45v1m0 2v1m1-46v1m0 40v1m1-18v2m1-32v1m0 27v1m1-3v1m0 13v1m1-18v1m0 1v1m0 12v2m0 22v1m0 1v1m1-30v1m0 23v1m1-40v1m0 12v1m0 23v1m0 4v1m1-45v1m0 36v1m0 2v2m1-43v1m0 13v1m0 26v1m1-32v1m0 1v1m0 24v1m0 1v1m1-32v1m0 24v1m0 2v2m1-6v1m1-28v1m1 11v1m0 11v1m1-13v1m0 10v2m1-44v2m0 27v1m0 10v2m1-44v3m0 25v2m0 10v2m1-43v3m0 25v1m0 10v3m0 18v3m1-62v4m0 19v1m0 1v1m0 10v1m0 20v1m1-24v1m0 20v1m0 3v1m1-59v1m0 18v2m0 13v1m0 17v1m1-22v2m1-5v1m0 1v1m1-5v1m0 23v1m2-30v1m0 1v1m1-5v1m0 2v1m1 11v1m1-19v1m0 13v1m0 27v1m0 2v1m1-48v1m0 13v1m0 31v1m1-49v1m0 1v1m0 11v1m0 32v1m1-50v1m0 1v1m1-6v2m0 1v1m0 39v1m1-47v1m0 3v1m0 12v1m1-21v1m0 18v1m0 11v1m0 1v1m0 12v1m1-49v1m0 5v1m0 39v2m0 1v1m1-46v1m0 40v1m1-46v1m0 27v2m1-31v1m0 26v1m1-28v1m0 23v1m0 1v1m0 12v2m1-19v1m0 14v2m0 22v1m0 2v1m1-42v1m0 10v1m0 23v1m0 4v1m1-45v1m0 1v1m0 10v1m0 23v1m1-39v2m0 10v1m0 2v1m0 23v1m1-42v1m0 11v1m0 1v1m0 26v1m1-32v1m0 1v1m0 22v1m0 1v1m1-27v1m0 24v3m1-32v1m0 1v1m0 22v1m0 3v1m1-30v1m0 12v1m0 10v1m0 2v1m1-18v1m0 11v1m0 2v1m1-5v2m1-43v1m0 27v1m0 11v1m1-44v3m0 25v2m0 11v2m1-42v2m0 22v1m0 1v1m0 11v2m0 18v2m0 1v1m1-61v3m0 31v1m0 20v1m1-55v1m0 30v1m0 2v1m0 17v1m1-36v2m1 10v1m0 19v1m1-2v1m1-2v2m1-28v1m1-3v1m0 1v1m2 9v1m0 27v1m1-46v1m0 41v1m0 2v1m1-48v1m0 41v1m1-45v1m0 1v1m0 39v1m0 4v1m1-50v3m0 39v1m1-46v2m0 1v1m0 12v1m0 26v1m1-47v2m1-5v1m0 5v1m0 12v1m0 11v1m0 14v1m1-49v1m0 5v1m0 24v1m0 15v3m1-18v1m0 12v1m1-46v1m0 26v2m1-28v1m0 23v1m0 15v1m1-19v1m0 1v1m0 12v2m0 23v1m1-40v1m0 11v1m0 23v1m0 2v1m1-44v1m0 15v1m0 25v1m1-45v1m0 12v1m0 2v1m1-18v2m0 10v1m0 2v1m0 23v1m0 1v2m1-33v1m0 1v2m0 21v1m0 1v1m0 2v1m1-31v2m0 26v1m1-30v1m0 22v1m0 2v2m1-32v1m0 28v1m1-31v2m0 12v1m0 10v1m0 2v1m1-18v1m0 1v1m0 10v1m0 1v1m1-18v1m0 12v3m1-44v2m0 24v1m0 13v2m1-44v3m0 23v1m0 1v1m0 11v2m1-42v3m0 21v1m0 1v1m0 11v2m0 18v2m0 1v1m1-59v1m0 31v1m0 2v1m0 17v1m0 3v1m1-59v1m0 18v1m0 11v1m1-14v1m0 10v1m1-3v1m0 1v2m1-6v1m0 22v1m1-26v1m0 23v2m1-28v1m0 1v1m2 10v1m1-19v1m0 2v1m0 11v1m0 27v2m1-47v1m0 2v1m0 38v1m0 3v1m1-49v1m0 16v1m0 24v1m0 4v1m1-50v2m0 40v1m1-45v3m0 14v1m0 24v1m1-46v2m0 14v1m0 1v1m0 30v1m1-53v2m0 3v1m0 13v1m0 25v1m0 4v1m1-53v1m0 4v1m0 39v1m1-18v1m0 2v1m0 12v3m1-21v1m0 1v2m0 12v1m1-45v1m0 1v1m0 23v1m0 2v1m1-30v1m0 23v1m0 15v1m1-17v2m0 12v1m0 23v2m1-29v1m0 1v1m0 21v1m1-41v1m0 15v1m1 21v2m0 1v1m1-45v2m0 35v1m0 1v1m0 1v2"/>
<path stroke="#4741e5" d="m0 34v1m0 23v1m1-40v1m0 36v1m1 1v1m1-43v2m0 10v1m0 27v2m1-44v2m0 39v1m1-43v1m1-3v1m0 11v1m0 14v1m1-31v2m0 12v1m0 12v1m0 11v1m1-42v3m1-5v1m0 1v1m0 37v1m1-43v1m0 2v1m0 36v1m1-43v1m0 3v2m0 34v1m0 2v1m0 17v1m0 2v1m1-59v1m0 18v1m0 12v1m0 24v1m1-38v1m0 30v1m1-54v1m0 17v1m0 1v1m0 30v1m0 4v1m1-25v1m0 21v1m1-25v1m1-5v1m0 23v1m1-3v1m1-29v1m0 2v2m1-7v1m0 3v1m0 12v1m1 24v2m1-30v1m0 24v1m0 3v1m1-2v1m1-50v1m1-4v1m0 3v1m0 44v1m1-52v1m0 3v1m0 38v1m1-47v1m0 16v1m1-21v1m0 30v1m1-14v1m0 10v1m0 14v1m0 4v1m1-47v1m0 38v1m0 2v1m1-5v2m1-17v1m0 11v3m1-20v1m0 2v1m0 11v1m0 1v1m0 22v2m1-5v1m2-43v1m0 12v1m0 29v1m1-33v1m1-15v1m0 11v1m0 27v2m1-44v2m0 10v1m0 24v1m0 2v2m1-43v1m1-3v1m0 11v1m0 24v1m1-40v1m0 26v2m1-31v1m0 37v1m1-42v3m0 24v1m1-30v1m0 2v1m0 26v1m0 9v1m1-43v1m0 26v1m0 2v1m0 9v1m0 2v1m1-41v3m0 19v1m0 2v1m0 9v1m0 2v1m0 17v1m1-55v1m0 20v1m0 9v1m0 20v1m1-24v1m0 20v1m0 4v1m1-59v1m0 29v1m0 3v1m1-18v2m0 31v1m1-22v2m1-7v1m0 3v1m1-7v1m0 24v2m1-29v1m0 2v2m1 10v1m1-4v1m0 1v1m0 25v3m1-48v1m0 41v1m0 3v1m1-49v1m0 41v1m0 4v1m1-50v1m0 41v1m0 5v1m1-52v1m0 42v1m1-46v1m0 15v1m0 26v1m1-47v1m0 31v1m1-36v1m0 18v1m0 14v1m0 11v1m1-49v1m0 6v1m0 12v1m0 10v1m0 14v1m0 4v1m1-23v1m0 15v1m0 1v1m1-21v1m0 15v2m1-20v1m0 2v1m0 12v2m1-43v1m0 25v1m0 11v1m0 1v1m0 22v3m1-30v1m0 23v1m0 3v1m1-45v1m0 2v1m0 39v1m1-46v1m0 2v1m1-3v1m0 9v1m1-15v1m0 1v1m0 13v1m0 20v1m0 2v2m1-43v1m0 39v1m1-43v1m0 14v1m0 26v1m1-45v1m0 11v1m0 2v1m0 26v1m1-45v1m0 14v1m0 11v2m0 9v1m0 3v1m1-45v2m0 12v1m0 27v1m1-45v2m0 24v1m0 12v1m0 2v1m1-46v1m0 2v1m0 23v1m0 12v1m0 2v1m1-46v1m0 3v1m0 22v1m0 15v1m0 19v1m1-61v3m0 53v1m0 3v1m1-59v1m0 30v1m0 20v1m1-54v1m0 17v1m0 11v1m0 3v1m0 16v1m1-24v1m1-14v2m0 9v1m1-3v1m0 2v1m0 19v1m1-26v1m0 3v1m0 19v1m1-24v1m0 21v2m1-25v1m1 10v2m1-20v1m0 14v1m0 27v3m1-48v1m0 41v1m1-45v1m0 41v1m1-45v1m0 41v1m1-45v1m0 14v1m0 26v1m1-46v1m1-4v1m0 31v1m0 12v1m1-49v1m0 6v1m0 38v1m1-49v1m0 30v1m0 19v1m1-23v1m0 15v1m0 1v1m1-21v1m0 3v1m0 11v2m1-43v1m0 25v1m0 12v2m1-16v1m0 35v3m1-41v1m0 10v1m0 23v1m1-41v1m0 16v1m1-3v1m1-19v1m0 36v1m0 3v1m0 1v1m1-46v1m0 1v1m0 13v1m0 23v1m0 2v1m1-45v2m0 13v1m0 24v3m1-45v2m0 10v1m0 24v1m1-40v1m1-3v2m0 11v1m0 13v1m0 10v1m1-41v2m0 12v1m0 14v1m1-32v3m0 36v1m0 2v1m1-45v1m0 1v1m0 37v1m0 1v1m1-42v1m0 36v1m0 20v3m1-61v3m0 32v1m0 19v1m1-36v1m0 15v1m0 16v1m0 4v1m2-9v1m1-54v1m0 18v1m1 10v2m1-4v1m1-3v1m0 22v1m1-25v1m1-6v1m0 15v2m1-20v1m0 3v1m0 10v1m0 27v1m0 1v2m1-49v1m0 3v1m0 10v1m0 31v1m1-50v1m0 3v1m0 10v1m0 32v1m1-51v1m0 14v1m1-18v1m0 17v1m1-22v1m0 4v1m0 13v1m0 30v1m1-54v1m0 5v1m0 11v1m0 1v1m0 11v2m0 11v1m0 5v1m1-3v1m1-20v1m0 11v1m0 3v1m1-7v1m0 1v1m1-44v1m0 25v2m0 11v3m1-18v2m0 11v1m1-15v1m0 35v1m0 1v2m1-45v1m0 13v1m0 2v1m0 20v1m0 4v1m1-32v1m0 23v1m1-3v1m0 5v1m1-46v1m0 36v1m0 3v1m1-43v2m0 39v1m1-44v2m0 10v1m0 24v1m0 2v2m1-44v2m1-4v2m0 36v1m1-41v2m0 27v1m1-32v2m0 13v1m0 23v1m1-42v3m1-5v1m0 2v1m0 36v1m1-39v1m0 35v1m0 20v3m1-60v2m0 32v1m0 2v1m1-37v1m0 17v1m1 31v1m1-54v1m0 17v1m0 37v1m1-40v1m0 32v1m0 3v1m1-27v2m0 22v1m1-27v1m0 23v1m1-4v1m1-28v1m0 2v1m1-6v1m0 3v1m0 11v1m1-19v1m0 42v1m0 2v1m1-34v1m0 2v1m1-17v1m0 10v1m1-18v1m0 3v1m0 13v1m1-21v1m0 3v1m0 44v1m1-53v1m0 4v1m0 38v1m1-48v1m0 31v2m1-36v1m0 18v2m0 10v1m0 2v1m0 16v1m1-8v1m0 3v1m1-46v1m0 38v1m0 1v1m1-18v1m0 12v3m1-18v2m0 11v1m0 1v1m1-20v1m0 14v1m0 1v1m0 21v1m0 2v1m1-2v1m1-32v1m0 23v1m1-40v1m0 12v1m0 23v1m1-27v1m0 27v1"/>
<path stroke="#4747eb" d="m0 64v1m2-48v1m0 36v1m1-40v1m1 10v1m0 24v1m1-40v1m1-3v1m0 1v1m0 26v1m0 8v1m1-42v1m0 2v1m1-6v1m0 15v1m0 23v1m1-43v1m0 3v1m0 35v1m1-43v1m0 4v1m0 25v1m0 12v1m0 17v3m1-60v3m0 21v1m0 29v1m1-54v1m0 20v1m0 29v1m1-53v1m0 16v1m0 32v1m0 5v1m1-25v1m1-19v1m0 1v1m1-4v1m0 32v1m1-22v2m0 18v1m1-23v2m0 19v1m1-10v1m0 7v1m1-12v1m1-19v1m0 17v1m0 24v1m0 2v1m1-49v1m0 14v1m1-18v1m0 14v1m0 26v1m1-45v1m0 14v1m0 26v1m1-46v1m1-3v1m1-4v1m0 31v2m0 11v1m1-49v1m0 34v1m0 10v1m1-49v1m0 7v1m0 11v1m1 28v1m1-7v1m0 2v1m2-46v1m0 61v1m0 2v1m1-68v1m0 22v1m0 13v1m0 23v1m0 4v1m1-42v1m0 9v1m0 23v1m0 5v1m1-43v1m0 33v1m1-40v1m0 2v1m0 33v1m1-40v1m0 2v1m1-3v1m1-5v1m0 1v1m0 9v1m0 24v1m0 5v1m1-46v1m0 1v1m0 13v1m0 26v1m1-46v1m0 1v1m0 10v1m0 2v1m0 21v1m0 4v1m1-46v1m0 1v1m0 11v1m0 12v1m0 15v1m1-43v1m0 11v1m0 14v1m0 8v1m0 3v1m1-47v1m0 43v1m1-47v1m0 4v2m0 55v4m1-59v1m0 51v1m0 4v1m1-41v1m0 32v1m1-53v1m0 33v1m1-19v1m0 32v1m2-37v2m1 10v1m0 19v1m1-23v2m0 19v1m1-10v1m1-20v1m0 15v1m0 1v1m0 25v2m1-48v1m0 42v1m1-46v1m1-3v1m0 14v1m1-18v1m2-6v1m1-4v1m0 17v1m0 13v1m0 12v1m1-41v1m0 23v1m1-35v1m1 44v1m0 3v1m1-7v1m0 2v1m1-44v1m0 37v1m1-18v1m0 3v1m0 34v1m1-42v1m0 3v1m1 7v1m0 23v1m1-27v1m0 3v1m0 19v1m1-40v1m0 16v1m1-7v1m0 30v1m1-46v1m0 1v1m0 9v1m0 3v1m0 20v1m0 5v1m1-46v1m0 1v1m1-5v1m0 1v1m0 35v1m1-41v1m0 1v1m1-5v1m0 13v1m0 1v1m0 10v1m0 2v1m0 8v1m1-42v1m0 2v1m0 35v1m1-38v1m1-2v1m0 34v1m0 20v2m0 1v1m1-59v2m0 17v1m0 12v1m0 19v1m1-53v1m0 33v1m0 15v1m0 5v1m2-43v1m1-20v1m0 50v1m1-35v1m1 10v1m1-6v1m0 3v1m1-7v1m0 16v1m1-20v1m0 15v1m0 27v2m1-48v1m0 42v1m0 3v1m1-50v1m0 4v1m0 42v1m1-51v1m0 4v1m0 43v1m1-52v1m0 4v1m1-8v1m0 4v1m1-9v1m0 5v1m0 10v1m0 26v1m0 6v1m1-55v1m0 6v1m0 13v1m0 10v1m0 1v1m0 17v1m1-36v1m0 11v1m0 20v1m1-35v1m0 25v1m1-14v1m0 10v1m0 3v1m1-45v1m0 37v1m0 2v1m1-21v1m0 3v1m0 10v1m0 2v1m0 22v1m1-29v1m0 2v1m0 20v1m0 3v1m1-28v1m0 25v1m2-48v1m0 12v1m1-3v1m1-3v1m0 24v1m0 3v1m1-44v1m1-3v1m1-3v1m0 1v1m0 10v1m0 15v1m0 8v1m1-41v1m0 29v1m1-33v1m0 2v1m0 12v1m0 22v1m1-42v1m0 26v1m1-30v1m0 3v1m0 22v1m0 12v1m1-38v2m0 20v1m0 12v1m0 20v1m0 3v1m1-59v1m0 30v1m0 3v1m1-37v1m0 29v1m1-15v1m0 11v1m0 20v1m1-53v1m0 28v1m1-14v1m0 10v1m0 26v1m1-40v1m0 9v1m0 22v1m0 3v1m1-30v1m0 3v1m0 19v1m0 2v1m1-30v1m0 3v1m0 20v1m1-11v2m1-16v1m0 10v1m0 27v3m1-6v1m1-27v1m0 23v1m1-27v1m0 23v1m1-46v1m0 4v1m0 13v1m0 23v1m1-46v1m0 4v1m0 10v1m0 26v1m0 6v1m1-54v1m1-4v1m0 31v1m1-35v1m0 20v1m0 9v1m0 14v1m1-29v1m0 10v1m0 14v1m1-41v1m0 22v1m0 14v1m0 3v1m1-22v1m0 14v1m1-3v1m0 2v1m0 21v3m1-30v1m0 2v1m0 20v1m2-43v1m3-6v1m0 36v1m0 3v1m1-44v1m1-3v1m0 12v1m0 24v1m1-41v1m0 28v1m1-32v1m0 2v1m0 10v1m0 13v1m0 10v1m1-42v1m0 2v1m0 11v1m1-18v1m0 39v1m1-43v1m0 39v1m1-37v2m0 32v1m0 3v1m0 16v1m0 3v1m1-59v1m0 30v1m0 20v1m0 4v1m1-38v1m0 8v1m0 20v1m1-53v1m0 19v1m0 8v1m0 20v1m0 5v1m1-39v1m0 8v1m0 21v1m1-25v1m0 4v1m1-18v1m0 9v1m0 4v1m1-4v2m0 18v1m1-23v2m0 19v1m0 1v1m1-25v1m0 11v2m1 23v3m1-33v1m0 2v1m0 28v1m1-50v1m0 41v1m1-45v1m0 41v1m1-46v1m0 15v1m0 26v1m0 6v1m1-53v1m1-4v1m0 31v1m1-17v1m0 12v1m0 13v1m1-49v1m0 45v1m1-41v1m0 43v1m1-5v1m2 16v3m1-30v1m0 23v1m0 4v1m1-46v1m0 13v1m0 23v1m1 3v1m2-48v1m0 36v1"/>
<path stroke="#484df0" d="m0 20v1m0 3v1m0 8v1m1-16v1m0 3v1m0 8v1m1-12v1m1-3v1m0 33v1m1-40v1m0 2v1m1-6v1m0 2v1m0 9v1m0 15v1m0 8v1m0 5v1m1-47v1m0 27v1m0 15v1m1-33v1m0 24v1m0 4v1m1-43v1m0 10v1m0 11v1m0 11v1m0 4v1m1-42v1m0 21v1m0 3v1m0 12v1m1-41v3m0 18v1m0 12v1m0 19v2m0 3v1m1-58v1m0 29v1m0 19v1m0 5v1m1-29v1m0 19v1m1-23v1m0 19v1m1-23v1m0 20v1m1-24v1m0 21v1m1-36v1m0 1v1m0 8v1m1-13v1m0 9v1m1-3v1m0 17v1m1-21v1m0 16v1m0 9v1m1-11v1m0 24v3m1-33v1m0 26v1m0 4v1m1-51v1m0 42v1m1-46v1m1-3v1m0 49v1m1-37v1m0 26v1m1-47v1m0 31v1m0 11v1m1-48v1m0 31v1m1-27v1m0 10v1m1 9v1m0 14v1m1-28v1m0 9v1m0 14v1m0 5v1m1-24v1m0 14v1m1-40v1m0 36v1m0 3v1m0 20v3m1-30v1m0 23v1m0 4v1m1-42v1m1-7v1m1-3v1m0 17v1m1-3v1m1-3v1m0 19v1m0 6v1m1-47v1m0 16v1m0 26v1m1-47v1m0 16v1m1-20v1m0 12v1m0 15v2m1-33v1m0 27v1m1-31v1m0 3v1m0 9v1m0 2v1m0 13v1m0 7v1m1-42v1m0 14v1m1-13v1m0 34v1m0 22v1m1-59v2m0 31v1m0 19v2m1-54v1m0 29v1m0 19v1m1-52v1m0 28v1m0 4v1m0 14v1m0 6v1m1-42v1m0 11v1m0 20v1m1-24v1m1-31v1m0 16v1m0 10v1m1-31v1m0 50v1m1-36v2m1 24v1m1-4v1m0 1v1m0 6v2m1 14v1m0 2v1m1-34v1m0 31v1m1-35v1m0 26v1m0 5v1m1-52v1m0 42v1m1-46v1m0 15v1m0 26v1m1-46v1m0 5v1m0 36v1m1-47v1m0 6v1m0 24v2m0 18v1m1-56v1m0 7v1m0 23v1m0 2v1m0 17v1m1-56v1m0 45v1m0 6v1m1-36v1m0 25v1m1-28v1m0 14v1m0 9v1m0 5v1m1-46v1m0 26v1m0 9v1m1-13v1m0 9v1m0 3v1m0 20v4m1-31v1m0 3v1m0 19v1m0 4v1m1-32v1m0 3v1m0 19v1m0 5v1m1-47v1m0 17v1m2 15v1m0 6v1m1-47v1m1-3v1m1-3v1m0 12v1m0 24v1m1-41v1m0 28v2m1-33v1m0 13v1m0 13v1m0 2v1m0 7v1m1-42v1m0 3v1m1-7v1m0 15v1m1-19v1m0 39v1m0 21v3m1-60v3m0 30v1m0 20v1m0 4v1m1-24v1m0 14v1m1-35v1m0 31v1m1-2v1m1-52v1m0 49v1m2-37v1m0 37v1m1-40v1m0 32v1m0 3v1m1-13v2m0 5v1m1-11v1m0 1v1m0 6v2m0 17v2m1-5v1m0 2v1m1-44v1m1 7v1m1-3v1m0 3v1m0 22v1m1-46v1m0 19v1m1-23v1m0 19v1m0 30v1m1-55v1m0 20v1m0 10v2m1-18v1m0 12v1m0 13v1m1-49v1m0 21v1m0 23v1m1-13v1m0 16v1m1-47v1m0 42v1m2 14v2m0 1v1m1-45v1m0 13v1m1-17v1m0 13v1m0 23v1m1-27v1m0 23v1m1-3v1m0 6v1m1-47v1m1-3v1m1-3v1m0 12v1m0 24v1m1-41v1m1-3v1m0 3v1m0 24v1m1-32v1m0 3v1m0 9v1m0 24v1m1-42v1m0 14v1m0 12v1m1-31v1m0 4v1m0 10v2m0 22v1m1-43v1m0 5v1m0 55v4m1-60v3m0 34v1m0 15v1m1-53v1m0 16v1m0 31v2m0 5v1m1-9v1m1-52v1m0 48v1m1-35v1m0 32v1m0 5v1m1-8v1m1-36v1m0 15v1m1-18v1m0 14v1m1-3v1m0 11v2m0 8v1m1-30v1m0 4v1m0 10v1m0 9v1m0 17v2m1-48v1m0 42v1m0 3v1m1-50v1m0 18v1m0 28v1m1-51v1m1-3v1m1-4v1m0 50v1m1-54v1m1-4v1m0 17v1m0 13v3m0 10v1m1-17v1m0 13v1m1-49v1m0 19v1m0 15v1m1-30v1m0 12v1m0 30v1m1-4v1m1-4v1m0 21v1m1-44v1m0 38v1m0 3v1m1-46v1m0 43v1m1-33v1m0 23v1m1-27v1m0 23v1m0 6v1m1-47v1m0 12v1m1-16v1m0 12v1m1-3v1m1-12v1m0 33v1m1-37v1m1-3v1m0 9v1m0 14v1m0 1v1m0 7v1m2-29v1m0 12v1m0 11v1m1-43v1m0 4v1m0 11v1m0 10v1m0 11v1m0 4v1m1-42v1m0 21v1m0 16v1m0 16v4m1-59v2m0 17v1m0 3v1m0 28v1m1-53v1m0 20v1m0 28v1m1-52v1m0 48v1m1-35v1m1 14v1m1-19v1m0 1v1m0 30v1m1-2v1m1-36v1m0 9v1m1-3v1m0 16v2m1-21v1m0 25v1m0 17v3m1-49v1m0 15v1m0 2v1m0 23v1m0 3v1m1-50v1m0 42v1m1-46v1m0 48v1m1-52v1m2-6v1m0 16v1m0 26v1m1-48v1m0 31v1m0 1v1m0 10v1m1-48v1m0 34v1m1-30v1m0 22v1m1-14v2m0 9v1m0 14v1m1-18v1m0 14v1m0 4v1m1-23v1m0 14v1m0 3v1m0 21v2m1-45v1m0 14v1m0 23v1m0 3v1m2-3v1m1-47v1m0 3v1m1-7v1m0 3v1m1-3v1"/>
<path stroke="#4852f4" d="m0 57v1m1-3v1m1-40v1m0 12v1m1-16v1m0 12v1m1-16v1m0 12v1m0 4v1m0 19v1m0 6v1m1-48v1m0 17v1m0 10v1m0 1v1m1-34v1m0 13v1m0 3v1m0 20v1m1-42v1m0 4v1m0 12v1m0 9v1m1-31v1m0 14v1m0 16v1m1-35v1m0 16v1m0 22v1m0 20v5m1-68v1m0 9v2m0 48v1m1-51v1m0 15v1m0 31v1m1-51v1m0 47v1m0 7v1m1-25v1m0 13v1m1-34v1m0 30v2m1-51v1m1-3v1m0 45v1m1-32v1m0 1v1m0 25v2m0 4v1m1-36v2m0 25v1m0 1v1m0 4v1m1-8v1m0 5v1m0 18v3m1-49v1m0 15v1m0 9v2m0 15v1m0 3v1m1-50v1m1 46v1m2-55v1m1-3v1m1-4v1m0 7v1m0 9v1m0 13v1m0 1v1m1-29v1m0 22v1m0 3v1m0 9v1m0 7v1m1-57v1m0 31v1m0 13v1m0 7v1m1-57v1m1 18v1m1 28v1m0 20v2m1-45v1m0 4v1m0 33v1m0 3v1m1-46v1m0 4v1m0 13v1m1-8v1m0 4v1m0 18v1m0 6v1m1-34v1m0 4v1m0 18v1m1-27v1m1-16v1m0 12v1m0 31v1m1-48v1m0 12v1m1-16v1m0 37v1m1-41v1m1-3v1m0 28v1m0 9v1m1-42v1m0 4v1m0 8v1m1-17v1m1-3v1m0 5v1m0 11v1m0 9v1m0 11v1m1-43v1m0 6v1m0 9v1m0 10v1m0 32v3m0 1v2m1-59v2m0 16v1m0 31v1m0 6v1m1-58v1m0 47v1m1-3v1m1-3v2m1-51v1m0 46v3m1-2v1m1-36v1m0 10v1m0 17v1m1-21v1m0 17v2m1-32v2m0 8v1m0 16v1m0 1v1m1-22v1m0 43v4m1-50v1m0 15v1m0 10v1m0 15v1m0 4v1m1-51v1m0 42v1m1-46v1m0 5v1m1-3v1m0 43v1m1-54v1m0 6v1m1-10v1m0 16v1m1-21v1m0 21v1m0 9v1m0 12v1m1-26v1m0 22v1m1-49v1m0 19v1m0 2v1m0 8v1m1-3v1m0 21v1m1-47v1m0 21v1m1-3v1m0 19v1m0 19v3m1-45v1m0 38v1m0 4v1m4-52v1m0 44v1m1-48v1m1-3v1m0 37v1m2-12v1m1-29v1m0 8v1m0 24v1m1-37v1m1 7v1m0 24v1m1-43v1m0 5v1m0 9v1m0 1v1m1-21v1m0 6v2m0 52v2m0 3v1m1-58v1m0 34v1m0 13v2m1-52v1m0 28v1m0 18v1m0 7v1m1-30v1m0 18v1m1-50v1m0 15v1m0 11v1m0 18v2m1-23v1m0 18v3m0 6v1m1-42v1m0 10v1m0 21v1m0 5v1m1-31v1m0 17v2m0 3v1m1-36v1m0 27v2m1-31v1m0 25v1m0 10v1m0 16v1m1-42v1m0 21v1m0 15v1m0 2v1m1-50v1m0 5v1m0 20v1m0 15v1m0 4v1m1-51v1m0 15v1m0 26v1m0 5v1m1-52v1m0 19v1m0 22v1m0 6v1m1-53v1m1 13v1m0 26v1m1-47v1m0 31v1m0 11v1m1-48v1m0 31v1m0 2v1m0 9v1m1-48v1m1 33v1m1-30v1m0 10v1m0 1v1m0 23v1m1-28v1m0 24v1m1-3v1m0 4v1m0 19v4m1-31v1m0 28v1m1-8v1m0 5v1m2-49v1m0 44v1m1-48v1m1 35v1m2-38v1m1-3v1m0 8v1m0 16v1m0 7v1m1-10v1m1-6v1m1-26v1m0 33v1m1-27v1m0 29v1m0 16v3m1-60v3m0 30v1m0 4v1m0 14v2m0 4v1m1-58v1m0 28v1m0 19v1m0 6v1m1-30v1m0 18v1m1-50v1m0 15v1m0 3v1m0 7v1m0 18v2m1-31v1m0 26v2m0 7v1m1-39v1m0 28v1m1-35v1m0 2v1m0 13v1m0 12v1m1-30v1m0 25v2m1-32v1m0 27v2m0 4v1m1-36v1m0 25v1m0 7v1m0 19v2m1-23v1m0 1v1m0 15v1m0 2v1m1-30v1m1-7v1m0 26v1m1-46v1m0 15v1m0 26v1m0 6v1m1-53v1m0 15v1m0 26v1m1-3v1m1-47v1m0 31v2m1-5v1m1-35v1m0 18v1m1-13v1m0 36v1m1-3v1m1-28v2m0 23v1m1-3v1m0 24v2m0 1v1m1-31v1m1-39v1m0 35v1m0 23v1m1-41v1m0 44v1m1-48v1m1 2v1m0 32v1m1-36v1m0 32v1m1-40v1m0 3v1m1-7v1m0 12v1m1-16v1m0 12v1m0 16v1m1-33v1m0 44v1m1-48v1m0 13v1m0 13v1m0 10v1m0 5v1m1-48v1m0 4v1m0 39v1m1-42v1m0 9v1m0 15v1m0 29v4m1-61v4m0 21v1m0 7v1m0 19v2m0 4v1m1-58v1m0 28v1m0 19v1m0 6v1m1-58v1m0 15v1m0 31v1m1-3v1m0 7v1m1-25v1m0 13v2m1-35v1m0 32v1m1-6v1m1-32v1m0 1v1m0 26v1m1-30v1m0 25v2m1-31v1m0 53v3m1-33v1m0 2v1m0 7v1m0 15v1m0 3v1m1-2v1m1-2v1m2-55v1m0 50v1m1-54v1m1-4v1m0 31v2m1-18v1m0 12v1m1-35v1m0 8v1m0 22v1m0 13v1m1-29v1m0 25v1m1-3v1m1-27v1m0 50v1m1-5v2m0 2v1m1-68v1m0 35v1m0 4v1m0 24v1m1-47v1m0 13v1m0 23v1m1-36v1m0 8v1m0 23v1m1-27v1m0 23v1m1-27v1m0 4v1m0 18v1m1-40v1m0 12v1m0 4v1"/>
<path stroke="#4758f8" d="m0 19v1m0 18v1m1-22v1m0 18v1m1-22v1m0 18v1m0 18v1m0 7v1m1-30v1m0 26v1m1-18v2m1-21v1m0 24v1m1-36v1m0 7v1m0 14v1m1-17v1m0 17v1m0 6v1m1-43v1m0 6v1m0 7v1m0 3v1m0 41v6m1-61v5m0 3v2m0 42v2m0 5v1m1-57v1m0 27v1m0 18v1m0 7v1m1-30v1m0 18v1m0 8v1m1-43v1m0 11v1m0 5v1m0 12v1m1-49v1m0 45v1m1-49v1m0 45v1m1-33v1m0 28v5m1-7v1m0 1v1m0 2v1m1-6v1m1-33v1m0 26v1m0 26v4m1-59v2m0 24v1m0 26v1m0 3v1m1-60v2m0 56v1m1-52v1m0 27v1m0 14v1m0 6v1m1-53v1m0 42v1m1-46v1m0 6v1m0 35v1m0 7v1m1-47v1m0 35v1m1-47v1m0 7v1m0 22v3m0 10v1m1-48v1m0 31v1m0 21v1m1-57v1m0 18v1m1-23v1m1 18v1m0 25v1m0 7v1m1-20v1m0 8v1m0 25v2m1-66v1m0 11v1m0 14v1m0 8v1m0 24v2m0 2v1m1-32v1m0 29v1m1-33v1m0 23v1m0 6v1m1-48v1m1-3v1m1-3v1m0 37v1m1-3v1m2-29v1m1-3v1m0 16v2m0 6v1m1-36v1m1 20v1m0 3v1m0 6v1m1-28v1m0 13v1m0 10v1m1-27v1m0 44v6m1-60v4m0 4v1m0 23v1m0 19v1m0 6v1m1-58v1m0 27v1m0 18v1m1-34v1m0 17v1m0 12v1m0 8v1m1-58v1m0 45v1m1-49v1m0 45v1m1-33v1m0 29v1m1-33v1m0 29v4m0 6v1m1-14v1m0 1v1m0 2v1m0 5v1m1-42v1m0 27v1m0 5v1m0 4v1m1-7v1m0 3v1m0 14v4m1-59v2m0 24v1m0 8v1m0 2v1m0 14v1m1-55v1m0 14v1m0 19v1m0 1v1m1-25v1m0 20v1m0 21v1m1-53v1m0 50v1m1-54v1m0 20v1m1-3v1m1-25v1m0 21v1m0 8v4m0 18v1m1-38v1m0 12v1m0 3v1m1-39v1m0 31v1m1 11v1m1-26v1m0 13v1m0 8v1m1-28v1m0 24v1m0 25v3m1-55v1m0 23v1m0 24v1m0 3v1m1-32v1m1-17v1m0 13v1m0 23v1m0 6v1m1-48v1m0 13v1m0 23v1m1-27v1m0 23v1m0 7v1m1-35v1m0 23v1m1-27v1m1-3v1m1-16v1m0 12v1m0 24v1m1-41v1m0 4v1m0 24v1m1-33v1m0 28v1m0 2v1m1-35v1m0 13v1m0 24v1m1-42v1m0 5v1m0 7v1m0 13v1m1-24v1m0 7v1m0 12v1m0 11v1m0 19v7m1-60v4m0 3v2m0 10v1m0 11v1m0 5v1m0 13v1m0 6v1m1-58v1m0 15v1m0 39v1m1-58v1m0 45v1m1-49v1m0 45v1m1-3v1m0 9v1m1-43v1m0 3v1m0 25v1m1-29v1m0 25v4m1-35v1m0 2v1m0 13v1m0 10v1m1-31v1m0 10v1m0 5v1m0 10v1m0 26v2m1-58v1m0 9v1m0 5v1m0 37v1m0 1v2m1-60v2m0 8v1m0 15v1m0 8v1m0 17v1m0 4v1m1-60v1m0 24v1m0 3v1m0 5v1m0 1v1m0 20v1m1-32v1m2-26v1m1-3v1m0 51v1m1-56v1m0 17v1m0 13v1m0 1v1m1-6v1m1-35v1m0 31v1m0 13v1m1-49v1m0 9v1m0 9v1m0 11v1m0 13v1m1-17v1m0 13v1m1-28v1m0 1v1m0 8v1m0 21v1m0 17v4m1-56v1m0 9v1m0 38v1m0 4v1m1-47v1m0 19v1m0 18v1m0 5v1m2-36v1m0 23v1m0 7v1m1-35v1m1-3v1m1-16v1m0 4v1m1-8v1m0 4v1m0 32v1m1-41v1m1-3v1m0 29v1m0 1v1m1-35v1m0 13v1m0 14v1m0 9v1m1-42v1m0 13v1m1-17v1m0 14v1m0 30v1m0 14v4m1-67v1m0 6v1m0 7v1m0 24v1m0 19v3m0 3v1m1-58v2m0 4v2m0 41v1m1-50v1m0 19v1m0 26v1m1-50v1m0 19v1m1 33v1m1-43v1m0 11v1m0 17v1m1-21v1m0 5v1m0 11v3m1-23v1m0 17v1m0 1v1m0 1v1m1-36v1m0 10v1m0 19v1m0 2v1m1-34v1m0 7v1m0 16v1m0 2v1m0 23v3m1-59v1m0 1v1m0 7v1m0 19v1m0 23v1m0 2v1m1-59v1m0 8v1m0 19v1m0 22v1m0 4v1m1-60v1m0 8v1m0 15v1m0 10v2m0 14v1m0 5v1m1-52v1m0 49v1m2-56v1m0 51v1m1-55v1m0 16v1m1-21v1m0 31v1m0 12v1m1-48v1m0 44v1m1-49v1m0 9v1m0 21v1m0 4v1m0 8v1m1-17v1m1-14v1m0 10v1m1 19v1m0 17v4m1-7v1m0 4v1m1-68v1m0 40v1m0 18v1m0 5v1m3-46v1m1-8v1m1-3v1m1-3v1m0 37v1m1-41v1m0 30v1m0 14v1m1-49v1m0 29v1m0 1v1m0 6v1m0 6v1m1-49v1m0 13v1m0 4v1m0 9v1m1-32v1m0 5v1m0 7v1m0 4v1m1-22v1m0 14v1m0 17v1m0 6v1m0 20v5m1-68v1m0 15v1m0 43v3m0 4v1m1-58v1m0 4v2m0 41v1m0 7v1m1-58v1m0 46v1m1-22v1m0 18v1m0 8v1m1-43v1m0 11v1m0 5v1m0 12v1m1-49v1m0 26v1m0 18v1m1-49v1m0 44v4m1-51v1m0 15v1m0 28v1m0 1v1m0 1v1m1-7v1m0 1v1m0 2v1m1-36v1m0 26v1m0 2v1m0 3v1m0 19v4m1-60v1m0 1v1m0 24v1m0 2v1m0 4v1m0 18v1m0 3v1m1-60v2m0 7v1m0 25v1m0 16v1m0 5v1m1-52v1m0 26v2m0 14v1m1-46v1m0 15v1m0 26v1m1-46v1m0 15v1m0 26v1m1-30v1m0 26v1m1-47v1m0 43v1m1-39v1m0 22v1m0 2v1m0 9v1m1-48v1m0 8v1m1-13v1m0 19v1m0 34v1m1-3v1m1-37v1m0 52v1m1-55v1m0 24v1m0 6v1m0 17v2m0 1v2m1-68v1m0 35v1m0 29v1m1-42v1m0 32v1m1-36v1m0 13v1m0 25v1m1-48v1m0 18v1m1-22v1m0 18v1m1-22v1m1-3v1m0 37v1m0 7v1"/>
<path stroke="#465efb" d="m1 63v1m2-51v1m0 30v1m0 6v1m1-41v1m0 29v1m1-33v1m0 5v1m0 22v1m1-32v1m0 32v1m0 5v1m0 21v2m1-65v1m0 6v1m0 5v2m0 45v7m1-61v1m0 1v5m0 25v1m0 19v1m0 6v1m1-70v1m0 12v3m0 24v1m0 27v1m1-57v1m0 2v2m1-7v1m0 32v1m1-36v1m0 44v1m1-33v1m0 11v1m0 17v1m1-21v1m0 17v1m1-21v1m1-14v1m0 27v1m0 3v2m0 22v2m1-60v1m0 10v1m0 16v1m0 11v1m0 14v4m1-50v1m0 28v1m0 13v1m0 4v1m1-61v1m0 9v1m0 24v1m0 3v1m0 13v1m0 5v1m1-52v1m0 15v1m0 9v1m0 2v1m0 13v1m0 6v1m1-62v2m0 23v1m0 10v1m0 1v1m1-40v1m0 14v1m0 8v1m0 11v2m0 21v1m1-55v1m0 16v1m0 12v1m1-33v1m0 16v1m0 12v3m1-36v1m0 30v1m0 3v1m0 18v1m1-26v1m0 4v1m0 8v1m1-49v1m0 23v1m0 7v1m0 13v1m1-25v1m0 21v1m1-25v1m0 48v3m1-67v1m0 43v1m0 16v1m0 2v2m1-57v1m0 31v1m0 16v1m0 5v1m1-57v1m0 29v1m0 17v1m0 6v1m3-6v1m1-3v1m1-49v1m1-3v1m0 37v1m1-41v1m0 30v2m1-35v1m0 5v1m0 23v1m1-33v1m0 13v1m0 14v1m0 3v1m0 5v1m1-42v1m0 13v1m0 46v3m1-66v1m0 6v1m0 6v1m0 45v7m1-69v1m0 7v8m0 24v1m0 19v1m0 6v2m1-71v1m0 12v4m0 2v1m0 27v1m0 12v1m1-49v1m0 2v2m0 28v1m0 21v1m1-58v1m0 26v1m1-15v1m0 11v1m1 15v1m1-3v1m0 10v1m1-14v1m1-32v1m0 31v2m0 21v3m1-32v1m0 3v1m0 22v5m1-61v1m0 26v1m0 30v1m1-61v1m0 9v1m0 6v1m0 35v1m0 5v1m1-61v1m0 8v1m0 25v1m0 16v1m0 6v1m1-62v2m0 7v1m0 20v1m0 5v1m0 1v1m0 13v1m1-54v1m0 23v1m0 4v1m0 6v2m0 13v1m1-47v1m0 29v2m0 12v1m1-47v1m0 30v3m0 10v1m0 8v1m1-57v1m0 44v1m1-48v1m0 44v1m1-49v1m0 19v1m1-23v1m0 37v1m1-30v1m0 9v1m0 51v3m1-54v1m0 30v1m0 16v1m0 3v2m1-58v1m0 31v1m0 16v1m0 5v1m1-57v1m0 29v1m0 17v1m0 6v1m2-4v1m1-49v1m1-3v1m1-3v1m0 37v1m1-41v1m0 5v1m1-9v1m0 5v1m0 24v2m1-35v1m0 13v1m0 15v1m0 2v1m0 5v1m1-42v1m0 13v1m1-17v1m0 6v1m0 6v1m0 14v1m0 31v4m1-67v1m0 13v1m0 25v1m0 19v8m1-70v1m0 8v7m0 31v1m0 12v1m0 7v1m1-57v3m0 2v1m0 40v1m0 8v1m1-58v2m0 2v1m0 22v1m0 18v1m1-34v1m0 11v1m1-10v1m0 35v1m1-39v1m1 22v1m1-32v1m0 17v1m0 10v1m1 0v1m0 1v1m0 20v4m1-57v1m0 27v1m0 2v1m0 19v1m0 2v2m1-61v1m0 2v1m0 23v1m0 3v1m0 3v1m0 18v1m0 4v1m1-59v1m0 27v1m0 28v1m1-62v1m0 1v1m0 6v1m0 42v1m1-54v1m0 7v1m0 27v2m0 13v1m0 7v1m1-62v1m0 7v1m0 28v1m0 13v1m1-17v2m0 12v1m0 8v1m1-56v1m0 30v3m0 10v1m1-16v1m0 3v1m1-39v1m0 18v1m1-23v1m0 10v1m0 26v1m2 30v4m1-32v1m0 24v1m0 4v1m1-56v1m0 22v1m0 6v1m0 23v1m1-34v1m0 23v1m1-62v1m0 20v1m0 13v1m0 5v1m0 17v1m0 7v1m1-49v1m1-3v1m0 37v1m1-41v1m0 5v1m0 31v1m1-41v1m0 13v1m1-3v1m1-3v1m0 16v2m0 6v1m1-28v1m0 15v1m1-19v1m0 32v1m1-43v1m0 6v1m0 14v1m0 10v1m0 6v1m0 13v5m1-60v1m0 5v2m0 13v1m0 30v2m0 4v2m1-61v7m0 13v1m0 4v1m0 25v1m0 7v1m1-57v4m0 11v1m0 4v1m0 6v1m0 18v1m0 8v1m1-57v1m0 13v1m0 11v1m0 18v1m1-48v1m0 44v1m0 9v1m1-58v1m0 44v1m1-48v1m0 32v1m1-36v1m0 14v1m1-18v1m0 43v1m0 3v1m0 23v1m1-31v1m0 26v3m1-60v1m0 53v1m0 3v1m1-34v1m0 7v1m0 18v1m0 4v1m1-61v1m0 1v1m0 23v1m0 8v1m0 23v1m1-62v1m0 1v1m0 33v1m1-38v2m0 6v1m0 27v2m1-32v1m0 28v2m1-3v1m1-34v1m0 30v4m1-19v1m0 12v1m0 3v1m1-39v1m0 9v1m0 21v1m1-36v1m1 18v1m0 25v1m0 26v2m1-31v1m0 25v5m1-58v1m0 10v1m0 13v1m0 24v1m0 4v1m1-68v1m0 10v2m0 8v1m0 13v1m0 6v1m0 23v1m1-48v1m0 13v1m0 23v1m0 7v1m1-49v1m0 13v1m0 5v1m0 17v1m0 7v1m1-49v1m0 5v1m0 7v1m0 5v1m0 17v1m1-27v1m0 5v1m0 17v1m1-27v1m0 5v1m1-9v1m0 5v1m1-9v1m0 5v1m0 26v1m1-30v1m0 10v1m0 1v1m0 5v1m1-22v1m0 9v1m1-26v1m0 32v1m1-29v1m0 19v1m0 26v6m1-61v1m0 4v3m0 4v1m0 40v1m0 5v2m1-62v8m0 24v1m0 27v1m1-58v4m0 23v1m0 18v1m1-48v1m0 44v1m0 9v1m1-58v1m0 32v1m0 11v1m1-48v1m0 44v1m1-33v1m0 29v1m1-21v1m1-3v1m0 16v1m0 3v1m0 22v3m1-60v1m0 10v1m0 16v1m0 26v4m1-61v1m0 10v1m0 42v1m0 4v1m1-51v1m0 42v1m0 5v1m1-62v1m0 25v1m1-28v2m0 23v1m0 9v1m0 2v1m0 20v1m1-62v2m0 34v3m1-33v1m0 28v2m0 21v1m1-55v1m0 7v1m0 21v2m1-35v1m0 8v1m0 8v1m0 12v4m1-37v1m0 30v1m1-35v1m0 31v1m0 4v1m0 8v1m0 8v1m1-26v1m0 13v1m1-17v1m0 13v1m0 26v3m1-46v1m0 13v1m0 8v1m0 16v2m0 1v2m1-68v1m0 20v1m0 5v1m0 7v1m0 24v1m0 5v1m1-58v2m0 14v1m0 14v1m0 17v1m1 4v1m4-8v1"/>
<path stroke="#4563fd" d="m0 18v1m0 13v1m0 23v1m0 8v1m1-50v1m0 13v1m0 23v1m1-41v1m0 13v1m1-17v1m0 13v1m0 16v1m0 1v1m1-36v1m0 6v1m0 6v1m0 15v1m0 8v1m0 20v4m1-66v1m0 13v1m0 19v1m0 25v6m1-68v1m0 13v1m0 45v2m0 2v4m1-70v1m0 11v2m0 15v1m0 10v1m0 19v1m0 7v2m1-72v1m0 9v1m0 18v1m0 30v1m0 8v1m1-72v1m0 19v1m0 8v1m0 30v1m0 9v1m1-57v2m0 23v1m0 6v1m0 11v1m0 9v1m1-57v1m0 43v1m1-47v1m2 9v1m0 28v1m0 26v2m1-60v1m0 28v1m0 11v1m0 13v5m1-50v1m0 28v1m0 13v2m0 2v2m1-30v1m0 1v1m0 19v1m0 4v2m1-63v1m0 26v1m0 4v1m0 2v1m0 24v1m1-59v1m0 22v1m0 33v1m1-63v1m0 2v1m1-6v1m0 2v1m0 5v1m0 7v1m0 18v1m0 24v1m1-63v1m0 1v1m0 5v1m0 27v1m0 2v1m1-42v3m0 34v1m0 1v1m1-41v2m0 4v1m0 22v1m0 6v1m0 3v1m0 19v1m1-58v1m0 18v1m0 4v1m1-27v1m0 23v1m1-28v1m0 72v3m1-78v1m0 20v1m0 11v1m0 38v6m1-68v1m0 20v1m0 5v1m0 7v1m0 24v2m0 3v2m1-59v1m0 2v1m0 7v1m0 13v1m0 24v1m0 5v1m1-48v1m0 13v1m0 23v1m0 7v1m1-59v1m0 9v1m0 13v1m0 23v1m1-41v1m0 13v1m0 23v1m1-41v1m0 13v1m0 23v1m0 8v1m1-50v1m0 13v1m0 23v1m1-41v1m0 13v1m0 23v1m1-41v1m1-3v1m0 31v1m1-28v1m0 23v1m0 7v1m0 21v2m1-51v1m0 19v1m0 26v4m1-53v1m0 45v7m1-61v1m0 5v1m0 25v1m0 19v2m0 3v4m1-62v1m0 2v3m0 45v1m0 7v2m1-24v1m0 11v1m0 9v1m1-32v1m0 18v1m0 9v1m1-57v2m0 42v1m1-47v1m0 43v1m1-47v1m0 43v1m0 10v1m1-58v1m0 13v1m0 11v1m0 28v1m1-44v1m0 11v1m0 43v3m1-56v1m0 6v1m0 16v1m0 25v5m1-57v1m0 6v1m0 16v1m0 25v1m0 3v2m1-62v1m0 3v1m0 6v1m0 6v1m0 15v1m0 19v1m0 5v1m1-59v1m0 6v1m0 6v1m0 13v1m0 2v1m0 18v1m0 5v1m1-59v1m0 22v1m0 4v1m0 3v1m0 24v1m1-63v1m0 2v1m0 22v1m0 4v1m1-31v1m0 5v1m0 16v1m0 34v1m1-63v1m0 1v1m0 5v1m0 30v1m1-41v2m0 22v1m0 11v1m0 2v1m0 20v1m1-63v2m0 4v1m0 17v1m0 12v1m0 3v1m1-43v1m0 35v1m0 4v1m1-40v1m0 31v1m1-36v1m0 32v1m0 13v1m0 25v4m1-67v1m0 20v1m0 13v1m0 25v5m1-47v1m0 13v1m0 24v2m0 3v2m1-59v1m0 24v1m0 24v1m0 6v1m1-57v1m0 21v1m0 31v1m1-35v1m0 32v1m1-70v1m0 40v1m0 16v1m0 8v1m1-70v1m0 57v1m3-38v1m1 22v2m0 5v1m1-11v1m0 2v1m0 26v3m1-5v5m1-54v1m0 15v1m0 9v1m0 20v7m1-56v1m0 46v1m0 4v3m1-62v1m0 2v3m0 33v1m0 20v1m1-31v1m0 28v1m2-58v2m0 1v1m0 50v1m1-58v1m0 18v1m0 24v1m0 10v1m1-58v1m0 13v1m0 11v1m0 17v1m1-47v1m0 13v1m0 29v1m1-47v1m0 32v1m0 36v4m1-76v1m0 68v6m1-77v1m0 14v1m0 27v1m0 4v1m0 20v1m0 4v2m1-63v1m0 27v1m0 25v1m0 5v1m1-52v1m0 42v1m0 6v1m1-63v1m0 9v1m0 42v1m1-20v1m0 24v1m1-63v1m0 1v1m0 22v1m0 10v1m0 2v1m1-42v1m0 1v1m0 5v1m0 16v1m0 11v1m0 1v1m1-41v2m0 5v1m0 16v1m0 14v1m1-41v1m0 4v1m0 30v1m0 3v1m1-43v1m0 4v1m0 30v1m0 13v1m1-49v1m0 10v1m0 20v1m0 13v1m1-50v1m0 20v1m0 25v1m0 25v5m1-33v1m0 25v6m1-59v1m0 24v1m0 24v2m0 4v2m1-10v1m0 6v1m1-59v1m0 48v1m0 7v1m1-70v1m0 10v2m0 54v1m2-31v1m1-17v1m2 27v1m1-41v1m0 30v2m1-35v1m0 29v1m0 2v1m0 26v3m1-65v1m0 38v1m0 7v1m0 12v6m1-68v1m0 6v1m0 21v1m0 30v8m1-70v1m0 12v1m0 46v1m0 5v3m1-71v1m0 8v5m0 20v1m0 5v1m0 27v2m1-72v1m0 68v1m1-2v1m1-57v4m0 50v1m1-44v1m0 11v1m1-15v1m0 18v1m0 10v1m1-3v1m0 26v2m1-31v1m0 25v4m1-61v1m0 54v2m0 1v2m1-62v1m0 27v1m0 4v2m0 19v2m0 3v2m1-35v1m0 6v1m0 18v1m0 5v2m1-63v1m0 52v1m0 6v1m1-63v1m0 9v1m0 29v1m0 12v1m0 7v1m1-54v1m0 29v1m0 12v1m0 7v1m1-63v1m0 35v1m0 2v1m0 12v1m1-54v2m0 5v1m0 28v1m0 14v1m0 8v1m1-63v2m0 5v1m0 29v1m0 1v2m0 10v1m1-53v1m0 4v1m0 9v1m0 20v1m0 13v1m1-48v1m0 9v1m0 34v1m1-49v1m0 19v1m0 17v1m0 7v1m0 9v1m0 16v3m1-22v1m0 15v5m1-23v1m0 15v2m0 2v2m1-59v1m0 49v2m0 5v1m1-69v1m0 58v1m0 6v1m1-26v1m0 15v1m0 7v1m1-59v2m1 12v1m2-11v1m1-3v1m0 37v1m0 8v1m1-50v1m0 37v1m0 8v1m1-50v1m0 30v3m1-36v1m0 13v1m0 45v4m1-66v1m0 6v1m0 6v1m0 24v1m0 20v6m1-68v1m0 13v1m0 19v1m0 25v8m1-70v1m0 7v1m0 4v1m0 15v1m0 10v1m0 19v1m0 6v2m1-71v1m0 8v4m0 16v1m0 10v1m0 19v1m0 8v1m1-52v1m0 8v1m0 30v1m0 9v1m1-44v1m0 40v1m1-57v4m0 9v1m0 11v1m0 6v1m1-35v1m2 38v1m0 26v2m1-60v1m0 28v1m0 25v5m1-62v1m0 54v1m0 3v2m1-30v2m0 20v1m0 4v1m1-35v1m0 4v1m0 1v1m0 5v1m0 12v1m0 6v1m1-63v1m0 26v1m0 7v1m0 4v1m0 12v1m1-20v1m0 3v1m0 12v1m0 7v1m1-63v1m0 8v1m0 42v1m1-55v1m0 8v1m0 42v1m0 8v1m1-63v2m0 14v1m0 19v1m0 2v1m0 11v1m1-53v1m0 5v1m0 29v1m0 2v1m0 10v1m1-53v1m0 35v1m0 4v1m1-39v1m0 18v1m0 35v1m1-59v1m0 72v4m1-7v6m1-59v1m0 50v2m0 3v2m1-69v1m0 26v1m0 32v1m0 5v1m1-59v1m0 48v1m0 7v1m1-49v1m0 13v1m0 7v1m0 15v1m0 7v1m1-58v1m0 8v1m0 13v1m0 6v1m0 16v1m1-41v1m0 13v1m0 23v1m1-41v1m0 13v1m0 23v1m0 8v1m1-50v1m0 13v1m0 23v1m0 8v1m1-50v1m0 13v1m0 23v1m1-41v1m0 13v1"/>
<path stroke="#4269fe" d="m0 77v11m1-13v13m1-43v3m0 4v1m0 20v13m1-67v1m0 22v1m0 28v14m1-41v1m0 24v1m0 4v9m1-62v1m0 15v1m0 9v1m0 19v1m0 6v7m1-67v1m0 3v2m0 15v1m0 29v1m0 8v4m0 13v2m1-80v3m0 58v2m0 12v5m1-51v1m0 29v2m0 12v6m1-44v1m0 22v1m0 12v7m1-73v1m0 8v1m0 41v1m0 12v7m1-76v3m0 9v1m0 11v1m0 29v1m0 12v8m1-65v1m0 29v1m0 11v1m0 12v8m1-78v1m0 42v1m0 11v1m0 12v8m1-78v1m0 54v1m0 12v2m0 2v5m1-11v1m0 5v3m1-65v1m0 4v1m0 22v1m0 25v1m0 6v2m1-60v1m0 22v1m0 5v1m0 19v1m0 7v1m1-60v1m0 48v1m0 7v1m1-64v1m0 9v1m0 21v1m0 20v1m0 8v1m1-65v1m0 9v1m0 7v1m0 13v1m0 3v1m0 16v1m0 8v1m0 16v5m1-54v1m0 8v1m0 11v1m0 24v7m1-86v1m0 7v1m0 22v1m0 20v1m0 24v8m1-79v1m0 22v1m0 5v1m0 3v1m0 10v1m0 9v1m0 14v9m1-87v1m0 2v1m0 2v1m0 35v1m0 8v1m0 24v9m1-86v5m0 31v1m0 5v1m0 7v1m0 24v9m1-86v5m0 19v1m0 25v1m0 24v10m1-85v2m0 46v1m0 24v2m0 3v5m1-71v1m0 26v1m0 6v1m0 24v1m0 6v3m1-62v1m0 24v1m0 24v1m0 7v2m1-12v1m0 7v2m0 11v2m1-74v1m0 2v1m0 30v1m0 23v1m0 11v4m1-73v1m0 29v1m0 24v1m0 11v5m1-76v2m0 29v1m0 25v1m0 11v6m1-87v1m0 78v7m1-9v10m1-12v12m1-59v1m0 23v1m0 20v13m1-67v1m0 6v1m0 16v1m0 1v1m0 25v14m1-75v1m0 13v1m0 19v1m0 24v2m0 2v10m1-75v1m0 29v1m0 8v1m0 19v2m0 4v8m1-75v1m0 12v1m0 45v1m0 7v6m1-75v1m0 11v2m0 15v1m0 39v4m0 12v3m1-90v1m0 9v2m0 17v1m0 10v1m0 29v2m0 12v5m1-91v1m0 28v1m0 41v1m0 12v6m1-63v1m0 41v1m0 12v7m1-73v1m0 8v1m0 11v1m0 29v1m0 12v8m1-77v3m0 51v1m0 12v8m1-10v8m1-59v1m0 23v1m0 24v9m1-79v1m0 18v1m0 23v1m0 24v2m0 3v4m1-79v1m0 13v1m0 18v1m0 34v1m0 5v3m1-79v1m0 13v1m0 18v1m0 34v1m0 6v2m1-37v1m0 5v1m0 19v1m0 7v2m1-65v1m0 26v1m0 25v1m0 7v2m1-65v1m0 52v1m0 8v1m0 17v3m1-75v1m0 42v1m0 8v1m0 16v6m1-86v1m0 35v1m0 3v1m0 11v1m0 24v8m1-79v1m0 28v1m0 14v1m0 9v1m0 14v9m1-87v1m0 2v1m0 3v1m0 33v1m0 9v1m0 24v9m1-87v1m0 2v1m0 2v1m0 30v1m0 38v10m1-87v1m0 1v4m0 18v1m0 50v10m1-86v4m0 70v10m1-84v1m0 12v1m0 26v1m0 31v2m0 4v4m1-62v1m0 49v2m0 5v3m1-12v1m0 7v2m1-50v1m0 37v1m0 8v1m0 11v3m1-64v1m0 22v1m0 14v1m0 8v1m0 11v4m1-85v1m0 9v1m0 1v1m0 7v1m0 21v1m0 15v1m0 20v6m1-76v2m0 7v1m0 13v1m0 44v7m1-68v1m0 13v1m0 6v1m0 37v8m1-69v1m0 13v1m0 23v1m0 20v11m1-72v1m0 13v1m0 23v1m0 20v13m1-74v1m0 13v1m0 44v14m1-75v1m0 13v1m0 16v1m0 27v14m1-75v1m0 13v1m0 24v1m0 19v2m0 3v9m1-75v1m0 13v1m0 15v1m0 28v2m0 5v7m1-75v1m0 7v1m0 39v1m0 11v1m0 7v5m1-75v1m0 11v2m0 26v1m0 7v1m0 11v1m0 8v4m0 12v4m1-91v1m0 9v2m0 48v1m0 9v3m0 11v6m1-92v1m0 34v1m0 24v1m0 10v1m0 12v7m1-58v1m0 5v1m0 18v1m0 10v1m0 12v8m1-59v1m0 24v1m0 23v8m1-77v3m0 64v8m1-77v1m0 31v1m0 34v9m1-53v1m0 6v1m0 34v9m1-65v1m0 11v1m0 16v1m0 24v2m0 4v3m1-53v1m0 16v1m0 24v1m0 6v2m1-53v1m0 41v1m0 7v2m1-54v1m0 21v2m0 18v1m0 7v2m1-65v1m0 26v1m0 7v1m0 17v1m0 8v1m1-38v1m0 8v1m0 25v1m0 17v4m1-85v1m0 8v1m0 16v1m0 13v1m0 37v6m1-86v1m0 8v1m0 52v1m0 15v7m1-83v1m0 32v1m0 3v1m0 20v1m0 14v9m1-87v1m0 2v1m0 3v1m0 29v1m0 3v1m0 34v10m1-87v1m0 1v1m0 2v1m0 18v1m0 11v1m0 38v10m1-87v1m0 1v4m0 10v1m0 58v10m1-85v3m0 38v1m0 31v10m1-50v1m0 37v2m0 5v3m1-62v1m0 11v1m0 37v2m0 6v2m1-50v1m0 37v1m0 8v1m1-61v1m0 24v1m0 23v1m0 8v1m0 11v4m1-85v1m0 33v1m0 8v1m0 14v1m0 20v5m1-76v1m0 23v1m0 7v1m0 15v1m0 20v6m1-76v2m0 7v1m0 13v1m0 23v1m0 20v7m1-68v1m0 37v1m0 20v9m1-70v1m0 20v1m0 16v1m0 20v12m1-73v1m0 20v1m0 37v13m1-74v1m0 20v1m0 11v1m0 14v1m0 10v14m1-75v1m0 20v1m0 12v1m0 4v1m0 8v1m0 10v14m1-75v1m0 20v1m0 17v1m0 8v1m0 11v1m0 3v9m1-75v1m0 7v1m0 5v1m0 6v1m0 8v1m0 29v1m0 6v6m1-75v1m0 13v1m0 6v1m0 18v1m0 19v1m0 8v4m0 12v3m1-81v1m0 2v2m0 7v1m0 13v1m0 4v1m0 19v1m0 9v3m0 12v5m1-71v1m0 38v1m0 10v2m0 11v7m1-72v1m0 19v1m0 18v1m0 10v2m0 11v7m1-33v1m0 23v8m1-34v1m0 23v8m1-77v3m0 29v1m0 10v1m0 23v9m1-78v1m0 24v1m0 41v9m1-65v1m0 53v3m0 2v4m1-36v1m0 24v2m0 4v3m1-36v1m0 24v2m0 5v3m1-4v2m1-65v1m0 10v1m0 21v2m0 27v1m1-54v1m0 21v1m0 7v1m0 20v1m1-38v1m0 8v1m0 43v5m1-86v1m0 3v1m0 21v1m0 9v1m0 25v1m0 15v7m1-83v1m0 4v1m0 16v1m0 35v1m0 15v8m1-87v1m0 2v1m0 21v1m0 14v1m0 35v9m1-84v1m0 3v1m0 9v1m0 7v1m0 11v1m0 4v1m0 33v10m1-87v1m0 1v2m0 1v1m0 36v1m0 32v10m1-86v5m0 31v1m0 23v1m0 13v10m1-84v2m0 32v1m0 37v3m0 3v4m1-62v1m0 11v1m0 13v1m0 23v2m0 5v4m1-37v1m0 23v2m0 6v3m1-71v1m0 33v1m0 9v1m0 13v1m0 8v2m0 11v2m1-50v1m0 23v1m0 8v2m0 10v4m1-75v1m0 16v1m0 6v1m0 23v1m0 9v1m0 10v6m1-60v1m0 14v1m0 15v1m0 9v1m0 10v7m1-77v2m0 45v1m0 9v1m0 10v8m1-21v1m0 10v10m1-23v1m0 10v13m1-15v14m1-42v1m0 25v14m1-36v1m0 20v14m1-68v1m0 22v1m0 28v1m0 4v9m1-62v1m0 15v1m0 4v1m0 24v1m0 6v7m1-62v1m0 15v1m0 9v1m0 19v1m0 8v4m0 12v4m1-79v2m0 46v1m0 9v3m0 12v5m1-32v1m0 10v2m0 12v6m1-52v1m0 18v1m0 11v1m0 11v8m1-73v1m0 27v1m0 22v1m0 11v8m1-34v1m0 11v1m0 11v9m1-77v2m0 10v1m0 11v1m0 17v1m0 23v9m1-78v1m0 12v1m0 29v1m0 23v9m1-10v2m0 2v5m1-24v1m0 12v1m0 5v3m1-37v1m0 12v1m0 12v1m0 6v2m1-65v1m0 27v1m0 12v1m0 12v1m0 6v2m1-31v1m0 27v1m1-60v1m0 5v1m0 21v1m0 28v2m0 17v3m1-85v1m0 3v1m0 5v1m0 21v1m0 29v1m0 16v5m1-82v1m0 57v1m0 15v8m1-84v1m0 4v1m0 8v1m0 18v1m0 3v1m0 36v8m1-87v1m0 2v1m0 4v1m0 68v9m1-87v1m0 1v1m0 3v1m0 34v1m0 19v1m0 14v9m1-87v1m0 1v2m0 2v1m0 44v1m0 9v1m0 14v9m1-85v4m0 31v1m0 5v1m0 7v1m0 24v10m1-84v1m0 20v1m0 4v1m0 20v1m0 24v2m0 4v4m1-58v1m0 20v1m0 24v1m0 6v3m1-71v1m0 12v1m0 13v1m0 6v1m0 24v1m0 7v2m1-62v1m0 3v1m0 20v1m0 24v1m0 7v2m0 11v3m1-72v1m0 20v1m0 9v1m0 23v1m0 10v5m1-76v1m0 57v1m0 10v6m1-76v1m0 56v1m0 10v7m1-76v1m0 55v1m0 10v9m1-11v12m1-13v12m1-14v13m1-42v2m0 4v1m0 20v14"/>
<path stroke="#3875fe" d="m0 31v1m0 41v2m1-46v1m0 17v1m0 5v1m0 18v1m1-61v1m0 8v1m0 5v1m0 16v1m0 3v1m0 22v1m1-47v1m0 15v1m0 27v1m1-22v1m1-30v1m0 46v1m1-51v1m0 47v1m1-22v1m2 31v3m1-40v1m0 32v7m1-10v1m0 5v3m1-3v2m1-67v1m0 23v1m0 16v1m0 22v1m1-49v1m0 5v1m0 39v1m1-55v1m0 19v1m0 32v1m1-56v1m0 11v1m0 7v1m0 7v1m0 24v1m1-44v1m0 7v1m0 7v1m1-3v1m1-30v1m0 26v1m0 6v2m0 17v1m0 12v1m1-69v1m0 5v1m0 3v1m0 25v1m0 5v1m0 10v1m0 11v4m1-65v1m0 2v1m0 27v1m0 15v1m0 11v1m0 2v2m1-71v1m0 5v3m0 17v1m0 42v2m1-67v2m0 18v1m0 43v2m1-73v1m0 24v1m0 18v1m0 25v1m1-73v1m0 50v1m0 19v1m1-56v1m0 32v1m0 20v2m1-25v1m0 20v2m1-50v1m0 11v1m0 12v1m0 21v2m1-3v1m1-2v1m1-59v1m0 7v1m0 47v1m0 13v2m1-74v1m0 18v1m0 23v1m0 25v5m1-67v1m0 9v1m0 13v1m0 8v1m0 26v1m0 3v2m1-67v1m0 1v1m0 6v1m0 13v1m0 34v1m0 5v2m1-67v2m0 28v1m0 15v1m0 10v1m0 6v1m1-25v1m0 3v1m0 18v1m1-28v1m0 2v1m0 2v1m0 18v1m1-29v1m0 26v1m1-47v1m0 15v1m0 8v1m0 18v1m1-52v1m0 20v1m0 8v1m1-30v1m0 46v1m1-62v1m0 39v1m0 8v1m1-52v1m1-3v1m0 35v1m1-3v1m0 4v1m0 33v5m1-46v1m0 37v7m1-47v1m0 36v1m0 6v2m1-63v1m0 20v1m0 7v1m0 30v2m1-67v1m0 11v1m0 28v1m0 22v1m1-55v1m0 28v1m0 23v1m1-56v1m0 52v1m2-46v1m0 15v1m1-30v1m0 10v1m0 15v1m0 25v1m1-56v1m0 5v1m0 20v1m0 6v1m0 7v1m0 10v1m0 12v2m1-64v1m0 3v1m0 16v1m0 37v5m1-71v1m0 7v1m0 17v1m0 37v1m0 3v2m1-66v3m0 17v1m0 10v1m0 26v1m0 4v2m1-66v1m0 36v1m0 25v2m1-73v1m0 36v1m0 32v2m1-56v1m0 52v2m1-3v2m1-50v1m0 11v1m0 34v2m1-51v1m0 47v1m1-3v2m1-59v1m0 7v1m0 47v1m1-26v1m0 22v1m0 13v3m1-66v1m0 23v1m0 9v1m0 25v5m1-57v1m0 22v1m0 26v1m0 3v2m1-67v1m0 8v1m0 37v1m0 17v1m1-67v2m0 6v1m0 7v1m0 29v1m0 18v1m1-60v1m0 21v1m0 10v2m0 14v1m0 7v1m1-60v1m0 21v1m0 9v1m0 2v1m0 13v1m0 8v1m1-61v1m0 30v1m0 17v1m0 8v1m1-61v1m0 13v1m0 21v1m0 2v1m0 9v1m1-52v1m0 29v1m0 5v1m0 22v1m1-62v1m0 9v1m0 1v2m0 8v1m0 13v1m1-39v1m0 21v1m0 17v1m1-43v1m0 21v1m1-3v1m0 18v1m0 18v1m1-41v1m0 37v1m0 14v6m1-33v1m0 9v1m0 13v8m1-54v1m0 11v1m0 17v1m0 12v1m0 7v2m1-65v2m0 8v1m0 42v1m0 8v1m1-55v1m0 28v1m0 22v2m1-68v1m0 11v1m0 28v1m0 23v1m1-3v1m1-2v1m1-56v1m0 52v1m1-56v1m0 5v1m0 4v1m0 30v1m0 10v1m1-22v1m0 1v1m0 29v3m1-61v1m0 26v1m0 27v5m1-71v1m0 41v1m0 21v1m0 3v2m1-66v3m0 28v1m0 5v1m0 20v1m0 5v1m1-72v1m0 5v1m0 11v1m0 44v1m0 6v1m1-10v1m0 7v1m1-29v1m0 17v1m0 7v2m1-49v1m0 11v1m0 33v2m1-50v1m0 46v2m1-3v2m1-59v1m0 55v1m1-51v1m0 24v1m0 10v1m0 11v1m1-26v1m0 36v4m1-67v1m0 17v1m0 15v1m0 13v1m0 11v6m1-67v1m0 16v1m0 14v1m0 14v1m0 11v1m0 4v2m1-59v1m0 37v1m0 17v2m1-67v1m0 6v1m0 56v1m1-60v1m0 32v3m0 22v1m1-61v1m0 31v1m0 25v1m1-61v1m0 30v1m0 4v1m0 2v1m1-42v1m0 8v1m0 26v1m0 22v1m1-62v1m0 13v1m0 15v1m0 28v1m1-62v1m0 9v1m0 1v2m0 16v1m0 9v1m1-43v1m0 29v1m0 29v1m1-33v1m0 29v1m1-33v1m0 10v1m0 18v1m0 17v1m1-51v1m0 19v1m0 24v6m1-61v1m0 7v1m0 11v1m0 17v1m0 13v2m0 3v3m1-54v1m0 29v1m0 20v2m1-65v2m0 8v1m0 51v2m1-13v1m0 9v1m1-68v1m0 40v1m0 13v1m0 9v1m1-68v1m0 40v1m0 13v1m0 10v1m1-56v1m0 41v1m0 10v1m1-56v1m0 5v1m0 46v1m1-45v1m0 23v1m1 28v3m1-70v1m0 8v1m0 23v1m0 2v1m0 27v6m1-66v1m0 2v1m0 23v1m0 3v1m0 26v1m0 4v2m1-72v1m0 5v2m0 44v1m0 10v1m0 5v2m1-73v1m0 5v1m0 30v1m0 6v1m0 7v1m0 17v2m1-22v1m0 18v2m1-49v1m0 11v1m0 13v1m0 19v2m1-50v1m0 25v1m0 20v2m1-58v1m0 12v1m0 19v1m0 20v2m1-45v1m0 13v1m0 5v1m0 21v2m1-51v1m0 4v1m0 19v1m0 22v1m1-26v1m0 23v1m0 13v1m1-65v1m0 3v1m0 30v1m0 12v1m0 12v4m1-63v1m0 29v1m0 13v1m0 11v2m0 2v2m1-67v1m0 2v1m0 43v1m0 11v1m0 5v1m1-67v1m0 64v1m1-45v1m0 41v1m1-60v1m0 14v1m0 17v3m0 22v1m1-61v1m0 14v1m0 16v1m0 3v1m0 2v1m0 18v1m1-61v1m0 8v1m0 21v1m0 4v1m0 22v1m1-62v1m0 58v1m1-62v1m0 13v1m0 25v1m1-32v3m0 46v1m1-3v1m1-22v1m1 6v1m0 26v3m1-7v7m1-42v1m0 31v1m0 5v3m1-63v1m0 37v1m0 21v1m1-65v2m0 38v1m0 22v1m1-3v1m1-43v1m0 40v1m1-56v1m0 5v1m0 5v1m0 15v1m0 24v1m1-56v1m0 11v1m0 15v1m0 24v1m2-23v1m0 31v1m1-69v1m0 9v1m0 8v1m0 33v1m0 11v4m1-65v1m0 35v1m0 10v1m0 11v1m0 2v2m1-66v1m0 2v1m0 27v1m0 15v1m0 15v2m1-72v1m0 5v2m0 35v1m0 8v1m0 16v2m1-21v1m0 17v2m1-48v1m0 11v1m0 6v1m0 6v1m0 18v2m1-49v1m0 25v1m0 19v2m1-57v1m0 32v1m0 20v2m1-25v1m0 21v2m1-51v1m0 11v1m0 12v1m0 22v1m1-39v1m0 12v1m0 22v2m1-40v1m0 36v1m0 13v2m1-55v1m0 23v1m0 12v1m0 12v5m1-76v1m0 18v1m0 22v1m0 13v1m0 12v1m0 3v2m1-77v1m0 11v1m0 20v1m0 34v1m0 5v2m1-68v1m0 1v1m0 20v1m0 7v1m0 26v1m0 6v1m1-2v1m1-28v3m0 3v1m0 18v1m1-52v1m0 5v1m0 16v1m0 3v1m0 2v1m0 19v1"/>
<path stroke="#327cfc" d="m0 9v1m0 6v1m0 32v4m0 1v1m0 11v1m0 5v1m1-59v1m0 31v1m0 3v1m0 20v1m1-29v1m0 5v1m0 1v1m0 18v1m1-61v1m0 36v1m0 1v1m1-42v1m0 9v1m0 3v1m0 15v1m0 6v1m0 21v1m1-62v1m0 10v2m0 17v1m0 6v1m0 2v1m1-43v1m0 29v1m1-33v1m0 29v1m0 19v1m0 9v1m1-63v1m0 29v1m0 10v1m0 18v1m1-33v1m1-3v1m1-3v1m0 29v1m0 14v5m1-60v1m0 7v1m0 20v1m0 8v1m0 13v1m0 5v2m1-64v2m0 8v1m0 6v1m0 13v1m0 29v2m1-66v1m0 31v1m0 7v1m0 22v1m1-42v1m0 15v1m0 23v1m2-57v1m0 52v1m1-56v1m0 52v1m1-49v1m0 3v1m1-4v1m1-12v1m0 6v2m0 57v2m1-26v1m0 8v1m0 11v2m0 1v2m1-71v1m0 36v1m0 6v1m0 7v1m0 11v1m0 4v1m1-20v1m0 17v1m1-54v1m0 6v1m0 11v1m0 32v1m1-48v1m0 19v1m0 25v1m1-3v1m1-2v1m1-49v1m0 11v1m0 12v1m0 21v1m1-57v1m0 18v1m0 12v1m0 22v1m1-39v1m0 12v1m0 22v1m1-50v1m0 47v1m1-3v1m0 13v3m1-19v1m0 12v1m0 2v2m1-66v1m0 7v1m0 14v1m0 22v1m0 17v1m1-65v1m0 5v1m0 8v1m0 5v1m0 7v1m0 9v2m0 1v1m0 13v1m0 6v1m1-60v1m0 14v1m0 16v1m0 4v1m0 12v1m1-53v1m0 14v1m0 15v1m0 5v1m0 1v1m0 18v1m1-61v1m0 36v1m1-40v1m0 13v1m0 22v1m0 21v1m1-62v1m0 10v2m0 24v1m0 2v1m0 9v1m1-16v1m0 22v1m1-26v1m0 3v1m0 18v1m3-25v1m1 6v1m0 23v6m1-23v1m0 13v1m0 6v1m1-64v2m0 21v1m0 38v1m1-66v1m0 23v1m0 15v1m0 23v1m1-43v1m0 15v1m0 23v1m1-55v1m0 11v1m0 15v1m0 24v1m1-56v1m0 52v1m1-49v1m0 35v1m1-35v1m0 24v1m1-38v1m0 8v1m0 24v1m0 1v1m0 16v1m1-49v2m0 28v1m0 5v1m0 9v1m0 12v3m1-70v1m0 42v1m0 8v1m0 14v2m1-71v1m0 25v1m0 10v1m0 14v1m0 11v1m0 4v1m1-53v1m0 6v1m0 25v1m0 11v1m0 5v1m1-35v1m0 7v1m0 5v1m0 11v1m0 6v1m1-22v1m0 11v1m0 7v1m1-23v1m0 11v1m0 8v1m1-37v1m0 12v1m0 11v1m0 8v2m1-57v1m0 6v1m0 11v1m0 12v1m0 11v1m0 9v1m1-25v1m0 11v1m0 10v1m1-50v1m0 10v1m0 24v1m1-28v1m0 36v1m1-50v1m0 23v1m0 22v1m0 13v3m1-48v1m0 5v1m0 35v1m0 3v2m1-3v2m1-60v1m0 32v1m0 2v1m0 2v1m0 17v1m1-60v1m0 31v1m0 4v1m0 1v1m0 18v1m1-61v1m0 14v1m0 7v1m0 7v1m0 5v1m0 1v1m1-42v1m0 9v1m0 12v1m0 7v1m0 27v1m1-62v1m0 13v1m0 8v1m0 16v1m1-31v1m0 47v1m1-3v1m1-22v1m2-4v1m1-22v1m1 49v7m1-41v1m0 16v1m0 20v2m1-65v2m0 52v1m0 7v1m1-2v1m1-67v1m0 11v1m0 27v1m1-31v1m0 27v1m0 24v1m1-49v1m0 4v1m0 15v1m0 14v1m1-18v1m1-30v1m0 9v1m0 16v1m0 7v1m0 17v1m1-49v1m0 19v1m0 6v1m0 18v1m1-49v3m0 17v1m0 9v1m0 28v3m1-70v1m0 25v1m0 41v2m1-27v1m0 24v1m1-72v1m0 36v1m0 32v1m1-22v1m0 18v1m1-22v1m0 19v1m1-36v1m0 12v1m0 20v1m1-56v1m0 6v1m0 24v1m0 21v1m1-30v1m0 27v1m1-45v1m0 13v1m0 27v1m1-45v1m0 13v1m0 16v1m0 11v1m1-46v1m0 5v1m0 13v1m0 22v1m1-46v1m0 5v1m0 13v1m0 36v4m1-66v1m0 2v1m0 55v1m0 4v1m1-66v1m0 45v1m0 17v1m1-27v1m0 3v1m0 1v1m0 18v1m1-29v1m0 4v1m0 1v1m0 18v1m1-30v1m0 27v1m1-47v1m0 15v1m0 8v1m0 18v1m1-51v1m0 2v1m1-5v1m0 47v1m1-22v1m1-43v1m1 47v1m1 7v1m1 13v3m1-59v1m0 19v1m0 31v1m0 3v3m1-2v1m1-65v1m0 10v1m0 28v1m0 22v1m1-55v1m0 51v1m1-55v1m0 52v1m1-68v1m0 18v1m0 20v1m1-19v1m0 15v1m1-30v1m0 26v1m0 25v1m1-56v1m0 9v1m0 16v1m0 7v2m0 16v1m1-49v1m0 35v1m1-45v1m0 6v2m0 10v1m0 45v4m1-38v1m0 3v1m0 6v1m0 20v1m0 3v1m1-39v1m0 36v1m1-40v1m0 12v1m0 24v1m1-41v1m0 38v1m1-42v1m0 5v1m0 33v1m1-49v1m0 19v1m0 25v1m1-2v1m1-2v1m1-50v1m0 47v1m1-26v1m0 22v1m1-50v1m0 23v1m0 10v1m0 26v2m1-74v1m0 17v1m0 50v1m0 1v3m1-64v1m0 5v1m0 22v1m0 14v1m0 11v1m0 4v2m1-67v3m0 5v1m0 33v2m0 2v1m0 11v1m0 5v1m1-23v1m0 1v1m0 18v1m1-29v1m1 5v1m0 18v1m1-47v1m0 15v1m0 8v1m1-32v1m0 2v1m0 16v1m0 28v1m1-62v1m0 29v1m0 9v1m1-43v1m0 29v1m1-3v1m0 19v1m0 9v1m1-33v1m0 10v1m0 18v1m1-33v1m0 29v1m1-33v1m0 29v1m0 14v5m1-52v1m0 43v1m0 4v3m1-54v1m0 50v2m1-66v1m0 10v1m0 28v1m0 22v1m1-55v1m0 6v1m0 21v1m0 23v1m1-3v1m2-57v1m0 19v1m0 32v1m1-56v1m0 10v1m0 8v1m0 32v1m1-49v1m0 27v2m0 6v1m1-45v1m0 8v1m0 26v1m0 29v2m1-63v2m0 34v1m0 21v4m1-6v1m0 3v1m1-71v1m0 36v1m0 31v1m1-2v1m1-54v1m0 18v1m0 32v1m1-48v1m0 19v1m0 25v1m1-2v1m1-3v2m1-50v1m0 46v1m1-57v1m0 31v1m0 22v1m1-58v1m0 7v1m0 23v1m0 22v1m1-15v1m0 26v3m1-66v1m0 46v1m0 12v1m0 2v2m1-58v1m0 37v1m0 17v1m1-66v2m0 5v1m0 14v1m0 18v2m0 2v1m0 11v1m0 6v1m1-60v1m0 14v1m0 20v1m0 20v1m1-60v1m0 30v1m0 5v1m0 20v1"/>
<path stroke="#2f81fa" d="m0 8v1m0 1v1m0 4v1m0 37v1m1-41v1m0 9v1m0 21v1m0 5v2m0 11v1m1-54v1m0 30v1m0 7v1m0 18v1m1-61v1m0 14v1m0 15v1m0 7v1m0 19v1m1-62v1m0 13v1m0 25v1m1 17v1m1-25v1m0 2v1m0 9v1m0 8v1m1-25v1m1-3v1m1 20v1m1-3v1m1-26v1m0 4v1m0 8v1m1-17v1m0 37v5m1-60v1m0 36v1m0 14v1m0 5v1m1-63v1m0 9v1m0 50v1m1-65v1m0 10v1m0 27v1m0 23v1m1-55v1m0 27v1m0 24v1m1-28v1m1-23v1m0 3v1m0 15v1m1-30v1m0 9v1m0 16v1m0 15v1m0 9v1m1-48v2m0 25v2m1-2v1m0 6v1m1-46v1m0 36v1m0 29v1m1-2v2m1-71v1m0 36v1m0 26v1m0 4v1m1-26v1m0 17v1m0 5v1m1-35v1m0 12v1m0 19v1m1-48v1m0 24v1m1-28v1m0 24v1m0 20v1m1-55v1m0 52v1m1-49v1m0 36v1m0 9v1m1-50v1m0 36v1m0 9v1m1-25v1m0 22v1m1-45v1m0 4v1m0 24v1m0 11v1m1-49v1m0 3v1m0 4v1m0 23v1m0 12v1m0 14v2m1-61v1m0 38v4m0 13v1m0 3v1m1-65v1m0 43v2m0 17v1m1-60v1m0 23v1m0 7v1m0 6v1m0 18v1m1-61v1m0 30v1m0 7v1m0 11v1m1-43v1m0 3v1m0 15v1m0 7v2m0 10v1m0 7v1m1-48v1m0 16v1m0 8v1m0 10v1m1-23v1m0 28v1m1-62v1m0 29v1m0 9v1m1-43v1m0 22v1m0 6v1m1-10v1m0 6v1m0 10v1m0 18v1m1-40v1m0 6v1m0 29v1m1-40v1m0 6v1m0 20v1m0 8v1m1-33v1m0 29v1m1-33v1m0 44v1m0 2v3m1-61v1m0 7v1m0 28v1m0 14v1m0 6v1m1-64v1m0 9v1m0 51v1m1-66v1m0 10v1m1 50v1m2-57v1m0 10v1m0 41v1m1-56v1m1 5v2m1-11v1m1 34v1m0 28v2m1-24v1m0 22v1m1-71v1m0 68v1m1-46v1m0 43v1m1-47v1m0 44v1m1-48v1m0 45v1m1-55v1m1 50v1m1-49v1m0 11v1m0 34v1m1-44v1m0 18v1m0 22v1m1-50v1m0 4v1m0 30v1m0 10v1m1-45v1m0 13v1m0 15v1m0 11v1m1-45v1m0 4v1m0 23v1m0 12v2m0 13v3m1-65v1m0 2v1m0 4v1m0 14v1m0 18v5m0 12v1m0 3v1m1-65v2m0 20v1m0 21v2m0 17v1m1-44v1m0 15v1m0 6v1m0 18v1m1-22v1m0 19v1m1-47v1m0 15v1m0 7v2m1-31v1m0 1v1m0 16v1m0 28v1m1-62v1m0 29v1m0 9v1m1-43v1m1-3v1m0 59v1m2-14v1m1-12v1m1-22v1m0 36v1m1-33v1m0 44v1m0 3v2m1-61v1m0 7v1m0 12v1m0 15v1m0 21v1m1-64v1m0 9v1m0 12v1m0 15v1m0 14v1m0 7v1m1-42v1m0 30v1m0 8v1m1-67v1m0 23v1m0 30v1m1-46v1m0 52v1m1-56v1m0 10v1m2-15v1m0 7v2m0 26v1m0 6v1m1-12v1m0 18v1m1-36v1m0 24v1m0 7v1m0 12v3m1-70v1m0 25v1m0 10v1m0 14v1m0 15v2m1-46v1m0 19v1m0 5v1m0 17v1m1-47v1m0 11v1m2-23v1m0 26v1m0 24v1m1-42v1m0 5v1m0 7v1m0 25v1m1-49v1m0 5v1m0 5v1m0 12v1m0 21v1m1-38v1m0 12v1m0 21v1m1-49v1m0 10v1m0 35v1m1-14v1m0 10v1m1-57v1m0 7v1m0 33v1m0 12v1m1-58v1m0 16v1m0 14v1m0 8v1m0 13v1m0 13v4m1-63v1m0 4v1m0 33v5m0 12v1m0 4v1m1-65v2m0 4v1m0 37v1m0 18v1m1-60v1m0 14v1m0 15v1m0 6v1m1-41v1m0 9v1m0 4v1m0 22v2m0 18v1m1-61v1m0 13v1m0 23v2m1-42v1m0 11v2m0 24v1m0 1v1m0 18v1m1-62v1m0 39v1m1-43v1m0 59v1m1-22v1m2-4v1m2 13v1m0 15v3m1-58v1m0 19v1m0 16v1m0 14v1m0 4v2m1-63v2m0 59v1m1-65v1m0 38v1m1-24v1m0 20v1m0 23v1m1-55v1m0 11v1m0 40v1m1-56v1m0 52v1m2-50v1m1-10v1m0 7v2m0 10v1m0 6v1m0 25v1m1-29v1m0 9v1m0 6v1m0 8v1m1-55v1m0 25v1m0 25v1m0 13v3m1-19v1m0 12v1m0 3v1m1-34v1m0 13v1m0 17v1m1-21v1m0 18v1m1-54v1m0 26v1m0 4v1m0 19v1m1-36v1m0 12v1m1-28v1m0 24v1m0 20v1m1-49v1m0 24v1m0 21v1m1-56v1m0 53v1m1-57v1m0 6v1m0 46v1m1-57v1m0 17v1m0 36v1m1-50v1m0 23v1m0 9v1m0 12v1m0 14v1m1-64v1m0 45v1m0 13v1m0 2v1m1-58v1m0 33v1m0 2v2m0 17v1m1-65v2m0 4v1m0 32v1m0 4v1m0 18v1m1-60v1m0 9v1m0 20v1m0 6v2m0 18v1m1-61v1m0 14v1m0 15v1m0 6v2m1-42v1m0 37v2m0 19v1m1-62v1m0 11v2m0 24v1m0 1v1m1-5v1m0 21v1m1-22v1m5-9v1m0 32v4m1-59v1m0 28v1m0 7v1m0 14v1m0 4v2m1-63v2m0 15v1m0 13v1m0 29v1m1-65v1m0 31v1m0 6v1m0 23v1m1-55v1m0 20v1m0 6v1m1-31v1m0 20v1m0 6v1m0 24v1m1-44v1m0 15v1m1-23v1m0 19v1m1-30v1m0 9v1m0 16v1m0 25v1m1-48v2m0 17v1m1-29v1m1-3v1m0 36v1m0 7v1m0 20v1m0 1v1m1-25v1m0 18v1m0 3v1m1-20v1m1-8v1m0 4v1m0 18v1m1-35v1m0 12v1m0 19v1m1-48v1m0 24v1m0 20v1m1-49v1m0 24v1m1-34v1m0 52v1m1-49v1m0 46v1m2-51v1m0 9v1m0 13v1m0 22v1m1-40v1m0 23v1m0 12v1m0 14v2m1-65v1m0 44v2m0 13v1m0 2v2m1-66v1m0 30v1m0 9v1m0 2v2m0 18v1m1-66v2m0 4v1m0 9v1m0 22v1m0 4v2m0 11v1m1-54v1m0 38v1m0 18v1"/>
<path stroke="#2e87f7" d="m0 11v1m0 27v1m0 8v1m0 22v1m1-65v2m0 35v1m0 25v1m1-45v1m0 14v1m0 20v1m1-24v1m0 27v1m1-49v2m0 25v1m0 19v1m1-62v1m0 38v2m0 10v1m1-54v1m1-3v1m0 40v1m0 18v1m2-27v1m0 3v1m1-21v1m0 13v1m0 13v1m1-31v1m0 35v1m1-20v1m0 16v1m1 16v2m1-61v1m0 36v1m0 21v1m2-66v1m0 62v1m1-55v1m0 11v1m0 40v1m1-56v1m0 43v1m2-48v1m0 26v1m0 25v1m1-29v1m0 7v1m0 17v1m1-10v1m0 6v1m1-55v1m0 45v1m0 5v1m0 13v2m1-50v1m0 31v1m0 16v1m1-20v1m0 17v1m1-8v1m0 5v1m1-35v1m0 25v1m0 6v1m1-54v1m0 43v1m1-41v1m0 24v1m0 12v1m1-16v1m0 21v1m2-45v1m0 4v1m0 25v1m0 9v1m1-49v1m0 23v1m0 11v1m0 9v1m1-14v1m0 9v2m1-40v1m0 9v1m0 23v1m0 18v3m1-65v1m0 2v1m0 3v1m0 32v1m0 22v1m1-65v3m0 34v1m0 25v1m1-45v1m0 8v1m0 33v1m1-61v1m1-3v1m0 11v2m0 25v1m0 19v1m1-62v1m0 23v1m0 14v2m1-43v1m0 23v1m0 35v1m1-63v1m2 37v1m0 9v1m2-33v1m0 18v1m1-22v1m0 35v1m0 16v2m1-1v2m1-62v1m0 36v1m0 15v1m0 6v1m1-26v1m0 15v1m0 7v1m1-66v1m0 10v1m0 27v1m0 15v1m1-58v1m0 10v1m0 7v1m0 3v1m0 15v1m0 15v1m0 8v1m1-28v1m1-22v1m0 1v1m0 16v1m0 25v1m1-56v1m0 35v1m0 7v1m0 8v1m1-21v1m0 1v1m1-39v1m0 44v1m1-28v1m0 45v3m1-33v1m0 8v1m0 4v1m1-3v1m1-16v1m0 12v1m1-34v1m0 26v1m0 3v1m0 19v1m1-48v1m0 20v1m0 3v1m0 20v1m1-49v1m0 20v1m0 3v1m1-21v1m0 13v1m0 25v1m1-49v1m0 19v1m0 26v1m1-30v1m0 4v1m0 21v1m1-49v1m0 9v1m0 25v1m0 9v1m1-48v1m0 33v1m0 9v2m1-40v1m0 33v1m0 18v1m0 1v1m1-62v1m0 3v1m0 32v1m1-41v2m0 3v1m0 30v1m1-34v1m0 10v1m0 19v1m0 26v1m1-61v1m0 58v1m1-62v1m0 12v1m0 25v2m1-43v1m0 38v1m0 20v1m1-32v1m0 9v1m1-13v1m1-3v1m0 10v1m0 9v1m0 8v1m1-33v1m0 29v1m1-33v1m0 29v1m1-33v1m1-10v1m0 35v1m0 16v3m1-1v1m1-62v1m0 36v1m0 22v1m1-54v1m0 27v1m0 23v1m1-55v1m0 7v1m0 19v1m0 24v1m1-56v1m0 27v1m1-3v1m0 25v1m1-56v1m0 7v3m0 42v1m1-20v1m1-38v1m0 19v1m0 23v1m1-13v1m0 2v1m1-6v1m0 31v3m1-1v1m1-21v1m0 18v1m1-53v1m0 5v1m0 20v1m0 3v1m0 19v1m1-48v1m0 6v1m0 17v1m1-28v1m0 24v1m1 19v1m1-55v1m0 5v1m1-9v1m0 30v1m0 21v1m1-56v1m0 6v1m1 7v1m0 25v1m0 9v2m1-49v1m0 33v1m0 9v3m1-48v1m0 22v1m0 8v1m0 8v1m0 21v1m1-65v1m0 5v1m0 15v1m0 16v1m0 18v1m0 4v1m1-65v2m0 3v1m0 30v1m0 26v1m1-61v1m0 30v1m1-34v1m0 30v1m0 27v1m1-31v1m0 8v1m1-12v1m0 7v1m1-11v1m0 7v1m1 10v1m0 8v1m1-3v1m1-3v1m1-33v1m0 11v1m0 17v1m1-33v1m1-3v1m0 21v1m0 6v1m0 16v4m1-59v1m0 6v1m0 12v1m0 8v1m0 6v1m0 20v2m1-54v1m0 7v1m0 4v1m0 38v1m1-55v1m0 12v1m0 14v1m1-31v1m0 27v1m0 24v1m2-57v1m0 7v1m0 2v1m0 41v1m1-47v2m0 10v1m0 22v1m1-11v2m1-39v1m1 43v1m1-48v1m0 25v1m0 10v1m0 8v1m0 21v1m1-45v1m0 38v1m0 3v1m1-52v1m0 5v1m0 11v1m0 8v1m0 22v1m1-47v1m0 44v1m1-48v1m0 45v1m1-36v1m1-21v1m0 17v1m0 33v1m1-49v1m0 11v1m0 12v1m0 21v1m1-38v1m1-14v1m0 46v1m1-40v1m0 25v1m0 10v1m1-44v1m0 3v1m0 14v1m0 9v1m0 9v3m0 15v2m1-65v1m0 3v1m0 27v1m0 8v1m0 21v1m1-65v1m0 5v1m0 32v1m0 18v1m0 4v1m1-64v1m0 3v1m0 15v1m0 14v1m0 26v1m1-61v1m0 30v1m0 27v1m1-50v1m0 2v1m0 15v1m1-3v1m0 8v1m0 19v1m1-62v1m0 39v1m1-43v1m0 37v1m0 12v1m0 8v1m1-25v1m0 2v1m0 18v1m2-23v1m1 15v1m1-11v1m0 7v1m1-33v1m0 7v1m0 4v1m0 34v2m1-59v1m0 6v1m0 28v1m0 21v1m1-54v1m0 51v1m1-65v1m0 9v1m0 52v1m1-43v1m1-15v1m0 52v1m1-56v1m0 10v1m0 32v1m1-38v2m1-12v1m0 34v2m0 7v1m0 8v1m1-29v1m0 9v1m0 7v1m0 7v1m1-29v1m0 25v1m0 14v1m1-44v1m0 25v1m0 15v1m1-51v1m0 5v1m0 11v1m0 8v1m0 17v1m0 4v1m1-47v1m0 38v1m2-31v1m0 32v1m1-54v1m0 51v1m1-49v1m0 24v1m1-3v1m0 12v1m0 8v1m1-49v1m0 10v1m0 25v1m0 9v1m1-44v1m0 30v1m0 9v1m1-49v1m0 4v1m0 18v1m0 10v1m0 10v1m1-44v1m0 3v1m0 24v1m0 9v2m0 16v2m1-61v1m0 3v1m0 32v1m0 22v1m1-63v1m0 27v1m0 7v1m0 24v1m1-65v1m0 35v1m0 19v1"/>
<path stroke="#2d8cf3" d="m0 14v1m0 10v1m0 4v1m0 15v2m0 19v1m0 1v2m1-65v1m0 2v1m0 2v1m0 15v1m0 8v1m0 5v1m0 25v1m1-65v3m0 2v1m0 57v1m1-61v1m0 11v1m0 2v1m0 36v1m1-55v1m0 30v1m0 20v1m1-55v1m0 30v1m0 28v1m1-32v1m0 8v2m2-21v1m0 16v1m0 18v1m1-39v1m0 35v1m1-21v1m0 17v1m1-33v1m1-9v1m0 5v1m0 28v1m1-32v1m0 12v1m0 15v1m0 16v3m1-58v1m0 6v1m0 27v1m0 16v1m0 4v1m1-62v1m0 8v1m0 27v1m0 23v1m1-55v1m0 12v1m0 14v1m1-41v1m0 9v1m0 8v1m0 18v1m1-19v1m0 41v1m1-56v1m0 8v2m1 32v1m1-47v1m0 35v1m1-12v1m0 9v1m1-13v1m0 10v1m1-40v1m0 25v1m0 20v1m0 18v1m0 1v1m1-45v1m0 11v1m0 12v1m1-28v1m0 24v1m1-33v1m0 4v1m0 21v1m0 2v1m1-28v1m0 12v1m0 8v1m0 2v1m0 20v1m1-2v1m1-49v1m0 11v1m1-15v1m0 6v1m0 4v1m0 12v1m0 21v1m1-49v1m0 45v1m1-39v1m0 35v1m1-48v1m0 8v1m0 9v1m0 4v1m0 11v1m0 7v1m1-46v1m0 4v1m0 1v1m0 25v1m0 7v1m1-39v1m0 1v1m0 31v2m0 19v1m0 2v1m1-61v1m0 1v1m0 15v1m0 14v1m1-38v2m0 2v1m0 30v1m1-34v1m0 14v1m0 9v1m0 5v1m0 27v1m1-62v1m0 24v1m0 5v1m2 4v2m1-2v1m0 18v1m4-9v1m1-33v1m0 12v1m1-22v1m0 5v1m0 28v1m0 16v1m0 1v2m1-59v1m0 6v1m0 50v1m1-63v1m0 8v1m0 51v1m1-55v1m0 8v1m0 43v1m2-57v1m0 10v1m0 41v1m1-46v1m1 15v1m1-30v1m0 26v1m0 17v1m0 7v1m1-35v1m0 5v1m0 7v1m0 17v1m1-55v1m0 51v1m1 11v1m0 2v1m1-46v1m0 43v1m1-52v1m0 4v1m0 21v1m0 22v1m1-48v1m0 12v1m2-22v1m0 11v1m0 38v1m1-54v1m0 4v1m0 24v1m1-33v1m0 16v1m0 34v1m1-55v1m0 5v1m0 10v1m1-20v1m0 30v1m0 20v1m1-55v1m0 12v1m0 2v1m0 26v1m0 7v1m1-46v1m0 4v1m0 27v1m0 7v1m0 20v1m1-64v1m0 3v1m0 1v1m0 31v2m0 19v1m0 3v1m1-65v1m0 2v1m0 1v1m0 30v1m0 26v1m1-65v2m0 2v1m0 15v1m0 14v1m1-34v1m0 12v1m0 1v1m0 15v1m1 26v1m1-22v1m1-43v1m0 38v1m0 20v1m1-22v1m4-7v1m0 16v1m2-41v1m0 5v1m0 28v1m0 16v1m0 2v2m1-60v1m0 6v1m0 50v1m1-63v1m0 8v1m0 8v1m2-1v1m0 40v1m1-56v1m0 8v1m0 1v1m1 14v1m0 16v1m1-47v1m0 26v1m0 25v1m1-19v1m0 15v1m1-55v1m0 45v1m0 5v1m1-55v1m0 46v1m0 4v1m1-21v1m0 3v1m0 13v1m0 13v1m0 2v1m1-51v1m0 12v1m0 13v1m1-17v1m0 4v1m0 31v1m1-2v1m1-53v1m0 50v1m1-54v1m0 4v1m0 24v1m1 19v1m1-49v1m1 8v1m0 13v1m0 21v1m1-49v1m0 5v1m0 30v1m0 7v1m1-42v1m0 2v1m0 26v2m0 6v1m1-41v1m0 2v1m0 32v1m0 19v3m1-61v1m0 1v1m0 31v2m0 23v1m1-65v1m0 2v1m0 1v1m0 11v1m0 18v1m0 26v1m1-64v1m0 2v1m0 15v1m0 14v1m0 27v1m1-49v1m0 1v1m1-17v1m1-3v1m0 39v1m0 19v1m1-63v1m0 40v1m1-13v1m0 7v1m1-11v1m0 10v1m1-14v1m2 17v1m0 6v1m2-6v1m0 16v1m0 3v1m1-61v2m0 29v1m0 5v1m0 22v1m1-64v1m0 31v1m0 29v1m1-33v1m1-25v1m0 11v1m0 9v1m0 5v1m1-20v1m0 10v1m0 5v1m1-30v1m0 52v1m2-12v1m1-48v1m0 36v1m1 27v2m1-23v1m0 3v1m1-3v1m1-3v1m1-33v1m0 29v1m1-33v1m0 4v1m0 24v1m0 20v1m1-49v1m2-4v1m0 24v1m0 12v1m0 8v1m1-43v1m0 3v1m0 26v1m0 8v1m1-43v1m0 30v1m0 7v2m1-48v1m0 7v1m0 26v2m0 6v1m1-38v1m0 15v1m0 16v1m0 19v3m1-61v1m0 13v1m0 4v1m0 8v1m0 5v2m1-40v1m0 1v1m0 1v1m0 52v1m1-40v1m1-18v1m0 12v2m0 44v1m1-62v1m1-3v1m0 30v1m0 8v1m0 11v1m0 7v1m1-32v1m0 9v1m1-13v1m1-3v1m0 7v1m0 21v1m1-39v1m0 5v1m0 7v1m0 21v1m1-39v1m0 5v1m0 7v1m0 3v1m0 9v1m1-31v1m0 5v1m0 7v1m1 18v1m0 16v2m1-37v1m0 14v1m0 16v1m0 4v1m1-62v2m0 20v1m0 14v1m0 22v1m1-41v1m0 14v1m0 23v1m1-55v1m0 27v1m0 24v1m1-47v1m0 2v1m0 15v1m1-21v2m0 42v1m1-56v1m2-4v1m2 33v1m0 28v2m1-19v1m0 17v1m1-34v1m0 12v1m0 18v1m1-47v1m0 24v1m0 13v1m0 5v1m1-53v1m0 4v1m0 24v1m0 13v1m1-42v1m0 12v1m0 11v1m0 13v1m1-29v1m0 25v1m0 7v1m1-49v1m0 11v1m1-8v1m0 39v1m1-49v1m0 45v1m1-39v1m0 26v1m0 8v1m1-24v1m0 10v2m0 6v1m1-45v1m0 6v1m0 10v1m0 4v1m0 16v1m0 19v1m0 1v2m1-65v1m0 3v1m0 1v1m0 15v1m0 14v2m0 24v1m1-65v1m0 1v1m0 2v1m0 15v1m0 8v1m0 5v1m0 26v1"/>
<path stroke="#2b91ef" d="m0 7v1m0 4v2m0 29v3m0 22v1m1-59v2m0 30v1m0 25v1m1-61v2m0 15v1m0 9v1m0 4v1m1-37v4m0 14v1m0 15v1m1-34v1m0 59v1m2-64v1m0 24v1m0 34v1m1-63v1m0 24v1m0 5v1m0 9v1m1-13v1m1-3v1m0 21v1m1-25v1m1 26v1m2-40v1m0 4v1m0 28v1m1-32v1m0 13v1m0 35v1m1-60v1m0 6v1m0 13v1m0 31v1m0 5v1m1-9v1m0 6v1m1-43v1m0 32v1m0 7v1m1-56v1m0 9v2m0 16v1m1 23v1m1-56v1m1 43v1m1-48v1m0 34v1m1-38v1m0 20v1m1 28v1m0 15v1m1-22v1m0 20v1m1-51v1m0 26v1m0 21v1m1-2v1m1-52v1m1-3v1m0 3v1m0 12v1m0 8v1m0 2v1m1-32v1m0 3v1m0 7v1m0 13v1m0 24v1m1-54v1m0 25v1m1-29v1m1-3v1m0 5v1m0 19v1m0 24v1m1-54v1m0 12v1m0 1v1m0 28v1m0 5v1m1-53v1m0 13v1m0 16v1m0 10v4m0 2v1m1-43v1m0 5v1m0 16v1m0 12v3m0 22v2m1-64v1m0 4v1m0 30v1m0 26v1m1-65v1m0 2v2m0 12v1m0 17v1m0 27v1m1-65v4m0 13v2m1-18v1m1-2v1m0 30v1m0 28v1m1-63v1m0 30v1m2 6v1m0 10v1m0 7v1m1-3v1m1-33v1m0 11v1m0 17v1m1-33v1m1 26v1m1-19v1m0 14v1m0 18v1m1-56v1m0 33v1m0 21v1m1-61v1m0 20v1m0 14v1m1-18v1m0 14v1m1-31v1m0 27v1m0 24v1m1-46v2m1-13v1m0 52v1m2-21v1m1-39v1m0 36v1m0 9v1m1-23v1m0 7v1m0 2v1m0 9v1m1-24v1m0 24v1m0 15v2m1-33v1m0 9v1m0 2v1m1-3v1m1-3v1m1-32v1m0 3v1m0 7v1m0 4v1m0 11v1m0 20v1m1-49v1m0 12v1m1-3v1m0 33v1m1-49v1m0 24v1m1 19v1m1-42v1m0 2v1m0 27v1m0 6v1m1-47v1m0 7v1m0 15v1m0 12v1m0 5v1m1-39v2m0 26v4m0 2v1m1-37v1m0 29v3m0 22v3m1-60v1m0 16v1m0 13v1m0 22v1m0 3v1m1-65v1m0 2v2m0 58v1m1-64v3m0 14v1m0 44v1m1-62v1m0 30v1m1-34v1m0 30v1m0 28v1m1-63v1m0 40v1m1-4v1m0 12v1m0 7v1m1-3v1m1-21v1m0 17v1m1-3v1m1-33v1m0 22v1m1-26v1m0 12v1m0 9v1m0 5v1m1-9v1m0 23v2m1-57v1m0 28v1m0 4v1m0 21v1m1-25v1m0 23v1m1-55v1m0 12v1m0 14v1m0 24v1m1-56v1m1 8v1m0 42v1m1-56v1m1 19v1m1-24v1m0 26v1m0 8v1m0 9v1m1-22v1m1-3v1m1-3v1m0 21v1m0 18v2m1-45v1m0 24v1m0 14v1m0 3v1m1-47v1m0 24v1m1-32v1m0 3v1m0 12v1m0 11v1m1-28v1m0 24v1m1-28v1m0 46v1m1-49v1m0 24v1m1-28v1m0 11v1m0 26v1m0 7v1m1-49v1m0 6v1m0 30v1m0 7v1m1-39v1m0 14v1m1-19v1m0 34v1m1-45v1m0 5v2m0 26v5m0 1v1m1-42v1m0 4v1m0 26v1m0 3v2m0 22v1m0 1v1m1-60v1m0 16v1m0 13v1m0 22v1m1-60v1m0 1v2m1-5v4m0 13v1m0 16v1m1-34v1m0 59v1m1-63v1m1 38v1m0 11v1m0 7v1m1-22v1m1-5v1m2-19v1m0 27v1m0 6v1m1-38v1m0 4v1m0 12v1m1-21v1m0 4v1m0 28v1m1-32v1m0 8v1m0 39v1m1-58v1m0 5v1m0 27v1m0 22v1m1-54v1m0 27v1m0 23v1m1-64v1m0 8v1m0 12v1m0 39v1m1-46v1m0 43v1m1-56v1m0 9v1m0 34v1m1-20v1m1-30v1m0 26v1m0 17v1m0 7v1m1-20v2m0 15v1m1-8v1m0 4v1m1-3v1m1-34v1m0 16v1m0 30v1m1-46v1m0 24v1m0 14v1m0 3v1m1-47v1m0 12v1m0 9v1m0 1v1m0 14v1m0 4v1m1-48v1m0 24v1m0 20v1m1-49v1m1 23v1m0 13v1m1-42v1m0 38v1m0 7v1m1-42v1m0 3v1m0 34v1m1-49v1m0 24v1m0 20v1m1-48v1m0 8v1m1-5v2m0 29v1m0 4v1m1-39v2m0 26v7m1-42v1m0 4v2m0 29v2m0 25v1m1-65v1m0 3v1m0 31v1m0 26v1m1-65v5m0 12v1m0 17v1m0 21v1m0 5v1m1-63v2m0 30v1m0 21v1m1-56v1m0 52v1m2-17v1m2-20v1m0 16v1m1 8v1m2 2v1m1-38v1m0 4v1m0 28v1m1-37v1m0 4v1m0 48v2m1-59v1m0 5v1m0 45v1m0 4v1m1-54v1m1-12v1m1 7v1m0 44v1m0 7v1m1-56v1m0 27v1m1-3v1m0 25v1m1-56v1m0 52v1m1-20v2m0 9v1m1-49v1m0 36v1m0 9v1m0 4v1m1-34v1m0 26v1m0 3v1m1 14v1m1-23v1m1-30v1m0 3v1m0 22v1m0 1v1m1-28v1m0 22v1m1-29v1m0 2v1m0 22v1m0 23v1m1-53v1m0 3v1m0 24v1m1-32v1m0 3v1m0 7v1m0 38v1m1-54v1m0 4v1m0 24v1m1-17v1m0 34v1m1-48v1m0 8v1m0 28v1m0 6v1m1-47v1m0 5v3m0 10v1m0 17v1m0 4v1m1-39v2m0 26v1m0 1v5m0 21v1m1-58v1m0 29v2m0 22v1m0 2v1m1-61v2m0 30v1"/>
<path stroke="#2797eb" d="m0 40v3m1-2v1m0 23v1m1-62v1m0 17v1m0 16v1m0 27v1m1-65v1m0 17v1m0 11v1m0 32v1m1-65v3m0 26v1m0 4v1m1-36v3m0 25v1m1-30v2m1 38v1m0 19v1m2-23v1m1 15v1m1-33v1m0 12v1m1-16v1m0 28v1m1-4v1m1-36v1m0 32v1m0 20v1m1-58v1m0 33v1m0 22v1m1-62v1m0 7v1m0 9v1m0 17v1m1-31v1m1 51v1m1-56v1m0 27v1m1-3v1m0 25v1m1-56v1m0 52v1m1-19v1m0 10v1m0 4v1m1-20v1m0 12v1m0 3v1m1-17v1m0 10v1m0 1v1m1-28v1m0 23v2m0 15v1m0 1v1m1-46v1m0 12v1m0 10v2m1-31v1m0 2v1m0 23v2m1-30v3m0 24v1m1-30v3m0 8v1m0 37v1m1-50v1m0 25v1m1-28v1m0 46v1m1-49v1m0 10v1m0 9v1m0 3v1m0 20v1m1-41v1m0 1v1m0 28v1m1-33v1m0 30v1m1-41v1m0 38v2m1-9v1m0 1v1m1-2v1m0 23v1m0 2v1m1-44v1m1-23v1m0 34v1m0 27v1m1-65v3m0 60v1m1-65v3m1-3v1m0 60v1m1-32v1m0 8v2m1-13v1m1-3v1m2 18v1m0 5v1m1-33v1m0 23v1m0 4v1m1-32v1m0 23v1m1-27v1m0 13v1m0 9v1m0 3v1m0 21v1m1-59v1m0 5v1m0 9v1m0 17v1m0 23v1m1-63v1m0 7v1m0 52v1m1-43v1m1-15v1m0 27v1m1-3v1m0 17v1m1-48v1m0 52v1m1-34v1m0 24v1m0 5v1m1-3v1m1-55v1m0 51v1m1-20v1m0 13v1m1-30v1m0 27v2m0 15v1m0 2v1m1-47v1m0 8v1m0 14v2m0 19v1m1-51v1m0 2v1m0 8v1m0 14v2m0 20v1m1-51v3m1-5v1m0 1v1m0 25v1m1-31v1m0 2v1m1-3v1m0 46v1m1-49v1m0 7v1m0 2v1m0 27v1m0 6v1m1-48v1m0 8v1m1-4v1m0 30v1m1-17v1m0 14v2m1-42v1m0 22v1m0 9v1m0 1v1m1-37v1m0 17v1m0 16v1m1-17v1m0 14v1m1-37v1m1-2v3m1-4v2m1 29v1m1 7v1m1-4v1m0 1v1m1-14v1m1-3v1m0 11v1m0 10v1m1-31v1m0 33v1m1-37v1m0 3v1m0 28v1m1-36v1m0 3v1m0 13v1m0 14v1m1-32v1m0 9v1m0 36v1m0 2v1m1-60v2m0 5v1m0 13v1m0 9v1m0 27v1m1-63v1m0 31v1m0 28v1m1-45v1m0 1v1m0 15v1m0 24v1m1-56v1m0 27v1m1-8v1m0 30v1m1-56v1m0 45v1m2-50v1m0 36v1m0 10v1m1-13v1m0 10v1m0 2v1m1-33v1m0 29v1m1-16v1m0 10v2m0 18v1m1-50v1m0 2v1m0 23v2m1-28v1m0 23v2m0 20v1m1-51v1m0 1v1m0 13v1m0 32v1m1-52v1m0 1v1m0 13v1m0 11v1m1-31v1m0 2v1m0 12v1m0 26v1m0 6v1m1-53v1m0 28v1m1-17v1m1-13v1m0 7v2m0 35v1m1-47v1m0 6v1m0 16v1m0 13v1m0 3v1m1-5v1m1-23v1m0 3v1m0 12v1m0 25v1m1-64v1m0 62v1m1-65v1m0 17v1m0 1v1m0 14v1m0 22v1m0 4v1m1-65v1m0 62v1m1-65v3m0 31v1m1-35v1m0 31v1m0 21v1m0 6v1m2-4v1m1-3v1m1-38v1m0 13v1m0 2v1m0 10v1m0 6v1m1-33v1m1 26v1m1-23v1m0 3v1m1-21v1m0 3v1m0 28v1m0 18v2m1-52v1m0 46v1m0 3v1m1-61v2m1 32v1m1-31v1m0 11v1m0 15v1m1 23v1m1-56v1m2-4v1m0 26v1m0 19v1m1-50v1m0 26v1m1-3v1m0 21v1m0 2v1m1-28v1m0 22v1m0 1v1m0 15v2m1-22v2m1-31v1m0 2v1m0 24v1m1-30v1m0 1v1m0 13v1m0 9v1m0 16v1m1-46v1m0 1v1m0 23v1m0 1v1m0 14v1m1-46v1m0 1v2m0 46v1m1-53v1m0 2v1m0 12v1m0 12v1m1-32v1m0 3v1m1-7v1m0 14v1m1-5v2m0 15v1m0 13v1m0 5v1m1-47v1m0 38v1m0 2v1m1-44v1m0 18v1m1 14v1m0 24v3m1-43v1m0 9v1m0 3v1m1-18v1m1-22v3m0 60v1m1-64v2m0 31v1m0 28v1m1-63v1m1 58v1m1-38v1m0 15v1m0 18v1m2-5v1m1-33v1m0 29v1m1-33v1m0 12v1m0 15v1m2-6v1m0 18v2m1-23v1m1-39v1m0 35v1m0 17v1m0 5v1m1-55v1m0 9v1m0 2v1m0 14v1m0 17v1m0 6v1m1-56v1m0 10v2m1 39v1m1-56v1m0 45v1m1-21v1m0 18v1m1-49v1m0 52v1m1-20v1m2-14v1m0 11v1m0 10v1m0 1v1m0 15v2m1-49v1m0 3v1m0 23v2m0 18v1m1-34v1m0 10v1m0 20v1m1-51v1m0 1v1m0 25v1m0 20v1m1-51v2m1-2v1m0 22v1m0 23v1m1-24v1m1-28v1m0 11v1m0 34v1m1-54v1m0 4v1m0 9v1m0 14v1m0 13v1m1-47v1m0 12v2m0 35v1m1-8v1m0 2v1m1-9v1m1-37v1m0 34v1m0 26v1m1-64v1m0 20v1m0 13v1m0 27v1"/>
<path stroke="#259be8" d="m0 6v1m1-2v1m0 21v1m0 12v1m0 25v2m1-44v1m1-23v1m1-2v1m1-2v1m0 33v1m0 28v1m3-26v2m0 11v1m0 6v1m1-3v1m1-33v1m1 21v1m0 4v1m1-36v1m0 27v1m0 3v1m1-35v1m0 2v1m0 24v1m1-28v1m0 24v1m0 2v1m0 19v2m1-56v1m0 3v1m1-3v1m0 13v1m0 38v1m1-44v2m0 15v1m0 24v1m1-56v1m1 44v1m0 6v1m1-56v1m1 25v1m0 19v1m1-50v1m0 21v1m0 4v1m1-30v1m0 26v1m0 10v1m0 13v1m1-28v1m0 23v1m1-31v1m0 45v1m1-48v1m0 1v1m0 44v1m1-49v2m0 13v1m0 31v1m1-39v1m0 14v1m0 21v1m1-24v1m1-30v2m0 47v1m1-52v1m0 1v1m0 12v1m1-15v1m0 8v1m0 1v1m0 28v1m1-42v1m0 8v1m0 15v1m0 19v1m1-47v1m0 42v1m2-12v1m1-37v1m0 21v1m0 12v1m0 25v2m1-64v1m0 19v1m0 14v1m0 27v1m2-67v1m0 34v1m3 16v1m0 6v1m1-23v1m1-1v1m1 9v1m0 5v1m1-37v1m0 3v1m0 12v1m0 15v1m1-36v1m0 31v1m1-35v1m0 2v1m0 28v1m1-35v1m0 2v1m0 47v3m1-57v1m0 3v1m0 24v1m0 26v1m1-41v1m0 14v1m0 23v1m1-63v1m0 7v1m0 10v2m0 40v1m1-2v1m1-56v1m1 25v1m0 18v1m1-49v1m1-3v1m0 36v1m0 11v1m1-2v1m0 1v1m1-28v1m0 11v1m0 11v2m1-28v1m0 8v1m0 32v2m1-49v1m0 1v1m0 13v1m0 27v1m1-46v2m1 22v2m1-29v1m0 47v1m1-51v2m0 25v1m1-31v1m0 14v1m0 27v1m1-46v1m0 28v1m1-19v1m0 30v1m0 4v1m1-47v1m0 39v1m0 1v2m1-45v1m1 32v1m1 26v1m1-65v1m0 18v2m0 38v1m0 3v1m1-65v1m0 34v1m0 27v1m1-65v1m0 62v1m2-11v1m0 6v1m1-32v1m1-3v1m1-8v1m1-3v1m0 33v1m1-33v1m2 23v1m1-35v1m0 2v1m0 14v1m0 13v1m0 20v1m1-57v1m0 32v1m0 22v1m1-54v1m0 27v1m1-39v1m0 7v1m0 11v1m0 11v1m1-3v1m0 22v1m0 6v1m1-56v1m0 27v1m1 23v1m1-56v1m0 47v1m0 4v1m1-19v1m0 15v1m1-4v1m1-4v2m1-28v1m1-5v2m0 41v1m0 3v1m1-50v2m0 41v1m1-45v1m0 24v2m1-29v1m0 41v1m1-45v2m1-2v1m0 8v1m0 2v1m0 34v1m1-53v1m0 3v1m0 45v1m1-9v1m0 4v1m1-7v3m1-20v1m1-26v1m0 33v2m1-5v1m0 2v1m0 26v1m1-45v1m1-22v1m0 34v1m0 22v1m1-3v1m0 5v1m2-33v1m1-3v1m0 9v1m1-18v1m0 4v1m0 10v1m1-14v1m1 6v1m0 19v1m1-33v1m0 9v1m1-13v1m0 28v1m1-18v1m0 13v1m1-35v1m0 17v1m0 13v1m0 21v1m1-58v1m0 4v1m0 13v1m0 13v1m0 18v1m0 4v1m1-55v1m0 10v1m0 41v1m1-44v1m0 34v1m0 6v1m1-56v1m0 27v1m1 23v1m1-56v1m0 46v1m0 5v1m1-3v1m1-19v2m0 14v1m1-33v1m0 15v1m0 11v1m1-2v1m1-31v1m0 2v1m0 12v1m0 30v1m1-49v2m1-3v1m0 25v1m0 20v1m1-50v1m0 14v1m0 10v1m0 21v1m1-51v1m0 14v1m0 9v1m0 1v1m1-30v2m0 9v1m0 37v1m1-50v1m0 25v1m0 20v1m1-49v1m0 8v1m0 30v1m0 5v1m1-53v1m0 4v1m0 43v1m1-52v1m0 29v1m0 15v2m1-20v1m1-3v1m0 11v1m1-37v1m0 34v1m0 27v1m1-65v1m0 18v1m0 11v1m0 3v1m0 27v1m3-34v1m0 28v1m1-37v1m1 12v1m1 10v1m0 6v1m1-33v1m0 11v1m2 7v1m1-28v1m0 24v1m0 3v1m1-32v1m0 24v1m0 2v1m1-35v1m0 3v1m0 27v1m0 22v1m1-60v2m0 4v1m0 13v1m0 37v1m2-28v1m0 24v1m1-56v1m1 51v1m2-30v1m0 20v1m1-29v1m0 4v1m0 21v1m0 2v1m1-28v1m0 22v1m0 1v1m1-4v1m1-28v1m1-5v3m1-4v1m0 14v1m0 10v1m1-2v1m1-30v2m0 9v1m1-14v3m0 12v1m0 9v1m0 23v1m1-27v1m1-16v1m0 12v1m0 23v1m1-27v1m0 3v1m0 14v1m0 3v1m1-46v1m0 39v2m1-43v1m1 20v1m0 38v1m1-45v1m0 43v1"/>
<path stroke="#23a0e5" d="m0 29v1m1 9v1m1-37v1m0 19v1m0 39v1m0 2v1m1-30v1m0 27v1m1-66v1m0 63v1m2-33v1m0 28v1m1-32v1m1-3v1m1-3v1m1 9v1m0 11v1m0 4v1m1-36v1m0 2v1m1-3v1m0 13v1m0 13v1m1-33v2m0 27v2m1-34v3m1-5v1m0 1v1m0 11v1m0 2v1m0 10v1m0 2v1m0 22v1m1-60v2m0 32v1m0 23v1m1-62v1m0 6v1m1-10v1m0 35v1m0 24v1m1-56v1m1 45v1m0 5v1m1-56v1m0 48v1m0 3v1m1-6v1m0 2v1m1-5v2m1-18v1m1-13v1m0 12v1m1-17v1m0 42v1m1-35v1m1 1v1m1-3v1m0 10v1m1-14v1m1-17v1m0 26v1m0 14v1m0 5v1m1-52v1m0 1v1m0 10v1m0 35v1m1-8v1m0 3v1m1-22v1m0 15v3m1-45v1m1-2v1m0 22v1m1-6v1m0 13v1m1-16v1m0 39v1m0 2v1m1-65v1m0 34v1m1 26v1m1-31v1m0 28v1m3-25v1m0 18v1m1-33v1m0 29v1m1-37v1m0 3v1m2-6v1m0 25v1m0 1v1m1-33v2m0 26v1m0 1v1m1-33v2m0 11v1m0 16v1m1-34v1m0 1v1m0 28v1m0 22v1m1-60v2m0 4v1m0 24v1m1 1v1m1-31v1m0 46v1m1 4v1m1-56v1m0 22v1m1 2v1m0 20v1m1-24v1m0 24v1m1-28v1m0 10v1m0 12v1m1-31v1m1-2v1m0 1v1m1-4v1m0 45v1m1-34v1m0 31v1m1-2v1m1-25v2m1-15v1m0 27v1m0 5v1m1-51v2m0 9v1m0 15v1m1-28v1m0 9v2m0 34v1m1-52v1m0 3v1m0 24v1m1 14v1m2-25v1m1-22v1m0 21v1m0 10v1m0 1v1m0 25v2m1-29v1m1-38v1m0 58v1m1-26v1m1 20v1m0 5v1m2-4v1m1-22v1m0 18v1m1-23v1m0 1v1m0 11v1m0 5v1m1-33v1m1 10v1m0 11v1m0 3v1m1-35v1m0 1v1m0 25v1m0 1v2m1-34v3m0 10v1m0 14v1m0 1v1m1-33v2m0 28v1m0 20v1m1-55v1m0 2v1m0 47v1m1-57v2m0 4v1m0 11v1m0 1v1m0 38v1m1-27v1m0 18v1m0 5v1m1-56v1m2 24v1m0 19v1m2-52v1m0 49v1m0 1v1m1-32v1m0 3v1m0 23v1m1-27v1m0 11v1m1-18v1m0 1v1m0 42v2m1-33v1m2 23v1m1-20v2m0 21v1m1-40v1m0 15v1m1-30v2m1-2v1m0 9v2m0 14v1m0 14v1m1-47v1m0 3v1m1-7v1m0 4v1m1-2v1m2 18v1m0 38v2m1-64v1m0 34v1m0 27v1m1-2v1m3-5v1m1-37v1m1 25v1m1 3v1m1-33v1m0 12v1m1 9v1m0 3v1m1-35v1m0 1v1m0 25v1m0 2v1m1-34v3m0 25v1m0 1v1m1-33v3m0 27v1m0 20v2m1-56v1m0 2v1m0 51v1m1-61v1m0 19v1m0 14v1m0 18v1m1-50v1m1 51v1m1-56v1m0 27v1m0 18v1m2-51v1m0 48v1m1-2v1m0 1v1m1-3v1m1-28v1m1-5v2m0 42v2m1-1v1m3-5v1m1-26v1m1-28v2m0 12v1m1-4v1m1 28v1m1-22v1m1-23v1m1-2v1m0 33v1m1-17v1m0 1v1m0 38v1m0 1v1m2-35v1m0 3v1m1-7v1m0 32v1m1-36v1m1 2v1m0 28v1m1-32v1m1-3v1m0 10v1m2 8v1m0 4v1m1-36v1m0 2v1m0 28v1m1-35v1m0 1v1m0 14v1m0 13v1m1-34v3m0 14v1m0 12v1m1-33v1m0 1v1m0 14v1m0 10v1m0 22v1m0 1v1m1-57v1m0 2v1m0 11v1m0 16v1m1-38v1m0 6v1m0 12v1m0 39v1m1-56v1m1 26v1m2-32v1m0 47v1m0 4v1m1-56v1m0 52v1m1-18v1m0 12v2m1-18v1m0 1v1m0 12v1m1-31v1m0 2v1m1-5v2m0 13v1m0 28v1m0 1v1m1-2v1m1-2v1m1-39v1m0 3v1m0 10v1m0 21v1m1-36v1m0 11v1m2-32v3m0 9v1m0 1v1m0 13v1m0 14v1m0 5v1m1-49v1m0 9v1m1-12v1m0 42v1m1-21v1m1-3v1m1 8v2m1-37v1m0 20v1m0 13v1m0 24v1"/>
<path stroke="#20a5e3" d="m1 4v1m0 19v1m0 1v1m0 11v1m1-1v1m0 26v1m1-65v1m1 33v1m1 26v1m2-10v1m0 5v1m2-24v2m0 17v1m1-36v1m0 2v1m1 23v1m0 2v1m1-34v2m0 26v2m1-16v1m0 11v1m1-15v1m0 11v2m1-32v1m0 28v1m0 20v1m0 1v1m1-57v2m0 1v1m0 13v1m0 11v1m1 0v1m0 24v1m1-56v1m1 26v1m0 24v1m1-56v1m1 21v1m1-26v1m0 50v2m1-17v1m1-17v1m0 2v1m0 11v1m1-17v2m0 10v1m1-3v1m0 33v1m3-4v1m1-24v1m0 15v1m1-34v1m0 1v1m1-16v1m0 26v1m1-31v1m0 2v1m1-6v1m0 3v1m1 22v1m2 7v1m1-37v1m0 34v1m1 26v1m3-34v1m0 22v1m0 5v1m1-32v1m1-3v1m1-7v1m0 13v1m0 13v1m1-15v1m0 16v1m1-35v1m0 1v1m0 25v1m0 1v2m1-34v2m0 14v1m0 12v1m1-3v1m1-4v2m1-32v1m0 15v1m0 33v1m0 1v1m1-57v2m0 1v1m0 12v2m0 14v1m0 23v1m1-55v1m0 24v1m0 27v1m1-31v1m0 3v1m0 24v1m1-56v1m0 23v1m1 22v1m0 4v1m1-56v1m0 49v1m0 2v1m1-56v1m0 50v2m1-17v1m1-14v1m1-4v1m0 13v1m2 24v1m1-31v1m0 27v1m1-31v1m0 27v1m1-20v2m1-16v1m0 34v1m1-51v2m0 41v1m1-44v1m0 41v1m0 2v1m1-51v1m0 3v1m0 24v1m1-32v1m0 4v1m0 23v1m1-26v1m0 22v1m1 9v1m1-37v1m0 62v1m1-30v1m1 21v1m0 4v1m1-31v1m3-11v1m1 1v1m1 7v1m0 18v1m1-35v1m0 1v1m0 10v1m0 16v2m1-33v1m0 11v1m0 15v1m1-3v1m1-4v2m1-32v2m0 14v1m0 13v1m0 22v1m1-58v1m0 2v1m0 13v1m0 34v1m1-57v1m0 5v1m1 26v1m1-31v1m0 47v1m0 5v1m1-56v1m0 52v1m1-56v1m0 27v1m0 21v1m0 2v1m1-28v1m0 23v1m1-17v2m1-15v1m1-4v1m1 43v1m1-34v1m0 31v1m1-2v1m2-38v1m0 10v1m0 22v1m1-39v2m0 13v1m0 20v1m1-51v2m0 46v1m1-23v1m0 15v1m0 1v2m2-27v1m1-23v1m0 22v1m1-25v1m0 19v1m0 14v1m1-5v1m2-1v1m1 26v1m1-36v1m1 31v1m1-22v1m0 18v1m1-33v1m0 11v1m1 10v1m0 3v1m1-35v1m0 1v1m0 13v1m0 12v3m1-33v1m0 27v2m1-4v1m1-4v2m1-32v2m0 12v1m0 15v1m0 22v1m1-59v2m0 3v1m0 12v1m0 39v1m1-62v1m0 34v1m0 24v1m1-56v1m1 51v1m1-56v1m0 27v1m0 20v1m0 3v1m1-28v1m0 22v1m0 1v1m1-32v1m0 3v1m0 23v1m1-27v1m0 9v2m1-17v1m0 1v1m0 12v1m2-4v1m2 28v1m1-39v1m0 14v1m1-15v1m0 12v1m0 20v1m1-39v2m0 11v1m0 17v1m1-46v3m0 22v1m0 2v1m0 19v1m1-48v1m0 21v1m0 19v3m1-46v1m3-5v1m0 20v1m0 13v1m0 26v1m1-64v1m0 34v1m0 27v1m1-2v1m1-31v1m3 17v1m0 5v1m1-22v1m0 18v1m1-3v1m1-36v1m0 2v1m0 12v1m0 15v1m1-34v2m0 26v3m1-33v1m0 27v2m1-4v1m1-31v1m0 28v1m0 21v1m1-55v2m0 26v1m0 25v1m1-60v2m0 3v1m0 12v1m0 15v1m0 23v1m1-2v1m1-56v1m0 47v1m0 5v1m1-56v1m0 27v1m2-9v1m0 26v1m0 1v1m2-30v1m1-4v1m1 41v1m2-38v1m2 10v1m0 21v1m1-37v1m0 12v1m1-17v1m1-16v3m0 41v1m0 3v1m1-51v1m0 2v1m0 41v2m1-45v1m1-2v1m1-2v1m1 18v1m0 40v2"/>
<path stroke="#1ca9df" d="m0 5v1m2-4v1m0 61v1m1-29v1m0 24v1m0 2v1m1-2v1m1-31v1m3 23v1m1-36v1m0 2v1m0 24v1m1 1v1m1-34v2m0 13v1m0 13v2m3-24v1m1 12v1m0 22v1m1-54v1m0 13v1m0 14v1m0 20v1m0 2v1m1-60v2m0 3v1m0 25v1m0 26v1m1-7v1m0 4v1m1-56v1m1 22v1m0 3v1m0 20v1m0 3v1m1-56v1m0 27v1m0 22v3m1-28v1m1-3v1m1-5v2m2 9v1m0 29v1m1-4v1m0 2v1m1-6v1m0 3v1m1-7v1m1-32v1m0 11v1m0 21v1m1-38v1m0 34v1m1-7v1m0 3v1m1-50v2m0 42v3m1-47v1m1-6v1m1 2v1m0 20v1m1-23v1m0 20v2m1 37v2m1-65v1m0 59v1m1-27v1m0 23v1m1-3v1m0 4v1m2-4v1m1-36v1m0 32v1m1-21v1m0 17v1m1-33v1m0 10v1m0 14v1m0 2v1m1-33v1m0 27v1m2-21v1m0 2v1m1-3v1m1 9v2m0 21v1m1-54v1m0 49v1m0 2v1m1-60v2m0 3v1m0 28v1m0 19v1m1-51v1m1 26v1m0 19v1m0 4v1m1-56v1m0 49v1m0 2v1m1-4v2m2-33v1m0 2v1m1-5v2m0 12v1m2 26v2m2-3v1m1-2v1m1-39v1m1-2v1m1 12v1m0 19v1m1-50v2m0 43v2m4-50v1m0 20v2m1 9v1m0 1v1m0 25v2m1-1v1m3-34v1m0 28v1m1-36v1m0 3v1m1-3v1m0 23v1m1-16v1m0 17v1m1-35v1m0 1v1m0 12v1m0 12v1m0 2v1m1-33v1m0 27v1m1-16v1m2-5v1m1-5v1m0 13v2m0 21v2m1-56v2m0 29v1m0 23v1m1-60v1m0 3v1m0 53v1m1-56v1m0 53v1m1-28v1m0 24v1m1-6v1m1-1v2m2-30v1m1-5v2m1 11v1m1 27v2m2-35v1m1-6v1m0 2v1m0 32v1m1-24v1m1-4v1m0 17v1m1 1v1m1-50v3m0 42v1m1-45v1m0 21v1m0 2v1m1-27v1m0 23v1m2-6v1m0 12v1m1-37v1m0 60v1m0 1v1m1-33v1m0 2v1m1-6v1m0 31v1m1-35v1m0 3v1m1-3v1m1 21v1m1-27v1m1 22v1m0 3v1m1-35v1m0 1v1m0 28v1m1-33v1m4 6v1m0 11v2m0 21v1m1-55v3m0 28v1m0 23v1m1-55v1m0 52v1m1-27v1m0 19v1m0 4v1m1-56v1m0 48v1m1-1v1m1-53v1m0 51v1m2-30v1m1-4v1m2 39v1m0 1v1m1-34v1m0 31v1m1-38v1m1 0v1m1 9v1m1-2v1m0 20v1m1-7v1m0 2v1m1-50v1m0 1v1m0 25v1m3-30v1m0 22v1m1 9v1m1 24v1m3-2v1m4-41v1m0 2v1m0 11v1m0 12v1m0 3v1m1-34v2m0 26v1m0 1v1m4-26v1m0 14v1m1-16v1m0 13v1m0 20v1m0 1v1m1-57v3m1-7v1m0 4v1m0 28v1m2 16v1m0 4v1m1-56v1m0 27v1m0 21v1m0 2v1m1-28v1m0 23v1m1-27v1m1-6v1m0 13v1m1-16v1m0 11v1m0 1v1m1-5v1m1-3v1m0 2v1m0 28v1m0 1v1m2-3v1m2-40v1m0 30v1m0 4v1m1-3v1m1-23v1m0 18v1m2-52v1m2 21v1m0 1v1m1-25v1m0 33v2"/>
<path stroke="#18addb" d="m0 0v1m0 25v1m0 1v1m1-26v1m0 21v1m1 10v2m1-38v1m1 58v1m2-29v1m0 23v1m0 4v1m2-34v1m1 26v1m1-34v2m0 11v2m0 13v3m5-26v1m1 34v1m1-57v3m0 49v1m1-57v1m0 4v1m0 25v1m0 2v1m1-6v1m0 23v1m0 3v1m1-56v1m0 50v3m2-57v1m1 22v1m1 11v1m3-5v1m2-5v1m0 32v1m1-38v1m1 11v2m1 17v1m1-22v1m1-30v2m1-1v1m1 21v1m2-27v1m0 33v2m1-2v1m0 27v1m1-2v1m1-31v1m3 18v1m1-28v1m0 28v1m1-34v2m0 27v2m1-20v1m0 1v1m1-5v1m3-6v2m1 11v1m1-34v3m0 53v1m1-61v1m0 4v1m0 53v1m1-56v1m0 52v1m1-27v1m0 22v2m1-55v1m0 27v1m1-3v1m4 4v1m1 29v1m3-39v1m0 33v1m1-25v2m0 16v1m0 3v1m1-6v1m2-49v1m0 1v1m1-2v1m0 21v1m1-24v1m0 22v1m2-27v1m1 31v1m1 0v1m1 26v1m1-35v1m1 30v1m1-3v1m1-33v1m0 25v1m0 2v1m1-33v1m0 27v2m3-21v1m2-6v1m1 11v1m0 23v1m1-58v3m0 29v1m0 23v1m1-6v1m0 3v1m1-56v1m0 49v1m1-52v1m0 27v1m0 22v3m1-56v1m1 22v1m0 2v1m2 6v2m3 26v1m1-2v1m2-39v2m0 33v1m1-3v1m1-25v1m0 1v1m0 16v1m0 1v1m1-24v1m1-28v1m0 1v1m3-4v1m1 33v1m0 26v1m1-1v1m3-5v1m1-32v1m0 28v1m1-3v1m1-35v1m0 1v1m0 11v1m1-16v1m0 13v1m0 13v2m2-19v1m1-3v1m1-5v1m0 1v1m1-4v1m0 36v1m1-27v1m1-34v5m1-2v1m0 52v1m1-27v1m0 24v1m1-56v1m0 51v2m1-31v1m2-4v1m1 10v1m1-1v1m1 28v1m1-36v1m1 0v1m1 30v1m1-38v2m0 29v1m2-3v2m1-48v1m1-4v1m0 2v1m0 24v1m1-27v1m0 23v1m1-5v1m1-24v1m1 60v2m1-30v1m0 27v1m1-2v1m1-31v1m1-3v1m0 23v1m0 4v1m1-32v1m1-3v1m0 28v1m1-33v1m0 11v1m1 13v1m1-17v1m3-7v1m1-4v1m0 13v1m0 22v1m1-27v1m0 1v1m0 20v1m0 2v1m1-59v2m0 1v1m0 49v1m0 3v1m1-56v1m0 28v1m0 24v1m1-56v1m0 49v1m0 2v1m1-56v1m0 24v1m0 26v2m3-33v2m3 37v1m1-33v1m0 28v1m0 2v1m1-35v1m0 28v1m1-32v1m0 28v1m1-33v1m0 12v1m1-2v1m1 15v2m1-48v2m0 25v1m1-28v1m0 24v1m1-27v1m0 23v1m1-26v1m0 21v1"/>
<path stroke="#12b1d6" d="m0 4v1m2-4v1m1 60v2m1-30v1m0 27v1m1-6v1m0 3v1m2-33v1m0 28v1m1-35v1m0 27v1m0 3v1m1-33v1m0 26v1m0 1v1m2-22v1m1-3v1m0 1v1m1-5v1m0 1v1m1-3v1m1-4v1m1 11v1m0 22v1m1-25v1m0 23v1m1-59v4m0 50v1m0 1v2m1-60v1m0 3v1m0 28v1m0 21v3m2-57v1m2 22v2m2 8v1m2 26v2m1-34v1m0 31v1m2-38v1m0 33v1m1-6v1m0 2v1m1-23v1m0 17v2m2-23v1m1-30v1m0 1v1m0 22v1m0 1v1m1-27v1m0 22v1m1-25v1m1-3v1m1 32v1m0 27v2m3-33v1m0 28v1m1-35v1m0 2v1m0 28v1m1-32v1m0 28v1m1-34v2m0 26v1m0 1v1m1-19v1m6 1v1m0 22v2m1-26v1m0 23v1m1-59v4m0 29v1m0 20v1m0 2v1m1-56v1m0 50v3m1-55v1m1-3v1m1 23v1m1-2v2m1 9v1m3-5v1m0 29v2m1-34v1m1-5v1m0 1v1m0 32v1m1-37v1m2 8v1m0 19v2m1-24v1m0 1v1m1-29v1m0 23v1m0 1v1m1-30v1m0 26v1m1-4v1m1-25v1m1 33v1m1-2v1m0 25v1m0 1v1m1-33v1m0 30v1m1-34v1m0 2v1m1 26v1m1-7v1m1-28v1m0 28v1m1-34v2m0 27v2m1-19v1m1-2v1m5 2v1m0 22v2m1-4v1m0 1v1m1-59v2m0 1v2m0 28v1m0 23v1m1-4v3m1-56v1m1 26v1m2-7v2m3 7v1m1 27v1m1-35v1m1-1v1m1 27v1m1-20v1m1 16v1m1-21v1m1-29v1m1-4v1m0 2v1m1-2v1m0 21v2m2 8v1m1 24v1m0 1v1m1-30v1m1 26v1m1-7v1m2-30v1m0 25v1m1-30v1m0 27v3m7-17v1m0 21v3m1-26v1m0 20v1m0 2v1m1-59v1m0 2v1m0 50v1m0 1v1m1-55v1m0 50v3m1-27v1m1-3v1m1-3v1m1-4v1m1 10v1m1-4v1m1-3v1m1 29v1m0 1v1m1-5v1m0 2v1m1-36v1m0 29v1m1 1v1m1-24v1m0 17v1m0 2v1m1-23v1m2-31v2m1-2v1m1-2v1m0 22v1m2 8v2m1 23v1m2-5v1m2 0v1m1-35v1m0 1v1m0 25v1m1-30v1m0 27v3m1-20v2m2-4v1m1-5v1m0 1v1m3 6v1m0 23v1m1-56v1m0 27v1m0 1v1m0 23v1m1-56v1m0 26v1m0 23v1m0 1v2m1-56v1m0 25v1m0 2v1m0 22v2m3-33v1m0 1v1m2 7v1m1-2v1m4-10v2m0 33v1m1-3v1m1-24v1m0 17v1m0 2v1m3-53v2m1 21v1"/>
<path stroke="#08b5d0" d="m0 1v1m0 1v1m0 23v1m1-26v1m1-3v1m1 33v2m2-4v1m1 26v1m1-34v1m1-1v1m0 28v1m1-33v1m0 28v1m2-20v1m6 1v1m0 22v2m1-26v1m0 22v1m1-57v3m1-2v1m0 28v1m1-32v1m0 28v1m1-5v1m0 1v1m3 5v1m1-2v1m3-8v2m3 6v1m1-3v1m1-3v1m1-27v1m1-4v1m0 1v1m1-2v1m2 32v1m1-4v1m0 1v1m0 27v1m1-2v1m1-34v1m1 25v1m1-29v1m1 25v1m3-21v1m1-3v1m1-4v2m3 6v1m0 22v2m1-3v2m1-58v3m0 29v1m1-32v1m0 28v1m1-3v1m1-3v1m3 5v2m3-8v1m0 31v1m0 1v1m1-36v1m1 28v1m0 2v1m1-5v1m0 1v1m1-23v1m3-32v2m1-2v1m3 58v1m3-33v1m0 24v1m1-28v1m0 28v1m1-34v1m0 27v1m4-22v1m1-3v1m1-4v2m3 6v2m0 22v1m1-56v1m0 52v2m1-57v3m0 28v1m1-32v1m1 24v1m1-2v2m3 5v2m1-4v1m1-3v1m0 1v1m0 30v1m1-34v1m0 29v1m0 1v1m1-36v1m0 30v1m0 2v1m1-3v1m1-5v1m0 1v1m1-23v1m2-4v1m1-29v2m0 23v2m1-27v1m1-2v1m2 32v1m0 26v1m1-4v1m0 2v1m1-31v1m0 24v1m1-28v1m0 28v1m1-32v1m0 28v1m1-34v2m0 29v1m2-22v1m1-2v1m2-6v1m1-2v1m3 6v1m0 23v2m1-57v2m0 29v1m0 22v1m1-56v2m1-2v1m0 25v1m2-4v2m4 5v1m1 28v1m1-34v1m1-4v1m0 33v1m2-6v2m2-24v1m2-31v2m0 23v2m1-27v1m3 59v1m1-30v1m0 24v1m0 2v1m1-2v1m2-36v1m0 1v1m0 25v1m1-30v1m0 27v1m0 1v1m3-24v1m1-3v1m2-4v1m2 32v1m1-3v2m1-57v2m0 52v1m1-55v1m1 27v1m1-3v1m1-4v1m5 34v2m1-2v1m2-7v1m1-2v2m1-23v2m2-6v1m1-27v2m0 23v1m1-26v1"/>
<path stroke="#01b8ca" d="m0 2v1m1-3v2m3 30v1m0 27v2m1-2v1m1-33v1m0 1v1m1-3v1m0 25v1m0 2v1m1-33v1m0 27v2m4-24v1m1-3v1m1-3v1m5 4v1m1-33v2m2 24v1m4 4v1m1-2v1m1-4v2m0 30v2m1-4v1m0 1v1m1-5v1m0 1v1m1-4v2m2-24v1m1-3v1m1-3v1m1-28v1m1-2v1m3 58v2m1-32v1m0 1v1m1 23v1m0 2v1m1-32v1m0 28v1m1-33v1m0 27v3m3-23v1m1-3v1m1-3v1m5 4v1m2-34v1m1 25v1m1-2v1m4 4v2m1-4v1m1-2v1m0 31v1m1-4v1m0 1v1m1-3v1m1-3v1m2-24v1m1-3v1m1-3v1m1-28v2m1-2v1m2 32v1m1-2v1m0 25v1m0 1v1m1-5v1m0 2v1m1-3v1m1-3v1m1-32v1m0 27v2m3-23v1m1-3v1m1-3v1m5 3v2m2-6v1m0 1v1m1-3v1m7-2v1m0 31v1m2-5v1m1-2v1m2-24v1m1-3v1m2-29v1m3 31v1m1-2v1m0 27v1m1-2v1m2-35v1m0 27v1m1-2v2m3-23v1m1-3v2m1-3v1m4 5v1m1-4v1m1-3v1m0 1v1m1-3v1m1-3v1m4 4v1m2-4v1m1-4v1m0 31v2m2-6v1m0 1v1m2-25v1m1-3v1m1-3v2m5 2v2m0 26v1m2-31v1m1-3v1m0 28v1m1-3v1m1-4v1m3-22v1m1-3v1m1-3v1m4 5v1m1-2v1m3-8v2m4 4v1m1-2v1m1-3v1m1-4v2m0 30v2m1-4v1m0 1v1m1-4v2m3-27v2m1-3v1"/>
<path stroke="#02bac3" d="m4 33v1m1-4v1m0 27v2m1-4v1m0 1v1m1-32v1m0 27v2m11-24v1m1-3v1m1-3v2m1-4v2m6 0v1m2 28v1m1-3v1m10-25v1m1 24v1m0 1v1m1-31v1m0 27v1m1-32v1m0 27v2m11-24v1m1-3v2m1-4v2m1-3v1m6 1v1m2 27v1m1-3v1m10-25v1m0 27v1m1-30v1m0 27v1m1-31v1m1-4v2m0 26v2m12-26v2m1-3v1m1-3v1m5 3v1m1-3v1m2 27v2m1-3v1m10-26v1m0 27v1m1-30v1m0 27v1m1-32v2m0 26v1m0 1v1m1-32v1m0 27v2m11-24v1m2-5v1m1-3v1m5 3v1m1-3v1m2 27v2m1-3v1m10-26v2m0 26v2m1-32v1m0 27v1m0 1v1m1-33v2m0 26v1m0 1v1m1-32v1m0 27v2m11-24v1m1-2v1m1-4v2m6 0v1m1-3v1m2 28v1"/>
<path stroke="#0bbdbd" d="m5 31v1m1-3v1m0 27v1m35-28v1m0 27v1m1-31v1m0 27v1m35-28v1m0 27v1m1-31v1m0 27v2m35-29v1m0 27v1m1-2v1m13-27v1m22-2v1m0 27v1m1-3v1m13-27v1"/>
</g>
</g></g>
<rect x="226" y="245.5" width="10" height="135.5" fill="url(#pg)" stroke="#4a4a30" stroke-opacity=".7" stroke-width=".6"/>
<text class="t" x="240.1" y="264.25" font-size="10.4">4</text>
<text class="t" x="240.1" y="294.75" font-size="10.4">3</text>
<text class="t" x="240.1" y="325.15" font-size="10.4">2</text>
<text class="t" x="240.1" y="355.65" font-size="10.4">1</text>
<text class="t" x="39.7" y="262.972" font-size="10.4" text-anchor="end">15</text>
<text class="t" x="39.7" y="297.275" font-size="10.4" text-anchor="end">10</text>
<text class="t" x="39.7" y="331.579" font-size="10.4" text-anchor="end">5</text>
<text class="t" x="39.7" y="365.883" font-size="10.4" text-anchor="end">0</text>
<text class="t" x="75.3408" y="396.75" font-size="10.4" text-anchor="middle">-10</text>
<text class="t" x="132" y="396.75" font-size="10.4" text-anchor="middle">0</text>
<text class="t" x="188.659" y="396.75" font-size="10.4" text-anchor="middle">10</text>
<text class="t" x="132" y="413.3" font-size="11.4" text-anchor="middle">x<tspan dy="5.9" font-size="9.5">1</tspan></text>
<text class="t" transform="translate(16,313.75) rotate(-90)" font-size="11.4" text-anchor="middle">t<tspan dy="6.1" font-size="10">1</tspan></text>
<text class="t" x="132" y="234.5" font-size="12.2" font-weight="bold" text-anchor="middle" fill="#000">|S<tspan dy="5.7" font-size="10.6">5</tspan><tspan dy="-5.7" font-size="12.2">|</tspan></text>
<text class="s" x="137.5" y="436" font-size="11.6" text-anchor="middle">(<tspan font-weight="bold" font-size="12.6">c</tspan>)</text>
<g clip-path="url(#cpd)"><g filter="url(#bl)">
<rect x="324" y="245" width="188" height="138" fill="#2b91ef"/>
<g transform="translate(324.5,245)" fill="none" stroke-width="1">
<path stroke="#402ab4" d="m12 52v1m5-32v1m0 30v2m9-15v1m1-2v1m1 0v1m1-35v1m20 46v1m2 35v2m0 33v1m13-86v1m2-33v1m19 44v2m5-1v1m9-14v1m1-2v1m1-1v2m2-34v1m19 45v2m5-33v1m0 30v2m9-15v1m1-2v1m1 0v1m0 50v1m0 33v1m23-36v1m0 33v1m11-85v1m2-2v2m2-34v1"/>
<path stroke="#422ec0" d="m12 51v1m0 1v1m2 34v2m13-51v1m1-2v1m0 1v1m0 48v3m0 31v4m1-121v1m1-1v2m3 19v4m0 2v2m15 15v3m1 0v1m2 33v1m0 2v1m0 30v2m0 1v2m2-74v1m1-32v1m0 30v2m6-47v1m2 31v1m1-2v2m1-1v1m1-37v2m0 83v4m0 31v3m1-121v1m0 1v1m4 25v3m15 17v1m1-1v1m2 35v1m0 32v2m2-103v1m0 29v1m0 1v1m10-15v1m2-36v2m1 1v1m3 20v2m16 21v1m2 35v3m0 33v1m12-86v1m1 0v1m1-2v1m0 1v1m0 47v2m0 1v1m0 30v2m0 1v2m1-122v2m1-1v2m3 19v3m0 3v2m15 15v3m1-1v2m2 33v2m0 1v1m0 30v2m0 1v2m2-74v1m1-32v1m0 31v1m6-47v1m3 30v2m2-37v2m0 83v4m0 32v2m1-119v1m4 26v2"/>
<path stroke="#4332cb" d="m3 48v4m9-2v1m0 3v1m1-2v1m1-35v2m0 65v2m0 2v1m0 30v4m1-104v1m1-1v1m1 0v1m0 28v1m0 2v1m5-22v1m1-27v1m1 1v1m1 30v1m1-3v1m2-2v1m0 49v2m0 3v2m0 27v2m0 4v1m1-124v1m4 21v1m0 4v2m7 13v3m4-49v1m4 48v1m1 1v1m0 2v1m2-35v2m0 63v2m0 4v1m0 28v1m0 5v1m1-106v1m1-1v1m0 29v1m0 1v1m2-19v2m6-27v2m1 28v1m2-4v1m1-33v1m0 33v2m0 46v1m0 4v1m0 28v2m0 3v2m2-122v1m3 25v1m5-26v3m1 39v4m9-3v1m1 1v1m0 1v1m2-35v2m0 65v2m0 1v2m0 29v1m0 2v2m1-105v1m3 13v1m3-3v1m2-26v1m1 2v3m3 23v1m0 2v1m0 49v2m0 31v3m1-123v1m0 2v1m1-2v1m3 21v1m0 2v3m1 1v2m6 11v5m4-51v1m4 49v1m1 2v1m2-36v3m0 63v2m0 3v2m0 29v2m0 1v2m1-105v1m1-1v1m1 0v1m0 28v1m0 2v1m6-48v1m1 1v1m1 29v2m3-38v1m0 83v1m0 4v2m0 27v1m0 5v1m1-124v1m0 2v1m4 18v1m0 3v3m0 2v1m6 15v2m1-7v2m8 1v1m0 3v1m1-3v1m0 2v1m2-35v2m0 64v1m0 4v1m0 28v1m0 5v1m1-106v1m1-1v1m0 29v1m0 1v1m1-2v1m1-18v2m5-29v1m1 1v2m1 28v1m2-4v1m1-33v1m0 81v1m0 4v1m0 29v2m0 2v2m1-123v1m4 27v1m5-28v3m1 40v4"/>
<path stroke="#4537d5" d="m2 4v5m1 38v1m0 4v2m4-54v4m4 46v2m2 0v1m0 1v1m1-45v9m0 2v1m0 62v2m0 5v1m0 28v1m0 4v2m1-124v1m0 16v1m0 1v1m1 27v3m1-3v1m2-16v1m5-28v1m1 4v1m0 25v1m2-3v1m1-36v3m0 36v1m0 10v2m0 32v1m0 7v1m0 25v1m0 7v1m1-122v1m1-3v1m0 2v1m3 26v1m6 15v3m1-9v1m0 3v2m4-50v1m4 46v1m0 4v1m3-48v3m0 10v1m0 2v1m0 61v1m0 7v2m0 24v2m0 7v1m1-108v1m0 1v1m1-1v1m0 27v1m0 3v1m1-33v1m0 28v1m0 2v1m4-22v1m1-2v1m1-25v1m1 0v1m0 2v1m3 27v1m1-39v1m0 35v1m0 2v1m0 43v2m0 6v2m0 25v1m0 7v1m2-122v1m2 20v2m1-4v6m0 4v1m5-32v2m0 3v2m1 36v1m0 4v2m1-10v1m8 3v1m0 4v1m1-4v1m1-39v8m0 66v2m1-86v3m0 16v1m0 63v1m0 5v1m0 26v2m0 5v1m2-105v1m0 27v1m0 3v1m1-2v1m6-47v1m0 1v1m1 0v1m0 3v2m0 2v3m0 19v1m1-3v1m0 1v1m1-4v1m1 50v2m0 2v1m0 28v2m0 3v2m1-41v5m0 31v3m1-118v1m3 17v1m0 6v1m1-1v1m5-30v4m1 38v1m0 5v1m4-53v1m0 1v1m4 46v2m0 1v1m1-3v1m1 1v3m1-46v4m0 4v2m0 65v1m0 7v1m0 26v2m0 5v1m1-107v1m0 1v1m1 27v4m6-22v2m2-26v1m0 1v1m3 26v1m1-36v1m0 1v1m0 32v1m0 3v1m0 10v1m0 32v2m0 7v1m0 25v1m0 7v2m2-125v1m9 44v1m0 2v2m1-10v1m0 2v2m4-50v2m4 46v1m3-44v3m0 11v1m0 2v1m0 61v2m0 6v2m0 24v2m0 7v1m1-106v1m1-1v1m0 27v1m0 3v1m1-33v1m0 28v1m0 2v1m4-22v1m1-2v1m2-24v1m0 2v1m3 27v1m1-39v1m0 35v3m0 44v2m0 6v1m0 26v2m0 6v1m1-121v1m1-3v2m2 20v3m1 0v2m0 3v1m5-33v2m0 3v3m1 36v1m0 4v2"/>
<path stroke="#463cde" d="m2 3v1m0 5v2m1 35v1m0 7v2m8-8v2m0 2v1m1-4v1m0 5v1m1-5v1m0 3v1m1-48v2m0 12v1m0 59v2m0 8v2m0 24v2m0 7v1m1-126v1m0 1v1m0 83v4m0 28v6m1-106v1m0 1v1m0 26v1m0 3v2m1-35v1m1 15v1m1-3v1m3-3v1m1-27v1m1 3v1m1 0v2m0 1v6m1 20v1m1-1v1m1-40v1m0 34v1m0 5v1m0 8v1m0 2v1m0 29v2m0 9v1m0 23v1m0 9v2m1-128v1m4 21v1m5-16v4m1 36v1m0 3v2m1-12v1m0 6v2m4-51v1m4 44v1m0 6v1m1-5v1m0 4v1m1-4v3m1-50v1m0 3v2m0 7v1m0 63v2m0 10v1m0 22v1m0 10v1m2-109v1m0 28v1m1-30v1m6-15v1m2 31v1m1-2v1m2-37v1m0 4v1m0 30v1m0 4v2m0 39v2m0 10v1m0 23v1m0 9v2m1-127v1m0 3v1m1-4v1m2 21v1m0 2v2m1-7v1m5-22v1m0 7v2m1 41v1m1-13v2m0 1v2m3-47v3m1-4v1m4 47v1m1 6v1m1-44v1m0 8v1m0 62v3m0 2v2m0 31v3m1-119v1m0 12v1m0 65v1m0 7v1m0 24v1m0 8v2m1-109v1m0 1v1m0 27v3m1-33v1m0 28v1m1-29v1m0 30v1m1-19v1m0 1v1m6-21v2m0 3v1m3 14v1m0 4v1m0 44v2m0 5v2m0 25v1m0 7v1m1-122v1m0 77v2m0 5v2m0 27v2m0 3v2m4-94v1m1-3v1m0 3v1m5-34v1m0 4v2m0 42v2m1-1v2m4-52v1m4 44v1m0 4v1m1-5v1m0 5v1m1-5v1m1-45v2m0 4v4m0 5v1m0 59v2m0 9v1m0 24v1m0 8v2m1-127v3m0 117v3m1-105v1m0 1v1m0 26v1m0 4v1m1-35v1m0 29v1m1-15v1m1-3v2m4-30v1m2 6v2m1 25v1m1-1v1m1-40v1m0 3v1m0 30v1m0 5v1m0 8v1m0 1v2m0 29v1m0 10v1m0 23v1m0 10v1m2-123v1m3 16v1m0 10v1m5-30v7m1 35v1m0 5v1m1-12v1m0 5v2m4-50v1m4 44v1m0 6v1m1-5v1m0 4v1m1-40v5m0 31v3m1-51v1m0 3v2m0 72v2m0 10v1m0 22v1m0 10v1m1-109v1m1-1v1m0 28v1m1-30v1m1 13v1m5-29v1m1 6v1m0 7v2m1 15v1m1-2v1m2-32v1m0 30v1m0 3v2m0 40v2m0 9v2m0 23v1m0 9v1m1-126v1m1 0v1m2 21v1m0 3v2m1-7v5m5-28v1m0 8v1m1 34v1m0 7v1m1-13v4"/>
<path stroke="#4741e5" d="m2 2v1m0 8v1m0 40v3m1-10v1m0 10v1m1-16v5m3-42v1m4 41v2m0 5v1m1-6v1m2-42v1m0 15v1m0 56v2m0 12v1m0 22v1m0 10v2m1-129v1m0 3v1m0 13v1m0 66v2m0 4v2m0 24v2m0 6v2m1-80v1m1 0v1m0 5v1m1-19v1m0 15v1m5-46v1m1-2v1m1 12v1m0 20v1m3-37v1m0 37v1m0 6v1m0 4v1m0 25v3m0 12v1m0 20v2m0 12v1m1-124v1m0 77v6m4-56v1m1-4v3m4-28v2m0 4v2m1-14v4m0 43v1m0 6v1m1-4v2m4-52v1m4 42v1m1 2v1m1-34v6m0 29v1m0 3v1m1-52v1m0 6v1m0 5v1m0 5v1m0 56v2m0 13v1m0 20v1m0 12v2m1-130v2m0 48v2m1-5v1m0 6v1m1-6v1m0 4v1m1-22v1m0 2v1m4-5v1m2-26v1m0 4v1m0 7v3m2 16v1m1-5v1m0 87v1m1-89v1m0 7v3m0 1v5m0 24v6m0 13v1m0 20v2m0 12v1m2-124v1m2 23v1m6-30v1m1 43v1m0 8v1m1-15v1m0 5v2m3-50v1m0 3v1m4 45v1m1-4v1m0 7v1m1-6v1m1-41v2m0 10v1m0 29v3m0 27v2m0 7v2m0 26v3m0 3v3m1-126v1m0 4v1m0 75v2m0 9v1m0 21v2m0 11v1m1-81v1m0 3v2m1-7v1m0 6v1m1-34v1m0 28v1m0 2v1m5-49v2m0 24v1m2-24v1m0 12v1m0 16v1m0 1v1m2-2v1m1-39v1m0 50v4m0 27v2m0 9v1m0 23v1m0 9v2m1-129v1m0 36v1m0 42v3m0 9v1m0 24v2m0 7v2m1-126v1m1 0v2m2 18v1m0 9v1m1-5v1m5-30v1m0 7v1m0 40v1m0 2v2m1-11v1m0 9v2m1-16v4m3-41v1m4 41v2m2 7v1m1-33v1m0 56v2m0 12v1m0 21v2m0 11v1m1-129v1m0 85v6m0 26v3m0 3v2m1-79v1m1 0v1m0 5v1m1-21v1m0 1v1m5-30v1m1 2v1m1-1v2m0 2v5m0 21v1m1-5v1m2-38v1m0 42v2m0 4v2m0 4v1m0 24v4m0 12v1m0 20v2m0 12v1m1-129v1m0 4v1m5 25v2m4-30v1m0 7v2m1-14v2m0 52v1m1-14v1m0 8v2m8-8v1m2-33v2m0 5v1m0 29v1m0 3v1m1-46v1m0 7v1m0 4v1m0 56v2m0 13v1m0 20v1m0 12v2m1-81v4m1-6v1m0 6v1m1-6v1m1-14v1m6-30v1m0 5v1m0 4v2m0 2v1m0 16v1m2-1v1m1-5v1m0 51v5m0 29v6m1-127v1m0 34v1m0 6v2m0 33v5m0 13v1m0 21v1m0 11v2m2-124v1m2 17v1m0 6v1m1-9v1m5-13v1m1 42v1m1-15v1m0 4v2"/>
<path stroke="#4747eb" d="m2 1v1m0 10v1m0 38v1m0 3v2m1 0v1m1-18v1m0 5v1m7-3v2m0 8v1m1 1v1m1-7v1m0 5v1m1-5v3m0 23v2m0 15v1m0 19v2m0 13v2m1-132v1m0 22v1m0 27v3m0 31v1m0 8v1m0 22v1m0 10v2m1-83v1m0 7v1m1-33v1m0 24v1m1-14v1m0 2v1m0 13v1m1-17v1m2-4v2m3-24v1m1-2v1m0 10v1m0 16v1m1-2v1m1-2v1m1-37v1m0 34v1m0 8v2m0 2v2m0 6v1m0 17v7m0 16v1m0 18v1m0 15v1m1-51v4m0 6v2m0 26v9m1-125v1m0 4v1m3 14v1m1 7v1m0 3v1m4-31v2m0 8v1m1-16v1m0 4v1m0 50v1m1-15v1m0 11v1m1-17v4m7 0v3m0 9v1m1 0v1m1-43v2m0 6v1m0 62v5m1-78v1m0 3v1m0 36v1m0 23v3m0 16v1m0 17v2m0 15v1m1-132v1m0 2v1m0 45v2m0 2v2m1-8v1m1-25v1m2 10v2m2-2v1m3-21v1m0 4v2m0 3v1m0 15v2m1-1v1m2-1v1m0 46v6m0 27v3m0 1v4m1-129v1m0 6v1m0 39v1m0 5v1m0 20v3m0 20v1m0 18v1m0 15v2m1-131v1m0 5v1m1-6v1m2 21v1m0 6v1m1-10v1m0 12v1m5-36v1m0 11v1m1 31v1m0 10v2m1-18v1m0 8v1m3-46v1m1-5v1m3 46v2m0 1v2m1-7v1m1 9v1m1-34v1m0 27v1m0 3v1m0 24v2m0 11v2m0 22v2m0 9v2m1-129v1m0 16v1m0 4v1m0 57v2m0 12v2m0 18v1m0 14v1m1-83v1m0 6v1m1-33v1m0 23v1m1-28v1m4 11v1m0 1v1m1-4v1m1-26v1m1 16v1m3-23v1m0 1v2m0 37v1m0 9v1m0 4v1m0 18v8m0 12v1m0 20v2m0 12v1m1-95v2m0 1v3m0 31v8m0 13v2m0 20v2m0 11v2m1-123v1m1-3v1m3 17v6m4-17v2m1-15v1m0 9v1m0 38v1m0 5v1m1 0v1m1-18v1m0 4v1m7-3v3m0 8v1m1-7v1m0 7v1m1-7v1m0 5v1m1-51v1m0 45v3m0 23v2m0 15v2m0 18v1m0 14v2m1-132v1m0 4v1m0 13v1m0 3v1m0 27v3m0 32v1m0 6v1m0 24v1m0 8v2m1-82v1m0 7v1m1-33v1m1 14v1m0 13v2m3-21v2m3-28v1m1 12v1m0 17v1m2-3v1m1-31v1m0 28v1m0 9v4m0 25v6m0 17v2m0 17v1m0 15v2m1-51v10m0 29v5m1-123v1m0 4v1m2 18v3m1-7v1m1 8v1m4-30v2m1-5v1m0 2v2m0 42v1m0 8v1m1-4v1m1-15v1m2-39v3m1-2v1m4 40v2m0 9v1m1-7v1m0 6v1m1-44v1m0 8v2m0 59v9m0 30v2m1-121v1m0 7v1m0 5v1m0 35v1m0 24v2m0 16v1m0 17v2m0 15v1m1-131v2m0 46v1m0 4v1m1-8v1m1-25v1m0 31v1m2-22v1m2-1v1m1-4v1m0 1v1m1-25v1m1 5v4m0 5v1m0 16v1m3-1v1m0 44v2m0 5v2m0 25v2m0 6v2m1-123v1m0 37v7m0 22v4m0 19v1m0 18v2m0 14v1m1-124v1m1-6v1m2 29v1m1-11v1m0 12v1m5-36v1m0 11v1m0 38v1m1-8v1m0 10v2m1-18v1m0 7v1"/>
<path stroke="#484df0" d="m1 14v4m1-5v1m0 36v1m0 6v1m1-14v1m0 13v2m1-13v2m3-44v1m4 36v2m1 3v1m1-28v2m0 27v1m1-44v1m0 17v1m0 26v1m0 3v2m0 19v2m0 18v2m0 15v2m0 17v1m1-127v1m0 43v1m0 3v2m0 27v2m0 10v2m0 18v2m0 13v1m1-108v1m0 22v1m0 9v1m1-10v1m0 8v1m1-6v1m0 2v1m2-21v1m3-30v1m0 24v2m1-7v2m1-18v1m3-4v1m0 39v2m0 25v1m0 24v2m0 14v2m0 17v2m1-133v1m0 6v1m0 63v9m0 12v2m0 22v2m0 9v2m2-126v2m1 21v4m1 5v1m1-7v1m4-28v2m1-6v1m0 6v1m0 40v1m0 9v1m1-3v2m1-20v1m0 4v1m2-42v4m1-2v1m4 35v3m1 5v1m1-36v1m0 9v1m0 26v1m0 5v1m0 25v3m0 5v3m0 27v7m1-124v1m0 9v3m0 35v2m0 1v2m0 19v2m0 20v2m0 14v1m0 18v2m1-115v1m0 3v1m0 24v1m0 6v1m0 33v3m0 29v5m1-103v1m0 22v1m0 9v1m1-8v1m3-16v1m2-4v1m1-23v1m1-3v1m0 7v4m0 6v1m3 30v2m0 27v3m0 6v2m0 23v2m0 8v2m1-96v1m0 36v2m0 24v2m0 14v2m0 18v1m2-126v1m2 15v1m0 8v1m2-2v2m4-20v1m0 37v2m1-55v3m0 56v1m1-9v2m4-51v1m3 43v2m0 5v1m1-10v2m0 10v1m1-8v1m1-41v1m0 14v1m0 25v1m0 5v1m0 21v2m0 15v1m0 19v2m0 13v2m1-124v1m0 41v6m0 19v6m0 16v1m0 15v2m0 16v2m1-114v1m0 3v1m0 23v1m0 8v1m1-11v1m0 9v1m1-20v2m0 11v1m0 4v1m1-23v1m0 3v1m1-4v1m1-1v1m3-25v1m1-3v1m1 28v1m1-2v1m1-37v1m0 34v1m0 7v1m0 7v1m0 6v1m0 15v2m0 21v2m0 17v1m0 15v2m1-133v1m0 6v1m0 27v1m0 6v2m0 27v2m0 23v2m0 17v1m0 15v2m2-130v1m2 19v1m0 11v1m1-13v1m0 12v1m4-26v2m0 2v2m1-18v1m0 11v1m0 44v1m1-14v1m0 13v1m1-20v1m0 6v2m3-43v1m4 35v2m0 12v1m1-9v1m1-30v5m1 1v1m0 26v1m0 3v2m0 19v2m0 19v1m0 15v2m0 17v2m1-85v2m0 3v2m0 28v2m0 8v2m0 20v2m0 11v2m1-108v1m0 22v1m0 9v1m1-10v2m0 7v1m1-23v1m0 19v1m1-19v1m4-32v1m0 24v2m1-20v1m0 11v3m1-17v1m2 30v1m1 14v1m0 16v1m0 25v1m0 14v2m0 18v1m1-133v1m0 6v1m0 64v9m0 10v2m0 24v3m0 5v3m2-125v1m1 21v1m0 3v2m1 4v1m1-7v2m0 3v1m4-34v1m0 12v1m1-17v1m0 5v1m0 51v2m1-18v1m0 12v2m1-19v2m0 1v2m2-43v2m0 3v1m5 34v4m1 4v1m1-37v1m0 11v1m0 25v1m0 5v1m0 24v2m0 9v2m0 25v3m0 2v4m1-126v1m0 9v1m0 3v1m0 34v2m0 1v2m0 19v3m0 19v2m0 14v1m0 18v2m1-134v1m0 2v1m0 15v1m0 3v1m0 24v1m0 6v1m1-33v1m0 22v1m0 9v1m1-8v1m2-15v1m1-2v1m5 6v1m2-7v1m0 19v4m0 17v3m0 4v3m0 9v2m0 21v2m0 10v2m1-132v1m0 34v1m0 16v1m0 19v2m0 24v2m0 14v2m0 17v2m1-132v1m3 21v1m6-25v1m0 50v1m0 1v2m1-56v2m0 57v1m1-20v1m0 9v2"/>
<path stroke="#4852f4" d="m1 13v1m0 4v1m1-19v1m0 57v1m1-59v2m0 58v1m1-22v1m0 9v1m4-50v1m3 39v2m0 13v1m1-10v1m0 10v1m1-41v3m0 2v3m0 32v1m1-8v1m0 6v1m0 17v1m0 22v2m0 11v2m0 20v2m1-117v1m0 30v1m0 6v1m0 15v11m0 14v1m0 16v1m0 16v2m1-114v1m1-1v1m0 25v2m1-26v1m0 12v1m0 4v1m1-7v1m3 0v1m1-3v1m1-27v1m0 17v1m0 2v1m1-6v1m1 18v1m1-1v1m1-8v1m0 22v1m0 14v1m0 27v2m0 10v2m0 21v2m1-100v3m0 32v1m0 23v2m0 18v2m0 13v2m1-123v1m1-7v1m0 2v1m1 19v1m0 4v1m2-9v7m0 6v1m4-35v1m0 13v1m1-10v1m0 50v2m1-19v1m0 15v1m1-22v1m0 6v2m2-46v2m0 4v1m5 31v2m0 16v1m1-10v1m0 9v1m1-34v1m0 24v1m0 7v1m0 22v2m0 11v2m0 22v3m0 7v3m1-106v1m0 25v1m0 5v2m0 15v2m0 24v2m0 10v2m0 21v2m1-132v1m0 42v1m0 8v1m0 30v2m0 3v3m0 23v3m0 5v3m1-110v1m0 25v1m1-27v1m0 28v1m0 7v1m1-24v1m0 4v1m5-34v1m0 23v2m1 8v1m1-28v6m0 19v1m1-2v1m1-2v1m0 19v1m0 2v2m0 14v11m0 11v2m0 19v2m0 12v2m1-99v1m0 19v1m0 16v1m0 28v2m0 10v2m0 21v2m1-127v1m0 63v19m0 29v5m3-92v1m1-13v1m1 8v1m0 2v1m4-35v1m0 50v1m0 2v2m1-54v2m0 55v1m1-21v1m0 12v2m1-18v4m2-35v1m4 36v3m0 8v1m1-17v6m1 4v1m0 8v1m1-1v1m0 19v1m0 18v2m0 15v2m0 17v2m1-134v1m0 8v1m0 7v1m0 31v1m0 6v2m0 14v3m0 23v2m0 12v1m0 20v2m1-135v3m0 43v1m1-28v1m0 24v2m1-27v1m0 3v1m0 12v1m0 2v1m2-5v1m1-3v1m2-29v1m1 21v2m1 9v1m1 2v1m1-1v1m1-37v1m0 44v1m0 21v2m0 25v1m0 14v2m0 18v2m1-101v1m0 9v2m0 24v1m0 27v2m0 13v2m0 18v2m1-133v1m0 6v1m1-3v1m3 14v1m4-13v1m0 6v1m1 30v1m0 8v2m1-60v1m0 58v1m1-12v1m4-49v1m3 39v1m1 5v1m0 10v1m1-42v2m0 5v2m0 24v1m0 7v1m0 27v4m1-84v1m0 44v1m0 6v1m0 16v2m0 22v2m0 11v2m0 21v2m1-130v1m0 11v1m0 29v1m0 7v1m0 15v5m0 4v3m0 12v1m0 17v2m0 15v1m1-113v1m1-1v1m0 26v1m1-8v1m0 11v1m1-19v1m1 0v1m2-1v1m2-29v1m0 16v1m1-15v1m0 11v1m1 19v1m1 48v3m0 30v4m1-120v1m0 26v1m0 22v1m0 14v1m0 27v2m0 10v2m0 21v2m1-65v2m0 21v2m0 20v2m0 11v2m1-122v1m1-7v1m0 1v1m1 19v1m0 6v1m1-11v1m1 1v6m4-14v1m1-11v1m0 39v1m0 12v1m1-4v2m1-22v1m0 5v2m2-39v1m1-3v1m4 33v2m0 16v1m1 0v1m1-9v1m0 7v1m0 21v2m0 13v2m0 20v3m0 9v3m1-118v3m0 8v1m0 25v1m0 5v2m0 15v2m0 24v1m0 11v2m0 21v2m1-89v1m0 8v1m0 31v5m0 27v7m1-108v1m0 25v1m1-27v1m0 36v1m1-24v1m0 4v1m3-7v1m1-27v1m1-2v1m0 23v1m1-23v1m0 17v1m0 13v1m0 2v1m1-6v1m1-2v1m1-35v1m0 39v1m0 11v1m0 4v1m0 13v3m0 3v4m0 14v1m0 18v2m0 14v1m1-125v1m0 25v1m0 18v1m0 17v1m0 28v2m0 10v2m0 21v2m1-127v1m0 72v8m1-82v1m2 25v1m1-13v1m1 8v3m3-18v2m1-4v1m0 35v1m0 4v2m1-56v2m0 41v1m0 14v1m1-9v2"/>
<path stroke="#4758f8" d="m0 23v2m1-14v2m0 6v1m1-6v1m0 34v1m0 9v2m1-59v1m0 58v1m1-24v1m0 11v2m3-46v1m1-6v1m3 37v1m1 4v2m1-30v1m0 8v1m0 22v1m0 9v1m0 25v7m1-86v1m0 19v1m0 23v1m0 8v1m0 14v2m0 25v3m0 5v3m0 24v3m1-131v1m0 16v1m0 23v1m0 8v2m0 11v2m0 26v2m0 11v3m0 19v2m1-90v1m0 11v1m1-16v3m0 12v1m1-38v1m0 1v1m0 27v1m0 4v1m2-21v1m4-24v1m0 10v1m0 17v1m1-34v1m0 33v1m0 22v2m1-31v1m1-2v1m0 39v3m0 11v5m0 27v7m1-121v1m0 50v1m0 12v1m0 30v3m0 4v3m0 25v1m1-137v1m0 33v2m0 3v2m0 28v2m0 26v3m0 12v3m0 17v3m1-133v1m1-1v1m1 22v1m0 6v1m1-11v1m1-1v1m2 1v3m2-26v1m1 6v2m0 36v1m0 13v1m1-62v1m0 58v1m1-14v1m6 3v2m1-15v1m2-26v1m0 12v1m0 32v1m0 19v2m0 15v2m0 18v2m0 13v2m1-130v1m0 46v1m0 8v1m0 12v2m0 28v3m0 3v4m0 25v2m1-81v2m0 11v6m0 9v2m0 8v2m0 19v2m0 11v2m1-87v1m0 12v1m1-34v1m0 14v4m0 4v1m1 4v2m1-21v1m1-1v1m1-2v1m1-27v1m1 21v1m1-3v1m0 15v1m0 23v2m1-58v2m0 6v2m0 45v2m1-26v1m1-41v3m0 38v1m0 17v1m0 12v1m0 24v2m0 15v2m0 16v2m1-127v1m0 46v1m0 14v1m0 31v10m0 25v1m1-136v1m0 69v2m0 19v3m0 22v4m0 5v4m1-128v1m2 20v1m1 13v1m1-9v2m2-9v4m1-11v4m1-4v1m0 34v1m0 5v2m1-54v1m0 39v1m0 15v1m1-7v2m1-21v1m0 4v1m3-39v1m3 38v1m0 12v1m1-21v3m0 19v1m1-37v4m0 33v1m1-51v1m0 16v1m0 23v1m0 8v1m0 16v2m0 21v3m0 10v2m0 21v2m1-112v1m0 23v1m0 9v1m0 11v2m0 28v2m0 7v3m0 23v2m1-80v1m0 13v2m1-30v1m0 13v1m1-23v1m0 4v1m0 8v1m5-42v1m0 21v1m0 2v1m1-29v1m0 20v1m0 2v1m1-23v1m0 16v1m0 17v1m0 22v3m3-62v1m0 27v1m0 9v2m0 3v1m0 9v1m0 11v1m0 28v3m0 8v3m0 22v2m1-138v1m0 8v1m0 24v1m0 12v2m0 21v1m0 30v2m0 8v3m0 22v2m2-135v1m1 24v4m1 5v1m1 0v1m1-7v1m2-11v2m1-15v2m1 2v1m0 46v1m1-60v1m0 41v1m0 16v2m1-24v1m0 10v2m2-47v1m5 33v2m0 16v1m1-12v1m1-31v1m0 9v1m0 22v1m0 9v1m0 23v3m0 4v4m0 27v7m1-123v1m0 20v1m0 23v1m0 8v1m0 14v1m0 26v3m0 5v3m0 25v2m1-81v2m0 11v2m0 5v4m0 16v2m0 13v2m0 18v2m1-89v1m0 11v1m1-34v1m0 17v4m1 9v1m4-25v1m1-3v1m0 2v1m1-20v1m0 8v1m0 4v1m0 12v2m1-20v1m0 42v2m1-31v1m1-2v1m0 22v3m0 13v6m0 6v4m0 3v3m0 23v4m0 4v3m1-59v1m0 30v3m0 4v3m0 25v1m1-128v1m0 25v4m0 31v1m0 25v3m0 14v3m0 15v3m1-132v1m1 3v1m1 26v1m1 3v1m1-15v1m0 12v1m2-14v4m2-26v1m1 5v1m0 52v1m1-21v1m0 17v1m1-24v1m0 8v1m6 1v7m1-18v2m1 9v1m1-37v1m0 13v1m0 32v1m0 18v2m0 17v2m0 16v2m0 15v2m1-132v1m0 47v1m0 8v1m0 12v2m0 27v4m0 3v4m0 25v2m1-134v1m0 41v1m0 10v2m0 12v4m0 11v2m0 5v3m0 21v3m0 7v3m1-86v1m0 12v1m1-34v1m0 13v5m0 5v1m2-16v1m1-1v1m2-27v1m1 20v1m0 1v1m1 35v2m1-57v7m0 47v1m1-25v1m1-42v2m0 1v2m0 55v1m0 11v1m0 25v2m0 14v2m0 17v2m1-81v1m0 15v1m0 31v4m0 2v4m0 25v1m1-136v1m0 69v11m0 8v4m0 25v9m1-126v1m2 20v1m0 11v1m1 1v1m1-9v2m0 3v1m2-13v3m1-11v2m0 2v1m1-20v1m0 49v1m0 7v1m1-55v1m0 56v1m1-23v1m0 14v2"/>
<path stroke="#465efb" d="m0 21v2m0 2v1m1-16v1m1 4v1m0 45v1m1-59v1m0 39v1m0 18v1m1-11v2m1-19v4m1-36v3m5 32v1m0 17v1m1-25v12m0 14v1m1-44v1m0 10v2m0 53v3m0 7v4m0 23v11m1-70v1m0 11v2m0 30v5m1-91v1m0 29v1m0 11v1m0 8v2m0 30v2m0 7v2m0 24v3m1-138v2m0 56v1m0 11v4m1-50v1m0 16v1m1-23v1m0 13v1m0 6v1m1-4v1m1-5v1m2-3v1m1-23v1m0 19v1m1-8v1m0 5v1m0 11v1m0 25v2m1-45v1m0 13v1m0 26v1m0 2v1m1-5v3m1-8v4m0 11v2m0 3v11m0 5v3m0 21v3m0 7v3m1-98v1m0 36v1m0 34v4m1-99v1m0 23v1m0 7v2m0 25v1m0 31v3m0 6v3m0 23v2m2-130v1m1 16v1m0 8v1m1 3v1m2-10v4m1-10v2m0 3v1m1-10v5m1-6v1m0 35v2m1-45v1m0 50v2m1-63v1m0 39v1m0 18v2m1-26v1m0 10v1m2-41v1m1-3v1m3 41v3m0 2v2m1-19v2m0 20v1m1-12v1m0 11v1m1-48v1m0 14v1m0 21v1m0 28v1m0 19v3m0 12v3m0 17v3m1-134v1m0 23v1m0 22v1m0 10v2m0 8v2m0 33v3m1-102v1m0 12v1m0 5v1m0 21v1m0 12v1m0 9v1m0 6v3m0 3v3m0 12v1m0 15v3m0 15v2m1-75v1m0 11v3m1-35v1m0 4v4m1 4v1m0 2v1m1-19v1m1-2v1m2-31v1m0 1v1m0 26v1m1-4v1m1-26v1m0 58v1m0 2v1m1-60v1m0 10v1m0 43v1m0 2v1m2-68v1m0 3v1m0 29v1m0 19v1m0 6v1m0 9v2m0 27v2m0 10v3m0 20v2m1-104v1m0 22v1m0 12v1m1 0v2m0 24v3m0 16v3m0 13v3m1-124v1m1-8v3m1 30v1m2-13v6m0 6v1m1-11v5m1-9v1m0 4v1m1-13v1m0 4v2m1-22v1m0 49v1m0 8v1m1-54v1m0 55v2m1-25v1m0 17v2m1-24v1m0 6v2m2-37v1m4 33v1m1-9v2m1-16v2m0 4v3m0 19v1m1-22v1m0 32v1m0 13v2m0 26v10m0 25v2m1-128v1m0 5v1m0 42v2m0 7v2m0 32v7m0 28v1m1-135v1m0 41v1m0 12v1m0 10v2m0 2v2m1-51v1m0 46v1m1-31v1m0 14v1m2-24v1m4-23v1m1 56v1m1-33v1m0 27v3m1-32v1m0 25v2m1-17v3m0 11v1m0 9v1m0 32v8m1-78v1m0 15v1m0 19v1m0 33v8m1-100v1m0 60v20m1-83v1m1 17v1m0 4v1m1-10v1m2 5v3m0 1v2m1-11v6m1-9v1m0 2v2m1-21v4m0 10v1m1-6v1m0 33v1m0 12v2m1-61v1m0 59v1m1-26v1m0 13v2m2-53v4m0 1v2m1-1v1m1-6v1m3 35v1m1-6v8m0 2v3m0 13v1m1-45v1m0 11v2m0 52v2m0 11v3m0 20v4m0 7v4m1-72v1m0 11v2m0 30v5m1-84v1m0 22v1m0 11v1m0 8v2m0 29v2m0 9v2m0 22v3m1-137v2m0 42v1m0 13v1m0 11v4m1-33v1m0 15v1m1-38v2m0 11v1m0 6v1m0 9v1m2-18v1m0 1v1m3-27v1m1 11v1m0 6v1m0 13v1m0 23v2m1-60v1m0 28v1m0 4v1m0 21v1m0 2v1m1-5v2m1-23v1m0 14v1m0 3v1m0 11v1m0 6v6m0 10v2m0 18v3m0 11v3m1-125v1m0 24v1m0 24v1m0 11v1m0 34v4m1-108v1m0 32v2m0 4v2m0 28v1m0 29v3m0 8v3m0 21v3m2-135v1m1 21v1m2-3v1m1 5v3m1-9v1m0 4v1m1-11v5m1-22v1m0 16v1m0 34v4m1-48v1m0 36v1m0 15v2m1-64v1m0 59v1m1-15v1m2-40v1m4 37v2m0 7v1m1-20v1m0 21v1m1-33v2m0 19v1m0 11v1m1-33v1m0 21v1m0 27v1m0 21v3m0 10v3m0 19v3m1-111v1m0 22v1m0 10v2m0 8v2m0 33v3m1-89v1m0 5v1m0 34v1m0 9v2m0 4v3m0 6v2m0 10v1m0 17v3m0 13v2m1-89v1m0 14v1m0 11v3m1-36v1m0 5v5m1 4v2m1-18v1m3-32v1m1 4v1m0 20v1m1-26v1m0 19v1m0 11v1m0 26v1m0 2v1m1-59v1m0 7v2m0 44v1m0 1v2m2-63v1m0 28v1m0 8v1m0 9v1m0 17v1m0 28v3m0 8v3m0 21v3m1-129v1m0 23v1m0 21v1m0 13v1m0 36v2m1-97v1m0 58v2m0 23v3m0 19v3m0 9v3m1-122v1m1-8v3m3 18v6m0 6v1m1-11v4m1-8v1m0 3v1m1-13v1m0 5v1m1-5v1m0 42v2m1-56v1m0 38v1m0 17v2m1-8v2"/>
<path stroke="#4563fd" d="m0 20v1m0 5v1m1-21v4m0 10v1m1 27v1m0 13v2m1-60v1m0 58v2m1-28v1m0 16v2m1-22v1m0 4v2m1-41v3m0 3v1m2-5v1m3 34v1m0 19v1m1-29v3m1-4v1m0 18v1m0 11v1m0 19v2m0 14v2m0 18v3m0 11v3m1-128v1m0 21v1m0 21v1m0 11v2m0 8v1m1-63v1m0 37v1m0 13v3m0 3v2m0 34v7m1-107v1m0 21v1m0 19v1m0 14v1m0 8v2m0 4v1m1-35v1m0 28v4m1-50v1m0 25v1m0 6v1m3-22v1m2-32v1m0 28v1m1-29v1m0 7v1m0 28v1m0 25v1m1-62v1m0 60v1m1-3v1m1-25v1m0 14v1m0 4v1m0 9v1m0 24v2m0 16v3m0 13v3m1-126v1m0 50v1m0 9v1m1-70v1m0 32v1m0 10v1m0 59v6m1-99v1m0 60v6m2-43v1m1-14v1m1-1v1m0 15v1m1-15v5m0 4v1m1-5v1m1-12v1m0 5v1m1-24v1m0 17v1m0 33v1m0 2v2m1-12v1m0 17v1m1-3v1m1-28v1m0 12v1m6-5v3m0 7v1m1-21v1m1-13v13m0 10v1m1-19v1m0 31v1m0 15v2m0 23v3m0 5v4m0 23v3m1-77v2m0 4v2m1-24v1m0 14v1m0 6v2m0 10v3m0 16v3m0 9v3m0 20v3m1-112v1m0 18v1m0 25v1m0 3v1m1-37v1m0 19v1m0 12v3m1-41v1m0 6v1m5-36v1m0 5v1m1 16v1m0 10v1m1-31v1m0 12v1m0 20v1m0 25v1m1-34v1m0 26v4m1-61v1m0 37v1m0 9v1m0 8v1m0 7v1m0 31v4m0 2v4m0 25v1m1-129v1m0 22v1m0 35v1m1-68v1m0 9v1m0 24v1m0 32v1m0 29v3m0 10v3m0 19v3m2-131v1m2 15v1m1 0v1m1 0v2m0 5v1m1-11v1m0 6v1m1-15v1m1 2v1m0 42v2m1-18v1m0 19v1m1-65v1m0 58v1m1-26v1m0 9v1m6-6v2m0 15v1m1-25v1m0 25v1m1-41v1m0 9v2m0 16v1m0 12v1m0 23v9m1-85v1m0 40v1m0 11v1m0 11v1m1-62v2m0 1v2m0 31v1m0 13v2m0 2v3m1-50v1m0 5v1m0 34v1m0 8v1m0 6v2m0 10v8m0 23v11m1-87v1m0 15v1m0 10v2m0 1v1m1-49v1m0 9v1m0 7v1m0 5v1m0 22v1m1-40v1m0 5v1m2-4v1m2-32v1m1 20v1m0 4v1m0 35v3m1-44v1m0 38v1m1-2v1m0 3v1m1-8v1m0 2v1m0 9v7m1-73v1m0 25v1m0 27v1m0 7v1m1-60v1m0 21v1m0 17v2m0 16v1m1-67v1m0 67v2m0 20v4m0 23v11m2-104v1m0 6v1m1 4v1m1-17v1m1 1v5m0 6v1m1-13v1m0 6v1m1-11v1m0 5v1m1-24v2m0 15v1m1 42v2m1-62v1m0 38v1m0 20v1m1-11v1m1-20v6m6-4v1m0 20v1m1-30v4m0 8v2m1-14v1m0 18v1m0 11v1m0 18v2m0 16v3m0 14v3m0 15v3m1-131v1m0 44v1m0 11v2m0 7v2m1-64v1m0 9v1m0 28v1m0 13v2m0 4v2m0 33v9m0 27v1m1-114v1m0 34v1m0 8v2m0 4v1m1-35v1m0 29v3m1-54v1m0 2v1m1 14v1m2-3v1m2-32v1m1 0v1m0 8v1m0 24v1m0 25v1m0 2v1m1-62v1m0 15v1m0 44v1m1-7v1m0 2v2m1-33v1m0 27v1m0 8v2m0 25v3m0 13v2m0 17v3m1-104v1m0 26v1m0 9v1m1-59v1m0 21v1m0 8v1m0 26v1m0 33v8m1-100v1m1-4v1m1 15v1m0 10v1m1-14v1m1-1v1m1 1v5m0 3v1m1-11v1m0 6v1m1-13v1m0 5v1m1 28v1m0 4v2m1-49v1m0 53v1m1-64v1m0 38v1m0 20v2m1-28v1m0 11v1m3-43v1m3 37v2m0 10v1m1-22v1m1-14v4m0 2v6m0 12v1m0 13v1m1-50v1m0 16v1m0 31v1m0 14v2m0 25v10m0 25v2m1-138v1m0 60v2m0 4v2m1-64v1m0 39v1m0 14v1m0 6v2m0 9v6m0 13v3m0 12v2m0 18v3m1-111v1m0 44v1m0 3v1m1-17v1m0 12v3m1-41v1m0 6v1m0 11v1m0 2v1m2-20v1m2-2v1m1-31v1m0 22v1m2-19v1m0 10v1m0 15v1m0 5v1m0 20v1m0 4v1m1-34v1m0 25v4m1-59v1m0 45v1m0 8v1m0 8v1m0 32v8m1-79v1m0 35v1m1 0v1m0 28v3m0 12v4m0 15v3m2-129v1m0 21v4m1-9v1m0 13v1m1-16v1m1 0v1m1 0v2m0 4v2m1-11v1m0 5v1m1-15v1m0 7v1m1 27v1m0 11v2m1-57v1m0 57v1m1-27v1m0 19v1"/>
<path stroke="#4269fe" d="m0 19v1m0 7v1m1-25v3m0 15v1m1-6v1m0 47v2m1-61v1m0 36v1m0 22v1m1-66v1m0 55v2m1-25v1m0 7v2m1-36v1m1-1v1m4 28v1m1-12v4m0 30v1m1-46v1m0 14v1m0 16v1m0 13v1m0 16v2m0 18v4m0 10v4m0 17v4m1-89v1m0 14v2m0 3v3m1-54v1m0 46v3m1-48v1m0 24v1m0 16v1m0 6v1m0 7v1m1-58v1m0 39v1m0 14v1m1-42v1m0 8v1m0 28v3m1-41v1m2-1v1m3-12v1m0 7v1m0 9v1m0 25v1m0 3v1m1-46v1m0 44v1m1-8v1m0 4v1m1-34v1m0 28v2m0 5v2m0 27v4m0 8v4m0 19v4m1-106v1m0 27v1m0 7v1m1-58v1m0 20v1m0 12v1m0 22v1m1-67v1m0 67v2m0 6v14m1-90v1m0 6v1m1 14v1m1 14v1m2-17v1m0 10v1m1-13v1m0 7v1m1-14v1m1-18v1m0 51v1m0 5v2m1-48v1m0 52v2m1-65v1m0 37v1m0 22v2m1-16v2m2-43v1m1-3v1m1-7v1m2 42v1m0 11v1m1-23v1m0 24v1m1-39v2m0 13v3m0 5v2m0 14v1m1-50v1m0 17v1m0 18v1m0 12v1m0 12v2m0 28v5m1-108v1m0 46v1m0 15v4m1-6v6m0 34v9m0 26v2m1-138v1m0 17v1m0 23v1m0 16v1m0 8v1m0 5v1m1-57v1m0 6v1m0 43v1m0 3v1m1-24v1m0 4v1m3-21v1m2-9v1m0 4v1m0 34v2m1-64v1m0 37v1m0 25v1m1-34v1m0 26v1m0 5v1m1-9v1m0 4v1m0 7v3m1-71v1m0 26v1m0 29v1m0 5v1m0 36v2m1-98v1m0 20v1m0 25v1m0 9v1m1-35v3m0 1v3m0 28v1m0 33v10m0 25v1m1-136v1m0 8v1m1-10v1m0 4v1m0 20v5m1-10v1m0 13v1m1 1v1m1-18v1m0 14v1m1-15v1m0 8v1m2-20v1m0 8v1m1 26v1m0 12v3m1-58v1m0 57v2m1-29v1m0 21v2m1-17v1m1-46v1m2 3v1m4 24v3m1-15v1m0 12v2m0 48v3m0 9v4m0 21v13m1-103v1m0 19v1m0 13v1m0 8v2m1-59v1m0 11v1m0 20v1m0 16v2m1-61v1m0 39v1m0 15v2m0 4v2m0 9v1m0 7v2m0 8v3m0 16v4m0 11v4m1-115v1m0 22v1m0 26v1m0 4v1m1-56v1m0 24v2m0 1v2m0 9v1m0 12v1m0 1v1m2-37v1m4-33v1m1 1v1m0 30v1m0 31v1m1-60v7m0 25v1m0 25v1m1-27v1m0 16v1m0 4v2m0 5v2m0 7v3m0 4v10m0 23v10m1-68v1m0 5v1m1-38v1m0 20v1m0 14v1m1-56v1m0 56v1m0 26v3m0 16v4m0 11v4m1-132v1m0 7v1m1-9v3m0 20v1m0 8v1m1-13v1m1 16v1m1-17v1m1-2v1m0 8v1m1-13v1m1-18v1m1 12v1m0 31v1m0 17v2m1-63v1m0 59v2m1-30v1m0 17v2m1-23v1m0 6v1m1-34v1m1-1v1m1-6v1m3 32v1m1-12v4m0 31v1m1-47v1m0 15v1m0 30v1m0 15v2m0 21v3m0 7v4m0 21v4m1-112v1m0 20v1m0 14v7m1-7v4m1-64v1m0 15v1m0 24v1m0 16v1m0 6v1m0 7v1m1-58v1m0 20v1m0 18v1m0 10v1m0 3v1m1-51v1m0 8v1m0 8v1m0 7v1m0 6v1m0 13v3m1-41v1m2-1v1m2 0v1m1-14v1m0 48v1m1-1v1m1-35v1m0 31v1m1-68v5m0 51v1m0 6v2m0 5v1m0 30v3m0 6v4m0 22v2m1-129v1m0 50v1m0 7v1m1-69v1m0 31v1m0 10v2m0 23v1m1-67v1m0 67v18m1-86v1m1 33v1m1 2v1m1-2v1m1-16v1m0 9v1m2-10v1m1-25v1m0 18v1m0 31v1m0 7v2m1-50v1m0 33v1m0 19v2m1-65v1m0 60v2m1-17v2m2-42v1m4 32v2m1-11v2m0 24v1m1-39v1m0 12v3m0 8v1m1-36v1m0 18v1m0 18v1m0 12v1m0 12v1m1-27v1m0 15v4m1-6v6m0 33v4m0 3v5m0 23v3m1-138v1m0 17v1m0 23v1m0 16v1m0 8v1m0 5v1m1-57v1m0 6v1m0 10v1m0 32v1m4-35v1m1-32v1m0 3v1m0 21v1m1 36v2m1-42v1m0 15v1m0 20v1m0 4v1m1-62v1m0 12v1m1 38v1m0 4v2m0 6v5m1-45v1m0 10v1m0 6v1m0 10v2m0 5v1m1-60v1m0 20v1m0 24v1m0 10v1m1-67v1m0 10v1m0 21v4m0 30v1m0 32v12m0 22v3m1-136v1m0 8v1m1-10v1m0 24v1m0 4v1m2 6v1m1-18v1m1 0v1m0 8v1m1-13v1m0 7v1m1-17v1m0 9v1m1-6v1m0 45v2m1-22v1m0 21v2m1-67v1m0 58v2"/>
<path stroke="#3e6fff" d="m1 2v1m1 44v1m0 18v3m1-3v3m1-33v1m0 21v2m1-17v1m3-41v1m3 31v1m0 22v1m1-36v2m1-12v1m0 16v1m0 30v1m0 13v2m0 24v10m0 25v2m1-135v1m0 23v1m0 36v3m1-58v1m0 15v1m0 19v1m1-43v1m0 57v1m0 3v2m0 9v1m0 13v4m1-69v1m0 13v1m0 19v1m0 8v1m0 5v1m1-57v1m0 5v1m0 17v1m0 5v1m0 20v1m0 3v1m6-70v1m0 9v1m0 28v1m1-38v1m0 29v1m0 26v1m0 6v1m1-36v1m0 6v1m0 18v1m0 6v3m1-71v6m0 50v1m0 8v5m0 33v8m1-102v1m0 21v1m0 29v1m0 4v2m1-56v1m0 18v1m0 14v2m0 19v1m1-56v1m0 55v2m0 22v5m0 20v14m1-101v1m1-30v2m0 33v1m2-16v1m1 0v1m1-2v1m1-6v1m0 8v1m1-6v1m0 30v1m0 8v3m1-50v1m0 31v1m0 21v2m1-66v1m0 61v3m1-34v1m0 16v1m1-18v2m5 5v2m0 13v1m1-26v2m1-14v1m0 18v5m0 17v1m0 25v3m1-60v1m0 16v1m0 14v1m0 10v1m1-47v1m0 19v1m1-41v1m0 10v1m0 26v1m1-44v1m0 58v1m0 6v1m0 7v1m1-40v1m0 21v1m0 9v1m1-29v1m0 29v3m1-41v1m3-29v1m0 3v1m0 21v1m1 35v1m0 2v1m1-42v1m0 35v1m1-58v1m0 14v1m0 47v1m1-29v1m0 17v1m0 6v7m0 3v2m1-72v1m0 36v1m0 7v1m0 11v5m1-11v1m0 7v1m1-55v1m0 19v1m0 7v1m0 26v1m1 1v11m1-79v1m0 24v2m0 5v1m2-13v1m2 0v1m0 10v1m1-14v1m0 8v1m1-18v1m0 10v1m1-6v1m0 46v3m1-60v1m0 34v1m0 23v2m1-68v1m0 60v3m1-32v1m0 12v1m1-46v5m1 2v1m4 29v1m0 18v1m1-32v3m0 30v1m1-44v1m0 15v2m0 11v1m0 14v1m0 17v2m0 16v4m0 13v4m0 13v5m1-129v1m0 55v3m0 2v3m2-8v4m0 12v7m0 13v4m0 7v5m0 19v5m1-79v1m0 7v1m0 6v1m1-50v1m0 7v1m0 11v1m0 23v1m0 3v1m1-22v2m0 17v1m3-41v1m0 3v1m1-2v1m1-23v1m0 11v1m0 6v1m0 8v3m0 22v1m0 3v1m1-44v1m0 16v1m0 26v1m1-63v2m0 7v3m0 15v1m0 26v1m0 6v2m1-37v1m0 23v1m0 7v5m0 12v4m0 10v4m0 13v6m0 10v5m1-127v1m0 23v1m0 30v1m0 2v2m1-57v1m0 41v1m1-53v1m0 66v1m0 30v5m0 5v6m0 19v4m2-137v1m0 3v1m0 29v1m2-15v1m1 0v1m0 13v1m2-19v1m0 8v1m1-27v1m0 19v1m0 32v3m1-41v1m0 50v2m1-64v1m0 35v1m0 24v3m1-69v1m0 55v2m1-17v2m1-35v1m4 40v5m1-20v1m0 23v1m1-37v2m1 6v1m0 15v1m0 14v1m0 12v2m0 26v7m1-107v1m1 5v1m0 7v1m0 8v1m0 19v1m1 15v1m0 4v1m0 9v1m1-52v1m0 12v1m0 29v1m0 5v1m5-70v3m1 20v1m0 39v1m1-54v1m0 3v1m0 9v1m0 8v1m0 4v1m1-38v1m0 17v1m0 11v1m0 26v1m0 6v1m1-29v1m0 18v1m0 6v8m1-71v1m0 37v1m0 11v1m0 9v5m0 34v6m1-79v1m0 29v1m0 4v2m1-56v1m0 18v1m0 13v1m0 21v1m1-56v1m0 56v1m0 18v7m0 26v7m1-119v1m0 19v3m1-31v1m0 21v1m3-2v1m0 11v1m1-14v1m0 8v1m1-15v1m0 8v1m1 35v4m1-53v1m0 54v2m1-4v2m1-33v1m0 15v1m3-45v1m1-7v1m2 39v1m0 15v1m1-26v1m0 27v1m1-41v1m0 16v8m0 16v1m0 22v10m1-32v2m0 8v2m1-47v1m0 19v1m1-30v1m0 26v1m0 59v3m1-106v1m0 58v1m0 6v1m0 7v1m1-41v1m0 22v1m0 9v1m0 4v1m1-24v1m0 4v1m0 14v3m5-47v1m0 5v1m0 33v1m0 2v1m1-65v1m0 31v1m0 32v1m1-64v1m0 14v1m0 46v2m1-29v1m0 24v6m0 5v2m1-73v1m0 37v1m0 18v5m1-12v1m0 8v1m1-35v2m0 4v2m0 27v1m1 2v8m1-77v1m0 5v1m0 18v1m0 6v1m1 4v1m1-18v1m1 15v1m1-16v1m2-13v2m1 36v1m0 16v3m1-61v1m0 59v2m1-68v1m0 35v1m0 23v3"/>
<path stroke="#3875fe" d="m0 18v1m0 9v1m1-28v1m0 20v1m0 31v4m1-41v1m0 51v2m1-65v1m0 34v1m0 27v4m1-72v1m0 58v5m1-65v1m0 31v1m0 11v1m1-37v1m1-1v1m3 40v5m1-20v1m1-14v2m0 37v1m1-30v1m0 13v1m0 16v1m0 11v1m1-73v1m0 43v1m1-37v1m0 4v1m1 46v3m0 12v2m0 8v3m0 4v6m0 13v21m1-96v1m0 28v1m1-37v1m0 11v1m0 3v1m0 9v1m1-20v1m0 32v1m1-36v1m2-32v2m0 28v1m1-33v1m0 24v1m0 5v1m0 32v3m1-50v1m0 9v1m0 7v1m0 25v1m0 5v1m1-66v1m0 19v1m0 17v1m0 27v1m1-1v7m1-72v1m0 26v1m0 9v1m1-34v1m0 51v4m1-36v1m0 17v1m0 17v1m1-66v1m0 11v1m0 53v1m0 29v6m0 8v6m0 14v6m1-136v1m0 8v1m0 17v2m0 1v2m0 38v1m1-72v1m0 2v1m0 19v1m1-3v1m1 17v1m1-5v1m1-5v1m1-6v1m1 36v6m1-55v1m0 54v3m1-68v1m0 63v4m1-72v1m0 51v2m1-54v2m0 30v2m0 2v3m3-38v1m2 38v1m0 16v1m1-29v2m0 28v1m1 21v5m0 3v7m0 22v12m1-121v1m0 52v2m0 5v3m2-47v1m1-24v1m0 38v1m0 19v1m0 3v2m0 9v1m1-42v1m0 38v1m1-44v1m0 17v1m0 6v1m0 16v1m1-37v1m4-35v1m0 29v1m1-30v1m0 32v1m0 32v1m1-65v1m0 16v1m0 38v1m0 8v1m1-38v1m0 44v2m1-49v1m0 12v1m0 5v1m1-41v1m0 18v1m0 28v2m0 4v1m1-66v1m0 12v1m0 16v2m0 9v1m0 24v1m1-55v1m0 55v1m0 11v9m1-81v1m0 25v1m1-35v1m0 21v1m0 15v1m2-18v1m0 16v1m2-20v1m1-9v1m1 56v2m1-61v1m0 59v3m1-70v1m0 62v7m1-72v1m0 46v1m1-42v2m2-3v1m3 31v1m0 20v1m1-35v2m0 34v1m1-46v1m0 18v2m0 7v2m0 16v1m0 14v2m0 22v13m0 22v3m1-133v1m0 22v1m0 17v1m0 18v2m1-41v1m0 18v1m1-29v1m0 25v1m0 58v7m1-109v1m0 24v1m0 14v1m0 19v1m0 5v1m0 8v1m1-8v1m1-18v1m0 2v1m0 15v1m0 1v1m2-41v1m2-30v1m0 5v1m0 19v1m1 40v1m1-66v1m0 30v1m0 26v1m1-57v1m0 12v1m0 50v3m1 27v13m0 21v3m1-129v1m0 21v1m0 32v2m1-54v1m0 17v1m0 23v1m0 11v1m1-54v1m0 17v6m0 30v1m0 36v5m1-98v1m0 18v2m0 37v8m1-77v1m0 5v1m0 17v1m1 14v1m3-19v1m0 10v1m1-5v1m1 24v1m0 3v3m1 9v2m1-65v1m0 62v4m1-72v1m0 33v1m0 22v3m1-61v1m0 31v1m0 10v1m3-41v1m2 41v4m0 5v2m1-23v1m0 25v1m1-39v1m0 38v1m1-49v1m0 18v1m0 13v1m0 16v1m0 10v1m1-73v1m0 25v1m0 18v1m1-38v1m1-7v1m0 38v1m0 19v4m0 11v1m0 11v7m1-37v1m0 7v1m1-50v1m0 5v1m0 6v1m0 10v1m0 5v1m0 20v1m0 3v1m1-3v1m1-36v1m2-2v1m1-33v1m0 63v1m0 1v1m1-66v1m0 11v3m0 45v1m0 5v1m1-28v1m0 27v1m1 4v2m1-72v1m0 26v1m1-24v1m0 19v1m0 31v4m1-36v1m0 15v1m0 19v1m1 0v2m0 26v6m0 13v7m0 7v7m1-134v1m0 25v2m0 3v2m1-34v1m0 1v2m0 33v1m1-17v1m1-1v1m2-2v1m1-6v1m1 4v1m0 29v1m0 14v4m1-56v1m0 55v3m1-69v1m0 35v1m0 27v5m1-72v1m0 50v1m1-52v3m0 30v4m1-28v1m4 29v1m0 17v1m1-30v3m1-13v1m0 42v1m0 18v3m0 10v5m0 17v18m1-125v1m0 20v1m0 16v1m0 16v2m0 3v3m2-65v1m0 18v1m1 15v1m0 19v1m0 3v2m1 7v1m1-44v1m0 8v1m0 32v1m1-42v1m4-30v1m0 7v1m1 16v1m1-23v1m0 28v1m0 26v1m0 8v1m1-38v1m0 24v1m0 20v3m1-75v1m0 23v1m0 13v1m0 2v2m1-40v1m0 18v1m0 27v2m0 5v1m1-66v1m0 12v1m0 17v1m0 8v1m1-29v1m0 55v2m0 8v6m1-59v1m0 8v1m1-35v1m0 21v1m2-2v1m1 11v1m1-15v1m0 9v1m1-26v6m0 13v1m1-6v1m0 49v2m1-62v1m0 60v4m1-71v1m0 61v7"/>
<path stroke="#327cfc" d="m1 53v1m0 4v11m1 2v2m1-66v1m0 65v4m1-75v1m0 32v1m0 29v10m1-74v1m0 29v1m0 13v1m0 23v5m1-4v4m2-70v1m2 40v4m0 5v2m1-23v1m0 25v1m1-40v1m0 40v1m1-50v1m0 19v2m0 10v1m0 18v1m0 8v2m1-73v1m0 26v1m1-18v1m0 1v2m0 29v1m1-28v1m0 7v1m0 16v1m0 36v8m0 13v13m0 21v4m1-138v1m0 59v1m0 5v1m0 8v1m1-51v1m0 18v3m0 21v1m0 5v1m1-5v1m0 1v1m1-41v1m2-26v1m1 62v1m1-56v1m0 3v1m1 52v1m1-66v12m0 15v1m0 43v1m1-72v1m0 47v1m1-26v1m1-18v1m0 15v1m0 19v1m0 15v1m1-36v6m0 30v1m0 36v8m0 26v1m1-112v2m0 5v2m0 33v3m0 1v5m1-73v1m0 32v1m1 2v1m2-20v1m1-2v1m1-6v1m1 34v1m0 18v2m1 1v3m1-36v1m0 32v5m1-76v1m0 52v2m0 10v9m1-73v2m0 27v1m0 7v3m0 27v5m1-65v1m0 60v4m1-67v1m3 31v1m1-14v3m0 31v1m1-43v1m0 42v1m0 17v2m0 15v7m0 6v9m0 12v8m1-108v1m0 14v1m0 18v5m1-42v1m0 17v1m1-39v1m0 8v1m0 26v1m1-19v1m0 36v3m0 12v1m1-52v1m0 32v1m0 7v1m1-49v3m0 47v1m1 1v1m1-40v1m2-30v1m0 31v1m1-25v1m0 14v1m0 38v1m0 4v1m1-42v1m0 41v1m1-67v1m0 29v1m0 36v2m1-15v1m0 21v3m0 8v8m1-92v1m0 37v1m0 3v1m1-22v1m0 31v4m1-36v1m0 12v1m1-42v1m0 11v1m0 16v4m0 33v1m0 21v10m0 18v14m1-106v1m0 9v1m0 33v4m1-72v1m1 38v1m2-20v1m0 12v1m1-5v1m1-27v7m0 13v1m1-6v1m0 28v1m0 21v2m1-62v1m0 61v4m1-73v1m0 33v1m0 34v4m1-44v1m0 15v1m0 19v6m1-5v5m1-65v1m0 61v2m4-37v1m1-15v2m1 12v2m0 3v2m0 19v1m0 12v1m1-47v1m2-25v1m0 19v1m1-25v1m0 37v1m0 21v1m0 3v1m1-40v1m0 5v1m0 25v1m0 15v1m1-44v1m0 7v1m0 33v1m1-42v1m3 35v2m1-67v1m0 28v1m0 6v1m0 3v1m1-40v1m0 22v1m0 43v1m1-66v1m0 14v1m0 39v1m0 12v3m1-77v7m0 26v1m0 9v1m0 13v1m2-29v1m0 25v1m0 8v2m1-36v1m0 6v2m0 27v1m1-66v1m0 10v1m0 15v2m0 2v2m0 33v2m0 8v4m1-58v1m0 12v1m1-16v1m2-1v1m2-5v1m1-18v1m0 21v1m0 29v1m0 7v10m1-53v1m0 28v1m0 24v3m1-1v4m1-16v14m1-74v1m0 29v1m0 12v1m0 24v5m1-65v1m0 60v4m1-66v1m3 34v2m0 11v1m1-25v1m1-13v1m0 40v1m0 23v7m1-81v1m0 20v1m0 11v1m0 18v1m0 7v2m1-73v1m1 14v1m0 28v1m1-20v1m0 52v2m0 6v3m0 7v42m1-138v1m0 36v1m0 22v1m0 5v1m0 8v1m1-33v1m0 3v1m0 9v1m0 10v1m0 5v1m1-37v1m0 31v1m0 1v1m1-41v1m2-29v1m1 5v1m0 23v1m0 31v1m0 3v1m1-41v1m0 6v1m0 33v1m1-67v1m0 19v1m0 46v1m1-66v6m0 21v1m0 25v1m0 17v2m1-73v1m0 36v1m0 9v1m1-44v1m1 1v1m0 15v1m0 17v2m0 16v1m1-65v1m0 11v1m0 16v5m0 66v13m0 21v3m1-128v1m0 15v1m0 7v1m0 33v8m1-54v1m1 17v1m1-2v1m1-19v1m0 13v1m1-5v1m1-18v1m0 11v1m1 42v2m1-57v1m0 29v1m0 27v3m1-71v1m0 67v5m1-76v1m0 31v1m0 18v2m0 13v8m1-72v3m0 25v2m0 4v3m0 29v5m1-4v4m2-73v1m2 36v1m0 19v1m1-34v3m0 32v1m1-44v1m0 60v2m0 18v17m0 18v5m1-108v1m0 14v1m0 19v3m1-23v1m1-3v1m1-42v1m0 22v1m0 36v3m0 11v1m1-51v1m0 7v1m0 24v1m0 7v1m1-19v1m0 6v1m0 12v1m1-33v1m0 33v1m1-40v1m2-30v1m0 31v1m1-3v1m0 31v1m0 4v1m1-67v1m0 58v1m0 7v1m1-67v1m0 17v1m0 48v3m1 8v55m1-107v1m0 15v2m1-37v1m0 16v1m0 30v5m1-36v2m0 10v1m0 24v1m1-66v1m0 27v5m0 33v1m0 16v11m1-95v1m0 7v1m0 15v1m0 10v1m0 34v2m1-71v1m1 38v1m1-3v1m1-18v1m2-20v2m0 20v1m1 45v2m1-63v1m0 32v1m0 30v4m1-6v5"/>
<path stroke="#2f81fa" d="m0 17v1m0 11v1m1-30v1m0 22v1m0 28v1m0 16v2m1-53v1m0 27v1m0 26v3m1-68v1m0 68v4m1-6v3m1-76v1m0 43v1m0 20v2m0 5v2m1-67v1m0 59v1m0 4v1m1-5v4m3-31v2m0 11v1m1-26v2m0 27v1m1 1v1m0 19v19m0 16v14m1-97v1m0 8v1m0 20v2m0 3v3m1-72v1m0 44v1m1-34v1m0 13v1m1-23v1m1-4v1m0 15v1m0 8v1m0 10v1m0 23v1m0 3v1m1-66v1m0 16v1m0 8v1m0 3v1m0 27v1m1-28v1m0 20v2m0 19v1m3-70v1m1-3v1m0 7v1m0 55v1m1-64v1m0 12v3m0 12v1m0 5v1m0 33v1m1-68v1m0 21v1m0 8v1m0 26v1m0 10v1m1-69v2m0 12v2m0 39v1m0 18v2m1-73v1m0 23v1m0 11v1m1-34v1m0 17v1m1-16v1m0 13v1m0 21v2m0 12v1m1-51v1m0 13v2m0 6v1m1-26v1m0 13v1m0 41v1m0 9v2m1-74v1m0 16v1m0 15v1m2-19v1m1 15v1m1-18v1m0 12v1m1-19v1m0 12v1m1-7v1m0 49v1m1-57v1m0 28v1m0 30v3m1-73v1m0 71v3m1-78v1m0 30v1m0 22v3m0 3v4m0 9v2m1-73v2m0 36v1m0 25v1m0 5v1m1-6v1m0 4v1m1-4v3m1-72v1m2 35v1m0 19v1m1-35v2m1-9v1m0 44v1m0 13v3m0 24v6m1-101v1m0 22v1m0 12v1m3-42v1m0 13v1m0 22v1m0 37v1m0 20v13m0 24v2m1-138v1m0 16v1m0 16v1m0 25v1m0 5v1m0 8v1m1-76v1m0 17v1m0 3v1m0 7v1m0 10v1m0 6v1m0 19v1m0 5v1m1-5v1m0 1v1m1-37v1m2 31v2m1-68v1m0 31v1m1-32v1m0 32v1m0 26v1m0 8v1m1-49v1m0 18v1m0 30v2m1-72v6m0 74v8m0 8v38m1-129v1m0 21v1m0 15v3m1-38v1m0 15v1m1-15v1m0 13v1m0 14v2m0 20v1m1-38v2m0 4v2m0 30v1m0 32v18m0 14v7m1-138v1m0 8v1m0 14v1m0 42v2m0 4v3m1-74v1m0 18v1m0 17v1m1-20v1m1-1v1m2-3v1m1-17v2m0 21v1m0 30v1m0 7v6m1 2v2m1-63v1m0 30v1m0 33v4m1-4v3m1-78v1m0 47v1m0 16v2m0 6v2m1-68v1m0 59v1m0 5v1m1-5v1m0 2v2m2-75v1m2 34v1m0 23v1m1-39v1m0 39v1m1-48v1m0 23v3m0 22v1m0 9v2m1-71v1m0 40v1m1-2v1m1-3v1m1-26v1m0 44v3m0 11v1m1-77v1m0 16v1m0 9v1m0 3v1m0 35v1m1-18v1m0 4v1m0 13v1m1 1v1m3-70v1m0 32v1m0 31v1m0 2v1m1-58v1m0 9v1m0 14v1m0 25v1m0 6v1m1 0v1m1-68v1m0 16v1m0 11v1m0 42v1m1-71v2m1 1v1m0 19v1m1-18v1m0 14v1m0 27v2m0 5v1m1-64v1m0 13v1m0 13v2m0 9v1m0 25v1m1-40v2m0 6v1m0 31v1m0 14v5m1-79v1m0 29v1m0 30v5m1-73v1m0 39v1m1-21v1m0 19v1m1-4v1m1-18v1m0 12v1m1-18v1m0 12v1m1 21v1m0 18v1m1 3v2m1-69v1m0 32v1m0 36v4m1-79v1m0 72v2m1-75v1m0 42v1m0 21v2m0 5v2m1-7v1m0 4v1m1-5v4m3-32v1m0 14v1m1-29v3m0 28v1m1-42v1m0 42v1m0 17v5m0 7v46m1-105v1m0 9v1m0 20v7m1-43v1m0 16v1m1-36v2m0 1v2m0 11v1m1-23v1m0 12v1m0 23v1m0 38v6m1-69v1m0 8v1m0 34v1m0 3v1m1-66v1m0 24v1m0 4v1m0 13v3m1 26v1m3-66v1m0 21v1m1-29v1m1 0v1m0 27v1m1-28v1m0 30v1m0 26v1m0 10v1m1-69v2m0 6v7m0 60v2m0 23v4m1-101v1m0 23v1m1-4v1m1-16v1m0 13v1m0 20v1m0 14v1m1-51v1m0 13v2m0 5v2m0 29v1m1-56v1m0 13v1m0 9v1m0 31v1m0 8v2m1-74v1m0 33v1m2-19v1m2-2v1m1-7v1m1 7v1m0 27v1m0 21v2m1 2v4m1-74v1m0 32v1m0 38v3m1-78v1m0 51v2m0 8v3m0 8v1m1-70v1m0 33v2m0 26v1m0 5v1m1-6v1m0 4v1m1-68v1m0 64v2m4-51v2m0 36v1m1-46v1m0 45v1m0 13v2m1-71v1m0 23v1m1-5v1m1-21v1m0 8v1m1 0v1m0 22v1m0 36v1m0 24v7m1-109v1m0 16v1m0 9v1m0 5v1m0 32v1m0 8v1m1-76v1m0 18v2m0 9v1m0 43v1m1-5v1m0 1v1m1-37v1m1-6v1m1 36v3m1-69v1m0 38v2m0 28v1m1-69v1m0 25v1m0 6v1m0 35v1m1-49v1m0 18v1m0 31v1m1-73v7m0 23v1m0 9v1m1-35v1m1 18v1m1-15v1m0 13v1m0 13v1m0 22v1m1-53v1m0 13v2m0 5v1m0 31v1m0 28v43m1-129v1m0 26v1m0 30v3m0 2v3m1-73v1m0 18v1m0 17v1m1-20v1m1-1v1m1-1v1m0 13v1m1-17v1m0 11v1m1-30v1m0 52v6m0 2v8m1-51v1m0 27v1m0 24v2m1-64v1m0 66v4m1-78v1m0 32v1m0 39v2"/>
<path stroke="#2e87f7" d="m0 16v1m1 34v1m0 19v1m1 4v2m1-69v1m0 30v1m0 40v4m1-82v1m0 74v2m1-77v1m0 26v1m0 16v1m0 18v1m0 9v1m1-9v1m0 6v1m1-67v1m0 59v1m0 4v1m1-3v2m2-33v2m0 14v1m1-32v5m0 30v1m1-43v1m0 43v1m0 14v4m0 19v16m0 14v7m1-127v1m0 23v2m0 4v2m0 23v3m1-40v1m0 14v1m1-2v1m1-3v1m1 20v3m0 11v1m0 28v2m1-80v3m0 37v1m0 7v1m1-76v1m0 50v1m0 2v1m0 14v1m1 0v3m2-70v1m0 4v1m0 60v2m1-36v1m0 35v1m1-70v1m0 29v1m0 3v1m0 7v1m0 27v1m1-70v1m0 70v1m1-71v1m0 16v1m0 21v1m0 37v1m0 18v13m0 23v2m1-129v1m0 44v1m1-43v1m0 15v1m1-2v1m0 24v1m0 10v1m1-64v1m0 14v1m0 11v1m0 9v2m0 26v1m1-66v1m0 11v1m0 11v1m0 10v1m0 30v1m0 12v3m0 19v8m1-88v1m0 45v7m1-54v1m1 19v1m1-21v1m2-8v1m0 51v5m1-21v1m0 22v2m1-58v1m0 61v3m1-75v1m0 31v1m0 41v4m1-25v3m0 15v1m1-72v2m0 22v1m0 12v2m0 22v1m0 7v1m1-66v1m0 57v1m0 6v1m1-68v1m0 61v1m0 3v1m3-16v1m1-38v2m0 37v1m1-46v1m0 46v1m0 10v2m1-44v1m1 11v1m1-37v1m0 6v1m0 10v1m1 52v1m0 9v10m0 13v7m0 9v8m1-109v1m0 5v1m0 31v1m1-43v1m0 18v1m0 14v1m1 15v1m1-3v1m1-41v1m1-30v1m0 67v1m1-30v2m0 28v1m1-42v1m0 13v1m1-41v1m0 20v1m0 8v1m0 26v1m0 14v1m1-77v4m0 6v4m0 19v1m0 9v1m1-34v1m0 19v1m1-18v1m0 13v1m1-13v1m0 11v1m0 17v1m0 18v1m1-51v1m0 11v2m0 8v1m0 28v1m1-56v1m0 12v1m0 12v1m0 29v1m0 9v2m1-75v1m0 64v4m2-33v1m1-20v1m1 10v1m1-31v1m0 52v2m0 1v7m0 6v1m1-51v1m0 26v1m0 26v2m1-64v1m0 67v5m1-81v1m0 31v1m0 42v2m1-79v1m0 28v1m0 18v2m0 13v1m0 10v1m1-68v1m0 20v6m0 31v1m0 7v1m1-7v1m0 5v1m1-70v1m0 64v4m3-41v1m0 25v1m1 1v1m0 35v15m0 23v2m1-74v2m0 4v3m1-43v1m0 13v1m1-18v1m1-22v1m0 9v1m1-15v1m0 23v1m0 11v1m0 38v1m0 24v8m1-82v3m0 28v1m0 6v1m0 8v1m1-76v1m0 73v1m1-38v1m0 32v1m0 1v1m1-37v1m2 29v1m1-65v1m0 30v1m0 3v1m1-35v1m0 24v1m0 6v1m0 37v1m1-70v1m0 18v1m0 19v1m0 34v2m0 24v5m1-100v1m0 22v1m0 23v1m1-46v1m0 17v1m1-16v1m0 12v1m0 30v5m1-48v1m0 11v1m0 12v1m1-28v1m0 11v1m0 9v1m0 29v1m0 20v52m1-116v1m0 43v2m0 5v2m1-74v1m0 18v1m2-1v1m2 46v2m1-46v1m0 47v2m1-55v1m0 26v1m0 30v3m1-71v1m0 72v4m1-82v1m0 30v1m0 42v2m1-76v2m0 25v1m0 15v1m0 19v1m0 9v1m1-67v1m0 57v1m0 6v1m1-67v1m0 59v1m0 4v1m1-71v1m0 67v2m2-34v2m0 16v1m1-35v5m0 32v1m1-44v1m0 44v1m0 13v3m1-70v1m0 23v2m0 6v1m1 1v1m1-33v1m0 30v1m2-43v1m0 34v1m0 25v3m0 11v1m1-60v1m0 8v4m0 28v1m0 8v1m1-68v1m0 30v1m0 20v2m0 15v1m1 0v3m2-70v1m0 64v3m1-44v1m0 7v1m0 29v1m0 5v1m1-70v1m0 33v1m0 7v1m0 18v1m0 8v1m1-70v1m0 22v1m0 47v2m1-73v2m0 15v2m0 21v1m0 38v1m0 15v7m0 4v6m0 20v3m1-129v1m0 21v1m0 13v1m0 7v1m1-42v1m0 15v1m1-14v1m0 11v1m0 22v1m0 12v1m1-64v1m0 14v1m0 11v1m0 9v1m0 27v1m1-66v1m0 23v1m0 41v1m0 11v3m0 22v4m1-102v1m0 15v1m0 45v6m1-53v1m2-1v1m0 15v1m1-5v1m1-21v1m0 14v1m0 37v6m1 2v1m1-59v1m0 27v1m0 35v3m1-2v3m1-51v1m0 23v8m0 12v2m1-71v1m0 22v1m0 11v2m0 23v1m0 7v1m1-66v1m0 57v1m0 6v1m1-6v2m0 2v1m1-73v1m2 34v1m0 21v1m1-38v1m1 40v2m0 9v2m1-32v1m1-1v1m1-3v1m1-40v1m0 74v1m0 15v8m0 7v6m0 18v5m1-78v1m0 4v1m1-48v1m0 2v1m0 19v1m0 6v1m0 19v1m1 4v1m1-3v1m2-70v1m0 6v1m0 57v1m1-43v1m0 8v1m0 5v1m0 2v1m1-9v1m0 8v1m1-41v1m0 29v1m0 26v1m0 14v2m1-78v3m0 7v2m0 46v1m1-49v1m0 19v1m1-18v1m0 13v1m1-13v1m0 11v1m0 15v1m0 20v1m1-51v1m0 11v1m0 8v1m0 29v1m1-43v1m0 42v1m0 8v2m1-8v2m4-54v1m1 7v1m0 27v1m0 6v2m0 8v2m1 2v2m1-65v1m0 29v1m0 39v4m1-81v1m0 73v3"/>
<path stroke="#2d8cf3" d="m0 30v1m0 35v4m0 33v1m1-80v1m0 47v2m1-55v1m0 25v1m0 32v2m1-70v1m0 74v14m0 2v37m1-134v1m0 29v1m0 45v1m0 25v4m1-106v2m0 42v1m0 16v1m0 11v1m0 29v3m1-100v1m0 56v1m0 8v1m0 31v2m1-42v1m0 6v1m0 32v2m1-105v1m0 64v2m0 2v1m0 33v2m1-3v3m1-70v1m0 17v1m0 47v3m1-86v3m0 36v1m0 40v7m1-92v1m0 45v1m0 11v2m1-41v4m3-36v1m0 20v1m1-25v1m0 24v1m0 8v1m0 40v1m0 24v3m0 2v3m0 27v1m1-79v1m0 45v2m1-68v1m0 34v1m0 30v2m1-1v1m1-71v1m0 33v2m0 34v1m1-77v1m0 37v1m0 2v1m0 34v1m1-106v1m0 63v1m0 40v1m1-106v1m0 31v3m0 27v1m0 42v1m1-105v1m0 24v1m0 6v1m0 40v1m0 29v3m1-107v3m0 18v2m0 9v1m0 48v2m0 12v4m0 13v3m0 17v3m1-126v1m0 20v1m0 13v1m0 7v1m1-41v1m0 12v2m1-13v2m0 8v2m0 26v2m0 7v1m1-47v1m0 8v2m0 12v1m0 24v1m1-42v1m0 12v1m0 28v1m0 16v5m0 6v8m0 8v7m0 16v6m1-132v1m0 32v1m0 26v1m0 7v1m0 27v6m1-108v1m0 40v1m0 26v2m0 33v3m1-3v2m1-2v1m1-86v1m0 84v1m1-92v1m0 15v1m0 34v2m0 5v1m1-49v1m0 51v1m1-32v1m0 37v4m0 20v3m0 28v2m1-131v1m0 76v5m0 15v12m0 19v3m1-135v1m0 28v1m0 45v2m0 26v4m1-102v1m0 20v1m0 15v1m0 20v1m0 9v1m0 31v2m1-43v1m0 40v2m1-41v1m0 5v1m0 32v2m1-107v1m0 67v4m0 33v2m1-3v2m1-72v1m0 22v1m0 45v3m1-47v1m0 37v13m0 23v2m1-74v2m0 6v2m1-67v1m0 25v1m0 9v1m1-16v1m0 14v1m1-35v1m0 32v1m1-17v1m0 53v9m0 30v9m1-127v1m0 26v1m0 3v1m0 28v4m0 11v1m0 26v5m1-91v1m0 11v1m0 17v1m0 19v1m0 7v1m0 29v2m1-107v1m0 30v1m0 6v1m0 30v1m0 35v2m1-37v1m0 1v1m0 33v1m1-71v1m0 33v2m0 34v1m1-106v1m0 7v1m0 57v1m0 3v1m0 34v1m1-106v1m0 33v1m0 3v2m0 2v1m0 62v1m1-105v1m0 28v1m0 3v1m0 37v1m0 32v1m1-104v1m0 73v1m0 26v6m1-96v8m0 36v1m1-48v1m0 17v1m1-16v1m0 11v1m1-11v1m0 8v2m0 19v1m0 16v1m1-64v1m0 14v1m0 9v1m0 11v1m0 26v1m1-43v1m0 14v1m0 27v1m0 12v2m0 20v10m0 27v1m1-134v1m0 15v1m0 19v1m0 25v2m0 4v1m0 30v4m1-66v1m0 61v2m1-2v1m1-69v1m0 67v1m1-87v1m0 49v2m0 34v1m1-104v1m0 25v1m0 26v1m0 17v2m1 3v2m1-65v1m0 27v1m0 43v8m0 11v34m1-133v1m0 75v3m0 21v6m1-108v2m0 47v1m0 10v2m0 12v1m0 29v3m1-81v1m0 6v4m0 36v1m0 31v2m1-100v1m0 57v1m0 39v2m1-40v1m0 4v1m0 32v2m1-109v1m0 106v2m1-62v9m0 50v2m1-77v2m0 27v1m0 43v5m1-90v1m0 42v1m0 16v18m0 15v23m1-123v1m0 52v4m1-67v1m0 27v1m0 11v1m1-1v1m1-18v1m0 14v1m1 36v1m0 20v3m0 8v2m0 23v3m1-78v1m0 43v4m1-78v1m0 9v1m0 8v1m0 6v1m0 11v1m0 36v2m1-34v1m0 32v1m1-37v2m0 34v1m1-102v3m0 61v3m0 34v1m1-106v1m0 69v1m0 34v1m1-106v1m0 20v1m0 11v3m0 7v1m0 27v1m0 33v1m1-105v1m0 26v1m0 4v1m0 9v1m0 17v1m0 11v1m0 30v3m1-106v2m0 20v1m0 35v1m0 19v1m0 20v3m0 5v3m0 25v1m1-128v2m0 32v1m1-33v1m0 14v2m1-14v1m0 9v2m1-11v1m0 9v1m0 14v1m0 22v1m1-65v1m0 13v1m0 9v1m0 11v1m1-29v1m0 12v1m0 16v1m0 26v1m0 9v2m0 25v6m1-41v5m0 31v3m1-3v2m1-67v1m0 64v1m1-85v1m0 83v1m1-89v1m0 49v2m0 2v2m1-21v1m0 22v1m1 5v2m0 24v1m1-97v1m0 29v1m0 45v12m0 5v36m1-134v1m0 74v2m0 25v4m1-105v1m0 41v1m0 17v1m0 11v1m0 29v3m1-43v1m0 8v1m0 31v2m1-42v1m0 6v1m0 32v2m1-40v2m0 2v1m0 33v2m1-3v3m1-71v1m0 19v1m0 46v3m1-86v1m0 38v1m0 40v8m1-47v1m0 10v2m1-41v6m1-13v1m2-4v1m0 13v1m1-14v1m0 7v1m0 41v1m0 24v7m1-34v1m0 29v2m1-56v1m0 2v1m0 19v1m0 30v2m1-1v1m1-71v1m0 33v2m0 34v1m1-105v1m0 68v1m0 34v1m1-106v1m0 104v1m1-106v1m0 30v4m0 70v1m1-105v1m0 24v1m0 6v1m0 41v1m0 28v4m1-109v3m0 19v1m0 10v1m0 25v1m0 23v3m0 6v6m0 17v4m0 11v5m1-125v1m0 41v1m1-40v1m0 12v2m1-12v1m0 8v2m0 24v2m0 9v1m1-38v2m0 11v1m0 25v1m1-53v1m0 10v1m0 12v1m0 28v1m0 15v3m0 12v7m0 4v7m0 20v4m1-99v1m0 26v1m0 6v2m0 27v5m1-66v1m0 27v1m0 33v3m1-66v1m0 62v2m1-2v1m1-86v1m0 84v1m1-93v1m0 50v3m0 6v1m1-24v1m0 25v2m1-60v1m0 65v5m0 18v5m0 25v3m1-132v1m0 30v1m0 45v4m0 17v9m0 24v1m1-135v1m0 74v1m0 27v4m1-102v1m0 20v1m0 14v1m0 21v1m0 9v1m0 31v2m1-2v2m1-102v1m0 60v1m0 5v1m0 32v2m1-39v3m0 34v2m1-3v2m1-73v1m0 23v1m0 44v4m1-88v1m0 40v1m0 35v16m0 21v3m1-123v1m0 49v2m0 4v3m1-68v1m0 25v1m0 10v1m1-16v1m0 14v1m1-36v1m0 6v1m0 10v1m1-1v1m0 12v1m0 39v2m0 7v6m0 21v5m0 7v6m1-132v1m0 26v2m0 1v2m0 28v1m0 2v1m0 11v1m0 27v4m1-86v1m0 6v1m0 12v1m0 14v1m0 47v2m1-107v1m0 68v1m0 36v1m1-37v1m0 1v1m0 33v1m1-71v1m0 32v3m0 34v1m1-106v1m0 27v1m0 41v1m0 34v1m1-106v1m0 10v1m0 22v1m0 2v2m0 24v1m0 7v1m0 33v1m1-105v1m0 27v1m0 42v1m0 31v3m1-105v1m0 21v1m0 52v1m0 24v7m1-98v9m0 11v1m1-22v1m0 17v1m1-16v1m0 11v1m1-11v1m0 8v2m0 17v2m0 17v1m1-64v1m0 14v1m0 9v1m0 10v1m0 27v1m1-55v1m0 11v1m0 14v1m0 27v1m0 11v2m0 21v10m0 27v1m1-135v1m0 16v1m0 19v1m0 26v2m0 2v2m0 30v4m1-66v1m0 61v2m1-66v1m0 63v1m1-69v1m0 67v1m1-73v1m0 35v3m0 33v1m1-104v1m0 51v1m0 19v1m1-53v1m0 25v1m0 29v2m1-66v1m0 72v11m0 7v35m1-133v1m0 29v1m0 45v2m0 22v5"/>
<path stroke="#2797eb" d="m0 14v1m0 16v1m0 31v1m0 7v1m0 28v1m0 5v1m0 29v1m1-112v1m0 49v1m0 24v1m0 7v1m0 26v1m1-53v4m0 6v5m0 15v5m0 10v4m1-120v1m0 26v1m1-34v1m0 26v1m0 49v3m0 11v4m0 14v4m0 13v4m1-129v1m0 42v1m0 12v1m0 15v1m0 24v1m0 7v1m1-102v1m0 16v1m0 4v2m0 42v1m0 28v1m0 4v1m1-45v1m0 38v1m0 4v1m1-106v1m0 61v1m0 7v1m0 29v1m0 4v1m1-43v2m0 4v1m0 29v1m0 5v1m1-74v1m0 21v2m0 9v3m0 29v1m0 7v2m1-49v1m0 32v3m0 13v3m0 18v2m1-119v1m0 48v7m2-42v1m0 10v1m3-27v1m0 11v1m0 69v2m0 12v1m0 21v2m1-120v1m0 43v1m0 4v1m0 10v1m1-47v1m0 44v1m0 32v1m1-109v1m0 103v1m1-74v1m0 72v1m1-38v1m0 4v1m0 31v1m1-1v1m1-31v1m0 33v1m1-80v1m0 3v1m0 27v1m0 15v1m0 24v1m0 7v1m1-87v1m0 7v1m0 54v3m0 30v9m1-116v12m0 3v2m0 16v1m0 5v1m1-38v3m0 2v4m1-6v6m0 34v1m1-41v6m0 16v1m1-27v2m0 4v2m0 41v1m1 0v1m0 11v2m0 20v2m0 10v1m0 23v2m1-135v1m0 17v1m0 45v2m0 5v1m0 27v1m0 6v1m0 28v1m1-96v1m0 25v4m0 29v1m0 5v1m0 29v1m1-70v3m0 35v1m0 30v1m1-72v2m0 3v1m0 29v1m0 4v1m0 30v1m1-135v9m0 18v1m0 25v5m0 12v1m0 27v1m0 5v1m0 28v2m1-114v1m0 53v1m0 21v2m0 8v2m0 23v2m3-131v1m0 25v1m0 49v1m0 19v2m0 10v2m0 21v2m1-129v1m0 18v1m0 17v1m0 17v1m0 13v1m0 26v1m0 6v1m1-47v1m0 10v1m0 28v1m0 4v1m1-103v1m0 57v1m0 38v1m0 4v1m1-108v1m0 64v1m0 6v1m0 34v1m1-42v6m0 28v1m0 6v1m1-87v1m0 8v2m0 26v1m0 39v1m0 9v1m1-93v1m0 44v2m0 7v21m0 22v15m2-97v6m1-12v1m0 12v1m1-32v3m0 13v1m0 13v1m1-26v1m1-15v1m0 13v1m0 84v1m0 8v1m0 25v2m1-137v1m0 23v3m0 38v1m0 36v1m0 4v1m1-41v1m0 35v1m1-105v1m0 72v1m0 30v1m1-105v1m0 67v1m0 3v1m0 31v1m1-39v1m0 5v1m0 31v1m1-93v1m0 31v1m0 28v1m0 30v1m0 3v1m1-47v1m0 12v1m0 27v1m0 5v1m1-83v1m0 16v1m0 34v1m0 21v1m0 9v2m0 23v2m1-115v2m0 6v1m0 12v1m0 12v1m1-45v3m0 3v9m1-11v7m1-6v6m0 24v1m0 12v1m1-45v6m0 40v1m1-52v1m0 7v1m0 17v1m0 24v1m0 18v3m0 8v3m0 18v3m0 13v3m1-128v1m0 13v1m0 44v1m0 10v1m0 23v2m0 8v1m0 25v2m1-71v1m0 4v1m0 28v1m0 6v1m0 28v1m1-97v1m0 26v3m0 36v1m0 29v1m1-101v1m0 30v3m0 35v1m0 30v1m1-121v1m0 15v1m0 31v1m0 35v1m0 5v1m0 29v1m1-110v1m0 45v1m0 26v1m0 6v1m0 27v1m1-115v1m0 58v2m0 15v3m0 10v3m0 19v2m1-119v1m1 71v10m0 22v13m1-126v1m0 47v3m0 1v3m0 18v2m0 22v1m0 8v2m1-71v1m0 21v1m0 39v1m0 5v1m1-101v1m0 94v1m0 4v1m1-44v1m0 7v1m0 29v1m0 4v1m1-110v1m0 66v1m0 5v1m0 29v1m0 5v1m1-70v1m0 16v1m0 10v5m0 29v1m0 6v1m1-89v1m0 39v1m0 36v2m0 10v2m0 22v2m1-73v4m0 1v5m1-63v1m1-12v1m0 30v1m0 9v1m1-15v1m0 13v1m1-36v1m0 7v1m0 24v1m1-25v1m0 10v1m0 52v1m0 12v3m0 19v2m0 13v3m1-71v3m0 37v1m0 6v1m1-69v1m0 6v1m0 18v1m0 7v1m0 27v1m0 4v1m1-35v1m0 29v1m1-1v1m1-105v4m0 68v1m0 31v1m1-40v1m0 38v1m1-84v1m0 41v1m0 9v1m0 30v1m0 3v1m1-78v3m0 42v1m0 26v1m0 5v1m1-85v1m0 6v1m0 49v1m0 14v2m0 15v2m0 17v2m1-113v2m0 6v1m0 24v1m1-42v3m0 3v5m1-7v6m1-6v6m0 19v1m0 18v1m1-47v1m0 3v2m0 16v1m0 24v1m1-44v1m0 18v1m0 23v1m0 14v2m0 17v2m0 12v2m0 20v2m1-116v1m0 45v1m0 7v1m0 26v1m0 7v1m0 27v1m1-70v1m0 2v1m0 29v1m0 5v1m0 29v1m1-70v3m0 66v1m1-119v1m0 47v2m0 1v1m0 30v1m0 4v1m0 30v1m1-123v1m0 47v2m0 36v1m0 5v1m0 29v1m1-88v1m0 25v1m0 23v2m0 7v1m0 26v1m1-92v1m0 39v13m0 17v18m1-121v1m1 71v2m0 13v3m0 13v3m0 16v4m1-129v1m0 40v1m0 13v1m0 40v1m0 7v1m1-102v1m0 16v5m0 44v1m0 28v1m0 4v1m1-102v1m0 56v1m0 38v1m0 4v1m1-44v1m0 7v1m0 29v1m0 4v1m1-112v1m0 68v2m0 4v1m0 29v1m0 5v1m1-74v1m0 22v1m0 9v3m0 29v1m0 7v2m1-92v1m0 42v2m0 30v3m0 15v3m0 16v3m1-69v5m2-30v1m3-27v1m0 11v1m0 5v1m0 43v1m0 20v2m0 10v1m0 23v1m1-120v1m0 48v1m0 10v1m0 26v1m0 4v1m1-59v1m0 4v1m0 52v1m1-109v1m0 36v1m0 66v1m1-105v1m0 103v1m1-33v1m0 31v1m1-94v1m0 25v1m0 66v1m1-31v1m0 33v1m1-81v1m0 4v1m0 44v1m0 23v1m0 7v1m0 26v1m1-114v1m0 7v1m1-20v13m0 1v2m0 18v1m0 2v2m1-37v4m0 1v4m1-6v6m0 30v7m1-43v6m0 16v1m0 22v1m1-50v1m0 5v2m0 16v1m0 24v1m0 55v9m1-121v1m0 32v1m0 23v1m0 11v1m0 22v1m0 9v2m0 24v1m1-70v1m0 5v1m0 27v1m0 6v1m0 28v1m1-70v4m0 35v1m0 29v1m1-100v1m0 29v3m0 35v1m0 30v1m1-120v1m0 47v1m0 4v1m0 29v1m0 35v1m1-136v1m0 52v1m0 45v1m0 5v2m0 27v2m1-60v2m0 19v2m0 9v2m0 22v2m1-118v1m0 24v1m1-35v1m1-4v1m0 75v1m0 19v2m0 10v2m0 22v1m1-110v1m0 49v1m0 26v1m0 6v1m1-47v1m0 10v1m0 28v1m0 4v1m1-45v1m0 38v1m0 4v1m1-43v1m0 41v1m1-42v5m0 29v1m0 6v1m1-88v3m0 6v2m0 27v1m0 38v2m0 9v1m0 24v1m1-73v2m0 6v15m0 31v11m1-116v1m1-10v1m0 29v1m0 4v2m1-13v1m0 12v1m2-39v1m0 11v1m0 21v1m1-37v1m0 13v1m0 60v1m0 23v1m0 8v1m0 26v1m1-137v1m0 22v1m0 3v1m0 14v4m0 11v1m0 44v1m0 4v1m1-41v1m0 35v1m1-105v1m0 72v1m0 30v1m1-105v1m0 67v1m0 3v1m0 31v1m1-33v1m0 31v1m1-81v1m0 48v1m0 30v1m0 3v1m1-34v1m0 27v1m0 5v1m1-66v1m0 15v1m0 19v1m0 19v2m0 10v1m0 23v1m1-114v2m0 6v1m0 12v1m1-32v3m0 3v8m1-10v7m1-6v6m0 23v1m0 14v1m1-46v6m0 15v1m0 24v1m1-44v1m0 17v1m0 24v1m0 17v2m0 11v3m0 16v3m0 15v3m1-115v1m0 21v1m0 22v1m0 9v1m0 24v2m0 7v2m0 25v2m1-71v2m0 3v1m0 28v1m0 6v1m0 28v1m1-70v3m0 36v1m0 29v1m1-70v3m0 35v1m0 30v1m1-105v1m0 31v1m0 6v1m0 28v1m0 5v1m0 29v1m1-86v1m0 22v1m0 25v1m0 6v1m0 27v1m1-56v3m0 13v3m0 12v3m0 17v3m1-120v1m0 25v1m1-35v1m0 27v1m0 51v13m0 18v16"/>
<path stroke="#259be8" d="m0 61v2m0 9v1m0 34v1m0 27v1m1-87v1m0 26v1m0 21v2m0 9v1m0 23v2m1-115v1m0 23v1m0 42v6m0 25v10m1-115v1m1 72v11m0 22v13m1-124v1m0 42v1m0 10v1m0 39v2m0 9v1m1-87v1m0 7v6m0 24v1m0 12v1m0 26v1m0 6v1m1-47v1m0 10v1m0 34v1m1-46v1m0 37v1m0 6v1m1-112v1m0 66v1m0 7v1m0 27v1m0 7v1m1-76v1m0 24v1m0 5v3m0 3v2m0 26v1m0 10v1m1-93v1m0 43v16m0 13v3m0 19v2m0 13v3m2-125v1m1 31v1m1-14v1m0 12v1m1-36v1m0 8v1m0 23v1m1-37v1m0 30v1m0 44v1m0 17v1m0 15v2m0 18v1m1-73v1m0 2v1m0 37v1m0 6v1m0 27v1m1-137v1m0 38v1m0 8v1m0 6v1m0 10v1m0 35v1m1-36v1m0 5v1m0 33v1m1-109v1m0 67v1m0 4v1m1 34v1m1-98v1m0 25v1m0 26v1m0 8v1m0 34v1m1-64v1m0 57v1m0 5v1m1-80v3m0 45v1m0 22v1m0 9v1m0 25v1m1-113v2m0 4v1m0 12v1m1-20v3m0 19v1m0 3v1m1-34v2m2 21v1m0 20v1m1-47v4m0 18v1m1-31v1m0 10v1m0 20v1m0 22v1m0 14v1m0 18v1m0 13v2m0 20v1m1-92v1m0 21v1m0 8v1m0 25v1m0 8v1m0 26v1m1-70v1m0 4v1m0 35v1m0 27v1m1-98v1m0 27v1m0 3v1m0 29v1m0 5v1m0 28v1m1-119v1m0 16v1m0 29v1m0 6v1m0 34v1m0 28v1m1-135v1m0 52v1m0 18v1m0 25v1m0 7v1m1-30v1m0 18v2m0 12v1m0 20v2m1-116v1m0 23v1m1-34v1m1-4v1m0 75v2m0 15v2m0 14v2m0 17v2m1-126v1m0 36v1m0 31v1m0 24v1m0 8v1m1-87v3m0 75v1m0 6v1m1-36v1m0 34v1m1-45v1m0 36v1m0 6v1m1-45v2m0 6v1m0 26v1m0 8v1m1-90v2m0 1v3m0 4v1m0 29v3m0 1v10m0 23v2m0 11v1m0 22v2m1-71v7m1-60v1m1-10v1m1 24v1m2-4v1m0 10v1m1 39v1m0 21v1m0 10v1m0 23v1m1-120v1m0 42v1m0 16v1m0 25v1m0 6v1m1-59v3m0 49v1m0 4v1m1-72v1m0 70v1m2-1v1m2-64v1m1-18v1m0 3v1m0 27v1m0 19v1m0 18v2m0 12v1m0 21v1m1-111v1m0 4v1m1-15v3m2 30v2m0 9v1m1-22v1m0 22v1m1-50v1m0 5v1m0 65v8m0 24v5m0 3v5m1-89v1m0 21v1m0 12v1m0 21v1m0 11v1m0 23v1m1-93v1m0 22v1m0 6v1m0 26v1m0 8v1m0 26v1m1-70v1m0 3v1m0 29v1m0 34v1m1-118v1m0 47v1m0 3v1m0 29v1m0 5v1m0 28v1m1-73v1m0 7v1m0 63v1m1-85v1m0 22v1m0 24v1m0 8v1m0 25v1m1-53v2m0 10v3m0 16v3m0 13v3m1-92v1m1-34v1m0 26v1m1-28v1m0 21v1m0 27v1m0 23v1m0 19v2m0 11v1m0 22v1m1-127v1m0 15v1m0 16v1m0 33v1m0 25v1m0 7v1m1-47v1m0 10v1m0 27v1m0 6v1m1-46v1m0 9v1m0 27v1m0 6v1m1-45v1m0 7v1m0 27v1m0 7v1m1-73v2m0 18v2m0 6v2m0 5v2m0 26v1m0 8v1m1-91v1m0 41v14m0 20v2m0 14v2m0 18v2m1-118v1m0 50v1m2-70v1m0 32v1m0 7v1m1-1v1m1-15v1m1 8v1m0 44v3m0 3v6m0 24v3m0 7v3m1-128v1m0 74v1m0 23v1m0 8v1m0 26v1m1-137v1m0 27v1m0 27v1m1-27v1m0 36v1m0 39v1m1-109v1m0 30v1m0 41v1m0 34v1m1-101v1m0 21v1m0 36v1m0 40v1m1-1v1m1-94v1m0 29v1m0 28v1m0 28v1m1-27v1m0 24v1m0 7v1m1-85v1m0 17v1m0 14v1m0 23v2m0 9v3m0 19v2m0 13v2m1-109v6m0 15v1m1-29v3m2 24v1m1-28v3m1-10v1m0 8v1m0 60v1m0 14v2m0 16v2m0 16v2m1-130v1m0 60v1m0 9v1m0 24v1m0 9v1m0 25v1m1-71v2m0 4v1m0 35v1m0 27v1m1-97v1m0 26v1m0 3v1m0 29v1m0 5v1m0 28v1m1-101v1m0 29v1m0 4v1m0 35v1m0 28v1m1-123v1m0 17v1m0 28v2m0 10v1m0 26v1m0 7v1m0 27v1m1-111v1m0 50v1m0 21v1m0 10v2m0 22v2m1-115v1m1-9v1m0 25v1m1-33v1m0 25v1m0 52v3m0 7v3m0 19v4m0 8v4m1-105v1m0 21v1m0 11v1m0 16v1m0 23v1m0 9v1m1-87v1m0 5v3m0 29v1m0 12v1m0 26v1m0 6v1m1-47v1m0 10v1m0 34v1m1-107v1m0 60v1m0 37v1m0 6v1m1-45v1m0 7v1m0 27v1m0 7v1m1-89v2m0 11v1m0 24v2m0 4v3m0 3v2m0 25v2m0 10v1m0 23v1m1-72v17m0 9v4m0 21v3m0 10v3m1-117v1m1-9v1m1 22v1m0 9v1m1-1v1m1-36v1m0 32v1m1-11v1m0 3v1m0 45v1m0 18v1m0 13v2m0 19v2m1-75v1m0 41v1m0 6v1m1-80v1m0 36v1m0 7v1m0 27v1m1-36v1m0 5v1m0 33v1m1-41v1m0 4v1m1-65v1m0 98v1m1-71v6m0 20v1m0 8v1m0 34v1m1-64v1m0 16v1m0 40v1m0 5v1m1-81v4m0 46v1m0 21v1m0 9v1m0 24v1m1-112v1m0 5v1m0 12v1m0 13v1m1-33v1m0 21v2m1-31v1m2 21v1m0 20v1m1-48v5m1-1v1m0 43v1m0 13v1m0 19v2m0 12v1m0 21v2m1-134v1m0 40v1m0 21v2m0 7v1m0 25v1m0 8v1m0 26v1m1-95v1m0 24v1m0 4v1m0 28v1m0 6v1m0 27v1m1-70v1m0 3v1m0 29v1m0 5v1m0 28v1m1-72v1m0 6v1m0 34v1m0 28v1m1-136v1m0 28v1m0 23v1m0 19v1m0 25v1m0 8v1m0 25v1m1-112v1m0 23v1m0 31v1m0 17v1m0 13v2m0 19v1m2-124v1m0 26v1m1-31v1m0 75v1m0 16v2m0 14v2m0 18v2m1-127v1m0 35v1m0 17v1m0 39v1m0 8v1m1-87v2m0 76v1m0 6v1m1-104v1m0 67v1m0 34v1m1-109v1m0 63v1m0 7v1m0 28v1m0 6v1m1-60v6m0 9v2m0 5v2m0 26v1m0 8v1m1-90v1m0 3v6m0 30v14m0 23v1m0 12v2m0 21v1m1-118v1m0 47v6m2-69v1m0 31v4m2-30v4m0 13v1m1-1v1m1 50v1m0 21v1m0 10v1m0 24v1m1-121v1m0 8v3m0 38v1m0 9v1m0 32v1m1-7v1m0 4v1m1-1v1m1-108v1m0 3v2m1 101v1m1-6v1m1-59v1m0 30v1m0 25v1m1-76v2m0 3v1m0 48v1m0 17v1m0 13v1m0 20v2m1-111v1m0 4v1m1-15v3m2 29v1m0 12v1m1-23v1m0 22v1m1-51v1m0 6v1m0 19v1m0 43v4m0 2v5m0 22v3m0 9v3m1-126v1m0 57v1m0 11v1m0 22v1m0 11v1m0 23v1m1-93v1m0 22v1m0 6v1m0 35v1m0 26v1m1-96v1m0 25v1m0 3v1m0 29v1m0 34v1m1-118v1m0 17v1m0 28v2m0 3v1m0 29v1m0 5v1m0 28v1m1-121v1m0 47v1m0 71v1m1-109v1m0 47v1m0 23v1m0 8v2m0 24v1m1-114v1m0 23v1m0 37v3m0 6v4m0 18v4m0 9v4m1-116v1m1-9v1"/>
<path stroke="#23a0e5" d="m0 13v1m0 43v4m0 38v1m0 34v1m1-109v1m0 50v1m0 19v1m0 12v2m0 20v1m2-95v1m1-32v1m0 24v1m1-24v1m0 18v1m0 23v1m0 8v1m0 18v1m0 20v1m0 12v1m0 22v1m1-126v1m0 13v1m0 14v2m0 61v1m0 8v1m1-103v1m0 12v3m0 78v1m1-83v2m0 41v1m0 10v1m1-12v2m0 9v1m0 25v1m0 9v1m1-91v4m0 9v1m0 26v5m0 8v2m0 23v1m0 12v1m0 21v2m1-118v1m0 60v13m0 24v4m0 6v3m1-115v1m2 15v1m0 7v1m2-14v1m1 1v2m0 1v2m0 46v1m0 14v2m0 18v1m0 15v2m1-131v1m0 59v2m0 13v1m0 23v1m0 8v1m1-2v1m1-79v1m0 71v1m1 4v1m1-100v1m0 56v1m0 6v1m1-36v6m0 59v1m1-42v1m0 12v1m0 26v1m1-24v1m0 20v1m0 11v1m0 23v1m1-110v4m0 27v1m1-11v3m3-9v1m0 18v1m1-23v1m0 22v1m1-54v1m0 8v1m0 43v1m0 16v1m0 15v2m0 16v1m0 17v2m1-131v1m0 15v1m0 44v1m0 10v1m0 23v1m0 10v1m0 24v1m1-117v1m0 46v1m0 33v1m1-82v1m0 46v1m0 5v1m0 27v1m0 7v1m1-45v1m0 35v1m0 7v1m1-108v1m0 29v1m0 22v1m0 20v1m0 23v1m0 9v1m0 25v1m1-111v1m0 22v1m0 31v2m0 14v2m0 15v2m0 16v2m2-122v1m0 25v1m1-30v1m0 22v1m0 53v2m0 10v3m0 18v3m0 12v2m1-107v1m0 20v1m0 14v1m0 39v1m0 10v1m1-103v1m0 12v2m0 3v2m0 33v1m0 12v1m0 34v1m1-104v1m0 12v3m0 40v1m0 38v1m1-83v2m0 41v2m0 9v1m0 26v1m1-81v1m0 28v7m0 6v2m0 9v1m0 35v1m1-92v1m0 6v4m0 33v1m0 10v2m0 20v1m0 14v2m0 19v1m1-117v1m3 21v1m1-2v1m1-36v1m1 93v1m0 12v1m0 21v1m1-70v1m0 71v1m1-137v1m0 37v1m0 14v1m0 20v1m1-45v1m0 36v1m0 5v1m0 28v1m1-103v2m0 1v3m0 66v1m0 34v1m1-36v1m0 29v1m1-80v1m0 38v1m0 10v1m0 28v1m0 5v1m1-34v1m0 25v1m0 7v1m1-82v3m0 49v1m0 16v1m0 15v1m0 19v1m1-109v4m3 21v1m0 7v1m1-20v1m1-27v5m0 20v1m0 22v1m0 59v3m1-119v1m0 11v1m0 43v1m0 14v1m0 19v1m0 13v1m0 21v1m1-134v1m0 17v1m0 45v1m0 8v1m0 60v1m1-117v1m0 46v1m0 5v1m0 27v1m0 7v1m1-43v1m0 5v1m0 27v1m1-85v1m0 17v1m0 28v1m0 9v1m0 26v1m0 7v1m0 26v1m1-107v1m0 46v1m0 22v1m0 10v1m0 23v1m1-112v1m0 22v1m0 38v10m0 22v4m0 5v4m1-113v1m1-9v1m1-1v1m0 73v1m0 17v1m0 14v2m0 18v2m1-92v1m0 18v1m0 14v1m0 33v1m1-102v1m0 12v4m0 36v1m0 12v1m1-71v1m0 14v3m0 40v1m1-64v1m0 19v1m0 43v1m0 9v1m1-55v3m0 13v1m0 22v6m0 9v1m0 24v1m0 10v1m0 23v1m1-117v1m0 56v3m0 15v2m0 18v2m0 14v2m2-123v1m1 22v2m0 3v2m1-12v1m1-22v1m0 5v1m1-11v1m0 23v1m0 6v1m0 48v3m0 33v7m1-27v1m0 10v1m0 24v1m1-119v2m0 22v1m0 4v1m0 18v1m0 9v1m0 25v1m0 6v1m1-72v1m0 64v1m1-36v1m1 4v1m1-37v1m0 35v1m0 29v1m1-84v1m0 88v1m1-65v1m0 15v1m0 16v1m0 22v1m0 9v1m0 25v1m1-111v5m0 53v3m0 2v4m0 24v2m0 9v2m1-77v1m3-10v1m0 15v1m1-23v1m0 22v1m1-52v1m0 6v1m0 21v1m0 21v1m0 18v2m0 10v2m0 20v2m0 12v2m1-127v1m0 13v1m0 23v1m0 20v1m0 11v1m0 22v1m0 11v1m0 23v1m1-117v1m0 23v1m0 29v1m0 26v1m0 8v1m1-91v1m0 46v1m0 5v1m0 27v1m0 7v1m1-91v1m0 46v1m0 6v1m0 27v1m0 7v1m1-96v1m0 43v4m0 13v1m0 34v1m0 25v1m1-58v1m0 19v1m0 13v1m0 20v1m1-90v1m1-31v1m1-7v1m0 80v7m0 26v8m1-120v1m0 41v1m0 9v1m0 18v1m0 21v1m0 11v1m0 22v1m1-126v1m0 13v1m0 9v6m0 62v1m0 8v1m1-103v1m0 12v3m0 78v1m1-83v2m0 41v1m0 10v1m1-77v1m0 64v2m0 9v1m0 25v1m0 9v1m1-92v2m0 2v2m0 8v1m0 27v4m0 8v2m0 22v1m0 13v1m0 21v1m1-117v1m0 62v9m0 28v10m3-98v1m1-5v1m1-14v1m0 11v1m1-25v1m0 26v3m0 47v1m0 15v2m0 16v1m0 17v1m1-72v4m0 12v1m0 23v1m0 8v1m0 26v1m1-137v1m0 38v1m0 8v1m0 6v1m0 52v1m1-79v1m0 71v1m1-103v1m0 106v1m1-43v1m0 6v1m1-48v1m0 76v1m1-29v1m0 26v1m1-3v1m0 11v1m1-87v5m5 8v1m0 22v1m1-55v1m0 9v1m0 22v1m0 20v1m0 15v2m0 16v1m0 15v2m0 18v1m1-131v1m0 15v1m0 55v1m0 23v1m0 10v1m0 24v1m1-117v1m0 46v1m0 33v1m1-82v1m0 19v1m0 26v1m0 5v1m0 27v1m1-84v1m0 17v1m0 28v1m0 35v1m0 7v1m1-56v1m0 21v1m0 23v1m1-19v2m0 13v2m0 16v2m0 15v2m1-114v1m0 22v1m1-32v1m1-4v1m0 22v1m0 52v2m0 12v2m0 18v2m0 14v2m1-108v1m0 19v1m0 15v1m0 15v1m0 23v1m1-92v1m0 12v2m0 2v2m0 34v1m0 12v1m0 34v1m1-91v3m0 40v1m0 38v1m1-83v2m0 41v2m0 9v1m0 26v1m1-82v2m0 19v9m0 6v3m0 4v2m0 9v1m0 24v1m0 10v1m1-92v1m0 54v2m0 19v2m0 15v1m0 18v2m2-123v1m2 16v1m0 10v1m1-2v1m1-36v1m0 31v1m1 61v1m0 12v1m0 22v1m1-77v1m0 5v1m0 36v1m1-52v3m0 21v1m1-45v1m0 5v1m0 30v1m1-67v3m0 2v1m0 59v1m0 5v1m0 34v1m1-99v1m0 26v1m0 27v1m0 7v1m0 29v1m1-91v1m0 31v1m0 17v1m0 10v1m0 34v1m1 0v1m0 26v1m1-109v3m0 50v1m0 14v2m0 15v2m0 17v1m1-108v4m0 26v1m3-8v1m0 10v1m1-21v1m1-28v2m0 2v2m0 43v1m0 24v2m0 30v9m1-110v1m0 57v1m0 20v1m0 13v1m0 21v1m1-134v1m0 17v1m0 45v1m0 8v1m0 25v1m0 34v1m1-117v1m0 46v1m0 5v1m0 27v1m0 7v1m1-37v1m0 27v1m1-39v2m0 9v1m0 26v1m0 7v1m0 26v1m1-85v1m0 47v1m0 11v1m0 22v1m1-48v6m0 26v9m1-88v1m1-32v1"/>
<path stroke="#20a5e3" d="m0 12v1m0 19v1m0 22v2m0 16v1m0 24v1m0 9v1m0 24v1m1-56v1m0 17v1m0 15v1m0 18v1m1-111v1m0 21v1m1-30v1m1-7v1m1 1v1m0 42v1m0 5v2m0 20v1m0 18v1m0 14v2m0 19v1m1-112v1m0 17v1m0 20v1m0 14v1m0 23v1m1-81v1m0 3v1m0 37v1m0 12v1m0 25v1m0 8v1m1-107v1m0 14v1m0 2v1m0 39v1m0 38v1m0 8v1m1-92v4m0 38v2m1-44v1m0 4v1m0 7v1m0 42v1m0 20v2m0 14v1m0 19v1m1-14v6m2-120v1m1 24v1m0 5v1m1 0v1m1-34v1m0 30v1m1-8v1m0 49v2m0 9v3m0 21v2m0 11v2m1-116v1m0 84v1m0 10v1m0 24v1m1-89v1m0 17v1m0 9v1m0 25v1m2-102v1m0 35v1m0 65v1m1-67v1m0 65v1m1-78v1m0 47v1m0 34v1m1-34v1m0 33v1m0 26v1m1-93v1m0 34v1m0 18v1m0 13v1m0 21v1m5-93v1m1 17v1m1-21v1m0 19v1m0 18v2m0 12v1m0 19v2m0 14v1m1-128v1m0 71v1m0 21v1m0 12v1m0 22v1m1-92v1m0 21v1m0 7v1m0 25v1m0 9v1m0 25v1m1-71v1m0 69v1m1-119v1m0 45v1m0 9v1m0 61v1m1-83v1m0 56v1m0 23v1m1-53v2m0 10v2m0 19v2m0 13v1m1-111v1m0 21v1m1-31v1m1-4v1m0 77v3m0 4v3m0 24v3m0 6v3m1-121v1m0 50v1m0 17v1m0 21v1m0 34v1m1-114v1m0 7v1m0 71v1m1-83v1m0 3v1m0 38v1m0 12v1m0 25v1m0 8v1m1-109v1m0 16v1m0 2v1m0 39v1m0 47v1m1-114v1m0 21v2m0 1v1m0 17v10m0 7v6m0 36v1m0 11v1m1-94v1m0 57v1m0 17v2m0 17v1m0 17v1m2-122v1m1-10v1m1 26v1m0 8v1m1-13v1m1-14v1m0 21v1m1-35v1m0 11v1m0 63v1m0 18v1m0 14v1m0 19v1m1-132v1m0 57v1m0 3v1m0 12v1m0 23v1m0 8v1m1-81v1m0 19v1m0 16v1m0 41v1m2-107v1m0 3v1m0 59v1m0 35v1m1-94v1m0 26v1m0 27v1m1-21v1m1 31v1m0 23v1m0 9v1m0 25v1m1-56v1m0 14v1m0 17v1m0 17v1m1-89v1m0 10v1m3-5v7m1-18v1m0 19v1m1-22v1m0 20v1m1-55v1m0 34v1m0 35v1m0 17v1m0 15v2m0 18v1m1-132v1m0 61v1m0 10v1m0 23v1m0 10v1m1-69v1m0 22v1m0 7v1m0 35v1m0 25v1m1-118v1m0 19v1m0 26v1m0 42v1m0 26v1m1-121v1m0 45v2m0 36v1m0 9v1m1-59v1m0 25v1m0 20v1m0 12v1m0 21v1m1-13v5m1-108v1m0 21v1m1-31v1m1-1v1m0 73v1m0 14v2m0 17v1m0 16v1m1-123v1m0 13v1m0 36v1m0 39v1m0 10v1m1-91v1m0 4v1m0 74v1m0 8v1m1-92v1m0 3v1m0 38v1m0 12v1m0 25v1m0 8v1m1-92v1m0 1v2m0 39v2m0 36v1m0 9v1m1-92v1m0 3v1m0 11v1m0 39v1m0 22v1m0 12v1m0 21v1m1-117v1m0 60v3m0 9v3m0 22v2m0 10v2m1-115v1m2 18v3m1 1v1m1-32v1m0 3v1m0 25v1m1-25v1m0 13v1m1-15v1m0 62v1m0 56v1m1-119v1m0 2v2m0 6v1m0 14v1m0 2v1m0 11v1m0 78v1m1-137v1m0 73v1m0 33v1m1-109v1m0 35v1m0 36v1m0 28v1m1-1v1m1-66v1m0 70v1m1-94v2m0 1v1m0 55v1m0 26v1m1-3v1m0 11v1m0 23v1m1-49v2m0 30v9m1-83v1m3-1v1m0 13v1m1-21v1m0 20v1m1-50v2m0 3v1m0 43v1m0 21v10m0 24v3m0 6v3m1-67v1m0 13v1m0 20v1m0 13v1m0 21v1m1-70v1m0 8v1m0 24v1m0 35v1m1-71v1m0 69v1m1-72v1m0 70v1m1-134v5m0 5v1m0 20v1m0 21v2m0 42v1m0 34v1m1-108v1m0 21v1m0 29v1m0 16v2m0 15v1m0 18v1m2-118v1m0 22v1m1-30v1m0 22v1m1-22v1m0 16v1m0 24v1m0 7v1m0 20v1m0 19v1m0 13v1m0 20v1m1-112v1m0 16v2m0 20v1m0 14v1m1-57v1m0 3v1m0 37v1m0 12v1m0 25v1m0 8v1m1-92v1m0 2v1m0 39v1m0 38v1m0 8v1m1-92v4m0 38v2m0 36v1m1-75v1m0 5v2m0 42v1m0 20v1m0 15v1m0 19v1m2-121v1m1-9v1m1 25v1m0 6v1m1-1v1m1-3v1m1 42v1m0 12v2m0 19v2m0 14v1m1-130v1m0 12v1m0 120v1m1-35v1m2-66v1m0 65v1m1-67v1m0 65v1m1-60v1m0 29v1m0 34v1m1-34v1m0 33v1m0 26v1m1-78v1m0 19v1m0 18v1m0 13v1m0 21v1m5-94v1m0 18v1m1-1v1m1-53v1m0 51v1m0 18v1m0 13v2m0 18v1m0 15v2m1-69v1m0 46v1m0 22v1m1-70v1m0 7v1m0 25v1m0 9v1m0 25v1m1-71v1m0 42v1m0 26v1m1-73v1m0 9v1m0 25v1m0 35v1m1-105v1m0 44v1m0 21v1m0 11v1m0 23v1m1-110v1m0 21v1m0 35v2m0 8v3m0 20v2m0 11v2m2-119v1m0 23v1m1-28v1m0 76v2m0 8v2m0 22v2m0 9v3m1-122v1m0 36v1m0 31v1m0 21v1m0 11v1m1-91v1m0 6v1m0 72v1m1-95v1m0 11v1m0 3v1m0 38v1m0 12v1m0 25v1m0 8v1m1-92v1m0 2v1m0 39v1m0 47v1m1-92v1m0 2v1m0 15v3m0 18v4m0 12v1m0 35v1m0 22v1m1-117v1m0 57v2m0 16v1m0 18v1m0 16v1m1-116v1m2-16v1m1 36v1m2-26v1m0 12v1m1-26v1m0 11v1m0 63v1m0 18v1m0 14v1m0 20v1m1-34v1m0 8v1m0 26v1m1-137v1m0 37v1m0 14v1m0 12v1m0 41v1m1-36v1m0 28v1m1-1v1m2-81v1m1 37v1m0 15v1m0 23v1m0 9v1m1-29v1m0 12v1m0 19v1m0 15v1m1-88v1m3 4v2m0 6v2m1 1v1m1-47v2m0 23v1m0 20v1m1-56v1m0 35v1m0 19v1m0 14v1m0 18v1m0 15v1m0 19v1m1-70v1m0 34v1m0 10v1m1-46v1m0 69v1m1-118v1m0 46v1m0 42v1m0 26v1m1-121v1m0 18v1m0 25v2m0 12v1m0 24v1m0 9v1m1-81v1m0 47v1m0 20v1m0 13v1m0 20v1m1-111v1m0 21v1m1-29v1m1-8v1m0 23v1"/>
<path stroke="#1ca9df" d="m0 1v5m0 5v1m0 42v1m0 19v1m0 22v1m0 11v1m1-83v1m0 20v1m0 30v1m0 15v1m0 17v1m0 16v1m2-116v1m0 21v1m1-29v1m0 21v1m1-5v1m0 26v5m0 23v1m0 16v1m0 17v1m0 17v1m1-123v1m0 30v1m0 69v1m1-103v1m0 9v1m0 5v1m1-8v1m0 4v1m0 51v1m1-77v1m0 18v1m0 4v1m0 33v4m0 14v1m0 23v1m0 11v1m1-94v1m0 6v2m0 4v1m0 44v1m0 18v1m0 17v1m0 17v1m1-116v1m1-5v1m1-9v1m1 26v5m1-10v1m1-16v1m0 13v1m1-25v1m0 10v1m0 67v9m0 26v2m0 7v2m1-51v1m0 56v1m1-107v1m0 11v1m0 15v1m0 79v1m1-137v1m0 36v1m0 28v1m0 7v1m0 33v1m1-108v1m0 64v1m0 6v1m0 34v1m1-1v1m1-66v1m0 57v1m1-2v1m1-42v1m0 20v1m0 16v1m0 15v1m0 19v1m5-91v1m0 15v1m1-21v1m1-31v2m0 4v2m0 64v1m0 8v3m0 22v2m0 10v2m1-87v1m0 18v1m0 48v1m0 20v1m1-70v1m0 9v1m0 35v1m0 23v1m1-117v1m0 21v1m0 23v1m0 8v1m0 25v1m0 9v1m1-74v1m0 25v1m0 36v1m0 9v1m0 24v1m1-103v1m0 43v1m0 21v1m0 12v1m0 21v1m1-108v1m0 20v1m0 36v2m0 6v2m0 23v2m0 8v3m2-117v1m0 22v1m1-27v1m0 79v4m0 30v6m1-103v1m0 22v1m0 11v1m0 19v1m0 19v1m0 13v1m1-103v1m0 19v3m0 28v1m0 14v1m0 23v1m0 10v1m1-104v1m0 9v1m0 5v1m1-7v1m0 4v1m0 37v1m0 13v1m0 24v1m1-83v1m0 4v1m0 14v2m0 35v1m0 22v1m0 35v1m1-58v2m0 14v1m0 20v1m0 14v2m1-116v1m2-16v1m1 28v1m0 6v1m1-1v1m1-34v1m0 21v1m0 7v1m1 43v1m0 15v2m0 16v1m0 17v1m1-118v1m0 45v3m0 72v1m1-82v1m0 46v1m1-102v1m0 65v1m0 41v1m1-73v1m0 71v1m1-1v1m1-97v1m0 61v1m0 26v1m1-42v1m0 74v1m1-54v1m0 11v2m0 19v1m0 14v2m7-116v1m0 43v1m0 17v1m0 14v2m0 18v1m0 15v2m1-89v1m0 18v1m0 34v1m0 12v1m0 22v1m1-71v1m0 34v1m1-36v1m0 8v1m0 25v1m0 9v1m1-52v3m0 13v1m0 59v1m1-105v1m0 47v1m0 18v1m0 14v1m0 19v1m1-109v1m0 20v1m2-35v1m0 22v1m1-6v1m0 55v1m0 12v1m0 20v2m0 12v2m1-109v1m0 20v1m0 33v1m0 21v1m1-90v1m0 9v1m0 6v1m0 33v1m0 14v1m0 34v1m1-106v1m0 11v1m1-1v1m0 4v1m0 36v2m0 13v1m0 35v1m1-94v1m0 5v1m0 9v1m0 41v1m0 20v1m0 14v1m1-32v9m0 27v4m0 3v3m2-120v1m2 19v1m1-21v3m0 15v1m1 5v1m1-32v1m0 75v1m0 19v1m0 12v1m0 21v1m1-119v1m0 5v1m0 21v2m0 19v1m0 35v1m0 8v1m1-44v1m0 34v1m1-36v1m0 41v1m1-73v1m0 28v1m0 42v1m1-46v1m0 9v1m1-57v1m0 43v1m0 47v1m0 26v1m1-59v1m0 55v1m2-83v1m3-7v1m0 11v1m2-46v3m0 24v1m0 78v6m1-121v1m0 11v1m0 25v1m0 17v1m0 15v1m0 18v1m0 15v1m0 19v1m1-90v1m0 19v1m0 45v1m0 23v1m1-94v1m0 22v1m0 8v1m0 25v1m0 9v1m1-93v1m0 19v1m0 25v1m0 9v1m0 25v1m0 9v1m1-109v1m0 5v5m0 42v1m0 20v1m0 22v1m0 11v1m1-31v2m0 13v1m0 18v2m0 14v2m1-110v1m0 20v1m2-34v1m1 43v1m0 5v1m0 22v1m0 17v1m0 15v1m0 18v1m1-123v1m0 10v1m0 19v1m0 58v1m0 10v1m1-103v1m0 9v1m0 5v1m1-22v1m0 13v1m0 4v1m0 51v1m0 24v1m1-83v1m0 4v1m0 31v6m0 14v1m0 35v1m0 22v1m1-117v1m0 7v5m0 45v2m0 17v1m0 17v1m0 17v1m1-116v1m3 14v1m0 3v2m1-11v1m0 9v1m1-33v1m0 6v1m0 13v1m1-25v1m0 10v1m0 66v2m0 8v2m0 23v1m0 11v2m1-53v1m0 21v1m0 10v1m1-64v1m0 17v1m0 9v1m0 60v1m1-137v1m0 65v1m0 7v1m0 33v1m1-108v1m0 64v1m0 6v1m0 34v1m1-81v1m0 79v1m1-98v1m0 89v1m1-2v1m0 9v1m1-67v1m0 35v1m0 16v1m0 15v1m0 19v1m1-78v1m4-15v1m0 16v1m1-21v1m1-31v1m0 6v1m0 63v1m0 10v2m0 21v2m0 12v1m1-127v1m0 39v1m0 18v1m0 12v1m0 21v1m0 13v1m1-70v1m0 20v1m0 9v1m1-57v1m0 45v1m0 8v1m0 25v1m0 9v1m1-94v1m0 45v1m0 46v1m0 24v1m1-83v1m0 58v1m0 21v1m1-49v8m0 25v3m0 4v4m1-109v1m2-11v1m0 19v1m0 57v8m0 26v9m1-118v1m0 13v1m0 35v1m0 38v1m0 13v1m0 21v1m1-125v1m0 9v1m0 8v2m0 30v1m0 14v1m0 23v1m0 10v1m1-94v1m0 5v1m1-23v1m0 15v1m0 4v1m0 37v1m0 13v1m0 24v1m1-104v1m0 20v1m0 4v1m0 13v1m0 60v1m1-21v2m0 12v2m0 20v2m0 12v2m2-121v1m1-12v2m1 28v1m0 7v1m1-12v1m0 10v1m1-4v1m1 43v1m0 16v1m0 35v1m1-132v1m0 12v1m0 44v2m0 2v1m0 12v1m0 58v1m1-107v1m0 19v1m0 51v1m1-102v1m0 65v1m0 41v1m1-102v1m0 21v1m0 6v1m0 71v1m1-82v1m0 45v1m0 34v1m1-35v1m0 26v1m0 7v1m1-33v1m0 57v1m1-78v1m0 24v2m0 8v2m0 21v2m0 11v2m1-77v1m3-4v6m1-17v1m2-35v1m0 9v1m0 43v1m0 16v1m0 16v1m0 17v1m0 17v1m1-131v1m0 41v1m0 18v1m0 11v1m0 22v1m0 12v1m0 22v1m1-93v1m0 21v1m0 8v1m0 25v1m0 9v1m1-72v1m0 25v1m0 8v1m0 25v1m0 9v1m1-96v1m0 42v3m0 74v1m1-85v1m0 27v1m0 18v1m0 15v1m0 18v1m2-115v1"/>
<path stroke="#18addb" d="m0 0v1m0 5v5m0 22v1m0 19v1m0 78v1m1-53v1m0 12v2m0 19v1m0 14v1m1-108v1m1-7v1m1-7v1m1 0v1m0 71v1m0 14v1m0 19v1m0 15v1m1-111v1m0 20v1m0 17v1m0 16v1m0 21v1m0 12v1m1-103v1m0 7v1m0 7v1m0 34v1m0 14v1m0 23v1m0 10v1m1-107v1m0 11v1m0 6v1m0 36v1m0 14v1m0 23v1m0 10v1m1-58v3m0 19v1m0 21v1m0 13v1m0 21v1m1-108v4m0 46v2m0 15v1m0 19v1m0 15v1m5-95v1m1-32v1m0 4v1m0 23v1m1 82v7m1-28v1m0 12v1m1-111v1m0 44v1m0 53v1m0 8v1m1-9v1m1-100v1m1 25v1m0 35v1m0 8v1m1-30v1m0 17v1m1-18v1m0 30v1m0 33v1m1-15v1m0 35v1m1-89v1m0 11v1m4-13v1m0 13v1m1-19v1m0 18v1m1-49v4m0 26v1m0 17v1m0 22v8m0 27v3m0 4v3m1-124v1m0 12v1m0 43v1m0 14v1m0 19v1m0 15v1m1-96v1m0 44v1m0 34v1m1-36v1m0 70v1m1-119v1m0 44v1m0 12v1m0 23v1m1-47v1m0 24v1m0 19v1m0 34v1m1-47v6m0 27v8m1-106v1m1-8v1m1-4v1m0 18v1m1-18v1m0 37v1m0 49v1m0 15v1m0 19v1m1-123v1m0 8v1m0 12v7m1-23v1m0 7v1m0 35v1m0 14v1m0 23v1m0 10v1m1-109v1m0 13v1m0 42v1m0 15v1m0 34v1m1-88v1m0 12v1m0 38v1m0 20v1m0 14v1m0 20v1m1-117v1m0 61v2m0 10v2m0 22v2m0 10v2m2-120v1m1-11v1m1 30v1m0 4v1m2-25v1m0 14v1m1 51v1m0 13v1m0 19v1m0 15v1m1-32v1m0 10v1m1-63v1m0 16v1m0 9v1m0 33v1m0 26v1m1-63v1m0 26v1m1-95v1m0 21v1m0 43v1m1-37v1m0 35v1m0 27v1m1 7v1m0 26v1m1-60v1m0 21v1m0 11v1m1-68v1m0 13v1m0 24v2m0 7v2m0 22v2m0 11v1m1-76v1m4-14v1m0 17v1m1-20v1m0 18v1m1-53v1m0 51v1m0 19v1m0 12v1m0 21v1m0 13v1m1-128v1m0 14v1m0 43v1m0 13v1m0 35v1m0 20v1m1-116v1m0 44v1m0 10v1m0 23v1m0 11v1m0 23v1m1-96v1m0 23v1m0 70v1m1-121v1m0 20v1m0 21v1m0 17v1m0 22v1m0 11v1m1-61v1m0 28v1m0 16v1m0 16v1m0 17v1m2-113v1m1-8v1m1-2v1m0 74v2m0 8v2m0 23v1m0 10v1m1-119v1m0 33v1m0 14v1m0 38v1m0 13v1m0 21v1m1-116v1m0 8v1m0 71v1m1-84v1m0 6v1m0 36v1m0 14v1m0 23v1m0 10v1m1-111v1m0 57v1m0 16v1m0 22v1m1-75v1m0 7v1m0 43v1m0 18v1m0 16v1m0 18v1m1-117v1m0 104v3m1-111v1m3 22v1m1-2v1m1-34v1m0 24v4m1 64v1m0 14v1m1-112v1m0 20v1m0 3v1m0 31v1m0 17v1m1-26v1m1-51v1m1 6v1m0 64v1m1-64v1m0 15v1m0 11v3m0 60v1m1-57v1m0 29v1m0 24v1m1-42v1m0 19v1m0 18v1m0 13v1m1-69v1m0 12v1m1-12v1m0 4v1m3-5v1m0 9v1m1-18v1m0 18v1m1-1v1m1 34v1m0 17v1m0 17v1m1-132v1m0 16v1m0 44v1m0 11v1m0 22v1m0 12v1m1-94v1m0 115v1m1-73v1m0 11v1m0 59v1m1-59v1m0 34v1m0 21v1m1-106v1m0 19v1m0 33v1m0 11v1m0 21v1m0 12v1m2-114v1m1-6v1m0 19v1m1-20v1m0 14v1m0 27v5m0 24v1m0 15v1m0 17v1m0 16v1m1-72v1m0 16v1m0 21v1m0 12v1m1-95v1m0 7v1m0 34v1m0 14v1m0 23v1m0 10v1m1-95v1m0 43v1m0 14v1m0 34v1m1-113v1m0 52v3m0 21v1m0 21v1m0 13v1m1-96v1m0 60v1m0 15v1m0 19v1m0 15v1m2-120v1m1-9v1m1 28v3m2-30v1m0 28v1m1 46v8m0 26v3m0 6v2m1-30v1m0 12v1m0 22v1m1-107v1m0 11v1m0 15v1m0 52v1m1-73v1m0 63v1m1-100v3m1 59v1m0 8v1m1-30v1m0 17v1m0 11v1m0 34v1m1-65v1m0 30v1m0 58v1m1-55v1m0 14v1m0 17v1m0 17v1m1-89v1m4-2v1m0 14v1m1-19v1m0 18v1m1-50v1m0 3v2m0 25v1m0 17v1m0 21v3m0 5v2m0 25v2m0 8v2m1-112v1m0 43v1m0 14v1m0 19v1m0 35v1m1-116v1m0 44v1m0 34v1m0 11v1m0 23v1m1-95v1m0 22v1m0 70v1m1-99v1m0 23v2m0 12v1m0 23v1m1-67v1m0 44v1m0 19v1m0 14v1m0 19v1m1-107v1m0 94v4m1-104v1m0 19v1m1-29v1m0 21v1m1-25v1m1 14v1m0 23v1m0 11v1m0 19v1m0 34v1m0 19v1m1-123v1m0 19v8m1-31v1m0 8v1m0 7v1m0 35v1m0 14v1m0 23v1m0 10v1m1-95v1m0 42v1m0 15v1m0 22v1m0 11v1m1-88v1m0 11v1m0 39v1m0 20v1m0 14v1m0 20v1m1-117v1m0 62v3m0 6v3m0 24v2m0 8v2m1-114v1m2-18v1m1 31v1m0 5v1m2-33v1m0 22v1m0 5v1m1 60v1m0 17v1m0 17v1m1-71v2m0 36v1m0 10v1m1-57v1m0 10v1m0 9v1m0 60v1m1-63v1m1-10v1m0 7v1m1-37v1m0 63v1m1-89v1m0 122v1m1-38v1m0 11v1m1-68v1m0 40v2m0 3v3m0 25v1m0 8v2m5-88v1m0 17v1m1-20v1m0 18v1m1-18v1m0 16v1m0 18v1m0 14v1m0 19v1m0 15v1m1-114v1m0 43v1m0 13v1m0 56v1m1-116v1m0 55v1m0 35v1m0 23v1m1-72v1m0 70v1m1-132v1m0 9v1m0 42v1m0 18v1m0 22v1m0 11v1m0 22v1m1-104v1m0 48v1m0 16v1m0 17v1m0 16v1m1-108v1m1 14v1m1-29v1m0 21v1"/>
<path stroke="#12b1d6" d="m0 52v1m0 22v1m0 20v1m0 13v1m1-83v1m0 18v1m0 33v2m0 9v1m0 22v2m0 10v2m1-87v1m1-26v1m1-7v1m0 18v1m1-19v1m0 13v1m0 57v1m0 12v1m0 21v1m0 12v2m1-120v1m0 8v1m0 22v1m0 90v1m1-124v1m0 5v1m0 9v1m1 32v1m0 38v1m1-100v1m0 16v1m0 6v1m0 27v2m0 79v1m1-117v1m0 61v1m0 13v1m0 21v1m0 13v1m1-115v1m1-5v1m1-9v1m2 23v1m0 7v1m1-30v1m0 2v1m0 16v1m1-25v1m0 8v1m1-12v1m0 10v1m0 64v1m0 54v1m1-93v1m0 3v1m0 11v1m0 6v1m0 11v1m2-74v2m0 96v1m1-1v1m1-91v1m0 62v1m0 34v1m0 26v1m1-77v1m0 38v1m0 35v1m1-55v1m0 32v1m0 16v1m5-75v1m2 0v1m0 61v4m1-81v1m0 15v1m0 16v1m0 17v1m0 17v1m0 17v1m1-89v1m0 17v1m0 12v1m0 35v1m0 21v1m1-60v1m0 23v1m0 11v1m1-52v2m0 49v1m0 22v1m1-38v1m0 15v1m1-86v1m1 13v1m1-27v1m0 19v1m2-10v1m0 25v1m0 8v1m0 21v1m0 16v1m0 17v1m0 17v1m1-114v1m0 20v1m0 19v1m0 16v1m0 21v1m0 12v1m1-104v1m0 6v1m1 7v1m0 34v1m0 39v1m0 12v1m1-115v1m0 18v1m0 7v1m0 10v1m0 40v1m0 18v1m0 16v1m0 18v1m1-52v5m0 1v4m0 26v2m0 6v2m1-113v1m2-18v2m1 32v4m1-9v1m0 8v1m1-32v1m0 27v1m1-32v1m0 9v1m0 67v1m0 11v1m0 21v1m0 13v1m1-117v1m0 63v1m0 56v1m1-134v1m0 37v1m0 15v1m0 44v1m1-100v1m0 35v1m1 27v1m0 35v1m1-75v1m0 35v1m1-42v1m0 22v1m0 15v1m0 38v1m1-56v1m0 32v1m0 55v1m1-50v7m0 26v2m0 7v2m1-84v1m4-4v1m0 15v1m2-51v1m0 6v1m0 26v1m0 37v1m0 10v1m0 23v2m0 10v1m1-85v1m0 15v1m0 35v1m1-55v1m1-27v1m0 44v1m0 11v1m0 23v1m0 11v1m1-109v3m0 8v1m0 41v2m0 76v1m1-103v1m0 48v1m0 14v1m0 18v1m0 15v1m1-106v1m1 13v1m1-27v1m0 19v1m1-22v1m0 15v1m0 59v3m0 2v3m0 26v4m0 2v4m1-107v1m0 56v1m0 34v1m0 19v1m1-123v1m0 6v1m0 10v1m0 30v1m0 16v1m0 34v1m1-106v1m0 17v1m0 34v1m1-44v1m0 6v1m0 32v2m0 39v1m0 13v1m0 21v1m1-118v1m0 8v1m0 5v1m0 45v1m0 16v1m0 18v1m0 16v1m3-126v1m2 21v1m0 6v1m1-10v1m1-16v1m1-1v1m0 65v1m0 16v1m0 16v1m0 18v1m1-119v1m0 8v3m0 33v1m0 3v1m0 46v1m0 24v1m1-107v1m0 8v1m0 11v1m0 1v1m0 12v1m0 9v1m0 33v1m0 26v1m1-63v1m0 26v1m1-1v1m1-61v2m0 31v1m0 34v1m0 26v1m1-27v1m1-14v1m0 15v1m0 19v1m2-87v1m0 2v1m3-3v2m0 5v2m1-16v1m0 16v1m1-18v1m0 16v1m1-54v1m0 9v1m0 43v1m0 17v1m0 15v1m0 19v1m0 15v1m1-70v1m0 34v1m0 35v1m1-92v1m0 20v1m0 10v1m0 23v1m0 11v1m1-95v1m0 44v1m0 36v1m0 11v1m1-77v1m0 18v1m0 43v1m0 34v1m1-50v2m0 6v3m0 23v2m0 8v2m1-106v1m1-7v1m0 19v1m2-25v1m0 71v1m0 12v2m0 19v1m0 14v1m1-120v1m0 8v1m0 21v1m0 91v1m1-125v1m0 6v1m1-13v1m0 18v1m0 35v1m0 38v1m1-83v1m0 6v1m0 14v4m0 7v2m0 45v1m0 35v1m1-55v2m0 11v2m0 21v1m0 13v1m1-115v1m2-14v1m2 24v1m0 7v1m1-26v1m0 15v1m0 6v1m1 84v6m1-124v1m0 10v1m0 64v1m0 54v1m1-133v1m0 44v1m0 17v1m0 11v1m0 23v1m2-96v2m0 94v1m1-93v1m0 91v1m1-78v1m0 111v1m1-77v1m0 16v1m0 21v1m1-18v1m0 12v1m0 19v1m0 15v1m5-88v1m2-34v3m0 70v5m0 29v8m1-123v1m0 39v1m0 15v1m0 16v1m0 17v1m0 16v1m0 18v1m1-89v1m0 17v1m0 12v1m0 35v1m0 21v1m1-72v1m0 11v1m0 23v1m0 11v1m1-96v1m0 42v2m0 15v1m0 34v1m0 22v1m1-83v1m0 26v1m0 17v1m0 16v1m0 17v1m1-86v1m2-33v1m1 14v1m1-16v1m0 36v1m0 9v1m0 21v1m0 17v1m0 16v1m0 17v1m1-114v1m0 19v2m0 19v1m0 16v1m0 21v1m0 12v1m1-97v1m1-14v1m0 20v1m0 34v1m0 52v1m1-115v1m0 18v1m0 7v1m0 9v1m0 41v1m0 18v1m0 16v1m0 18v1m1-50v6m0 29v8m2-118v1m2 21v2m0 2v1m1-9v1m0 8v1m1-25v1m0 15v1m0 3v1m1-31v1m0 9v1m0 66v1m0 13v1m0 19v1m0 15v1m1-54v1m1-77v1m0 46v1m0 60v1m1-109v1m0 99v1m1-1v1m1-39v1m1-43v1m0 23v1m0 15v1m0 13v1m0 24v1m1-56v1m0 32v1m0 19v1m0 35v1m1-48v3m0 29v8m1-82v1m0 7v1m4 4v1m2-52v1m0 7v1m0 63v2m0 10v2m0 21v2m0 11v2m1-128v1m0 41v1m0 51v1m0 14v1m1-70v1m0 19v1m0 34v1m1-82v1m0 21v1m0 22v1m0 11v1m0 23v1m0 11v1m1-110v2m0 1v3m0 5v1m0 22v1m0 19v1m0 41v1m0 13v1m1-63v1m0 30v1m0 13v2m0 19v1m0 14v1m1-87v1m1-26v1m1-8v1"/>
<path stroke="#08b5d0" d="m0 76v1m0 18v1m0 15v1m0 19v1m1-49v2m0 4v3m0 25v2m0 6v2m1-104v1m1 12v1m2 48v2m0 8v2m0 23v2m0 9v1m1-117v1m0 6v1m0 39v1m0 18v1m0 19v1m0 14v1m1-102v1m0 2v2m0 11v1m0 31v1m0 16v1m0 21v1m0 12v1m1-107v1m0 9v1m0 8v1m0 33v1m0 17v1m0 34v1m1-88v1m0 12v6m0 6v2m0 25v1m0 19v1m0 15v1m1-34v2m0 9v2m0 23v1m0 11v1m5-101v1m0 5v1m1-28v2m0 24v1m2 61v1m0 14v1m1-97v1m0 10v1m0 14v3m0 18v1m0 46v1m0 24v1m1-135v1m0 63v1m0 9v1m0 33v1m0 26v1m1-132v2m0 58v1m0 8v1m1-66v1m0 27v1m0 71v1m1-10v1m1-24v1m0 33v1m1-54v1m0 23v1m0 11v2m0 19v1m5-71v2m0 9v1m1-16v1m0 16v1m1-17v1m1-39v1m0 10v1m0 42v1m0 18v1m0 15v1m0 35v1m1-131v1m0 59v1m0 35v1m1-81v1m0 23v1m0 20v1m0 70v1m1-119v1m0 21v1m0 19v2m0 16v1m0 21v1m1-65v1m0 17v1m0 26v1m0 34v1m0 17v1m1-86v1m1-25v1m1-7v1m1-5v1m0 16v1m1-16v1m0 38v1m0 6v1m0 23v1m0 14v1m0 19v1m0 15v1m1-120v1m0 5v1m0 22v1m0 92v1m1-125v1m0 4v1m0 10v1m0 33v1m0 16v1m0 21v1m0 12v1m1-109v1m0 11v1m0 41v1m0 18v1m0 20v1m0 35v1m1-109v1m0 8v1m0 42v1m0 35v1m1-99v1m0 69v1m0 32v6m2-117v1m3 18v1m0 6v1m1-25v1m0 16v1m0 3v1m1 48v2m0 7v2m0 23v2m0 10v1m1-127v1m0 95v1m0 12v1m1-65v1m0 16v1m1 44v1m0 26v1m2-99v1m0 35v1m0 34v1m0 26v1m1-124v1m0 61v1m0 34v1m1-13v1m0 13v1m1 7v7m5-84v1m1-3v1m0 16v1m1-50v1m0 3v2m0 43v1m0 22v2m0 5v3m0 26v2m0 6v2m1-125v1m0 12v1m0 59v1m0 18v1m0 16v1m0 18v1m1-71v1m0 12v1m0 21v1m0 13v1m0 21v1m1-73v1m0 71v1m1-133v1m0 3v2m0 5v1m0 41v1m0 21v1m0 20v1m0 13v1m0 20v1m1-84v1m0 31v1m0 12v1m0 20v1m0 13v1m1-86v1m1-25v1m2-8v1m0 77v2m0 33v2m1-113v1m0 8v1m0 24v1m0 12v1m0 20v1m0 17v1m0 16v1m1-103v1m0 3v2m0 12v2m0 4v3m0 60v1m1-92v1m0 7v1m0 60v1m0 21v1m0 12v1m1-111v1m0 52v2m0 20v1m0 55v1m1-137v1m0 29v5m0 47v1m0 14v1m0 20v1m0 14v1m2-119v1m1-8v1m2 23v1m0 4v1m1-1v1m1-32v1m1-3v1m0 76v1m0 14v1m0 35v1m1-72v3m0 14v1m0 21v1m1-99v1m0 47v1m0 3v1m0 46v1m1-99v1m0 62v1m1-2v1m1-22v1m0 18v1m1 13v1m0 58v1m1-91v1m0 34v1m0 51v1m2-85v2m3 0v5m3-49v1m0 36v1m0 14v1m0 19v1m0 13v1m0 21v1m0 13v1m1-129v1m0 42v1m0 15v1m0 14v1m0 35v1m0 19v1m1-116v1m0 44v1m0 70v1m1-96v1m0 20v2m0 14v1m0 57v1m1-82v1m0 24v1m0 18v1m0 15v1m1-84v1m0 55v6m0 28v3m0 2v3m1-85v1m1-25v1m1-7v1m0 17v1m1-5v1m0 59v1m0 10v1m0 22v2m0 11v1m1-118v1m0 6v1m0 23v1m0 15v1m0 18v1m0 19v1m0 14v1m1-103v1m0 3v2m0 10v1m0 32v1m0 16v1m0 21v1m0 12v1m1-97v1m0 8v1m0 33v1m0 17v1m0 34v1m1-113v1m0 24v1m0 11v2m0 4v7m0 27v1m0 35v1m0 18v1m1-52v1m0 8v2m0 24v2m0 9v2m2-119v1m3 23v1m1-29v2m0 1v1m1-8v1m0 8v1m1 83v1m0 14v1m1-72v1m0 3v1m0 11v1m0 52v1m0 24v1m1-135v1m0 63v1m0 9v1m0 33v1m0 26v1m1-108v1m0 35v1m0 8v1m1-38v1m0 71v1m0 26v1m1-92v1m0 54v1m1 10v1m0 22v1m1-77v1m0 24v1m0 10v1m0 21v1m0 13v1m1-76v1m4-11v1m0 11v1m1-17v1m0 16v1m1-17v1m0 15v1m1-44v1m0 42v1m0 34v1m0 18v1m0 16v1m1-71v1m0 35v1m1-81v1m0 23v1m0 19v1m0 71v1m1-97v1m0 18v2m0 39v1m0 13v1m1-33v1m0 15v1m1-69v1m1-6v1m0 17v1m1-26v1m0 18v1m1-23v1m1 12v1m0 26v1m0 31v1m0 15v1m0 18v1m0 15v1m1-120v1m0 5v1m0 22v1m0 92v1m1-126v1m0 16v1m0 33v1m0 16v1m0 21v1m0 12v1m1-97v1m0 41v1m0 18v1m0 20v1m0 35v1m1-109v1m0 7v1m0 43v1m0 16v1m0 18v1m0 16v1m1-116v1m1-4v1m3 18v2m1 0v1m1-31v1m0 23v3m1 48v2m0 9v2m0 21v2m0 12v1m1-128v1m0 10v1m0 84v1m0 12v1m0 22v1m1-96v1m0 15v1m0 44v1m1-64v1m0 71v1m0 26v1m1-129v1m1 29v1m0 35v1m0 34v1m0 26v1m1-27v1m0 24v1m1-77v1m0 19v1m0 32v1m0 20v1m1-77v1m5-16v1m1-2v1m0 16v1m1-51v1m0 5v1m0 43v1m0 22v1m0 8v1m0 25v1m0 9v1m1-112v1m0 43v1m0 15v1m0 18v1m0 16v1m0 18v1m1-71v1m0 12v1m0 21v1m0 13v1m0 21v1m1-73v1m0 71v1m1-127v2m0 1v2m0 42v1m0 21v1m0 55v1m1-102v1m0 49v2m0 10v1m0 22v1m0 12v1m1-105v1m1-6v1m0 17v1m1-26v1m0 18v1"/>
<path stroke="#01b8ca" d="m0 34v1m0 16v1m0 78v1m1-102v1m0 55v4m0 30v6m1-84v1m1-24v1m1-7v1m0 16v1m1-17v1m0 11v1m0 61v2m0 4v2m0 27v2m0 5v2m1-110v1m0 25v1m0 34v1m0 17v1m0 16v1m0 18v1m1-121v2m0 14v1m0 104v1m1-120v1m0 82v1m0 35v1m1-134v1m0 14v1m0 20v1m0 6v6m0 28v1m0 17v1m0 35v1m1-117v1m0 65v2m0 5v2m0 26v2m0 7v2m1-114v1m1-5v1m1-9v1m2 26v1m0 3v1m1-7v1m0 4v1m2-32v1m0 75v1m0 16v1m0 16v1m0 18v1m1-119v2m0 1v2m0 39v1m0 40v1m1-71v1m0 8v1m0 61v1m1-72v1m0 7v1m0 71v1m0 26v1m1-63v1m0 61v1m1-113v1m0 20v1m0 29v1m0 34v1m1 23v1m1-90v1m0 37v1m0 9v1m0 22v1m0 13v1m1-86v1m0 9v1m4-9v1m0 7v1m1 1v1m1-1v1m1-14v1m0 33v1m0 13v1m0 20v1m0 14v1m1-114v1m0 27v1m0 14v1m0 15v1m0 35v1m0 19v1m1-73v2m0 13v1m0 21v1m0 13v1m1-98v1m0 41v1m0 54v1m0 20v1m1-54v1m0 15v1m0 18v1m0 15v1m1-103v1m1-6v1m0 16v1m1-24v1m0 16v1m1-22v1m0 14v1m1-14v1m0 9v1m0 28v2m0 2v2m0 25v1m0 12v1m0 21v1m0 13v1m1-118v2m0 1v2m0 24v1m0 16v1m0 18v1m0 19v1m0 14v1m1-103v1m0 2v1m0 12v1m0 106v1m1-110v1m0 31v1m0 55v1m1-115v1m0 16v1m0 10v1m0 5v2m0 44v1m0 15v1m0 35v1m2-119v1m5-9v1m0 22v3m1-29v1m0 79v7m0 27v1m0 7v2m1-50v1m0 54v1m1-106v1m0 11v1m0 15v1m0 19v1m0 33v1m0 24v1m1-71v1m0 9v1m1-68v1m0 65v1m0 34v1m0 26v1m2-2v1m1-77v1m0 19v1m0 17v1m0 35v1m1-89v1m0 11v1m1-12v1m0 6v1m4 3v1m1-1v1m1-48v3m0 30v1m0 13v1m0 25v5m0 31v6m1-81v1m0 13v1m0 17v1m0 16v1m0 18v1m0 16v1m1-115v1m0 26v1m0 16v1m0 70v1m1-117v1m0 23v1m0 19v1m0 14v1m0 21v1m0 13v1m1-105v5m0 24v1m0 59v1m0 15v1m1-31v1m0 9v2m0 22v1m0 11v1m1-103v1m1-6v1m0 16v1m1-25v1m0 17v1m1-6v1m1-12v1m0 33v1m0 49v1m0 35v1m1-120v3m0 16v4m0 3v2m0 72v1m0 20v1m1-120v1m0 10v1m0 32v1m0 74v1m1-119v1m0 8v1m0 28v1m0 42v1m0 15v1m1-98v1m0 63v1m0 12v1m0 22v1m0 12v1m1-115v1m4 14v4m1-7v1m0 5v1m1-24v1m1 81v1m0 19v1m0 15v1m1-129v1m0 10v1m0 97v1m0 22v1m1-87v1m1-46v1m0 33v1m0 71v1m0 26v1m1-100v1m0 36v1m0 34v1m0 26v1m1-93v1m0 55v1m1-41v1m0 38v1m0 11v1m1-31v1m0 14v1m0 17v1m1-59v1m5-15v1m0 14v1m1-16v1m0 14v1m1-44v1m0 42v1m0 21v2m0 10v1m0 23v1m0 10v2m1-127v1m0 13v1m0 42v1m0 16v1m0 18v1m0 16v1m1-53v1m0 13v1m0 21v1m0 13v1m1-97v1m0 42v1m0 38v1m0 13v1m0 20v1m1-55v1m0 34v1m0 17v1m1-85v1m0 74v2m1-100v1m1-6v1m0 16v1m1-24v1m1 0v1m0 72v2m0 7v1m0 25v1m0 8v2m1-116v1m0 4v1m0 114v1m1-122v3m0 13v1m0 105v1m1-129v1m0 8v1m0 42v1m0 39v1m0 35v1m1-119v1m0 9v1m0 9v1m0 41v1m0 17v1m0 17v1m1-99v1m0 65v8m0 28v2m0 5v2m1-113v1m2-14v1m2 26v1m1-21v1m0 18v1m0 4v1m2 44v1m0 52v1m1-106v1m0 14v3m0 13v1m0 4v1m0 35v1m1-71v1m0 70v1m1-94v1m0 29v1m0 71v1m0 26v1m1-74v1m0 10v1m1 0v1m0 34v1m1-33v1m0 19v1m1-54v1m0 38v1m0 7v2m0 23v1m0 11v1m1-85v1m4 0v1m0 9v1m1 0v1m1-1v1m1-54v1m0 39v1m0 32v1m0 14v1m0 20v1m0 14v1m1-130v1m0 15v1m0 27v1m0 30v1m0 35v1m0 19v1m1-73v1m0 14v1m0 21v1m0 13v1m1-110v2m0 10v1m0 40v1m0 20v1m0 55v1m1-100v1m0 16v1m0 29v1m0 13v1m0 19v1m0 15v1m1-86v1m2-30v1m1-4v1m0 14v1m1-14v1m0 37v1m0 6v1m0 24v1m0 13v1m0 34v1m1-118v5m0 41v1m0 18v1m0 19v1m0 14v1m1-104v1m0 3v2m0 11v1m0 106v1m1-131v1m0 20v1m0 31v1m0 55v1m0 19v1m1-118v1m0 10v1m0 4v2m0 45v1m0 14v1m0 20v1m0 14v1m3-124v1m3 19v1m1-23v1m0 4v1m1 70v2m0 5v2m0 25v1m0 9v2m1-51v1m1-32v1m0 16v1m0 11v1m0 58v1m1-134v1m0 62v1m1-29v1m0 36v1m0 34v1m0 26v1m1-127v1m0 28v1m1-26v1m0 61v1m1 20v1m0 15v1m2-68v1m0 5v1m4-10v1m0 13v1m1-1v1m1-49v5m0 29v1m0 13v1m0 24v8m0 27v3m0 3v3m1-124v1m0 55v1m0 70v1m1-115v1m0 43v1m1-46v1m0 42v2m0 14v1m0 21v1m0 13v1m1-103v1m0 26v1m0 16v1m0 42v1m0 15v1m1-30v1m0 7v2m0 24v1m0 9v2m1-86v1m2-30v1m0 16v1"/>
<path stroke="#02bac3" d="m0 77v1m0 16v1m0 17v1m1-67v1m1-23v1m1-6v1m0 15v1m1-23v1m1 0v1m0 74v4m0 31v5m1-113v2m0 2v1m0 40v1m0 73v1m1-103v1m0 4v5m0 19v1m0 18v1m0 19v1m0 14v1m1-107v1m0 18v1m0 31v1m0 19v1m0 34v1m1-88v1m0 8v2m0 58v1m0 18v1m0 16v1m1-48v5m0 30v7m3-125v1m2 28v3m1-5v1m0 2v1m1-29v1m0 6v1m1-1v1m0 67v1m0 50v1m1-130v1m0 10v1m0 12v1m0 32v4m0 14v1m0 56v1m1-85v3m1-46v1m1 55v1m0 36v1m1-40v1m0 73v1m1-90v1m0 31v1m0 19v1m0 13v1m1-29v1m0 7v1m0 24v1m0 10v2m5-82v2m0 4v1m1-13v1m1 0v1m1-39v1m0 8v1m0 42v1m0 33v1m0 22v1m0 12v1m1-128v1m0 56v1m0 36v1m1-81v1m0 25v1m0 16v1m0 72v1m1-132v4m0 33v1m0 16v1m0 20v1m0 19v1m0 15v1m1-79v1m0 15v1m0 29v1m0 13v1m0 20v1m0 13v1m1-85v1m3-32v1m1 9v1m0 31v2m0 28v1m0 10v1m0 23v1m0 11v1m1-115v1m0 98v1m0 18v1m1-122v2m0 14v1m0 30v1m0 18v1m0 19v1m0 14v1m1-109v1m0 9v1m0 10v1m0 29v1m0 21v1m0 18v1m0 35v1m1-106v1m0 3v1m0 61v1m0 20v1m0 14v1m1-116v1m2-9v1m3 20v1m0 4v1m1-28v1m0 1v2m1 0v1m0 106v7m1-114v1m0 84v1m0 14v1m1-67v1m0 52v1m1-98v1m0 26v1m0 70v1m1-64v1m0 26v1m1-55v1m0 28v1m0 60v1m1-80v1m0 54v1m0 22v1m1 13v1m2-62v1m4-9v1m0 11v1m1-15v1m2-40v1m0 10v1m0 42v1m0 70v1m1-71v1m0 15v1m0 19v1m0 15v1m1-55v2m0 72v1m1-80v1m0 23v1m0 53v1m1-100v1m0 15v1m0 34v2m0 6v1m0 25v2m0 7v2m1-85v1m2-29v1m0 15v1m1-18v1m1 8v1m0 37v1m0 22v1m0 34v1m0 15v1m1-91v1m0 17v1m0 18v1m0 19v1m1-90v1m0 4v1m0 63v1m0 19v1m0 14v1m1-111v1m0 22v1m0 11v4m0 11v1m0 24v1m0 17v1m0 17v1m0 17v1m1-52v2m0 8v2m0 24v1m0 9v2m2-118v1m1-8v1m3 27v1m1-29v1m1 5v1m0 68v1m0 11v1m0 21v1m0 13v1m1-32v1m1-45v1m0 9v1m0 11v1m0 33v1m0 24v1m1-132v2m0 23v1m0 70v1m1-92v1m0 18v1m0 71v1m1-26v1m0 34v1m1-65v1m0 30v1m0 56v1m1-77v1m0 23v1m0 12v1m0 19v1m0 15v1m1-87v1m5-3v1m2-37v1m0 5v1m0 30v1m0 36v1m0 7v2m0 25v2m0 7v1m1-82v1m0 12v1m0 35v1m0 35v1m1-89v1m0 16v1m0 71v1m1-94v1m0 16v2m0 18v1m0 19v1m1-62v1m0 15v1m0 43v1m0 34v1m1-101v1m1 10v1m2-28v1m0 14v1m1-15v1m0 9v1m0 63v7m0 27v3m0 2v3m1-113v4m0 26v1m0 13v1m0 20v1m0 17v1m0 16v1m0 17v1m1-104v1m0 7v2m0 20v1m0 18v1m0 19v1m0 14v1m1-88v1m0 51v1m0 34v1m0 19v1m1-133v1m0 33v1m0 43v1m0 15v1m0 35v1m1-12v5m2-116v1m1-11v2m2 28v2m0 1v2m1-6v4m1-29v1m0 6v1m1-10v1m0 8v1m0 83v1m0 16v1m1-112v1m0 11v4m0 41v1m0 2v1m0 14v1m1-76v1m0 35v1m2-1v1m0 61v1m1-89v1m0 48v1m0 73v1m1-90v1m0 65v1m0 20v1m1-49v3m0 1v3m0 26v2m0 7v2m1-75v1m4-8v1m0 7v1m1-14v1m1 0v1m1-39v1m0 8v1m0 42v1m0 20v1m0 35v1m0 12v1m1-128v1m0 57v1m0 35v1m1-81v1m0 42v1m0 72v1m1-132v1m0 2v2m0 7v1m0 40v1m0 41v1m0 15v1m1-32v1m0 11v1m0 21v1m0 13v1m1-102v1m1-6v1m0 15v1m1-23v1m0 15v1m1-20v1m1 1v1m0 7v1m0 29v1m0 3v2m0 26v1m0 11v1m0 21v1m1-75v1m0 90v1m1-123v3m0 45v1m0 18v1m0 19v1m0 14v1m1-99v1m0 10v1m0 29v1m0 21v1m0 18v1m1-99v1m0 28v4m0 48v1m0 12v1m0 22v1m0 12v1m1-115v1m5 12v1m0 4v1m1-25v1m1-8v1m0 7v1m0 72v5m0 28v2m0 6v1m1-115v1m0 84v1m0 14v1m0 20v1m1-106v1m0 11v1m0 5v1m0 9v1m0 53v1m1-82v1m0 45v1m0 24v1m1-37v1m1-25v3m0 57v1m1-81v1m0 25v1m0 52v1m1-20v1m0 51v1m1-88v1m1 1v1m0 3v1m4-8v1m0 11v1m1-15v1m1 77v3m1-120v1m0 40v1m0 12v1m0 18v1m0 16v1m0 18v1m1-71v1m0 15v1m0 15v1m0 19v1m0 15v1m0 19v1m1-93v1m0 17v1m0 73v1m1-56v1m0 53v1m1-100v1m0 15v1m0 35v7m0 27v3m0 4v2m1-101v1m1-6v1m0 15v1m1-23v1"/>
<path stroke="#0bbdbd" d="m0 35v1m0 14v1m0 27v1m0 14v1m0 19v1m0 15v1m1-100v1m1 9v1m1-21v1m1-7v1m0 13v1m1-5v1m1-7v2m0 28v1m0 11v1m0 22v1m0 15v1m0 18v1m1-85v4m0 5v1m0 92v1m1-126v1m0 5v1m0 12v1m0 29v1m0 39v1m0 35v1m1-132v1m0 12v1m0 11v1m0 6v1m0 44v1m0 35v1m1-119v1m0 17v1m2-7v1m1-10v1m3 28v2m1-27v1m1 88v1m0 18v1m1-96v1m0 78v1m0 12v1m1-110v1m0 46v1m0 14v1m0 11v1m0 33v1m0 24v1m1-72v1m0 10v1m0 24v1m1-63v1m1-27v1m0 86v1m1-41v1m0 73v1m1-49v7m0 26v2m0 7v1m1-74v1m4-5v4m1-11v1m0 12v1m1-1v1m1-51v1m0 6v1m0 31v1m0 10v1m0 22v2m0 9v1m0 24v2m0 9v1m1-126v1m0 12v1m0 29v1m0 11v1m0 18v1m0 17v1m0 17v1m0 17v1m1-74v1m0 17v1m0 19v1m0 15v1m1-108v1m0 7v1m0 40v1m0 76v1m1-51v1m0 11v1m0 22v1m0 11v1m1-100v1m1-6v1m0 14v1m1-22v1m0 14v1m1-7v1m1-12v1m0 70v1m0 8v1m0 25v1m0 9v1m1-86v1m0 14v1m0 20v1m0 17v1m2-43v1m0 58v1m0 17v1m1-133v1m0 14v1m0 13v3m0 48v2m0 11v1m0 22v1m0 12v1m2-118v1m4 16v4m1-26v1m1-5v1m1-3v1m0 75v1m0 52v1m1-131v1m0 38v1m0 3v1m0 11v1m0 5v1m1-61v1m1 96v1m1-61v3m0 19v1m0 12v1m0 34v1m0 24v1m1-122v1m0 31v1m0 13v1m0 50v1m1-66v1m0 33v1m0 15v1m0 35v1m2-86v1m4-3v1m0 9v1m1-13v1m0 12v1m1-13v1m0 11v1m1-53v1m0 40v1m0 10v1m0 20v1m0 14v1m0 20v1m1-115v1m0 14v1m0 28v1m0 13v1m0 71v1m1-117v1m0 25v1m0 15v1m0 18v1m0 19v1m0 15v1m1-76v1m0 14v1m0 42v1m0 17v1m1-29v6m0 28v3m0 1v3m1-99v1m1-6v1m0 14v1m1-22v1m1-2v1m0 10v1m1-10v2m0 3v1m0 28v1m0 8v1m0 24v1m0 13v1m0 20v1m0 13v1m1-52v1m0 34v1m0 18v1m1-124v4m0 13v1m0 30v1m0 74v1m1-119v1m0 11v1m0 8v2m0 4v2m0 7v2m0 26v1m1-82v1m0 16v1m0 67v2m0 4v2m0 27v2m0 6v1m1-113v1m5 13v4m1-27v1m0 3v1m1-8v1m0 77v2m0 8v1m0 23v1m0 11v1m1-117v1m0 65v1m0 54v1m1-132v1m0 36v1m0 7v1m1-42v1m0 68v1m2-65v1m0 13v1m0 19v1m0 89v1m1-38v1m1-5v1m0 21v1m0 13v1m6-75v1m1-14v1m0 12v1m1-49v5m0 43v1m0 25v7m0 29v7m1-123v1m0 11v1m0 41v1m0 19v1m0 35v1m1-99v1m0 41v2m0 16v1m0 19v1m0 15v1m1-112v2m0 11v1m0 40v1m0 56v1m0 18v1m1-53v1m0 14v1m0 19v1m1-69v1m1-22v1m1-6v1m0 14v1m1-21v1m1 110v2m1-44v1m0 15v1m0 18v1m1-86v7m0 2v2m0 92v1m1-127v1m0 6v1m0 12v1m0 29v1m0 39v1m0 16v1m1-100v1m0 11v2m0 4v2m0 59v1m0 20v1m0 14v1m1-116v1m1-3v1m2-17v2m2 32v1m3 46v1m0 14v1m0 18v1m0 16v1m1-119v1m0 4v1m0 7v1m0 33v2m0 49v1m0 22v1m1-86v4m0 11v1m0 45v1m0 24v1m1-128v1m0 55v1m0 10v1m0 24v1m2-78v1m0 22v1m0 29v1m0 22v1m1-41v1m0 19v1m0 17v1m1-41v1m0 30v1m0 31v2m0 2v3m1-81v1m4 1v2m0 2v3m1-12v1m0 12v1m1-1v1m1-44v1m0 31v1m0 10v1m0 22v1m0 10v2m0 23v1m0 10v1m1-113v1m0 29v1m0 12v1m0 17v1m0 17v1m0 17v1m0 17v1m1-90v1m0 15v1m0 17v1m0 19v1m0 15v1m1-107v2m0 4v1m0 25v1m0 38v1m0 53v1m1-98v1m0 14v1m0 32v1m0 9v1m0 23v1m0 11v1m1-85v1m2-27v1m1 8v1m1-5v1m0 31v3m0 29v1m0 9v1m0 23v2m0 9v2m1-87v1m0 14v1m0 20v1m0 17v1m0 16v1m1-87v1m0 29v1m0 74v1m1-129v1m0 33v1m0 15v1m0 58v1m0 17v1m1-118v1m0 65v1m0 10v1m0 24v1m0 10v1m2-117v1m1-7v1m3 22v4m1-27v3m1 109v6m1-123v1m0 75v1m1-78v1m0 60v1m0 35v1m1-97v1m1 96v1m1-58v1m0 18v1m0 12v1m0 34v1m0 24v1m1-121v1m0 3v1m0 40v1m0 50v1m0 22v1m1-89v1m0 49v1m0 17v1m2-67v1m0 1v1m4-6v1m0 9v1m1-13v1m0 12v1m1-13v1m0 11v1m1-43v1m0 30v1m0 10v1m0 20v1m0 14v1m0 20v1m0 14v1m1-130v1m0 14v1m0 42v1m0 71v1m1-117v1m0 41v1m0 18v1m0 19v1m0 15v1m1-61v1m0 25v1m0 16v1m0 17v1m0 16v1m1-10v4m1-83v1m1-21v1m1-7v1m0 13v1"/>
<path stroke="#19bfb6" d="m0 114v1m0 13v1m1-84v1m1-21v1m1 8v1m1-20v1m0 11v1m1-13v1m0 7v1m1 25v1m0 34v1m0 13v1m0 20v1m0 14v1m1-91v1m0 16v1m0 20v1m0 17v1m0 16v1m1-106v1m0 2v2m0 65v1m0 34v1m1-87v2m0 2v2m0 46v1m0 13v1m0 21v1m0 13v1m2-118v1m2-17v3m4 9v1m1-8v1m0 6v1m0 69v1m0 12v1m0 20v1m0 14v1m1-119v1m0 7v1m0 4v1m1 22v1m0 4v1m0 45v1m1-92v1m1 66v1m0 34v1m0 24v1m1-90v1m0 29v1m1 2v1m0 17v1m0 15v1m1-68v1m0 10v1m0 62v3m0 1v3m1-81v1m5 8v1m1-12v1m0 10v1m1-49v1m0 4v1m0 42v1m0 25v1m0 6v2m0 27v1m0 6v2m1-71v1m0 20v1m0 35v1m0 15v1m1-88v1m0 13v1m0 73v1m1-126v2m0 3v2m0 40v1m0 23v1m0 17v1m0 17v1m1-79v1m0 13v1m0 32v1m0 9v1m0 24v1m0 9v1m1-84v1m2-26v1m1-5v1m1 1v1m0 5v1m0 64v2m0 4v2m0 27v2m0 5v2m1-84v1m0 35v1m0 15v1m0 18v1m0 16v1m1-104v2m0 4v5m0 18v1m0 20v1m0 17v1m0 16v1m0 18v1m1-128v1m0 7v1m0 12v1m0 9v4m0 38v1m0 16v1m1-15v1m0 9v1m0 24v1m0 10v1m1-115v1m2-9v1m5 2v1m1-1v1m0 84v1m0 16v1m1-72v1m0 1v1m0 13v1m0 3v1m0 14v1m0 33v1m0 22v1m1-131v1m0 33v1m0 25v1m0 45v1m0 24v1m1-61v1m1-33v2m1-25v1m0 56v1m0 56v1m1-54v1m0 32v1m0 16v1m1-76v1m1-9v1m0 1v2m4-6v2m0 6v1m1 0v1m1-1v1m1-43v1m0 41v1m0 22v1m0 12v1m0 22v1m0 12v1m1-128v1m0 54v2m0 18v1m0 17v1m0 17v1m1-58v1m0 74v1m1-54v1m0 15v1m0 35v1m1-98v1m0 88v1m1-81v1m1-20v1m1-7v1m0 12v1m1-15v1m0 8v1m1-7v3m0 30v1m0 6v1m0 26v1m0 11v1m0 22v1m0 11v1m1-88v1m0 15v1m0 38v1m1-70v1m0 9v1m0 18v1m0 21v1m0 17v1m0 16v1m1-111v1m0 30v1m0 8v3m0 2v2m0 44v1m0 19v1m0 15v1m1-47v4m0 31v6m2-116v1m1-8v1m4 2v3m1 0v1m0 72v1m0 6v1m0 25v1m0 9v1m1-125v1m0 93v1m0 14v1m1-58v1m0 7v1m0 35v1m1-93v1m0 56v1m0 45v1m0 24v1m1-98v1m0 24v1m0 11v1m0 34v1m0 24v1m1-75v1m0 37v1m1-22v1m0 33v1m0 20v1m1-88v1m0 36v1m0 9v1m0 35v1m1-75v1m5-12v1m0 10v1m1-12v1m0 10v1m1-11v1m0 9v1m1-11v1m0 9v1m0 36v1m0 20v1m0 14v1m1-130v1m0 42v1m0 12v1m0 73v1m1-129v2m0 49v1m0 22v1m0 17v1m1-60v1m0 13v1m0 29v1m0 12v1m0 21v1m0 13v1m1-99v1m1 8v1m1-20v1m0 12v1m1-19v1m0 11v1m1-13v1m0 7v1m1 24v1m0 11v1m0 73v1m1-74v1m0 20v1m0 17v1m0 16v1m1-107v1m0 4v1m0 24v1m0 17v1m0 22v1m0 52v1m1-131v1m0 26v4m0 47v1m0 12v1m0 22v1m0 12v1m1-133v1m2 10v1m5-5v1m0 4v1m1-8v1m0 6v1m0 69v1m0 48v1m1-119v1m0 85v1m1-96v1m0 72v1m2-50v1m0 11v1m0 35v1m0 34v1m0 24v1m1-25v1m1 1v1m1 8v2m1-71v1m4-4v2m1 3v1m1-12v1m0 10v1m1-50v1m0 48v1m0 24v1m0 8v1m0 26v1m0 8v1m1-125v1m0 53v2m1-44v1m0 41v1m0 73v1m1-124v4m0 41v1m0 41v1m0 17v1m0 16v1m1-48v1m0 7v1m0 25v2m0 7v2m1-99v1m1-6v1m0 13v1m1-20v1m0 12v1m1-18v1m0 10v1m1-10v2m0 3v1m0 65v1m0 6v2m0 26v1m0 7v1m1-13v1m0 16v1m1-104v1m0 6v4m0 39v1m0 17v1m0 16v1m1-101v1m0 12v1m0 8v3m0 1v2m0 12v1m0 24v1m0 16v1m1-97v1m0 81v1m0 8v1m0 26v1m0 8v1m1-114v1m7-12v1m0 5v1m1 84v1m0 16v1m0 18v1m1-92v1m0 3v1m0 11v1m0 19v1m0 33v1m0 22v1m1-131v2m0 32v1m0 25v1m0 45v1m0 24v1m1-127v1m0 65v1m1-50v1m0 17v1m1-29v3m0 58v1m0 20v1m1-41v1m0 22v1m0 13v1m0 35v1m1-76v1m1-8v1m4-4v1m0 7v1m1 0v1m1-11v1m0 9v1m1-52v1m0 8v1m0 41v1m0 22v1m0 12v1m0 22v1m0 12v1m1-128v1m0 42v1m0 11v2m0 18v1m0 17v1m0 17v1m1-113v1m0 39v1m0 13v2m0 74v1m1-95v1m0 13v1m0 42v1m0 19v1m1-82v1m0 13v1m1-21v1m1 8v1m1-20v1"/>
<path stroke="#24c1ae" d="m0 49v1m0 29v1m0 12v1m0 34v1m1-97v1m1 7v1m1-19v1m0 11v1m1-18v1m1-1v1m0 5v1m1 36v1m0 37v1m0 35v1m1-16v1m0 16v1m1-123v2m0 16v1m0 7v5m0 15v1m0 39v1m0 18v1m0 16v1m1-130v1m0 10v1m0 15v2m0 49v1m0 11v1m0 23v1m0 11v1m1-132v1m0 15v1m2-7v1m5-4v2m0 1v1m1 71v1m0 10v1m0 35v1m1-127v1m0 17v4m0 53v1m0 33v1m0 20v1m1-131v1m0 35v1m0 14v1m1 55v1m0 24v1m1-109v1m0 11v1m1-17v1m0 87v1m0 22v1m1-3v1m1-10v1m1-71v1m5-10v1m1 0v1m1-38v4m0 34v1m0 7v1m0 27v6m0 30v6m1-122v1m0 10v1m0 31v1m0 8v1m0 37v1m1-94v2m0 12v1m0 40v1m0 20v1m0 17v1m0 17v1m1-106v3m0 28v1m0 38v1m0 51v1m1-48v2m0 5v2m0 26v1m0 7v1m1-97v1m1-6v1m0 12v1m1-19v1m0 11v1m1-17v1m0 9v1m1-9v5m0 67v4m0 31v5m1-69v1m0 73v1m1-101v4m0 5v1m0 91v1m1-126v1m0 5v1m0 14v1m0 6v2m0 4v2m0 11v1m0 40v1m0 19v1m0 15v1m1-131v1m0 81v2m0 5v2m0 26v2m0 6v2m8-124v1m1-3v1m0 75v1m0 50v1m1-129v1m0 23v1m0 15v1m0 15v3m0 36v1m1-94v1m0 70v1m0 22v1m1-91v1m0 28v1m0 71v1m0 24v1m1-110v1m0 18v1m0 53v1m1-85v1m0 82v1m1-41v1m0 36v1m0 19v1m1-70v1m1 2v1m4-2v2m0 2v2m1-10v1m1 0v1m0 8v1m1-50v1m0 40v1m0 7v1m0 24v1m0 10v1m0 24v1m0 10v1m1-126v1m0 11v1m0 30v1m0 9v1m0 73v1m1-130v3m0 10v1m0 27v1m0 12v1m0 21v1m0 17v1m0 17v1m1-63v1m0 27v1m0 34v1m0 14v1m1-96v1m0 12v1m1-20v1m1 7v1m1-19v1m0 10v1m1-6v1m1 28v1m0 4v1m0 28v1m0 9v1m0 24v1m0 9v1m1-49v1m0 15v1m0 18v1m0 16v1m1-104v1m0 5v3m0 1v2m0 91v1m1-119v1m0 13v2m0 3v2m0 12v2m0 31v1m0 13v1m0 21v1m0 13v1m1-132v1m1 13v1m2-12v1m5 0v1m0 79v6m0 27v1m0 7v1m1-116v1m0 67v1m1-77v1m0 24v1m0 11v1m0 5v1m0 9v1m0 20v1m0 33v1m0 22v1m1-127v1m0 29v1m2 7v1m0 29v1m1-18v1m0 37v1m1-14v2m0 6v1m0 24v1m0 10v1m1-83v1m5-2v1m0 8v1m2-9v1m0 7v1m1-52v1m0 9v1m0 32v1m0 7v1m0 22v1m0 13v1m0 35v1m1-128v1m0 12v1m0 40v1m0 20v1m0 17v1m0 17v1m1-109v1m0 7v1m0 26v1m0 72v1m0 16v1m1-50v1m0 10v1m0 23v1m0 11v1m1-97v1m0 12v1m1-20v1m1-5v1m1-6v1m0 9v1m1-11v1m0 5v1m1 26v1m0 34v1m0 13v1m0 20v1m0 13v1m1-90v1m0 90v1m1-124v4m0 15v1m0 7v2m0 1v2m0 55v1m0 18v1m1-102v1m0 66v1m0 10v1m0 24v1m1-104v1m7-10v1m0 2v1m1 83v1m0 20v1m1-113v1m0 15v1m0 5v1m0 52v1m0 54v1m1-86v1m0 4v1m0 45v1m1 10v1m0 24v1m1-126v1m0 29v1m0 21v1m1 71v1m1-55v1m0 15v1m0 35v1m1-87v1m1 0v1m5-4v1m1 0v1m0 8v1m1-48v1m0 4v1m0 33v1m0 7v1m0 26v2m0 4v2m0 28v2m0 4v2m1-123v1m0 10v1m0 31v1m0 8v1m0 21v1m0 15v1m0 19v1m0 15v1m1-130v2m0 40v1m0 11v2m0 20v1m0 17v1m0 17v1m1-62v1m0 25v1m0 15v1m1-60v1m0 12v1m0 35v7m0 28v2m0 3v2m1-83v1m1-19v1m1-6v1m0 10v1m1-16v1m1 2v3m0 67v6m0 29v3m0 1v3m1-83v1m0 12v1m0 22v1m0 15v1m1-67v6m0 4v1m0 16v1m0 74v1m1-127v1m0 6v1m0 14v1m0 6v1m0 6v2m0 9v1m0 26v1m0 14v1m0 19v1m0 15v1m1-49v3m0 2v3m0 28v1m0 5v2m2-116v1m1-7v1m5-2v1m1-3v1m0 6v1m0 68v1m1-78v1m0 38v1m0 1v1m0 13v1m0 3v1m1-57v1m0 69v1m1-49v1m0 9v1m0 24v1m0 46v1m0 24v1m1-91v1m0 53v1m1 12v1m1-31v1m0 11v1m0 20v1m0 14v1m1-85v1m5 0v1m0 5v1m1-10v1m1 9v1m1-50v1m0 40v1m0 7v1m0 35v1m0 24v1m0 10v1m1-126v1m0 11v1m0 30v1m0 9v1m0 73v1m1-129v2m0 10v1m0 39v1m0 22v1m0 17v1m0 17v1m1-35v1m0 49v1m2-89v1m1-19v1m1-6v1m0 10v1"/>
<path stroke="#2cc4a7" d="m0 36v1m0 43v1m0 10v1m0 23v1m0 10v1m1-95v1m0 11v1m1-19v1m1-5v1m1-6v1m0 8v1m1-10v2m0 2v1m1 28v1m0 34v1m0 34v1m0 11v1m1-88v1m0 14v1m0 22v1m0 15v1m1-68v2m0 3v2m0 5v1m0 13v1m0 24v1m0 50v1m1-50v1m0 9v1m0 25v1m0 9v1m2-117v1m6-6v1m1-5v1m0 4v1m0 72v1m0 8v1m0 23v1m0 11v1m1-118v1m0 85v1m1-94v1m0 42v1m0 15v1m0 47v1m0 22v1m1-97v1m0 60v1m1-90v1m0 29v1m0 21v1m0 36v1m1-40v1m0 16v1m0 20v1m1-52v1m0 32v1m0 15v1m0 17v1m2-68v1m5-3v1m0 8v1m1-1v1m1-8v1m0 5v1m1-51v1m0 42v1m0 6v1m0 23v1m0 13v1m0 21v1m0 13v1m1-127v1m0 10v1m0 29v1m0 9v2m0 74v1m1-79v1m0 41v1m0 19v1m0 14v1m1-94v1m0 11v1m0 36v5m0 29v7m1-95v1m0 11v1m2-23v1m0 9v1m1-15v1m0 7v1m2 23v1m0 35v1m0 13v1m0 20v1m1-76v1m0 15v1m0 22v1m0 15v1m0 18v1m1-108v1m0 3v1m0 16v2m0 2v2m0 8v1m0 9v1m0 26v1m0 35v1m1-103v1m0 70v5m0 30v2m0 2v2m2-115v1m1-7v1m5-1v1m0 1v2m1-1v1m0 84v1m0 18v1m1-103v3m1-9v2m0 41v3m0 11v1m1-36v1m0 34v1m0 35v1m1-24v1m1-61v1m0 2v1m0 27v1m0 30v1m0 33v1m0 20v1m1-52v1m0 11v1m0 35v1m6-81v2m1-7v1m0 8v1m1-9v1m0 6v1m1-48v1m0 5v1m0 34v1m0 5v1m0 26v1m0 8v1m0 26v2m0 6v2m1-124v1m0 42v1m0 7v1m0 22v1m0 15v1m0 19v1m1-111v1m0 49v1m0 39v1m0 35v1m1-93v1m0 41v1m0 12v1m0 21v1m2-75v1m1-18v1m0 10v1m1-17v1m0 8v1m1-12v2m0 4v1m1 30v4m0 30v1m0 6v2m0 26v1m0 7v1m1-85v1m0 13v1m0 73v1m1-102v5m0 6v1m0 14v1m0 23v1m0 15v1m0 18v1m1-111v1m0 7v1m0 16v3m0 48v1m0 11v1m0 35v1m1-116v1m2-6v1m1-9v1m5 2v1m0 3v1m0 108v7m1-122v1m0 91v1m0 16v1m0 18v1m1-71v1m1 13v1m0 22v1m1-1v1m1 11v1m0 22v1m1-88v1m0 31v1m0 33v1m1-57v1m0 28v2m0 1v3m0 26v2m0 7v1m1-74v1m5-9v1m0 6v1m1-9v1m0 8v1m1-2v1m1-50v1m0 48v1m0 24v1m0 11v1m0 23v1m0 11v1m1-126v1m0 41v1m0 9v1m0 38v1m0 35v1m1-125v2m0 4v1m0 40v1m0 24v1m0 15v1m1-58v1m0 11v1m0 32v1m0 8v1m0 25v1m0 9v1m2-101v1m0 11v1m1-17v1m0 9v1m1-16v1m0 7v1m1-9v5m1 37v1m0 25v1m0 11v1m0 22v1m1-76v1m0 14v1m0 22v1m0 15v1m0 18v1m1-87v1m0 4v2m0 5v2m0 12v1m0 24v1m0 14v1m0 35v1m1-129v1m0 78v2m0 7v1m0 26v1m0 8v2m1-131v1m1 13v1m1-6v1m5-2v2m1-5v1m0 4v1m0 71v1m0 10v1m0 22v1m0 12v1m1-119v1m0 8v1m0 76v1m0 14v1m1-109v1m0 34v1m0 7v1m0 6v1m0 8v1m1-55v1m0 28v1m0 24v1m0 35v1m1-59v2m0 56v1m1-87v1m0 46v1m0 16v1m0 20v1m1-52v1m0 10v1m0 55v1m0 16v1m2-80v1m5-8v1m0 8v1m2-47v4m0 35v1m0 5v1m0 29v4m0 32v4m1-77v1m0 6v1m0 23v1m0 35v1m0 13v1m1-127v1m0 10v1m0 39v1m0 75v1m1-92v1m0 74v1m0 14v1m1-9v3m1-94v1m1 6v1m1-17v1m0 8v1m1-14v1m0 7v1m1 101v1m1-43v1m0 13v1m0 20v1m0 14v1m1-91v1m0 38v1m0 15v1m0 18v1m1-109v1m0 21v2m0 2v2m0 9v1m0 7v1m0 63v1m0 13v1m1-130v1m0 12v1m0 71v2m0 32v5m3-121v1m5 0v1m0 2v1m1-1v1m0 84v1m0 18v1m0 16v1m1-105v1m0 15v1m0 15v3m0 36v1m1-92v1m0 42v1m0 48v1m1-1v1m1-54v1m0 14v1m0 14v1m1-30v1m0 30v1m0 54v1m1-51v1m0 32v1m6-69v5m1-8v1m0 8v1m1-9v1m0 6v1m1-42v1m0 34v1m0 5v1m0 25v1m0 9v1m0 26v1m0 8v1m1-73v1m0 22v1m0 15v1m0 19v1m1-111v2m0 7v1m0 28v1m0 10v1m0 40v1m0 35v1m1-93v1m0 11v1m0 29v1m0 12v1m0 21v1m0 12v1m1-95v1m0 11v1m1-19v1m1-5v1m0 10v1m1-17v1m0 8v1"/>
<path stroke="#31c69f" d="m0 48v1m0 32v1m0 8v1m0 25v1m0 8v1m2-99v1m0 10v1m1-16v1m0 8v1m1-15v2m0 4v2m1-7v2m1 30v1m0 6v1m0 27v1m0 9v1m0 24v1m0 9v1m1-86v1m0 72v1m0 14v1m1-101v3m0 8v1m0 52v1m0 20v1m1-113v1m0 8v1m0 69v2m0 5v2m0 27v1m0 7v1m3-121v1m6-4v1m0 2v1m0 74v1m0 6v1m0 25v1m0 9v1m1-124v1m0 5v1m0 68v1m0 52v1m1-128v1m0 22v1m0 17v1m0 8v1m0 21v1m1-69v1m0 53v1m0 12v1m1-36v2m0 33v1m1-64v1m0 33v1m1 10v1m0 72v1m1-76v1m1-9v1m0 3v1m5-7v1m0 6v1m1-8v1m0 6v1m1-6v1m0 2v2m1-41v1m0 34v1m0 3v2m0 61v1m0 11v1m1-125v1m0 48v1m0 24v1m0 15v1m0 19v1m1-75v1m0 10v1m0 27v1m0 13v1m3-68v1m0 10v1m1-16v2m0 6v1m1-13v2m0 3v2m2 35v1m0 25v1m0 11v1m0 22v1m0 12v1m1-89v1m0 88v1m1-123v3m0 19v2m0 11v1m0 7v1m0 28v1m0 12v1m0 35v1m1-129v1m0 119v2m1-127v1m0 15v1m7-8v1m1-4v1m0 75v1m0 12v1m0 20v1m0 14v1m1-127v1m0 6v1m0 3v1m0 62v1m0 33v1m0 20v1m1-126v1m0 30v1m0 8v1m0 3v1m0 58v1m0 22v1m1-59v1m1-31v1m0 14v1m0 49v1m0 22v1m1-118v2m0 40v1m0 37v1m1-51v1m0 35v1m0 9v1m0 22v1m0 12v1m1-75v1m6-10v1m0 6v1m1-7v1m0 4v1m1-46v1m0 2v2m0 36v2m0 1v2m0 28v2m0 4v2m0 29v2m0 2v2m1-112v1m0 33v1m0 5v1m0 38v1m0 21v1m0 13v1m1-125v1m0 7v1m0 29v1m0 9v1m0 24v1m0 35v1m0 14v1m1-80v1m0 41v1m0 23v1m0 11v1m1-94v1m0 10v1m1-18v1m1-5v1m1-6v2m0 5v1m1-9v4m1 66v3m0 1v2m0 29v2m0 3v2m1-83v1m0 36v1m0 13v1m0 20v1m1-75v1m0 52v1m0 20v1m0 14v1m1-50v1m0 9v1m0 24v1m1-118v1m3-4v1m0 1v2m5 4v3m1 0v1m0 69v1m1-77v1m0 36v1m0 3v1m0 11v1m0 40v1m1-90v1m0 53v1m1-25v1m0 22v1m0 13v1m1 0v1m0 20v1m1 33v1m1-86v1m0 40v1m0 31v1m0 4v2m1-80v1m5-1v3m0 1v2m1-7v1m0 6v1m1-7v2m0 3v1m1-48v1m0 6v1m0 34v2m0 2v2m0 26v1m0 35v1m0 9v1m1-124v1m0 9v1m0 31v1m0 7v1m0 23v1m0 35v1m0 14v1m1-122v4m0 29v1m0 10v1m0 61v1m0 14v1m1-47v1m0 6v1m0 27v1m0 7v1m1-94v1m0 10v1m1-7v1m1-15v1m0 7v1m1-14v1m0 5v1m2 25v1m0 7v1m0 27v1m0 9v1m0 24v1m0 10v1m1-87v1m0 72v1m0 14v1m1-102v4m0 9v1m0 10v1m0 61v1m1-104v1m0 70v2m0 3v2m0 28v1m0 6v1m9-123v1m0 2v1m0 73v1m0 8v1m0 35v1m1-125v1m0 5v1m0 10v4m1-20v2m0 21v1m0 48v1m0 33v1m0 22v1m1-59v1m1-34v2m0 31v1m0 34v1m1-90v1m0 24v1m0 64v1m1-32v1m0 13v1m1-40v1m1-9v1m0 2v1m5-6v1m0 6v1m1-8v1m0 6v1m1-6v1m0 2v2m1-50v1m0 8v1m0 34v1m0 3v2m0 38v1m0 34v1m1-125v1m0 39v1m0 8v1m0 24v1m0 15v1m0 19v1m1-64v1m0 27v1m0 13v1m0 21v1m1-80v1m0 10v1m1-17v1m0 10v1m1-17v1m0 9v1m1-15v1m0 6v1m1-12v2m0 3v2m2 24v1m0 10v1m0 60v1m0 12v1m1-89v1m0 13v1m0 74v1m1-124v1m0 2v2m0 18v2m0 12v2m0 3v2m0 29v1m0 12v1m2-98v1m0 15v1m1-4v1m6-5v2m1-5v1m0 75v1m0 48v1m1-127v1m0 6v4m0 63v1m0 33v1m0 20v1m1-126v1m0 39v2m0 1v1m0 11v1m0 47v1m0 22v1m1-59v1m1-66v1m0 99v1m0 22v1m1-76v1m0 37v1m1-51v1m0 45v1m0 23v1m0 11v1m1-75v1m6-10v1m0 6v1m1-7v1m0 4v1m1-47v2m0 3v1m0 36v2m0 1v2m0 27v2m0 6v1m0 28v1m0 5v2m1-123v1m0 9v1m0 32v1m0 6v1m0 38v1m0 21v1m0 13v1m1-124v1m0 71v1m0 35v1m0 14v1m1-49v1m0 10v1m0 23v1m0 10v1m2-99v1m0 10v1m1-16v1m0 8v1m1-15v2m0 4v2"/>
<path stroke="#37c897" d="m0 37v1m0 44v2m0 4v2m0 27v2m0 5v1m1-92v1m0 9v1m1-16v1m0 8v1m1-14v1m0 6v1m1-12v4m2 28v1m0 4v1m0 29v1m0 6v2m0 26v1m0 7v1m1-72v1m0 24v1m0 13v1m1-53v1m0 10v1m0 26v1m0 12v1m0 35v1m1-46v5m0 30v2m0 3v2m1-128v1m0 13v1m1-3v1m7-7v2m0 76v6m0 27v1m0 7v1m1-122v1m0 3v1m0 86v1m0 16v1m1-108v4m0 30v1m0 21v1m0 35v1m1-71v1m0 82v1m0 22v1m1-92v3m0 65v1m0 22v1m1-23v1m0 20v1m1-53v1m0 13v1m0 19v1m1-69v1m1 1v1m0 1v1m5-5v6m1-6v2m0 2v2m1-4v2m1-47v1m0 43v3m0 27v1m0 11v1m0 24v1m0 9v1m1-123v1m0 7v1m0 31v1m0 6v1m0 40v1m0 35v1m1-80v1m0 29v1m0 11v1m0 22v1m0 12v1m1-92v1m0 9v1m1-16v1m0 9v1m1-16v1m0 8v1m1-13v2m0 2v2m1-10v3m2 27v1m0 46v1m0 24v1m0 10v1m1-87v1m0 12v1m0 24v1m0 13v1m0 20v1m1-72v2m0 3v2m0 30v1m0 10v1m0 23v1m0 11v1m1-117v1m2-4v1m1-7v1m6-1v1m0 2v1m0 72v1m0 46v1m1-120v1m0 5v1m0 9v1m0 70v1m1-89v1m0 37v1m0 5v1m0 23v1m1-39v1m0 71v1m0 22v1m1-124v1m1 101v1m1-57v1m0 26v1m0 32v1m1-71v1m6-1v1m0 4v1m1-5v4m1-44v2m0 40v1m0 32v4m0 33v2m1-119v1m0 43v5m0 25v1m0 48v1m1-123v2m0 4v1m0 39v1m0 40v1m1-55v1m0 9v1m0 31v1m0 9v1m0 25v1m0 9v1m2-98v1m0 9v1m1-15v1m0 7v1m1-13v5m2 65v1m0 33v3m1-69v1m0 60v1m0 12v1m1-88v1m0 11v1m0 25v1m1-76v1m0 5v1m0 70v1m0 7v1m0 26v1m0 9v1m1-116v1m1-2v1m1-5v1m1-11v1m6 4v1m0 3v1m0 104v1m0 16v1m1-127v1m0 4v1m0 31v3m0 13v1m0 1v2m0 16v1m0 54v1m1-23v1m0 22v1m1-125v1m0 29v1m0 70v1m0 22v1m1-123v1m0 11v1m0 22v1m0 12v1m1 19v1m0 15v1m0 17v1m1 6v4m1-72v1m5-4v1m1-4v1m0 4v1m1-4v3m1-46v1m0 4v1m0 37v2m0 29v1m0 7v2m0 26v1m0 7v1m1-122v1m0 41v1m0 4v2m0 39v1m0 21v1m1-65v1m0 27v1m0 13v1m0 21v1m1-78v1m0 9v1m0 35v6m0 29v3m0 1v3m1-92v1m1-7v1m1-4v1m0 5v1m1-12v5m2 27v1m0 5v1m0 29v1m0 7v1m0 26v1m0 8v1m1-73v1m0 24v1m0 13v1m1-43v1m0 27v1m0 12v1m0 22v1m0 12v1m1-127v1m0 81v3m0 31v6m1-127v1m0 13v1m1-3v1m1-6v1m6-2v2m0 75v2m0 4v2m0 25v1m0 9v1m1-119v1m0 69v1m0 33v1m0 18v1m1-126v3m0 30v1m0 5v1m0 8v1m0 6v1m0 35v1m1-71v1m0 82v1m0 22v1m1-90v2m0 87v1m1-57v1m0 54v1m1-52v1m0 32v1m0 14v1m1-84v1m1 1v2m5-4v2m0 2v2m1-6v2m0 2v2m1-4v2m1-47v1m0 43v3m0 27v1m0 11v1m0 23v1m1-112v1m0 7v1m0 31v1m0 6v1m0 40v1m0 35v1m1-90v1m0 9v1m0 29v1m0 11v1m0 35v1m2-97v1m0 8v1m1-15v1m1-5v3m0 1v2m1-9v3m2 63v1m0 11v1m0 34v1m1-87v1m0 37v1m0 13v1m0 20v1m1-108v2m0 36v3m0 32v1m0 10v1m0 23v1m0 11v1m1-128v1m0 10v1m3-11v1m6 0v1m0 2v1m0 84v1m0 20v1m1-106v1m0 4v1m0 81v1m1-89v1m0 29v1m0 12v1m0 24v1m1-39v1m0 71v1m0 22v1m1-37v1m1-20v1m0 33v1m1-57v1m0 26v2m0 6v1m0 35v1m1-82v1m6-1v1m0 4v1m1-5v4m1-44v3m0 39v1m0 31v6m0 30v5m1-120v1m0 42v6m0 25v1m0 48v1m1-122v1m0 3v2m0 30v1m0 8v1m0 40v1m1-55v1m0 9v1m0 32v1m0 8v1m0 25v1m0 8v1m1-92v1m0 9v1m1-16v1m0 8v1m1-14v1m0 6v1m1-12v4"/>
<path stroke="#3fca8e" d="m0 47v1m0 36v4m0 31v5m1-90v1m0 7v1m1-7v1m1-12v2m0 2v2m3 22v4m0 31v6m0 29v2m0 3v2m1-83v1m0 37v1m0 11v1m0 22v1m0 12v1m1-87v1m0 8v1m0 28v1m0 10v1m0 23v1m0 11v1m1-125v1m0 6v1m0 109v3m3-119v1m6 110v2m0 3v2m1-120v1m0 1v1m0 71v1m1-71v1m0 34v1m0 10v1m0 4v1m1-23v1m1 6v1m0 14v1m0 36v1m1-77v1m0 55v1m0 18v1m1-16v1m0 11v1m0 35v1m2-81v1m6-2v2m2-46v1m0 5v1m0 67v1m0 9v1m0 26v1m0 7v1m1-121v1m0 5v1m0 33v2m0 2v2m0 27v1m0 35v1m0 12v1m1-88v1m0 74v1m0 10v1m2-95v1m0 7v1m1-14v1m0 6v1m1-10v2m3 23v1m0 7v1m0 27v1m0 44v1m1-74v1m0 38v1m0 22v1m0 12v1m1-84v3m0 33v1m0 8v1m0 25v1m0 9v1m1-126v1m1-6v1m0 13v1m2-10v1m6 1v2m0 74v1m0 9v1m0 22v1m1-112v2m0 1v2m0 7v1m0 61v1m1-52v1m0 33v1m0 35v1m1-37v1m1-16v1m0 29v1m0 20v1m1-20v1m0 52v1m1-48v1m0 5v2m0 25v1m0 9v1m7-81v4m3-48v1m0 6v1m0 66v1m0 11v1m0 23v1m1-109v4m0 32v1m0 6v1m0 27v1m0 35v1m0 12v1m1-47v2m0 6v1m0 27v1m0 7v1m1-91v1m0 8v1m1-15v1m0 7v1m1-13v1m0 5v1m4 15v1m0 36v1m0 11v1m0 34v1m1-76v1m0 27v1m0 11v1m0 22v1m0 12v1m1-124v2m0 1v2m0 72v2m0 4v1m0 28v2m0 5v2m1-127v1m1-5v1m8 6v3m0 72v1m0 13v1m1-90v4m0 1v2m0 14v1m0 31v1m0 52v1m1-85v1m0 10v1m0 8v3m0 26v1m2 34v1m0 20v1m1-76v1m0 72v1m1-76v1m1-9v1m6-1v4m2-45v4m0 70v1m0 5v1m0 29v2m0 3v2m1-120v1m0 6v1m0 34v4m0 27v1m0 12v1m0 35v1m1-87v1m0 7v1m0 29v1m0 11v1m0 35v1m1-7v1m1-80v1m1-15v1m0 7v1m1-12v5m3 22v1m0 3v1m0 31v1m0 4v2m0 28v1m0 5v2m1-84v1m0 37v1m0 11v1m0 22v1m0 12v1m1-87v1m0 7v1m0 29v1m0 10v1m0 35v1m1-118v1m9 71v4m0 28v2m0 6v1m1-122v2m0 1v1m0 87v1m1-87v1m1 28v1m1 21v1m0 36v1m1-85v1m0 44v1m0 37v1m1-4v1m0 21v1m1-62v1m6-7v2m1-2v2m2-46v1m0 5v1m0 67v1m0 9v1m0 25v1m0 9v1m1-122v2m0 4v1m0 33v1m0 3v2m0 27v1m0 35v1m0 12v1m1-88v1m0 39v1m0 9v1m0 24v1m0 10v1m1-91v1m0 8v1m1-14v1m1-6v1m0 6v1m1-10v1m3 23v1m0 8v1m0 27v1m0 9v1m0 24v1m1-64v1m0 38v1m0 22v1m0 12v1m1-48v1m0 8v1m0 25v1m0 9v1m2-131v1m0 13v1m1-4v1m1-8v1m6 2v2m0 73v1m0 10v1m0 35v1m1-125v5m0 6v1m0 9v1m1 1v1m0 18v1m0 5v1m0 8v1m0 35v1m1-89v1m0 51v1m1-16v1m0 29v1m1 18v1m0 35v1m1-47v1m0 3v2m0 26v2m0 7v1m1-74v1m6-7v4m3-48v1m0 6v1m0 66v1m0 11v1m0 23v1m1-109v3m0 33v1m0 6v1m0 27v1m0 35v1m0 12v1m1-46v1m0 5v2m0 27v1m0 6v1m1-90v1m0 7v1m1-7v1m1-12v1m0 4v1"/>
<path stroke="#4acb84" d="m0 38v1m0 7v1m1-12v1m0 5v1m1-13v2m0 4v1m1-9v2m3 96v3m1-80v1m0 9v1m0 37v1m0 24v1m0 10v1m1-85v1m0 6v1m0 30v1m0 34v1m1-113v1m0 4v1m1-12v1m0 11v1m1-3v1m7 108v3m1-117v1m0 106v1m0 16v1m1-121v1m0 29v1m0 2v1m0 12v1m0 2v1m0 17v1m0 33v1m0 20v1m1-124v1m0 51v1m0 14v1m0 20v1m1-52v1m0 29v1m1-30v1m0 10v1m1-12v1m0 8v1m0 58v1m1-62v1m9-50v2m0 1v2m0 69v1m0 6v2m0 28v1m0 5v1m1-119v2m0 2v1m0 36v2m0 30v1m0 11v1m0 23v1m1-75v1m0 6v1m0 31v1m0 9v1m0 25v1m0 8v1m1-89v1m0 7v1m1-13v1m0 5v1m1-12v1m0 4v1m4 23v1m0 29v2m0 5v2m0 26v2m0 6v1m1-84v1m0 37v1m0 46v1m1-46v1m0 6v1m0 27v1m0 7v1m1-116v1m2-4v1m1-8v1m6 79v1m0 7v1m0 24v1m0 10v1m1-122v1m0 105v1m0 18v1m1-123v1m0 29v1m0 5v1m0 7v1m1-45v1m0 66v1m0 20v1m1-39v1m0 51v1m0 20v1m1-86v1m0 47v1m1-49v1m0 37v2m0 1v2m0 28v1m0 7v1m1-80v1m0 5v1m9-50v1m0 4v1m0 68v1m0 9v1m0 25v1m0 9v1m1-83v1m0 3v2m0 29v1m0 11v1m0 23v1m1-77v1m0 7v1m0 35v2m0 2v2m0 29v1m0 4v2m1-89v1m0 6v1m1-13v1m0 5v1m1-11v5m4 26v1m0 27v1m0 9v1m0 24v1m1-75v1m0 48v1m0 24v1m0 10v1m1-121v1m0 76v4m0 31v5m1-114v1m1-2v1m1-5v1m7 84v1m0 20v1m0 14v1m1-118v1m0 83v1m1-88v1m0 36v1m0 3v1m0 10v1m0 35v1m1-72v1m0 13v6m0 30v1m0 20v1m1-21v1m0 18v1m1-50v1m0 32v1m0 13v1m1-48v1m1 0v1m0 2v1m8 29v5m0 32v3m1-117v1m0 4v1m0 67v1m0 35v1m0 10v1m1-85v1m0 5v1m0 41v1m0 24v1m0 10v1m1-89v1m0 7v1m1-13v1m0 6v1m1-13v1m0 5v1m4 17v3m0 33v4m0 31v5m1-71v1m0 62v1m0 10v1m1-85v2m0 4v1m0 31v1m0 8v1m0 25v1m0 9v1m1-124v1m0 5v1m1-12v1m0 11v1m1-3v1m1-6v1m6 112v2m0 2v2m1-119v1m0 72v1m0 50v1m1-91v1m0 3v1m0 10v1m0 4v1m0 16v1m0 33v1m0 20v1m1-124v1m0 51v1m0 14v1m0 20v1m1-52v1m0 29v1m1-57v1m0 26v1m0 64v1m1-66v1m0 8v1m0 25v1m0 9v1m0 35v1m10-124v1m0 3v1m0 69v1m0 7v1m0 27v1m0 6v2m1-119v4m0 35v3m0 30v1m0 11v1m0 23v1m1-68v1m0 32v1m0 7v1m0 26v1m0 8v1m1-89v1m1-5v1m0 4v2m1-12v1m0 3v2m4 16v1m0 36v1m0 7v1m0 26v1m0 8v1m1-85v1m0 37v1m0 46v1m1-46v1m0 5v2m0 27v1m0 7v1m1-125v1m0 8v1m3-16v2m0 1v2m6 79v1m0 32v1m1-38v1m0 33v1m0 18v1m1-123v1m0 29v1m0 5v1m1-7v1m0 36v1m0 20v1m1-74v1m0 34v1m0 51v1m0 20v1m1-86v1m0 9v1m0 21v1m0 33v1m1-67v1m0 38v3m0 30v1m0 5v1m1-79v1m9-44v1m0 4v1m0 78v1m0 25v1m0 9v1m1-83v1m0 3v2m0 29v1m0 11v1m0 23v1m0 10v1m1-88v1m0 7v1m0 35v5m0 30v6m1-88v1m1-7v2m0 4v1m1-10v4"/>
<path stroke="#57cc7a" d="m0 39v1m1-4v1m0 3v1m1-10v4m5 51v1m0 44v1m1-83v2m0 3v1m0 32v1m0 7v1m0 26v1m0 8v1m1-122v4m1-10v1m1-5v1m1 7v1m7 87v1m1-54v2m0 14v2m0 37v1m1-58v1m0 6v4m1-40v1m0 100v1m0 20v1m1-120v1m0 64v1m0 33v1m0 18v1m1-50v1m0 9v1m0 35v1m1-82v1m9-41v1m0 72v3m0 1v2m0 31v5m1-116v2m0 80v1m0 35v1m1-80v1m0 33v2m0 5v2m0 27v1m0 6v1m1-87v1m0 5v1m1-11v5m1-10v4m4 18v1m0 4v1m0 32v2m0 1v2m0 30v1m0 3v2m1-82v1m0 8v1m0 28v1m0 9v1m0 24v1m1-34v2m0 2v2m0 29v1m0 5v1m1-123v1m0 6v1m1-13v1m0 11v1m2-15v5m6 81v1m0 5v1m0 35v1m1-110v1m0 6v1m0 70v1m1-52v1m0 9v1m0 5v1m0 16v1m0 33v1m0 20v1m1-94v1m0 5v2m1-23v1m0 22v1m1 9v1m0 21v1m0 33v1m1-59v1m0 31v1m0 31v1m0 4v2m10-121v4m0 70v1m0 7v1m0 27v1m0 7v1m1-81v3m0 42v1m0 35v1m1-87v1m0 5v1m0 38v2m0 32v4m1-86v1m0 4v1m1-11v5m5 12v1m0 7v1m0 29v1m0 7v1m0 26v1m0 8v1m1-84v1m0 7v1m0 29v1m0 8v1m0 35v1m2-127v1m1-5v1m8 81v1m1-4v1m1-40v1m0 5v1m0 5v1m1-6v1m0 13v1m1-14v1m1 66v1m0 14v1m2-81v2m9-46v4m0 69v1m0 9v1m0 25v1m0 8v1m1-83v1m0 3v1m0 32v1m0 35v1m0 8v1m1-87v1m0 5v1m1-11v2m0 2v2m1-11v5m5 13v1m0 37v1m0 9v1m0 34v1m1-82v4m0 33v1m0 6v1m0 27v1m0 7v1m1-122v1m0 3v1m3-7v1m6 115v2m1-29v1m0 18v1m1-104v1m0 30v3m0 12v4m0 36v1m1-58v1m0 6v3m1-39v1m0 14v1m0 21v1m0 63v1m0 20v1m1-55v1m0 52v1m1-49v1m0 7v1m0 24v1m0 10v1m1-81v1m9-42v3m0 71v1m0 4v2m0 29v3m0 1v2m1-34v1m0 35v1m1-86v1m0 5v1m0 34v1m0 5v1m0 28v2m0 5v1m1-87v1m0 5v1m1-11v4m1-9v3m4 19v1m0 5v1m0 30v2m0 3v2m0 28v1m0 5v2m1-83v1m0 8v1m0 28v1m0 9v1m0 24v1m1-34v5m0 30v2m0 3v2m1-123v1m0 6v1m1-13v1m0 11v1m1-4v1m1-10v1m6 82v1m0 7v1m0 24v1m0 10v1m1-112v1m0 78v1m1-52v1m0 8v1m0 6v1m0 50v1m0 20v1m1-93v1m0 4v2m1 0v1m0 29v1m1 52v1m1-76v1m0 64v5m1-73v1m9-48v4m0 69v1m0 8v1m0 27v1m0 7v1m1-81v3m0 32v1m0 9v1m1-45v1m1-10v1m0 4v1m1-11v4"/>
<path stroke="#64cd6f" d="m0 40v1m0 4v1m1-9v3m6 9v1m0 7v1m0 29v1m0 6v2m0 26v1m0 7v1m1-80v3m0 34v1m0 4v2m0 28v1m0 5v2m2-117v1m1-3v1m1-6v1m7 74v1m0 33v1m0 14v1m1-119v1m0 14v1m1 18v1m0 4v1m0 9v1m0 50v1m0 20v1m1-108v1m0 21v1m0 11v1m1-40v1m0 74v1m1-13v1m0 7v1m0 24v1m0 10v1m1-75v1m9 29v1m1-6v1m0 8v1m0 26v1m0 8v1m1-84v2m0 1v2m0 36v2m0 1v2m0 30v2m0 2v2m1-85v1m0 3v1m6 8v4m0 35v1m0 33v3m1-41v1m0 7v1m0 26v1m0 8v1m1-42v2m0 32v5m1-121v1m0 4v1m2-3v1m7 75v5m0 27v2m0 6v1m1-108v1m0 60v1m0 50v1m1-121v1m0 29v1m0 2v1m0 52v1m1-57v1m0 2v2m0 2v2m0 11v1m0 50v1m0 20v1m1-56v1m0 18v1m1-3v1m0 35v1m1-11v4m1-76v1m0 3v1m9 27v1m0 5v1m0 29v2m0 3v2m1-45v1m0 8v1m0 26v1m0 8v1m1-85v1m0 3v1m1-8v4m6 8v1m0 37v1m0 4v2m0 28v1m0 5v2m1-82v1m0 5v1m0 31v1m0 6v1m0 27v1m0 7v1m2-125v1m0 7v1m1-2v1m1-5v1m7 84v1m0 22v1m0 12v1m1-116v1m0 98v1m0 18v1m1-88v1m0 7v1m0 7v1m0 50v1m0 20v1m1-86v1m0 63v1m0 20v1m1-75v1m0 53v1m0 18v1m1-76v1m0 24v1m0 11v1m1-40v1m10 24v1m0 7v1m0 27v1m0 6v1m1-81v3m0 34v1m0 6v2m0 27v1m0 6v1m1-85v1m0 3v1m1-8v2m6 10v1m0 7v1m0 29v1m0 7v1m0 26v1m1-35v2m0 2v2m0 29v1m0 5v1m1-120v3m1-9v1m0 9v1m1-15v1m0 11v1m1-13v1m0 5v1m7 75v1m1-70v1m1 33v1m0 3v1m0 10v1m0 50v1m0 20v1m1-74v1m1-46v1m0 4v1m0 75v1m1-12v1m0 5v1m0 26v1m1-65v1m9 27v4m0 34v1m1-42v1m0 8v1m0 26v1m0 8v1m1-84v1m0 2v2m0 36v5m0 31v5m1-85v1m0 3v1m6 8v1m0 2v2m0 33v3m0 31v5m1-73v1m0 30v1m0 7v1m0 26v1m0 8v1m1-7v3m10-42v1m0 4v2m0 26v1m0 8v1m1-103v1m0 54v1m1-40v1m0 13v1m0 22v1m1-37v4m0 2v1m0 12v1m0 50v1m0 20v1m1-122v1m0 84v1m1-17v1m0 13v1m2-47v1m0 2v1m9 27v2m0 5v1m0 29v1m0 4v2m1-36v1m0 26v1m0 8v1m1-86v1m0 4v1m1-8v4"/>
<path stroke="#72cd64" d="m0 41v4m7 5v1m0 5v1m0 31v2m0 3v1m0 29v2m0 4v1m1-41v4m0 31v5m2-124v1m0 7v1m1-13v1m1-2v2m0 4v1m7 88v1m1-16v1m0 33v1m0 18v1m1-92v1m0 2v2m0 32v1m1-30v1m0 28v1m0 18v1m1-49v1m0 8v1m0 55v1m1-66v1m0 6v1m0 28v1m0 5v1m0 26v1m1-70v1m10 30v1m0 6v1m0 28v2m0 5v1m1-81v1m0 40v1m0 34v2m1-82v3m7 6v1m0 6v1m0 31v1m0 4v2m0 28v1m0 5v2m2-122v2m0 1v1m1-10v1m0 9v1m1-14v1m0 9v1m7 110v1m0 4v1m1-106v1m0 3v1m0 70v1m0 18v1m1-73v2m0 12v2m0 1v2m1-19v2m1-32v1m0 36v1m1-1v1m0 31v1m0 33v1m1-67v1m1 0v3m9 29v5m0 32v3m1-42v2m0 5v1m0 28v2m0 5v1m1-83v3m7 6v1m0 4v1m0 32v4m0 31v5m1-79v1m0 3v1m0 33v2m0 2v2m0 29v2m0 4v1m2-117v1m1-12v1m1-3v1m0 7v1m7 75v1m0 8v1m0 35v1m1-33v1m1-56v1m0 2v1m0 33v1m0 18v1m1-87v1m0 37v1m0 28v1m0 18v1m1-85v1m0 9v1m0 25v1m0 29v1m1-31v1m0 43v1m0 22v1m0 12v1m1-81v1m10 31v1m0 4v2m0 29v2m0 3v1m1-42v2m0 2v2m0 30v2m0 2v2m1-83v3m7 12v1m0 31v2m0 3v2m0 28v2m0 4v2m1-41v2m0 32v5m2-116v1m1-13v1m1-1v1m0 3v1m7 89v1m0 20v1m0 14v1m1-104v1m0 51v1m0 33v1m0 18v1m1-92v1m0 2v2m0 5v1m0 26v1m1-30v1m0 28v1m0 18v1m1-82v1m0 32v1m0 8v1m0 21v1m0 33v1m0 16v1m1-83v1m0 6v1m0 29v2m0 1v2m0 28v1m0 7v1m1-79v1m0 3v1m10 26v1m0 6v1m0 28v2m0 5v1m1-82v2m1-5v3m6 10v2m1-6v1m0 5v1m0 32v2m0 3v2m0 28v1m0 5v2m2-123v2m0 2v2m1-11v1m0 9v1m1-14v1m0 9v1m7 76v4m0 29v1m0 6v1m1-109v1m0 95v1m0 16v1m1-121v1m0 30v3m0 11v1m0 3v1m0 36v1m1-71v1m0 21v1m1-1v1m0 9v1m0 53v1m0 18v1m1-84v1m0 65v1m0 14v1m1-82v1m0 5v1m1-6v2m9 30v5m0 31v4m1-42v2m0 5v1m0 28v2m0 4v2m1-84v4"/>
<path stroke="#81cc59" d="m7 51v1m0 3v1m0 34v3m0 32v4m3-123v1m1 4v1m1-10v4m7 77v1m0 33v1m0 12v1m1-117v1m0 82v1m1-55v2m0 8v1m0 44v1m2-83v1m0 4v1m0 59v1m0 50v1m1-46v5m0 28v1m0 7v1m1-78v1m0 2v1m10 27v3m0 1v2m0 31v5m9-74v1m0 4v1m0 33v4m0 31v5m2-118v1m1-8v1m1-4v1m7 120v4m1-104v3m0 57v1m1-24v1m0 54v1m0 18v1m1-106v1m0 22v1m0 27v1m0 18v1m1-39v1m0 53v1m0 18v1m1-76v1m0 36v1m0 35v1m1-76v1m11 26v5m0 31v5m8-72v4m1-5v3m0 36v2m0 33v4m2-122v1m0 4v1m1-1v1m1-12v1m0 5v1m7 77v1m0 32v1m1-103v1m0 10v1m0 53v1m0 50v1m1-121v1m0 30v2m0 10v1m0 5v1m1-1v1m1 35v1m1-14v1m0 33v1m1-64v1m10 27v4m0 33v3m1-39v2m0 34v2m8-72v2m0 3v1m0 34v3m0 32v4m3-124v1m1 5v1m1-10v3m7 78v1m2-41v2m0 8v1m0 44v1m1 15v1m1-97v3m0 75v1m1-8v1m0 31v1m0 4v2m1-77v3m10 28v2m0 2v2m0 31v5m9-74v2m0 2v1m0 35v3m0 31v5m2-119v2m2-11v1m0 7v1m7 111v1m0 3v2m1-107v1m0 4v1m0 70v1m1-39v3m0 53v1m0 18v1m1-83v1m0 9v1m0 17v1m0 18v1m1-19v1m1-23v1m0 24v1m0 11v1m12-13v5m0 31v4"/>
<path stroke="#8fcb4e" d="m7 52v3m3-48v1m0 4v1m1-11v1m8 81v1m0 9v1m2-83v1m0 41v1m0 6v1m1-11v1m0 8v1m0 53v1m0 18v1m1-117v1m0 78v1m1-46v1m0 69v1m0 4v2m1-76v2m10 31v1m9-35v4m3-50v1m0 6v1m1-11v1m0 6v1m8 106v1m0 14v1m1-119v1m0 14v1m0 51v1m1-69v1m0 39v1m0 8v1m1 18v1m0 16v1m1-15v1m1-33v1m22-44v4m1-9v1m0 7v1m1-10v1m0 3v1m7 79v1m0 4v2m0 26v1m0 8v1m1-14v1m1-60v1m0 3v1m0 53v1m0 18v1m1-83v1m0 62v1m0 18v1m1-75v1m0 21v1m0 33v1m0 16v1m1-82v1m0 5v1m0 27v1m0 7v1m0 35v1m1-79v1m0 2v1m19-3v3m3-49v1m0 5v1m1-11v1m0 7v1m8 83v1m0 22v1m0 12v1m1-117v1m0 82v1m1-86v1m0 48v1m1-11v1m0 8v1m0 72v1m1-52v1m0 33v1m1-66v1m0 4v1m0 65v4m11-42v2m9-34v2m3-50v1m0 7v1m1-11v1m0 5v1m7 113v3m1-104v1m0 2v1m0 57v1m0 48v1m1-52v1m1-69v1m0 39v1m1-28v1m0 71v1m1 19v1m0 12v1m1-80v1m0 3v1"/>
<path stroke="#9dc943" d="m10 8v4m1-9v1m0 6v1m8 82v1m0 24v1m0 10v1m1-115v1m0 65v1m0 33v1m0 16v1m1-105v1m0 26v1m0 4v1m0 19v1m0 33v1m0 18v1m1-54v1m0 16v1m1-80v3m0 30v1m0 6v1m0 23v1m0 33v1m0 14v1m1-76v1m0 65v4m23-120v1m0 4v1m1-9v1m0 4v1m8 74v1m0 11v1m1 1v1m1-45v1m0 60v1m0 18v1m1-83v1m0 7v1m1-9v1m0 42v1m0 22v1m0 12v1m1-79v1m0 2v1m23-52v1m0 5v1m1-8v3m7 81v4m0 29v1m0 6v1m1-111v1m0 78v1m1-69v1m0 28v3m0 20v1m1-21v1m0 19v1m1-66v1m0 35v1m0 44v1m1-11v1m0 5v1m0 26v1m0 8v1m1-77v2m22-47v2m0 1v2m1-9v1m0 5v1m8 74v1m1-4v1m0 33v1m0 16v1m1-105v1m0 25v1m0 59v1m0 18v1m1-121v1m0 66v1m0 16v1m1-47v1m0 6v1m0 72v1m24-127v1m0 5v1m1-9v1m0 3v1m8 14v2m0 71v1m0 20v1m1-104v1m0 14v1m0 68v1m1 16v1m0 18v1m1-83v1m0 7v1m0 55v1m1-65v1m0 5v1m0 26v1m0 9v1m1-43v1m0 1v1"/>
<path stroke="#abc739" d="m11 4v1m0 3v2m8 75v1m0 6v1m1-66v1m0 68v1m1 0v1m1-85v1m0 38v1m1 42v1m1-44v1m0 2v1m23-49v4m1-7v4m8 109v1m0 12v1m1-16v1m0 16v1m1-73v1m0 19v1m0 16v1m1-73v1m0 55v1m0 33v1m0 16v1m1-76v1m0 26v1m1-32v2m23-50v1m0 3v1m8 111v1m0 4v1m1-109v1m0 7v1m0 55v1m0 33v1m0 14v1m1-35v1m1-71v1m0 24v1m0 44v1m1-75v1m0 34v1m1-7v1m0 3v1m0 30v5m0 28v1m0 6v1m23-119v1m1-6v1m0 3v1m8 76v1m0 7v1m0 24v1m0 10v1m1-115v1m1 39v1m0 4v1m0 19v1m0 16v1m1-72v1m0 25v1m0 6v1m1 23v1m0 11v1m1-44v1m0 2v1m23-50v2m0 1v2m1-7v3m8 76v1m2-31v1m0 6v1m0 19v1m0 16v1m1-84v1m0 66v1m0 50v1m1-40v1m0 24v1m0 10v1m1-77v1"/>
<path stroke="#b9c431" d="m11 5v3m8 78v2m0 3v1m0 27v1m0 8v1m1-47v1m1-27v4m1-34v1m0 32v1m0 55v1m0 16v1m1-81v1m0 4v1m0 25v1m0 33v1m1-65v2m32 29v1m0 9v1m1-81v1m0 66v1m1-28v1m0 4v1m1-46v1m0 37v1m0 43v1m1-45v1m0 3v1m0 28v1m0 7v1m0 24v1m0 10v1m24-124v3m8 113v4m1-31v1m1-83v1m0 101v1m0 16v1m1-80v1m0 5v1m1-8v1m0 29v1m0 33v1m0 14v1m1-79v1m0 1v1m0 65v1m0 4v1m24-122v3m8 78v1m0 5v1m0 26v1m0 8v1m1-102v1m0 68v1m1-41v1m0 2v1m1 21v1m0 33v1m0 16v1m1-81v1m0 4v1m0 59v1m0 12v1m1-78v2m23-47v1m9 85v1m0 22v1m0 12v1m1-50v1m0 33v1m0 16v1m1-79v1m1-3v1m0 5v1m0 37v1m1-45v1m0 3v1m0 28v1"/>
<path stroke="#c5c22a" d="m19 88v3m0 29v1m0 6v1m1-112v1m0 99v1m0 14v1m1-51v1m0 33v1m0 16v1m1-80v1m0 27v1m0 14v1m1-44v1m0 40v1m0 35v1m33-38v1m0 24v1m0 10v1m1-34v1m1-42v1m0 59v1m0 16v1m1-75v1m1-6v1m0 1v1m0 36v1m0 26v1m33-101v1m0 5v1m0 57v1m1-3v1m1-69v1m0 67v1m0 33v1m0 16v1m1-117v1m0 5v1m0 34v1m0 37v1m1-42v1m0 67v4m32-39v1m0 3v1m1-10v1m0 33v1m0 14v1m1-75v2m0 56v1m0 16v1m1-80v1m0 4v1m0 37v1m1-44v1m0 2v1m0 27v1m0 9v1m33-11v1m1-71v1m0 81v1m1-42v1m0 3v1m0 55v1m0 16v1m1-109v1m0 57v1m0 33v1m0 14v1m1-79v3m0 30v1m0 4v2m0 26v1m0 8v1"/>
<path stroke="#d1bf27" d="m19 121v1m0 3v2m1-32v1m1-83v1m0 82v1m1-43v1m0 3v1m1-5v3m0 27v1m0 33v1m33-34v1m1-4v1m0 33v1m0 14v1m1-119v1m0 42v3m0 22v1m0 14v1m1-44v1m0 3v1m0 24v1m0 33v1m0 14v1m1-78v1m0 31v2m0 3v1m0 36v1m33-109v1m0 73v1m0 22v1m0 12v1m1-35v1m1-43v1m0 3v1m0 37v1m1-44v1m0 2v1m0 26v1m0 33v1m0 12v1m33-43v3m0 29v1m0 6v1m1-112v1m0 78v1m1-83v1m0 67v1m0 14v1m1-43v1m1-1v2m0 37v1m0 24v1m0 10v1m33-45v1m0 7v1m0 24v1m0 10v1m2-117v1m0 13v1m0 28v3m0 22v1m0 14v1m1-44v1m0 3v1m0 37v1m1-9v4m0 29v1m0 6v1"/>
<path stroke="#dcbd29" d="m19 122v3m1-108v1m0 8v1m0 56v1m0 33v1m0 12v1m2-76v3m0 24v1m0 33v1m0 14v1m1-39v1m0 35v1m33-44v1m0 5v1m0 26v1m0 8v1m1-114v1m0 11v1m1-1v1m1-4v1m0 29v3m0 38v1m1-8v3m0 29v1m0 6v1m33-107v4m0 59v1m2-30v3m1-41v1m0 3v1m0 32v2m0 38v1m33 26v2m0 2v2m1-44v1m2-70v1m0 40v3m0 24v1m0 33v1m0 14v1m1-47v1m33 6v1m0 35v1m1-102v1m0 54v1m0 33v1m0 14v1m2-117v1m0 38v3m1 64v1m0 4v1"/>
<path stroke="#e6bb2d" d="m20 18v1m0 75v1m1-68v1m0 54v1m0 33v1m0 14v1m1-118v1m0 80v1m1-11v1m0 6v1m0 26v1m0 8v1m33-42v2m0 1v2m0 28v1m0 6v1m1-33v1m1 20v1m0 14v1m1-117v1m0 67v1m0 33v1m0 12v1m1-10v2m0 2v2m33-34v1m0 24v1m0 10v1m1-116v1m0 12v1m0 54v1m0 33v1m0 14v1m1-106v1m0 55v1m0 33v1m0 14v1m1-114v3m0 63v1m0 33v1m33 4v2m1-108v1m0 8v1m0 90v1m0 12v1m1-104v1m0 54v1m0 33v1m0 14v1m1-107v1m0 69v1m1-10v1m0 5v1m0 26v1m0 8v1m33-43v1m0 4v1m0 27v1m1-105v1m0 79v1m1 20v1m0 14v1m1-109v1m0 59v1m0 33v1m0 12v1m1-9v4"/>
<path stroke="#f0ba36" d="m20 25v1m0 58v1m1 10v1m1-71v1m1 60v1m0 4v1m33-3v1m0 31v1m0 4v1m1-44v1m0 33v1m0 12v1m1-49v1m0 12v1m1-73v1m0 70v1m1 28v2m33-40v1m1 9v1m1-1v1m1-3v1m0 35v1m34-46v1m0 9v1m1 0v1m1 21v1m1-31v1m0 2v2m0 28v1m0 6v1m33-41v4m0 29v1m0 6v1m1-45v1m0 33v1m0 12v1m1-49v1m0 12v1m1-80v1m0 77v1"/>
<path stroke="#f8ba3d" d="m20 19v1m0 73v1m0 24v1m0 10v1m1-116v1m1 68v1m0 33v1m0 12v1m1-44v4m0 29v1m0 6v1m33-6v4m1-110v1m0 9v1m0 67v1m1-81v1m1 1v1m0 67v1m34 1v1m0 5v1m0 26v1m0 8v1m1-46v1m0 33v1m0 12v1m1-117v1m1 70v1m0 6v1m0 26v1m34-102v1m0 6v1m0 92v1m0 10v1m1-116v1m1 68v1m0 10v1m0 35v1m1-43v2m0 31v1m0 4v1m33-6v1m0 4v1m1-111v1m0 77v1m1-81v1m1 7v1m0 61v1m0 33v1m0 10v1"/>
<path stroke="#febe3c" d="m20 20v5m0 60v1m0 42v1m1-46v1m0 33v1m0 12v1m1-116v1m0 8v1m0 69v1m1 26v1m0 4v1m34-110v1m0 66v1m0 33v1m0 10v1m1-104v1m0 56v1m0 33v1m0 12v1m1-109v1m0 70v1m0 24v1m0 10v1m34-43v2m0 1v2m0 28v1m0 6v1m1-113v1m0 78v1m1-12v1m0 10v1m0 22v1m0 12v1m1-45v1m0 41v1m34-110v2m0 3v1m0 60v1m0 7v1m1-11v1m0 33v1m0 12v1m1-116v1m0 8v1m1 97v4m33-4v4m1-100v1m0 57v1m1-59v1m0 56v1m0 33v1m0 12v1m1-114v2m0 2v1m0 71v1"/>
<path stroke="#fec338" d="m20 86v1m0 5v1m0 26v1m1-105v1m0 10v1m0 67v1m1-11v1m0 33v1m0 10v1m1-8v4m34-108v1m0 6v1m0 67v1m1-79v1m0 78v1m1-78v5m0 63v1m34 3v1m0 31v1m0 4v1m1-111v1m0 9v1m0 57v1m1-70v1m0 9v1m1 61v2m0 1v2m0 28v1m0 6v1m34-107v3m0 68v1m0 26v1m0 8v1m1-114v1m0 10v1m0 67v1m1-79v1m0 6v1m0 60v1m0 8v1m0 24v1m0 10v1m35-113v1m0 7v1m0 67v1m0 24v1m0 10v1m1-115v1m0 78v1m1-76v2m0 64v1m0 6v1m0 26v1m0 8v1"/>
<path stroke="#fec934" d="m20 87v1m0 2v2m0 28v1m0 6v1m1-112v2m0 7v1m0 58v1m0 33v1m0 10v1m1-114v3m0 2v3m0 69v1m35-75v6m0 60v1m0 33v1m0 8v1m1-113v1m0 8v1m0 58v1m0 33v1m1-33v1m0 5v1m0 26v1m0 8v1m34-7v4m1-109v2m0 6v1m0 67v1m0 24v1m0 10v1m1-114v1m0 7v1m0 59v1m0 33v1m0 10v1m1-41v1m0 31v1m0 4v1m34-41v1m0 4v1m1-76v1m0 8v1m0 58v1m0 33v1m0 10v1m1-113v6m0 62v1m35-68v7m0 60v1m1-70v1m0 8v1m0 58v1m0 33v1m0 10v1m1-44v1m0 4v1"/>
<path stroke="#fccf30" d="m20 88v2m0 31v1m0 4v1m1-109v7m0 68v1m1-75v2m0 64v1m0 6v1m0 26v1m0 8v1m35-43v1m0 5v1m1-76v8m0 68v1m0 35v1m1-43v1m0 3v1m0 28v1m0 6v1m35-109v6m0 60v1m1-69v7m0 69v1m1 28v4m34-39v4m0 29v1m0 6v1m1-111v8m0 68v1m1-2v1m0 26v1m0 8v1m35-37v1m0 26v1m0 8v1m1-112v8m0 68v1m1-7v2m0 1v1m0 29v1m0 6v1"/>
<path stroke="#fad62d" d="m20 122v4m1-41v1m0 33v1m0 8v1m1-43v1m35 0v1m0 3v1m0 28v1m0 6v1m1-43v1m1 2v3m0 30v1m0 4v1m35-35v1m0 26v1m0 8v1m1-44v1m0 6v1m0 26v1m0 8v1m35-8v1m0 4v1m1-42v1m0 33v1m1-34v1m0 4v1m35-6v1m0 4v1m0 28v1m0 6v1m1-43v1m1 3v1m0 31v1m0 4v1"/>
<path stroke="#f7dc2a" d="m21 86v1m0 5v1m1-6v1m0 2v2m0 28v1m0 6v1m35-40v3m0 30v1m0 4v1m1-35v1m0 26v1m0 8v1m1-7v1m0 2v1m35-40v1m0 4v1m0 28v1m0 6v1m1-42v1m35 35v4m1-40v1m0 5v1m0 35v1m1-42v4m0 29v1m0 6v1m35-41v4m1 1v1m0 26v1m0 8v1m1-7v4"/>
<path stroke="#f5e327" d="m21 87v1m0 3v1m0 28v1m0 6v1m1-40v2m0 31v1m0 4v1m35-5v4m1-40v1m0 4v1m0 28v1m0 6v1m1-5v2m35-38v4m1-4v1m0 2v2m0 28v1m0 6v1m36-41v1m0 3v1m0 28v1m0 6v1m1-7v1m0 4v1m35-6v2m0 2v2m1-41v2m0 3v1m0 28v1m0 6v1"/>
<path stroke="#f5e924" d="m21 88v3m0 30v1m0 4v1m1-5v4m36-39v4m0 30v1m0 4v1m36-6v2m0 2v2m1-39v2m0 31v1m0 4v1m36-39v3m0 30v1m0 4v1m1-5v4m35-3v2m1-37v3m0 30v1m0 4v1"/>
<path stroke="#f6ef20" d="m21 122v4m37-4v4m36-3v2m1-3v4m36-4v4m37-4v4"/>
</g>
</g></g>
<rect x="514.7" y="247" width="10.3" height="133.5" fill="url(#pg)" stroke="#4a4a30" stroke-opacity=".7" stroke-width=".6"/>
<text class="t" x="529.1" y="264.25" font-size="10.4">0.6</text>
<text class="t" x="529.1" y="284.55" font-size="10.4">0.5</text>
<text class="t" x="529.1" y="304.75" font-size="10.4">0.4</text>
<text class="t" x="529.1" y="325.05" font-size="10.4">0.3</text>
<text class="t" x="529.1" y="345.25" font-size="10.4">0.2</text>
<text class="t" x="529.1" y="365.45" font-size="10.4">0.1</text>
<text class="t" x="322.7" y="264.269" font-size="10.4" text-anchor="end">15</text>
<text class="t" x="322.7" y="298.066" font-size="10.4" text-anchor="end">10</text>
<text class="t" x="322.7" y="331.864" font-size="10.4" text-anchor="end">5</text>
<text class="t" x="322.7" y="365.661" font-size="10.4" text-anchor="end">0</text>
<text class="t" x="359.286" y="396.25" font-size="10.4" text-anchor="middle">-10</text>
<text class="t" x="417.6" y="396.25" font-size="10.4" text-anchor="middle">0</text>
<text class="t" x="475.914" y="396.25" font-size="10.4" text-anchor="middle">10</text>
<text class="t" x="417.6" y="412.8" font-size="11.4" text-anchor="middle">x<tspan dy="5.9" font-size="9.5">1</tspan></text>
<text class="t" transform="translate(299,314.25) rotate(-90)" font-size="11.4" text-anchor="middle">t<tspan dy="6.1" font-size="10">1</tspan></text>
<text class="t" x="417.6" y="235.8" font-size="12.2" font-weight="bold" text-anchor="middle" fill="#000">|S<tspan dy="5.7" font-size="10.6">2</tspan><tspan dy="-5.7" font-size="12.2">|</tspan></text>
<text class="s" x="423.3" y="435.5" font-size="11.6" text-anchor="middle">(<tspan font-weight="bold" font-size="12.6">d</tspan>)</text>
</svg>
</body></html>
